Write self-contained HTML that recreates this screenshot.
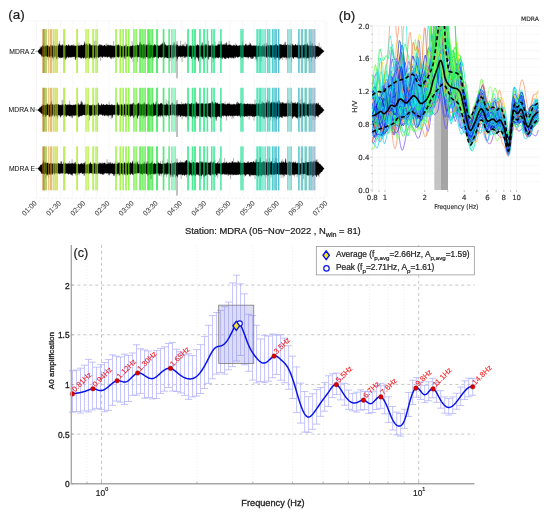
<!DOCTYPE html>
<html><head><meta charset="utf-8"><title>HVSR figure</title>
<style>html,body{margin:0;padding:0;background:#fff;width:550px;height:512px;overflow:hidden}svg{display:block}</style>
</head><body>
<svg width="550" height="512" viewBox="0 0 550 512">
<rect width="550" height="512" fill="#fff"/>
<text x="8.2" y="18.9" font-family="'Liberation Sans', Arial, sans-serif" font-size="13.5" fill="#222" stroke="#222" stroke-width="0.22">(a)</text>
<g stroke="#f2f2f2" stroke-width="0.6" fill="none">
<path d="M25,21.1 H324.7 V198"/>
<path d="M36.5,21 V197"/>
<path d="M48.6,21 V197"/>
<path d="M60.7,21 V197"/>
<path d="M72.8,21 V197"/>
<path d="M84.9,21 V197"/>
<path d="M97,21 V197"/>
<path d="M109.1,21 V197"/>
<path d="M121.2,21 V197"/>
<path d="M133.3,21 V197"/>
<path d="M145.4,21 V197"/>
<path d="M157.5,21 V197"/>
<path d="M169.6,21 V197"/>
<path d="M181.7,21 V197"/>
<path d="M193.8,21 V197"/>
<path d="M205.9,21 V197"/>
<path d="M218,21 V197"/>
<path d="M230.1,21 V197"/>
<path d="M242.2,21 V197"/>
<path d="M254.3,21 V197"/>
<path d="M266.4,21 V197"/>
<path d="M278.5,21 V197"/>
<path d="M290.6,21 V197"/>
<path d="M302.7,21 V197"/>
<path d="M314.8,21 V197"/>
<path d="M326.9,21 V197"/>
</g>
<path d="M35.7,198 H325.5" stroke="#c8c8c8" stroke-width="0.8" stroke-dasharray="0.8,3.2" fill="none"/>
<path d="M37.6,51.3 38.1,50.78 38.6,50.28 39.1,49.62 39.6,49.22 40.1,48.5 40.6,48.44 41.1,47.25 41.6,47.27 42.1,46.71 42.6,45.29 43.1,46.3 43.6,46.54 44.1,45.9 44.6,46.66 45.1,46.15 45.6,45.65 46.1,46.39 46.6,45.25 47.1,45.75 47.6,45.31 48.1,46.6 48.6,45.77 49.1,46.56 49.6,46.64 50.1,46.6 50.6,44.71 51.1,46.28 51.6,44.86 52.1,46.57 52.6,45.38 53.1,46.21 53.6,45.76 54.1,45.86 54.6,45.61 55.1,45.79 55.6,46.41 56.1,45.64 56.6,45.87 57.1,46.25 57.6,46.22 58.1,46.23 58.6,45.17 59.1,43.4 59.6,45 60.1,44.81 60.6,45.41 61.1,46.07 61.6,45.59 62.1,44.35 62.6,45.47 63.1,45.07 63.6,46.09 64.1,45.64 64.6,46 65.1,45.56 65.6,46.13 66.1,45.6 66.6,44.93 67.1,45.62 67.6,46.06 68.1,45.84 68.6,44.41 69.1,45.23 69.6,45.78 70.1,46.13 70.6,45.52 71.1,45.31 71.6,45.15 72.1,45.62 72.6,45.74 73.1,44.55 73.6,45.89 74.1,46.2 74.6,45.16 75.1,45.64 75.6,45.94 76.1,45.88 76.6,45.96 77.1,44.77 77.6,45.73 78.1,45.81 78.6,45.73 79.1,45.9 79.6,45.79 80.1,44.89 80.6,45.89 81.1,45.44 81.6,44.7 82.1,45.16 82.6,45.73 83.1,45.07 83.6,45.36 84.1,44.62 84.6,42.45 85.1,45.04 85.6,44.31 86.1,45.24 86.6,43.88 87.1,43.52 87.6,45.26 88.1,44.67 88.6,45.41 89.1,43.34 89.6,44.77 90.1,43.85 90.6,45.44 91.1,45.18 91.6,45.53 92.1,45.53 92.6,45.08 93.1,45.3 93.6,44.85 94.1,45.8 94.6,45.89 95.1,44.97 95.6,45.76 96.1,45.25 96.6,45.19 97.1,45.94 97.6,46.08 98.1,45.66 98.6,46.12 99.1,44.49 99.6,45.29 100.1,45.99 100.6,44.47 101.1,45.61 101.6,44.85 102.1,45.72 102.6,45.66 103.1,45.72 103.6,46.28 104.1,45.07 104.6,45.31 105.1,45.14 105.6,46.32 106.1,46.13 106.6,46.22 107.1,45.49 107.6,45.37 108.1,45.84 108.6,44.76 109.1,45.59 109.6,45.72 110.1,45.12 110.6,45.13 111.1,46.1 111.6,45.36 112.1,46.2 112.6,45.59 113.1,45.92 113.6,45.71 114.1,46.2 114.6,45.88 115.1,45.96 115.6,45.01 116.1,45.54 116.6,44.81 117.1,45.7 117.6,45.39 118.1,44.37 118.6,45.14 119.1,45.13 119.6,46.23 120.1,45.9 120.6,44.98 121.1,45.88 121.6,46.51 122.1,46.5 122.6,45.96 123.1,46.24 123.6,46.19 124.1,46.54 124.6,45.78 125.1,45.71 125.6,45.63 126.1,44.2 126.6,46.48 127.1,46.69 127.6,46.36 128.1,46.3 128.6,46.19 129.1,46.44 129.6,46.54 130.1,46.63 130.6,45.65 131.1,46.03 131.6,46.24 132.1,46.05 132.6,45.32 133.1,45.63 133.6,45.57 134.1,46.23 134.6,45.84 135.1,45.58 135.6,45.48 136.1,45.35 136.6,45.72 137.1,44.7 137.6,44.9 138.1,45.2 138.6,45.5 139.1,45.11 139.6,44.12 140.1,41.72 140.6,44.75 141.1,44.2 141.6,45.01 142.1,44.8 142.6,45.76 143.1,44.95 143.6,44.16 144.1,43.71 144.6,45.51 145.1,45.72 145.6,45.54 146.1,45.75 146.6,44.97 147.1,44.36 147.6,45.67 148.1,44.92 148.6,44.31 149.1,45.41 149.6,45.85 150.1,45.55 150.6,45.02 151.1,45.36 151.6,45.06 152.1,45.18 152.6,45.84 153.1,45.31 153.6,45.71 154.1,45.74 154.6,44.19 155.1,44.78 155.6,45.24 156.1,45.97 156.6,46.03 157.1,44.7 157.6,45.6 158.1,45.33 158.6,45.92 159.1,45.91 159.6,45.69 160.1,44.86 160.6,45.9 161.1,43.82 161.6,45.22 162.1,43.99 162.6,42.73 163.1,45.31 163.6,44.52 164.1,45.74 164.6,42.12 165.1,44.85 165.6,44.65 166.1,45.59 166.6,45.69 167.1,45.69 167.6,45.71 168.1,44.97 168.6,45.23 169.1,45.57 169.6,44.79 170.1,45.33 170.6,45.19 171.1,44.84 171.6,44.71 172.1,45.81 172.6,45.97 173.1,44.8 173.6,44.49 174.1,42.02 174.6,45.73 175.1,45.51 175.6,45.91 176.1,44 176.6,46.11 177.1,44.99 177.6,44.82 178.1,45.55 178.6,46.27 179.1,46.38 179.6,45.58 180.1,46.32 180.6,45.46 181.1,45.4 181.6,46.21 182.1,46.36 182.6,45.22 183.1,44.18 183.6,45.92 184.1,45.96 184.6,46.15 185.1,46.59 185.6,46.49 186.1,46.45 186.6,43.77 187.1,46.57 187.6,44.16 188.1,46.1 188.6,46.49 189.1,46.02 189.6,45.94 190.1,45.09 190.6,45.99 191.1,46.33 191.6,46.06 192.1,45.37 192.6,46.25 193.1,45.52 193.6,45.92 194.1,46.05 194.6,46.03 195.1,46.12 195.6,44.79 196.1,45.99 196.6,45.43 197.1,45.4 197.6,44.37 198.1,45.67 198.6,44.83 199.1,45.92 199.6,45.68 200.1,46.05 200.6,46.23 201.1,45.37 201.6,45.86 202.1,42.17 202.6,46.07 203.1,46.13 203.6,45.41 204.1,46.06 204.6,45.27 205.1,45.4 205.6,45.26 206.1,44.1 206.6,45.44 207.1,45.06 207.6,46.15 208.1,45.89 208.6,44.67 209.1,46.17 209.6,45.81 210.1,45.13 210.6,46.25 211.1,44.96 211.6,45.38 212.1,44.3 212.6,45.4 213.1,45.67 213.6,45.82 214.1,45.86 214.6,45.81 215.1,45.69 215.6,45.64 216.1,45.84 216.6,45.64 217.1,45.72 217.6,45.27 218.1,43.91 218.6,45.11 219.1,45.6 219.6,43.96 220.1,45.21 220.6,43.63 221.1,41.26 221.6,44.68 222.1,44.82 222.6,45.37 223.1,43.8 223.6,45.15 224.1,44.84 224.6,44.9 225.1,43.29 225.6,45.35 226.1,44.81 226.6,42.17 227.1,45.58 227.6,45.49 228.1,44.57 228.6,45.62 229.1,44.66 229.6,44.74 230.1,44.83 230.6,44.86 231.1,45.47 231.6,45.47 232.1,45.87 232.6,45.67 233.1,45.75 233.6,44.91 234.1,44.81 234.6,45.43 235.1,46 235.6,46 236.1,45.32 236.6,44.69 237.1,45.54 237.6,46.09 238.1,45.9 238.6,45.92 239.1,45.34 239.6,46.06 240.1,45.17 240.6,45.41 241.1,45.51 241.6,45.8 242.1,44.51 242.6,44.99 243.1,45.64 243.6,44.96 244.1,45.8 244.6,45.86 245.1,45.1 245.6,43.82 246.1,45.94 246.6,44.65 247.1,45.5 247.6,45.94 248.1,44.57 248.6,45.74 249.1,45.2 249.6,44.97 250.1,45.15 250.6,43.16 251.1,45.21 251.6,45.72 252.1,45.78 252.6,46.17 253.1,45.77 253.6,45.55 254.1,46.04 254.6,45.45 255.1,45.26 255.6,46.36 256.1,45.69 256.6,45.19 257.1,46.5 257.6,46 258.1,45.76 258.6,45.9 259.1,46.2 259.6,45.44 260.1,46.04 260.6,46.38 261.1,46.52 261.6,46.11 262.1,46.25 262.6,45.03 263.1,46.24 263.6,46.68 264.1,43.85 264.6,46.61 265.1,46.63 265.6,45.87 266.1,45.89 266.6,46.56 267.1,45.15 267.6,45.99 268.1,45.59 268.6,44.93 269.1,46.36 269.6,45.42 270.1,45 270.6,45.33 271.1,45.58 271.6,45.19 272.1,45.81 272.6,45.38 273.1,45.41 273.6,45.49 274.1,45.29 274.6,45.55 275.1,45.02 275.6,44.76 276.1,44.15 276.6,44.09 277.1,45.53 277.6,45.59 278.1,45.78 278.6,45.65 279.1,45.76 279.6,43.98 280.1,44.81 280.6,44.33 281.1,44.86 281.6,44.56 282.1,45.14 282.6,45.08 283.1,44.97 283.6,44.58 284.1,45.57 284.6,44.63 285.1,41.72 285.6,45.47 286.1,44.98 286.6,45.03 287.1,45.01 287.6,44.19 288.1,44.64 288.6,45.13 289.1,44.76 289.6,45.28 290.1,45.66 290.6,45.23 291.1,44.28 291.6,45.64 292.1,45.96 292.6,43.77 293.1,45.87 293.6,44.9 294.1,45.86 294.6,45.86 295.1,44.66 295.6,44.08 296.1,45.69 296.6,45.06 297.1,45.71 297.6,45.16 298.1,45 298.6,45.64 299.1,44.66 299.6,45.06 300.1,45.54 300.6,45.38 301.1,45.44 301.6,44.89 302.1,44.67 302.6,45.37 303.1,45.07 303.6,45.39 304.1,45.63 304.6,44.32 305.1,45.6 305.6,44.39 306.1,45.13 306.6,45.47 307.1,43.8 307.6,45.74 308.1,45.72 308.6,45.76 309.1,45.55 309.6,45.65 310.1,45.15 310.6,45.84 311.1,45.64 311.6,46.1 312.1,43.04 312.6,46.06 313.1,46.19 313.6,46.23 314.1,46.02 314.6,45.96 315.1,45.06 315.6,46.1 316.1,46.31 316.6,46.3 317.1,46.24 317.6,46.03 318.1,46.44 318.6,46.57 319.1,47.13 319.6,47.68 320.1,47.36 320.6,48.3 321.1,48.45 321.6,48.96 322.1,49.62 322.6,49.73 323.1,50.31 323.6,50.82 324.1,51.19 L324.1,51.38 323.6,51.85 323.1,52.31 322.6,52.6 322.1,52.94 321.6,53.47 321.1,54.16 320.6,54.35 320.1,55.48 319.6,55.68 319.1,55.81 318.6,56.74 318.1,56.74 317.6,56.21 317.1,56.13 316.6,56.7 316.1,56.4 315.6,59.19 315.1,57.03 314.6,57.49 314.1,56.85 313.6,56.8 313.1,56.35 312.6,57.57 312.1,57.66 311.6,57.23 311.1,57.42 310.6,56.9 310.1,57.22 309.6,56.91 309.1,58.6 308.6,57.82 308.1,57.5 307.6,57.77 307.1,57.97 306.6,58.66 306.1,57.57 305.6,57.59 305.1,57.02 304.6,57.11 304.1,58.84 303.6,57.11 303.1,57.78 302.6,57.95 302.1,57.57 301.6,57.79 301.1,57.1 300.6,58.36 300.1,57.95 299.6,57.9 299.1,59.14 298.6,58.34 298.1,58.85 297.6,57.52 297.1,57.23 296.6,56.95 296.1,57.61 295.6,56.9 295.1,57.27 294.6,57.02 294.1,57.04 293.6,58.43 293.1,58.43 292.6,57.26 292.1,56.82 291.6,56.85 291.1,57.6 290.6,56.81 290.1,57.44 289.6,57.48 289.1,58.92 288.6,57.01 288.1,57.87 287.6,57.86 287.1,57.64 286.6,57.56 286.1,57.44 285.6,57.39 285.1,56.98 284.6,57.32 284.1,58.01 283.6,56.8 283.1,57.31 282.6,56.8 282.1,57.48 281.6,57.46 281.1,58.38 280.6,58.14 280.1,58.34 279.6,57.1 279.1,60.37 278.6,58.57 278.1,56.94 277.6,57.63 277.1,57.02 276.6,58.08 276.1,56.89 275.6,56.71 275.1,59.77 274.6,57.69 274.1,57.34 273.6,57.22 273.1,56.76 272.6,56.74 272.1,57.74 271.6,57.72 271.1,56.8 270.6,56.92 270.1,56.61 269.6,57.84 269.1,57.02 268.6,56.39 268.1,56.33 267.6,57.14 267.1,57.6 266.6,57.47 266.1,56.43 265.6,56.64 265.1,56.32 264.6,57.13 264.1,56.27 263.6,56.33 263.1,56.37 262.6,56.25 262.1,56.91 261.6,56.8 261.1,55.94 260.6,56.28 260.1,56.5 259.6,56.71 259.1,56.56 258.6,56.95 258.1,56.26 257.6,56.83 257.1,57.4 256.6,56.96 256.1,59.64 255.6,56.75 255.1,56.53 254.6,56.48 254.1,56.36 253.6,56.78 253.1,58.55 252.6,57.33 252.1,59.02 251.6,56.47 251.1,58.98 250.6,57.09 250.1,57.54 249.6,56.87 249.1,56.65 248.6,57.21 248.1,57.94 247.6,56.73 247.1,57.02 246.6,57.41 246.1,56.76 245.6,57.16 245.1,56.91 244.6,56.67 244.1,57.14 243.6,56.53 243.1,57.28 242.6,57.46 242.1,57.63 241.6,57.46 241.1,57.19 240.6,56.39 240.1,56.43 239.6,56.62 239.1,56.81 238.6,57.27 238.1,56.41 237.6,57.76 237.1,56.89 236.6,56.39 236.1,56.69 235.6,58.12 235.1,56.56 234.6,56.57 234.1,58.47 233.6,57.17 233.1,58.46 232.6,57.72 232.1,57.11 231.6,57.18 231.1,58.56 230.6,57.04 230.1,57.76 229.6,57.08 229.1,57.73 228.6,58.54 228.1,57.92 227.6,58.07 227.1,57.32 226.6,57.59 226.1,58.56 225.6,58.38 225.1,58.93 224.6,58.46 224.1,58.09 223.6,57.74 223.1,57.1 222.6,57.19 222.1,58.81 221.6,57.12 221.1,58.23 220.6,57.76 220.1,57.36 219.6,56.98 219.1,57.6 218.6,58.33 218.1,57.38 217.6,57.17 217.1,58.12 216.6,57 216.1,57.62 215.6,58.42 215.1,56.65 214.6,57.94 214.1,57 213.6,59.03 213.1,57.2 212.6,57.21 212.1,57.89 211.6,56.77 211.1,56.83 210.6,56.66 210.1,56.96 209.6,57.18 209.1,56.35 208.6,59.7 208.1,56.36 207.6,58.05 207.1,56.64 206.6,56.36 206.1,56.93 205.6,58.28 205.1,56.81 204.6,56.56 204.1,57.44 203.6,59.64 203.1,57.45 202.6,57.13 202.1,59.46 201.6,56.71 201.1,56.35 200.6,56.53 200.1,56.92 199.6,57.5 199.1,56.66 198.6,60.84 198.1,57.28 197.6,57.35 197.1,57.98 196.6,56.62 196.1,57.39 195.6,57.56 195.1,59.99 194.6,56.58 194.1,56.69 193.6,56.97 193.1,56.38 192.6,57.7 192.1,56.83 191.6,59.19 191.1,57.39 190.6,56.61 190.1,56.61 189.6,56.78 189.1,56.84 188.6,56.2 188.1,56.32 187.6,56.31 187.1,56.7 186.6,56.99 186.1,56.04 185.6,56.48 185.1,57.61 184.6,55.99 184.1,58.08 183.6,56.03 183.1,56.11 182.6,56.95 182.1,56 181.6,56.38 181.1,57.07 180.6,57.47 180.1,56.4 179.6,56.62 179.1,56.07 178.6,57.03 178.1,56.69 177.6,57.67 177.1,59.33 176.6,56.31 176.1,56.61 175.6,57.08 175.1,56.96 174.6,56.51 174.1,57.11 173.6,57.38 173.1,57.7 172.6,57.81 172.1,56.69 171.6,58.19 171.1,57.2 170.6,57.36 170.1,57.91 169.6,57.51 169.1,58.19 168.6,58.33 168.1,57.61 167.6,57.92 167.1,58.04 166.6,57.82 166.1,57.01 165.6,57.13 165.1,57.42 164.6,58.33 164.1,57.05 163.6,57.15 163.1,56.94 162.6,56.86 162.1,57.4 161.6,57.71 161.1,56.84 160.6,57.57 160.1,57.12 159.6,57.03 159.1,56.73 158.6,58.39 158.1,57.99 157.6,57.06 157.1,57.25 156.6,56.91 156.1,57.18 155.6,56.86 155.1,56.64 154.6,56.67 154.1,57.83 153.6,56.88 153.1,57.59 152.6,57.74 152.1,57.45 151.6,56.67 151.1,56.94 150.6,58.35 150.1,57.61 149.6,58.61 149.1,57.55 148.6,58.73 148.1,56.77 147.6,58.12 147.1,57.08 146.6,57.09 146.1,56.9 145.6,57.14 145.1,58.96 144.6,56.89 144.1,57.28 143.6,58.13 143.1,58.78 142.6,57.42 142.1,56.93 141.6,57.35 141.1,58.01 140.6,57.24 140.1,57.58 139.6,57.03 139.1,56.93 138.6,56.78 138.1,56.71 137.6,57.58 137.1,56.51 136.6,56.55 136.1,56.48 135.6,56.59 135.1,57.05 134.6,56.74 134.1,57.47 133.6,57.07 133.1,56.38 132.6,57.37 132.1,57.2 131.6,59 131.1,56.46 130.6,56.47 130.1,57.85 129.6,56.15 129.1,55.93 128.6,56.72 128.1,56.13 127.6,56.37 127.1,56.44 126.6,57.33 126.1,56.43 125.6,56.18 125.1,59.36 124.6,56.68 124.1,56.11 123.6,57.73 123.1,56.25 122.6,56.61 122.1,57.1 121.6,56.33 121.1,57.81 120.6,56.34 120.1,56.23 119.6,57.03 119.1,56.31 118.6,57.75 118.1,56.71 117.6,57.16 117.1,56.51 116.6,56.54 116.1,56.7 115.6,56.81 115.1,57.01 114.6,57.14 114.1,57.46 113.6,56.4 113.1,58.47 112.6,56.67 112.1,57.29 111.6,57.34 111.1,59.16 110.6,57.74 110.1,57.26 109.6,57.27 109.1,56.37 108.6,57.15 108.1,56.6 107.6,57.3 107.1,57.45 106.6,56.81 106.1,56.39 105.6,56.73 105.1,57.27 104.6,56.47 104.1,56.44 103.6,56.55 103.1,56.58 102.6,57.98 102.1,56.71 101.6,57.08 101.1,56.26 100.6,56.42 100.1,56.84 99.6,56.82 99.1,57.41 98.6,57.38 98.1,57.47 97.6,57.11 97.1,57.22 96.6,56.85 96.1,58.63 95.6,56.7 95.1,56.94 94.6,58.47 94.1,57.07 93.6,57.49 93.1,57.88 92.6,57.56 92.1,57.86 91.6,57.35 91.1,58.33 90.6,57.15 90.1,57.22 89.6,57.86 89.1,58.86 88.6,58.57 88.1,57.1 87.6,57.71 87.1,58.1 86.6,58.21 86.1,57.77 85.6,59.3 85.1,57.35 84.6,57.32 84.1,58.08 83.6,58.21 83.1,58.25 82.6,57.14 82.1,57.51 81.6,57.76 81.1,58.8 80.6,57.71 80.1,57.54 79.6,57.51 79.1,57.1 78.6,57.5 78.1,56.93 77.6,57.3 77.1,56.82 76.6,57.83 76.1,57.03 75.6,60.1 75.1,56.44 74.6,56.59 74.1,56.98 73.6,56.64 73.1,57.26 72.6,56.41 72.1,57.18 71.6,56.96 71.1,56.72 70.6,57.5 70.1,56.63 69.6,57.38 69.1,56.75 68.6,57.93 68.1,57.05 67.6,56.93 67.1,56.44 66.6,58.43 66.1,57 65.6,59.65 65.1,57.7 64.6,57.68 64.1,56.59 63.6,57.23 63.1,57.49 62.6,57.19 62.1,57.44 61.6,57.49 61.1,57.98 60.6,57.05 60.1,57.95 59.6,57.45 59.1,57.27 58.6,56.58 58.1,56.94 57.6,57.02 57.1,58.22 56.6,59.21 56.1,56.99 55.6,56.85 55.1,56.33 54.6,56.68 54.1,57.61 53.6,58.79 53.1,56.54 52.6,56.52 52.1,57.88 51.6,55.98 51.1,56.5 50.6,56.39 50.1,55.93 49.6,57.6 49.1,56.05 48.6,56.1 48.1,57.37 47.6,56.86 47.1,56.44 46.6,56.06 46.1,56.59 45.6,55.94 45.1,56.02 44.6,57.08 44.1,56.02 43.6,57 43.1,57.03 42.6,55.97 42.1,56.21 41.6,55.24 41.1,55.17 40.6,54.3 40.1,54.01 39.6,53.39 39.1,53.67 38.6,52.63 38.1,51.83 37.6,51.3 Z" fill="#000" stroke="#000" stroke-width="0.25"/>
<path d="M38.6,51.6 L39.1,49.23 L39.6,53.53 L40.1,46.75 L40.6,48.52 L41.1,45.89 L41.6,57.35 L42.1,45.95 L42.6,51.83 L43.1,48.73 L43.6,42.66 L44.1,49.68 L44.6,54.48 L45.1,50.42 L45.6,55.82 L46.1,49.56 L46.6,51.33 L47.1,49.45 L47.6,52.95 L48.1,60.41 L48.6,53.04 L49.1,52.23 L49.6,48.33 L50.1,47.67 L50.6,58.33 L51.1,45.96 L51.6,46.92 L52.1,50.83 L52.6,49.25 L53.1,60.69 L53.6,40.8 L54.1,53.03 L54.6,54.72 L55.1,45.92 L55.6,48.21 L56.1,53.38 L56.6,59.12 L57.1,46.88 L57.6,43.72 L58.1,55.97 L58.6,58.61 L59.1,49.69 L59.6,40.8 L60.1,58.27 L60.6,50.35 L61.1,56.69 L61.6,51.09 L62.1,49.5 L62.6,49.13 L63.1,58.37 L63.6,58.19 L64.1,41.04 L64.6,46.81 L65.1,59.83 L65.6,49.54 L66.1,44.77 L66.6,51.32 L67.1,50.78 L67.6,50.83 L68.1,49 L68.6,49.81 L69.1,49.11 L69.6,52.9 L70.1,47.4 L70.6,49.91 L71.1,50.61 L71.6,57.57 L72.1,53.09 L72.6,50.77 L73.1,53.87 L73.6,53.25 L74.1,56.52 L74.6,53.73 L75.1,59.91 L75.6,57.75 L76.1,51.1 L76.6,49.31 L77.1,55.54 L77.6,53.78 L78.1,50.85 L78.6,44.21 L79.1,42.5 L79.6,52.97 L80.1,55 L80.6,55.16 L81.1,45.12 L81.6,56.28 L82.1,48.74 L82.6,53.16 L83.1,53.3 L83.6,47.45 L84.1,48.46 L84.6,41.35 L85.1,46.9 L85.6,42.65 L86.1,53.4 L86.6,51.59 L87.1,55.69 L87.6,53.01 L88.1,48.25 L88.6,52.96 L89.1,49.43 L89.6,54.22 L90.1,52.81 L90.6,46.55 L91.1,51.31 L91.6,51.57 L92.1,49.82 L92.6,55.6 L93.1,59.52 L93.6,49.53 L94.1,49.62 L94.6,40.8 L95.1,50.68 L95.6,49.21 L96.1,40.93 L96.6,52.68 L97.1,54.14 L97.6,47.78 L98.1,49.51 L98.6,46.66 L99.1,54.96 L99.6,44.02 L100.1,49.8 L100.6,60.67 L101.1,51.55 L101.6,53.55 L102.1,50.6 L102.6,45.66 L103.1,51.14 L103.6,53.25 L104.1,46.39 L104.6,52.94 L105.1,57.28 L105.6,56.43 L106.1,43.7 L106.6,46.62 L107.1,43.55 L107.6,56.44 L108.1,54.23 L108.6,54.68 L109.1,47.08 L109.6,45.7 L110.1,51.67 L110.6,51.78 L111.1,47.2 L111.6,51.98 L112.1,54.39 L112.6,52.39 L113.1,46.31 L113.6,41.16 L114.1,50.06 L114.6,52.09 L115.1,50.05 L115.6,49.24 L116.1,47.98 L116.6,54.74 L117.1,51.05 L117.6,51.89 L118.1,46.64 L118.6,48.32 L119.1,52.09 L119.6,46.47 L120.1,45.26 L120.6,49.72 L121.1,57.06 L121.6,52.22 L122.1,58.31 L122.6,50.67 L123.1,49.81 L123.6,44.62 L124.1,48.53 L124.6,58.19 L125.1,52.87 L125.6,54.82 L126.1,54.68 L126.6,51.25 L127.1,50.32 L127.6,51.87 L128.1,54.52 L128.6,53.5 L129.1,53.66 L129.6,52.04 L130.1,47.6 L130.6,50.04 L131.1,46.78 L131.6,56.12 L132.1,41.21 L132.6,50.25 L133.1,61.8 L133.6,49.66 L134.1,45.85 L134.6,51.21 L135.1,57.49 L135.6,50.53 L136.1,54.24 L136.6,51.78 L137.1,49.51 L137.6,61.8 L138.1,51.64 L138.6,48.72 L139.1,48.95 L139.6,53.13 L140.1,53.26 L140.6,55.01 L141.1,51.98 L141.6,44.43 L142.1,53.85 L142.6,49.82 L143.1,49.93 L143.6,44.18 L144.1,48.55 L144.6,47.81 L145.1,51.12 L145.6,44.32 L146.1,51.54 L146.6,51.9 L147.1,45.93 L147.6,48.3 L148.1,47.18 L148.6,55.66 L149.1,40.8 L149.6,49.65 L150.1,43.33 L150.6,49.23 L151.1,55.36 L151.6,48.27 L152.1,51.96 L152.6,47.25 L153.1,60.61 L153.6,55.68 L154.1,56.71 L154.6,44.92 L155.1,46.01 L155.6,56.48 L156.1,50.37 L156.6,50.06 L157.1,52.9 L157.6,45.28 L158.1,55.01 L158.6,51.39 L159.1,53.6 L159.6,48.08 L160.1,53.76 L160.6,47.92 L161.1,55.88 L161.6,56.72 L162.1,55.68 L162.6,53.78 L163.1,54.34 L163.6,40.8 L164.1,55.31 L164.6,49.98 L165.1,51.76 L165.6,49.94 L166.1,44.62 L166.6,48.71 L167.1,54.46 L167.6,58.1 L168.1,48.31 L168.6,46.96 L169.1,58.27 L169.6,47.06 L170.1,61.25 L170.6,51.54 L171.1,47.06 L171.6,56.02 L172.1,59.43 L172.6,44.41 L173.1,58.78 L173.6,49.95 L174.1,58.43 L174.6,49.47 L175.1,43.73 L175.6,53.71 L176.1,55.75 L176.6,61.36 L177.1,59.57 L177.6,54.64 L178.1,50.16 L178.6,48.8 L179.1,49.88 L179.6,47.31 L180.1,49.98 L180.6,40.8 L181.1,52.16 L181.6,51.16 L182.1,61.8 L182.6,54.94 L183.1,48.99 L183.6,54.01 L184.1,45.42 L184.6,48.41 L185.1,42.34 L185.6,58.19 L186.1,54.15 L186.6,45.66 L187.1,51.01 L187.6,55.86 L188.1,53.68 L188.6,53.13 L189.1,47.18 L189.6,48.24 L190.1,51.76 L190.6,55.72 L191.1,47.32 L191.6,45.92 L192.1,56.79 L192.6,46.83 L193.1,56.47 L193.6,52.47 L194.1,55.53 L194.6,59.67 L195.1,54.61 L195.6,55.02 L196.1,46.89 L196.6,47.96 L197.1,54.39 L197.6,58.66 L198.1,57.98 L198.6,61.8 L199.1,52.79 L199.6,52.27 L200.1,56.13 L200.6,51.39 L201.1,51 L201.6,46.27 L202.1,56.06 L202.6,46.15 L203.1,53.76 L203.6,44.49 L204.1,56.56 L204.6,46.36 L205.1,55.35 L205.6,43.67 L206.1,49.19 L206.6,56.96 L207.1,47.43 L207.6,51.62 L208.1,49 L208.6,40.8 L209.1,52.78 L209.6,53.37 L210.1,45.98 L210.6,54.05 L211.1,47.48 L211.6,46.48 L212.1,51.33 L212.6,48.03 L213.1,61.8 L213.6,43.84 L214.1,54.84 L214.6,56.05 L215.1,41.8 L215.6,42.98 L216.1,54 L216.6,48.99 L217.1,53.14 L217.6,56.77 L218.1,49.51 L218.6,46.19 L219.1,40.8 L219.6,52.28 L220.1,46.84 L220.6,52.8 L221.1,52.41 L221.6,44.65 L222.1,59.57 L222.6,56.5 L223.1,55.37 L223.6,45.61 L224.1,49.34 L224.6,48.67 L225.1,49.31 L225.6,45.9 L226.1,53.39 L226.6,52.4 L227.1,53.05 L227.6,48.87 L228.1,57.5 L228.6,52.2 L229.1,40.8 L229.6,48.23 L230.1,51.03 L230.6,55.93 L231.1,49.86 L231.6,50.1 L232.1,48.12 L232.6,54.49 L233.1,49.15 L233.6,48.4 L234.1,47.74 L234.6,53.97 L235.1,48.74 L235.6,43.26 L236.1,54.29 L236.6,47.93 L237.1,53.01 L237.6,53.09 L238.1,57.08 L238.6,56.31 L239.1,48.54 L239.6,50.5 L240.1,45.11 L240.6,59.35 L241.1,53.42 L241.6,57.99 L242.1,49.77 L242.6,41.46 L243.1,58.65 L243.6,51.75 L244.1,51.94 L244.6,51.57 L245.1,54.39 L245.6,53.86 L246.1,43.67 L246.6,56.52 L247.1,48.76 L247.6,49.06 L248.1,59.59 L248.6,55.72 L249.1,49.68 L249.6,42.39 L250.1,52.08 L250.6,53.89 L251.1,50.91 L251.6,45.32 L252.1,47.5 L252.6,45.27 L253.1,52.33 L253.6,55.23 L254.1,56.22 L254.6,47.79 L255.1,52.43 L255.6,53.96 L256.1,48.85 L256.6,50.59 L257.1,61.49 L257.6,52.28 L258.1,55.54 L258.6,49.21 L259.1,51.5 L259.6,43.07 L260.1,51.18 L260.6,57.02 L261.1,61.37 L261.6,57.04 L262.1,54.6 L262.6,51.55 L263.1,48.42 L263.6,50.53 L264.1,54.24 L264.6,47.53 L265.1,55.78 L265.6,46.58 L266.1,42.76 L266.6,46.44 L267.1,43.31 L267.6,44.71 L268.1,56.73 L268.6,50.34 L269.1,52.35 L269.6,56.86 L270.1,57.34 L270.6,48.88 L271.1,57.68 L271.6,53.15 L272.1,51.32 L272.6,53.42 L273.1,44.46 L273.6,47.53 L274.1,50.78 L274.6,54.23 L275.1,49.51 L275.6,50.69 L276.1,55.95 L276.6,58.08 L277.1,54.98 L277.6,57.39 L278.1,49.36 L278.6,49.83 L279.1,52.83 L279.6,49.85 L280.1,48.87 L280.6,59.23 L281.1,50.33 L281.6,46.66 L282.1,53.64 L282.6,60.11 L283.1,51.69 L283.6,57.21 L284.1,49.2 L284.6,48.94 L285.1,47.99 L285.6,50.61 L286.1,60.11 L286.6,45.75 L287.1,59.16 L287.6,46.46 L288.1,50.18 L288.6,55.31 L289.1,54.33 L289.6,52.65 L290.1,43.38 L290.6,53.04 L291.1,46.39 L291.6,61.8 L292.1,50.28 L292.6,52.21 L293.1,45.8 L293.6,49 L294.1,45.1 L294.6,56.01 L295.1,50.04 L295.6,54 L296.1,48.01 L296.6,48.89 L297.1,57.48 L297.6,46.64 L298.1,42.65 L298.6,53.25 L299.1,45.82 L299.6,49.19 L300.1,55.68 L300.6,47.37 L301.1,55.52 L301.6,48.03 L302.1,58.46 L302.6,57.66 L303.1,49.04 L303.6,50.28 L304.1,47.31 L304.6,52.26 L305.1,56.82 L305.6,44.36 L306.1,55.7 L306.6,44.95 L307.1,47.17 L307.6,42.72 L308.1,61.4 L308.6,51.58 L309.1,52.47 L309.6,48.05 L310.1,56.42 L310.6,41.2 L311.1,51.43 L311.6,61.8 L312.1,49.47 L312.6,51.38 L313.1,54.53 L313.6,47.41 L314.1,51.41 L314.6,55.91 L315.1,52.23 L315.6,53.08 L316.1,49.62 L316.6,52.81 L317.1,51.57 L317.6,58.28 L318.1,54.72 L318.6,50.24 L319.1,42.66 L319.6,53.85 L320.1,53.7 L320.6,48.74 L321.1,46.5 L321.6,49 L322.1,52.81 L322.6,49.98 L323.1,50.91" fill="none" stroke="#000" stroke-width="0.3" stroke-opacity="0.55"/>
<path d="M177,41.3 V78.3" stroke="#333" stroke-width="0.6"/>
<rect x="42.4" y="29.099999999999998" width="0.5" height="43.9" fill="#cd8521" fill-opacity="0.5"/>
<path d="M42.52,29.1V73M42.77,29.1V73" stroke="#cd8521" stroke-opacity="0.45" stroke-width="0.25"/>
<rect x="42.9" y="29.099999999999998" width="1.2" height="43.9" fill="#de3b00" fill-opacity="0.5"/>
<path d="M43.2,29.1V73M43.8,29.1V73" stroke="#de3b00" stroke-opacity="0.45" stroke-width="0.6"/>
<rect x="44.1" y="29.099999999999998" width="2.6" height="43.9" fill="#85a205" fill-opacity="0.5"/>
<path d="M44.5,29.1V73M46.3,29.1V73" stroke="#85a205" stroke-opacity="0.45" stroke-width="0.8"/>
<rect x="48.1" y="29.099999999999998" width="0.8" height="43.9" fill="#dba22f" fill-opacity="0.5"/>
<path d="M48.3,29.1V73M48.7,29.1V73" stroke="#dba22f" stroke-opacity="0.45" stroke-width="0.4"/>
<rect x="49.8" y="29.099999999999998" width="2.4" height="43.9" fill="#de9321" fill-opacity="0.5"/>
<path d="M50.2,29.1V73M51.8,29.1V73" stroke="#de9321" stroke-opacity="0.45" stroke-width="0.8"/>
<rect x="53" y="29.099999999999998" width="3" height="43.9" fill="#b0de2f" fill-opacity="0.5"/>
<path d="M53.4,29.1V73M55.6,29.1V73" stroke="#b0de2f" stroke-opacity="0.45" stroke-width="0.8"/>
<rect x="56.2" y="29.099999999999998" width="1.7" height="43.9" fill="#cad813" fill-opacity="0.5"/>
<path d="M56.6,29.1V73M57.5,29.1V73" stroke="#cad813" stroke-opacity="0.45" stroke-width="0.8"/>
<rect x="63.2" y="29.099999999999998" width="2.1" height="43.9" fill="#a2de05" fill-opacity="0.5"/>
<path d="M63.6,29.1V73M64.9,29.1V73" stroke="#a2de05" stroke-opacity="0.45" stroke-width="0.8"/>
<rect x="76.3" y="29.099999999999998" width="1.7" height="43.9" fill="#a2e305" fill-opacity="0.5"/>
<path d="M76.7,29.1V73M77.6,29.1V73" stroke="#a2e305" stroke-opacity="0.45" stroke-width="0.8"/>
<rect x="85.4" y="29.099999999999998" width="3.5" height="43.9" fill="#a9ec21" fill-opacity="0.5"/>
<path d="M85.8,29.1V73M88.5,29.1V73" stroke="#a9ec21" stroke-opacity="0.45" stroke-width="0.8"/>
<rect x="92.3" y="29.099999999999998" width="1.8" height="43.9" fill="#9bec1a" fill-opacity="0.5"/>
<path d="M92.7,29.1V73M93.7,29.1V73" stroke="#9bec1a" stroke-opacity="0.45" stroke-width="0.8"/>
<rect x="95.3" y="29.099999999999998" width="2.7" height="43.9" fill="#9bec1a" fill-opacity="0.5"/>
<path d="M95.7,29.1V73M97.6,29.1V73" stroke="#9bec1a" stroke-opacity="0.45" stroke-width="0.8"/>
<rect x="115.2" y="29.099999999999998" width="1.6" height="43.9" fill="#85f213" fill-opacity="0.5"/>
<path d="M115.6,29.1V73M116.4,29.1V73" stroke="#85f213" stroke-opacity="0.45" stroke-width="0.8"/>
<rect x="119.5" y="29.099999999999998" width="1.5" height="43.9" fill="#85f213" fill-opacity="0.5"/>
<path d="M119.88,29.1V73M120.62,29.1V73" stroke="#85f213" stroke-opacity="0.45" stroke-width="0.75"/>
<rect x="122.4" y="29.099999999999998" width="1.6" height="43.9" fill="#7ef213" fill-opacity="0.5"/>
<path d="M122.8,29.1V73M123.6,29.1V73" stroke="#7ef213" stroke-opacity="0.45" stroke-width="0.8"/>
<rect x="125.2" y="29.099999999999998" width="1.6" height="43.9" fill="#77f213" fill-opacity="0.5"/>
<path d="M125.6,29.1V73M126.4,29.1V73" stroke="#77f213" stroke-opacity="0.45" stroke-width="0.8"/>
<rect x="128" y="29.099999999999998" width="1.5" height="43.9" fill="#70f213" fill-opacity="0.5"/>
<path d="M128.38,29.1V73M129.12,29.1V73" stroke="#70f213" stroke-opacity="0.45" stroke-width="0.75"/>
<rect x="133.3" y="29.099999999999998" width="3.9" height="43.9" fill="#5aec21" fill-opacity="0.5"/>
<path d="M133.7,29.1V73M136.8,29.1V73" stroke="#5aec21" stroke-opacity="0.45" stroke-width="0.8"/>
<rect x="139.3" y="29.099999999999998" width="2.2" height="43.9" fill="#21e305" fill-opacity="0.5"/>
<path d="M139.7,29.1V73M141.1,29.1V73" stroke="#21e305" stroke-opacity="0.45" stroke-width="0.8"/>
<rect x="142.2" y="29.099999999999998" width="3.6" height="43.9" fill="#37e621" fill-opacity="0.5"/>
<path d="M142.6,29.1V73M145.4,29.1V73" stroke="#37e621" stroke-opacity="0.45" stroke-width="0.8"/>
<rect x="147.3" y="29.099999999999998" width="1.4" height="43.9" fill="#1ae305" fill-opacity="0.5"/>
<path d="M147.65,29.1V73M148.35,29.1V73" stroke="#1ae305" stroke-opacity="0.45" stroke-width="0.7"/>
<rect x="148.7" y="29.099999999999998" width="4.4" height="43.9" fill="#13e313" fill-opacity="0.5"/>
<path d="M149.1,29.1V73M152.7,29.1V73" stroke="#13e313" stroke-opacity="0.45" stroke-width="0.8"/>
<rect x="156" y="29.099999999999998" width="1.9" height="43.9" fill="#05e32f" fill-opacity="0.5"/>
<path d="M156.4,29.1V73M157.5,29.1V73" stroke="#05e32f" stroke-opacity="0.45" stroke-width="0.8"/>
<rect x="162.8" y="29.099999999999998" width="1.5" height="43.9" fill="#00e337" fill-opacity="0.5"/>
<path d="M163.18,29.1V73M163.93,29.1V73" stroke="#00e337" stroke-opacity="0.45" stroke-width="0.75"/>
<rect x="168.4" y="29.099999999999998" width="1.4" height="43.9" fill="#21e35a" fill-opacity="0.5"/>
<path d="M168.75,29.1V73M169.45,29.1V73" stroke="#21e35a" stroke-opacity="0.45" stroke-width="0.7"/>
<rect x="171.1" y="29.099999999999998" width="4.9" height="43.9" fill="#4cec93" fill-opacity="0.5"/>
<path d="M171.5,29.1V73M175.6,29.1V73" stroke="#4cec93" stroke-opacity="0.45" stroke-width="0.8"/>
<rect x="187.2" y="29.099999999999998" width="1.7" height="43.9" fill="#00e369" fill-opacity="0.5"/>
<path d="M187.6,29.1V73M188.5,29.1V73" stroke="#00e369" stroke-opacity="0.45" stroke-width="0.8"/>
<rect x="191.8" y="29.099999999999998" width="1.5" height="43.9" fill="#00e369" fill-opacity="0.5"/>
<path d="M192.18,29.1V73M192.93,29.1V73" stroke="#00e369" stroke-opacity="0.45" stroke-width="0.75"/>
<rect x="194" y="29.099999999999998" width="1.9" height="43.9" fill="#00e369" fill-opacity="0.5"/>
<path d="M194.4,29.1V73M195.5,29.1V73" stroke="#00e369" stroke-opacity="0.45" stroke-width="0.8"/>
<rect x="199.1" y="29.099999999999998" width="1.7" height="43.9" fill="#00e370" fill-opacity="0.5"/>
<path d="M199.5,29.1V73M200.4,29.1V73" stroke="#00e370" stroke-opacity="0.45" stroke-width="0.8"/>
<rect x="203.2" y="29.099999999999998" width="1.7" height="43.9" fill="#00e374" fill-opacity="0.5"/>
<path d="M203.6,29.1V73M204.5,29.1V73" stroke="#00e374" stroke-opacity="0.45" stroke-width="0.8"/>
<rect x="206.7" y="29.099999999999998" width="1.4" height="43.9" fill="#00e374" fill-opacity="0.5"/>
<path d="M207.05,29.1V73M207.75,29.1V73" stroke="#00e374" stroke-opacity="0.45" stroke-width="0.7"/>
<rect x="211" y="29.099999999999998" width="1.5" height="43.9" fill="#00e177" fill-opacity="0.5"/>
<path d="M211.38,29.1V73M212.12,29.1V73" stroke="#00e177" stroke-opacity="0.45" stroke-width="0.75"/>
<rect x="213.3" y="29.099999999999998" width="1.5" height="43.9" fill="#00e17a" fill-opacity="0.5"/>
<path d="M213.68,29.1V73M214.43,29.1V73" stroke="#00e17a" stroke-opacity="0.45" stroke-width="0.75"/>
<rect x="220.2" y="29.099999999999998" width="1.4" height="43.9" fill="#00de7e" fill-opacity="0.5"/>
<path d="M220.55,29.1V73M221.25,29.1V73" stroke="#00de7e" stroke-opacity="0.45" stroke-width="0.7"/>
<rect x="240.4" y="29.099999999999998" width="3.1" height="43.9" fill="#00db88" fill-opacity="0.5"/>
<path d="M240.8,29.1V73M243.1,29.1V73" stroke="#00db88" stroke-opacity="0.45" stroke-width="0.8"/>
<rect x="256.4" y="29.099999999999998" width="1.9" height="43.9" fill="#00d89b" fill-opacity="0.5"/>
<path d="M256.8,29.1V73M257.9,29.1V73" stroke="#00d89b" stroke-opacity="0.45" stroke-width="0.8"/>
<rect x="258.8" y="29.099999999999998" width="2.2" height="43.9" fill="#00d89f" fill-opacity="0.5"/>
<path d="M259.2,29.1V73M260.6,29.1V73" stroke="#00d89f" stroke-opacity="0.45" stroke-width="0.8"/>
<rect x="261.3" y="29.099999999999998" width="4.6" height="43.9" fill="#2fdbb0" fill-opacity="0.5"/>
<path d="M261.7,29.1V73M265.5,29.1V73" stroke="#2fdbb0" stroke-opacity="0.45" stroke-width="0.8"/>
<rect x="267" y="29.099999999999998" width="3.3" height="43.9" fill="#00c7b0" fill-opacity="0.5"/>
<path d="M267.4,29.1V73M269.9,29.1V73" stroke="#00c7b0" stroke-opacity="0.45" stroke-width="0.8"/>
<rect x="271.9" y="29.099999999999998" width="1.7" height="43.9" fill="#00b9b3" fill-opacity="0.5"/>
<path d="M272.3,29.1V73M273.2,29.1V73" stroke="#00b9b3" stroke-opacity="0.45" stroke-width="0.8"/>
<rect x="274.4" y="29.099999999999998" width="2.4" height="43.9" fill="#00a2c1" fill-opacity="0.5"/>
<path d="M274.8,29.1V73M276.4,29.1V73" stroke="#00a2c1" stroke-opacity="0.45" stroke-width="0.8"/>
<rect x="278" y="29.099999999999998" width="1.3" height="43.9" fill="#00aab9" fill-opacity="0.5"/>
<path d="M278.32,29.1V73M278.98,29.1V73" stroke="#00aab9" stroke-opacity="0.45" stroke-width="0.65"/>
<rect x="287.1" y="29.099999999999998" width="4.9" height="43.9" fill="#4cc7be" fill-opacity="0.5"/>
<path d="M287.5,29.1V73M291.6,29.1V73" stroke="#4cc7be" stroke-opacity="0.45" stroke-width="0.8"/>
<rect x="298.1" y="29.099999999999998" width="1.6" height="43.9" fill="#2fb6b6" fill-opacity="0.5"/>
<path d="M298.5,29.1V73M299.3,29.1V73" stroke="#2fb6b6" stroke-opacity="0.45" stroke-width="0.8"/>
<rect x="300.9" y="29.099999999999998" width="2.1" height="43.9" fill="#2fb0b9" fill-opacity="0.5"/>
<path d="M301.3,29.1V73M302.6,29.1V73" stroke="#2fb0b9" stroke-opacity="0.45" stroke-width="0.8"/>
<rect x="304.6" y="29.099999999999998" width="2.2" height="43.9" fill="#21b0a2" fill-opacity="0.5"/>
<path d="M305,29.1V73M306.4,29.1V73" stroke="#21b0a2" stroke-opacity="0.45" stroke-width="0.8"/>
<rect x="308.7" y="29.099999999999998" width="2" height="43.9" fill="#2fb0b0" fill-opacity="0.5"/>
<path d="M309.1,29.1V73M310.3,29.1V73" stroke="#2fb0b0" stroke-opacity="0.45" stroke-width="0.8"/>
<rect x="311.2" y="29.099999999999998" width="4.1" height="43.9" fill="#699bb9" fill-opacity="0.5"/>
<path d="M311.6,29.1V73M314.9,29.1V73" stroke="#699bb9" stroke-opacity="0.45" stroke-width="0.8"/>
<text x="35" y="53.699999999999996" font-family="'Liberation Sans', Arial, sans-serif" font-size="6.8" fill="#222" stroke="#222" stroke-width="0.08" text-anchor="end">MDRA Z</text>
<path d="M35.4,51.3 H37.6" stroke="#333" stroke-width="0.5"/>
<path d="M37.6,110 38.1,109.53 38.6,109.25 39.1,108.85 39.6,107.96 40.1,107.47 40.6,107.21 41.1,107.26 41.6,106.03 42.1,105.94 42.6,105.62 43.1,105.29 43.6,105.11 44.1,105.52 44.6,105.54 45.1,105.19 45.6,105.28 46.1,104.92 46.6,105.35 47.1,103.5 47.6,104.47 48.1,105.09 48.6,104.51 49.1,105.31 49.6,104.67 50.1,104.16 50.6,104.87 51.1,101.66 51.6,104 52.1,105.26 52.6,104.3 53.1,104.3 53.6,105.12 54.1,104.63 54.6,105.11 55.1,104.56 55.6,104.26 56.1,104.34 56.6,104.09 57.1,104.86 57.6,104.35 58.1,105.17 58.6,103.97 59.1,105.36 59.6,105.11 60.1,105.21 60.6,104.91 61.1,105.13 61.6,105.43 62.1,104.12 62.6,105.42 63.1,104.69 63.6,105.06 64.1,105.4 64.6,105.31 65.1,103.98 65.6,104.05 66.1,105.21 66.6,105.04 67.1,105.14 67.6,104.63 68.1,104.24 68.6,104.97 69.1,105.4 69.6,104.43 70.1,104.49 70.6,104.92 71.1,105.08 71.6,105.11 72.1,105.29 72.6,105.13 73.1,104.65 73.6,105.03 74.1,104.93 74.6,104.9 75.1,104.66 75.6,104.17 76.1,104.69 76.6,104.75 77.1,104.94 77.6,104.75 78.1,102.93 78.6,104.42 79.1,104.96 79.6,104.93 80.1,104.08 80.6,105.11 81.1,100.88 81.6,104.38 82.1,101.85 82.6,104.77 83.1,105.26 83.6,104.5 84.1,105.29 84.6,105.08 85.1,103.68 85.6,104.73 86.1,105.29 86.6,105.03 87.1,103.89 87.6,104.67 88.1,103.72 88.6,104.63 89.1,105.54 89.6,105.12 90.1,105.63 90.6,105.07 91.1,105.32 91.6,105.5 92.1,105.16 92.6,104.85 93.1,104.32 93.6,105.74 94.1,105.41 94.6,104.84 95.1,105.47 95.6,105.79 96.1,105.12 96.6,104.7 97.1,105.07 97.6,104.25 98.1,105.4 98.6,103.11 99.1,105.84 99.6,104.84 100.1,105.35 100.6,105.46 101.1,105.13 101.6,103.53 102.1,105.09 102.6,105.32 103.1,104.31 103.6,104.48 104.1,104.64 104.6,105.3 105.1,105.04 105.6,104.99 106.1,105.32 106.6,104.05 107.1,104.24 107.6,104.91 108.1,105.25 108.6,105.05 109.1,104.88 109.6,104.67 110.1,105.31 110.6,105.01 111.1,105.45 111.6,104.29 112.1,104.61 112.6,104.97 113.1,105.59 113.6,104.99 114.1,105.23 114.6,104.99 115.1,104.96 115.6,105.42 116.1,104.93 116.6,105.64 117.1,102.76 117.6,104.27 118.1,105.62 118.6,104.58 119.1,105.38 119.6,105.16 120.1,104.15 120.6,105.41 121.1,104.47 121.6,104.36 122.1,104.86 122.6,105.38 123.1,105.45 123.6,105.53 124.1,105.19 124.6,103.96 125.1,103.73 125.6,105.35 126.1,104.68 126.6,104.21 127.1,104.87 127.6,104.8 128.1,104.82 128.6,104.52 129.1,104.14 129.6,104.71 130.1,105.02 130.6,103.63 131.1,104.71 131.6,104.13 132.1,104.41 132.6,103.82 133.1,102.85 133.6,103.06 134.1,103.51 134.6,104.42 135.1,104.88 135.6,104.83 136.1,104.84 136.6,104.2 137.1,104.47 137.6,103.7 138.1,103.74 138.6,102.92 139.1,102.72 139.6,104.86 140.1,103.65 140.6,104.61 141.1,104.31 141.6,105.12 142.1,104.34 142.6,104.05 143.1,104.36 143.6,104.51 144.1,102.35 144.6,104.24 145.1,104 145.6,104.97 146.1,103.98 146.6,104.94 147.1,103.71 147.6,104.69 148.1,105.09 148.6,103.16 149.1,104.36 149.6,104.47 150.1,104.76 150.6,105.21 151.1,105.16 151.6,103.86 152.1,104.36 152.6,104.7 153.1,103.73 153.6,102.58 154.1,104.71 154.6,104.72 155.1,104.11 155.6,104.74 156.1,101.36 156.6,104.88 157.1,104.45 157.6,104.53 158.1,104.68 158.6,103.57 159.1,104.1 159.6,104.84 160.1,104.11 160.6,103.18 161.1,103.52 161.6,103.1 162.1,104.26 162.6,104.13 163.1,104.58 163.6,105.08 164.1,105.02 164.6,104.49 165.1,104.92 165.6,104.87 166.1,105.12 166.6,103.42 167.1,104.98 167.6,104.2 168.1,105.03 168.6,105.26 169.1,104.91 169.6,105.03 170.1,104.54 170.6,105.25 171.1,104.66 171.6,103 172.1,105.04 172.6,102.49 173.1,104.04 173.6,104.85 174.1,104.91 174.6,103.93 175.1,104.76 175.6,105.05 176.1,104.76 176.6,104.77 177.1,104 177.6,104.3 178.1,104.06 178.6,104.28 179.1,104.43 179.6,103.99 180.1,104.09 180.6,104.2 181.1,104.8 181.6,104.62 182.1,104.11 182.6,104.19 183.1,103.62 183.6,104.27 184.1,104.65 184.6,103.78 185.1,104.35 185.6,102.89 186.1,103.98 186.6,104.46 187.1,103.21 187.6,103.83 188.1,103.62 188.6,103.37 189.1,104.03 189.6,103.91 190.1,104.23 190.6,104.35 191.1,103.19 191.6,103.58 192.1,103.05 192.6,104.36 193.1,104.31 193.6,103.75 194.1,104.18 194.6,103.8 195.1,103.98 195.6,102.77 196.1,104.39 196.6,101.7 197.1,104.05 197.6,103.49 198.1,104.03 198.6,103.54 199.1,103.46 199.6,103.84 200.1,103.99 200.6,104.06 201.1,103.37 201.6,104.36 202.1,102.82 202.6,103.91 203.1,103.86 203.6,103.83 204.1,104.18 204.6,104.08 205.1,103.51 205.6,104.08 206.1,103.72 206.6,103.47 207.1,104.03 207.6,103.78 208.1,103.8 208.6,103.6 209.1,103.68 209.6,102.95 210.1,103.17 210.6,103.53 211.1,102.62 211.6,103.82 212.1,101.93 212.6,101.4 213.1,103.48 213.6,103.66 214.1,103.23 214.6,103.41 215.1,103.74 215.6,102.33 216.1,102.58 216.6,103.45 217.1,103.83 217.6,103.11 218.1,103.63 218.6,104.15 219.1,104.04 219.6,103.72 220.1,104.24 220.6,104.13 221.1,104.15 221.6,103.2 222.1,104.21 222.6,103.03 223.1,103.69 223.6,103.21 224.1,103.95 224.6,104.27 225.1,104.45 225.6,104.24 226.1,104.63 226.6,104.17 227.1,103.64 227.6,103.68 228.1,104.15 228.6,103.78 229.1,103.77 229.6,103.94 230.1,103.87 230.6,104.72 231.1,104.82 231.6,104.35 232.1,104.82 232.6,104.36 233.1,104.81 233.6,104.03 234.1,103.84 234.6,104.53 235.1,104.52 235.6,104.63 236.1,104.45 236.6,103.68 237.1,101.65 237.6,104.5 238.1,103.82 238.6,102.76 239.1,103.69 239.6,103.76 240.1,104.36 240.6,102.8 241.1,103.8 241.6,103.15 242.1,103.65 242.6,104.38 243.1,104.32 243.6,103.64 244.1,103.92 244.6,103.6 245.1,104.14 245.6,104.17 246.1,103.73 246.6,104.2 247.1,104.11 247.6,103.45 248.1,104.1 248.6,104.61 249.1,104.18 249.6,104.09 250.1,103.61 250.6,104.69 251.1,103.79 251.6,104.77 252.1,104.23 252.6,103.75 253.1,104.45 253.6,104.1 254.1,104.75 254.6,103.74 255.1,104.77 255.6,104.35 256.1,104.56 256.6,103.02 257.1,104.34 257.6,104.25 258.1,104.38 258.6,103.59 259.1,103.33 259.6,104.05 260.1,103.78 260.6,104.24 261.1,104 261.6,103.68 262.1,101.49 262.6,104.05 263.1,102.96 263.6,102.67 264.1,103.55 264.6,103.88 265.1,102.32 265.6,103.03 266.1,103.84 266.6,102.38 267.1,102.85 267.6,103.07 268.1,101.96 268.6,103.63 269.1,100.76 269.6,103.44 270.1,103.42 270.6,103.49 271.1,102.1 271.6,102.4 272.1,103.67 272.6,102.82 273.1,101.91 273.6,103.3 274.1,102.82 274.6,102.16 275.1,103.02 275.6,103.8 276.1,101.76 276.6,103.65 277.1,103.87 277.6,102.38 278.1,103.68 278.6,104.14 279.1,100.47 279.6,103.95 280.1,103.89 280.6,102.31 281.1,103.51 281.6,103.83 282.1,101.85 282.6,103.33 283.1,102.38 283.6,103.44 284.1,103.58 284.6,103.79 285.1,103.94 285.6,103.37 286.1,103.27 286.6,104.2 287.1,102.14 287.6,103.64 288.1,103.61 288.6,102.79 289.1,104.13 289.6,103.04 290.1,103.52 290.6,103.9 291.1,104.13 291.6,101.23 292.1,103.54 292.6,102.66 293.1,103.65 293.6,102.79 294.1,102.98 294.6,103.82 295.1,102.1 295.6,103.99 296.1,103.32 296.6,104.05 297.1,104.12 297.6,101.99 298.1,103.59 298.6,102.64 299.1,104.11 299.6,103.55 300.1,103.33 300.6,104.46 301.1,104.17 301.6,104.15 302.1,103.76 302.6,102.67 303.1,104.62 303.6,103.19 304.1,102.24 304.6,103.71 305.1,104.84 305.6,103.7 306.1,103.98 306.6,104.43 307.1,104.26 307.6,104.36 308.1,104.74 308.6,103.74 309.1,103.57 309.6,104.68 310.1,103.75 310.6,103.29 311.1,104.83 311.6,103.52 312.1,104.44 312.6,104.18 313.1,102.98 313.6,104.08 314.1,104.42 314.6,102.84 315.1,104.47 315.6,104.54 316.1,103.02 316.6,103.33 317.1,104.16 317.6,104.29 318.1,102.57 318.6,104.25 319.1,104.68 319.6,105.35 320.1,104.87 320.6,106.49 321.1,106.7 321.6,107.55 322.1,107.51 322.6,108.42 323.1,108.85 323.6,109.39 324.1,109.87 L324.1,110.12 323.6,110.71 323.1,111.15 322.6,111.71 322.1,112.66 321.6,113.05 321.1,112.92 320.6,113.6 320.1,114.42 319.6,114.71 319.1,114.77 318.6,115.74 318.1,117.33 317.6,116.37 317.1,115.69 316.6,115.49 316.1,115.76 315.6,115.86 315.1,117.32 314.6,116.14 314.1,115.79 313.6,115.63 313.1,115.47 312.6,115.14 312.1,115.94 311.6,115.42 311.1,115.18 310.6,115.77 310.1,115.14 309.6,115.36 309.1,115.21 308.6,116.46 308.1,116.6 307.6,115.71 307.1,115.29 306.6,115.15 306.1,115.15 305.6,115.34 305.1,115.37 304.6,116.68 304.1,115.85 303.6,115.58 303.1,115.68 302.6,116.62 302.1,116.38 301.6,115.79 301.1,115.71 300.6,116.51 300.1,118.19 299.6,116.61 299.1,116.42 298.6,117.1 298.1,115.7 297.6,118.3 297.1,116.96 296.6,117.22 296.1,118.32 295.6,115.95 295.1,117.11 294.6,115.86 294.1,116.46 293.6,116.48 293.1,116.91 292.6,118.69 292.1,116.32 291.6,116.34 291.1,116.53 290.6,115.84 290.1,115.99 289.6,115.88 289.1,116.04 288.6,116 288.1,116.7 287.6,116.51 287.1,117.19 286.6,115.9 286.1,115.94 285.6,116.72 285.1,115.72 284.6,116.8 284.1,115.78 283.6,116.59 283.1,115.84 282.6,116.45 282.1,118.15 281.6,116.65 281.1,116.93 280.6,116.97 280.1,115.9 279.6,117.07 279.1,117.44 278.6,116.77 278.1,116.29 277.6,116.33 277.1,116.27 276.6,119.56 276.1,116.28 275.6,116.69 275.1,117.65 274.6,116.51 274.1,116.9 273.6,116.94 273.1,116.48 272.6,117.99 272.1,116.56 271.6,116.39 271.1,116.44 270.6,117.25 270.1,116.29 269.6,116.42 269.1,117.06 268.6,117.25 268.1,117.3 267.6,116.21 267.1,118.16 266.6,116.45 266.1,116.54 265.6,116.86 265.1,116.89 264.6,116.74 264.1,118.97 263.6,116.21 263.1,117.68 262.6,116.33 262.1,116.46 261.6,116.4 261.1,115.92 260.6,117.22 260.1,116.22 259.6,116.61 259.1,115.71 258.6,115.71 258.1,115.57 257.6,116.04 257.1,115.4 256.6,115.59 256.1,116.15 255.6,116 255.1,116.36 254.6,116.71 254.1,116.23 253.6,116.27 253.1,116.27 252.6,117.15 252.1,115.49 251.6,115.89 251.1,116.02 250.6,115.31 250.1,116.52 249.6,115.61 249.1,116.09 248.6,115.62 248.1,115.89 247.6,115.48 247.1,116.91 246.6,116 246.1,115.99 245.6,116.35 245.1,115.64 244.6,117.01 244.1,115.75 243.6,116.26 243.1,115.82 242.6,116.35 242.1,116.52 241.6,115.8 241.1,115.54 240.6,117.57 240.1,116.87 239.6,115.6 239.1,115.58 238.6,115.68 238.1,115.6 237.6,116.12 237.1,116.25 236.6,115.45 236.1,115.33 235.6,116.03 235.1,115.56 234.6,115.89 234.1,115.71 233.6,115.46 233.1,115.49 232.6,116.52 232.1,115.44 231.6,116.04 231.1,115.24 230.6,116.21 230.1,115.81 229.6,115.35 229.1,115.84 228.6,115.68 228.1,116.43 227.6,115.22 227.1,115.5 226.6,116.29 226.1,116.2 225.6,116.17 225.1,115.29 224.6,115.54 224.1,115.5 223.6,115.8 223.1,115.55 222.6,115.75 222.1,115.69 221.6,116.92 221.1,118.38 220.6,116.37 220.1,116.9 219.6,117.06 219.1,116.28 218.6,116.31 218.1,116.11 217.6,116.43 217.1,117.18 216.6,116.59 216.1,120.8 215.6,116.44 215.1,117.08 214.6,116.12 214.1,117.2 213.6,116.51 213.1,117.35 212.6,116.34 212.1,116.81 211.6,117.3 211.1,117.67 210.6,116.97 210.1,116.68 209.6,117.09 209.1,116.23 208.6,116.27 208.1,115.98 207.6,115.97 207.1,116.46 206.6,117.2 206.1,117.75 205.6,115.94 205.1,116.81 204.6,115.84 204.1,116.85 203.6,115.84 203.1,116.45 202.6,116.5 202.1,117.27 201.6,116.53 201.1,116.78 200.6,116.5 200.1,115.61 199.6,116.08 199.1,116.78 198.6,115.9 198.1,116.06 197.6,116.18 197.1,115.81 196.6,115.75 196.1,116.07 195.6,118.29 195.1,116.94 194.6,117.03 194.1,115.84 193.6,115.84 193.1,116.49 192.6,118.65 192.1,116.33 191.6,116.53 191.1,116.58 190.6,116.27 190.1,116 189.6,116.13 189.1,115.76 188.6,115.96 188.1,116.04 187.6,115.76 187.1,116.12 186.6,115.86 186.1,117.48 185.6,116.86 185.1,115.84 184.6,116.28 184.1,115.85 183.6,116.59 183.1,115.47 182.6,116.15 182.1,115.33 181.6,115.5 181.1,115.91 180.6,116.22 180.1,116.9 179.6,114.91 179.1,114.89 178.6,115.83 178.1,114.78 177.6,115.07 177.1,116.18 176.6,114.77 176.1,114.89 175.6,115.78 175.1,114.78 174.6,115.23 174.1,115.36 173.6,114.62 173.1,114.64 172.6,114.69 172.1,115.4 171.6,115.23 171.1,114.59 170.6,115.47 170.1,114.6 169.6,115.29 169.1,115.61 168.6,115.69 168.1,116.04 167.6,115.1 167.1,114.71 166.6,114.92 166.1,116.77 165.6,115.06 165.1,115.23 164.6,115.53 164.1,114.97 163.6,115.08 163.1,115.02 162.6,115.43 162.1,116.27 161.6,115.39 161.1,115.06 160.6,115.42 160.1,116.47 159.6,115.31 159.1,115.03 158.6,116.78 158.1,115.87 157.6,115.93 157.1,116.67 156.6,115.16 156.1,114.98 155.6,115.05 155.1,115.76 154.6,115.34 154.1,116.1 153.6,116.13 153.1,114.87 152.6,115.84 152.1,117.09 151.6,115.69 151.1,115.44 150.6,115.85 150.1,115.71 149.6,115.24 149.1,116.28 148.6,115.21 148.1,115.26 147.6,116.2 147.1,114.76 146.6,116.51 146.1,115.7 145.6,115.05 145.1,117.53 144.6,115.8 144.1,115.24 143.6,116.1 143.1,114.98 142.6,115.03 142.1,115.14 141.6,114.95 141.1,116.49 140.6,115.71 140.1,115.5 139.6,115.11 139.1,115.6 138.6,115.58 138.1,116.2 137.6,118.76 137.1,117.22 136.6,115.18 136.1,115.18 135.6,115.12 135.1,115.38 134.6,116.01 134.1,116.91 133.6,118.3 133.1,116.72 132.6,115.53 132.1,115.23 131.6,115.83 131.1,115.75 130.6,116.88 130.1,115.19 129.6,115.28 129.1,114.96 128.6,116.81 128.1,115.95 127.6,115.06 127.1,114.94 126.6,115.01 126.1,115.15 125.6,115.74 125.1,116.89 124.6,115.07 124.1,114.57 123.6,116.37 123.1,114.7 122.6,114.65 122.1,115.92 121.6,115.86 121.1,115.22 120.6,114.78 120.1,114.64 119.6,114.48 119.1,115.1 118.6,115.04 118.1,115.7 117.6,114.31 117.1,115.24 116.6,114.58 116.1,114.57 115.6,114.35 115.1,115.3 114.6,114.54 114.1,114.38 113.6,114.58 113.1,114.92 112.6,116.05 112.1,118.21 111.6,114.67 111.1,114.76 110.6,115.56 110.1,114.7 109.6,115.4 109.1,114.71 108.6,115.86 108.1,114.66 107.6,116.3 107.1,114.43 106.6,115.57 106.1,114.47 105.6,114.84 105.1,116.01 104.6,115.31 104.1,116.19 103.6,114.61 103.1,114.96 102.6,115.52 102.1,115.32 101.6,114.61 101.1,114.44 100.6,114.34 100.1,114.75 99.6,114.19 99.1,114.6 98.6,116.05 98.1,115.16 97.6,115.16 97.1,114.43 96.6,114.48 96.1,114.63 95.6,114.54 95.1,115.95 94.6,114.79 94.1,115.52 93.6,115.34 93.1,114.4 92.6,115.24 92.1,114.44 91.6,115.57 91.1,115.35 90.6,115.72 90.1,115.99 89.6,115.51 89.1,114.28 88.6,114.73 88.1,114.89 87.6,114.59 87.1,114.43 86.6,115.57 86.1,114.88 85.6,115.56 85.1,114.74 84.6,114.99 84.1,114.99 83.6,114.73 83.1,114.94 82.6,115.33 82.1,115.06 81.6,116.01 81.1,115.86 80.6,115.77 80.1,115.96 79.6,116.66 79.1,115.82 78.6,117.47 78.1,115.44 77.6,115.22 77.1,115.27 76.6,115.55 76.1,115.55 75.6,115.3 75.1,115.49 74.6,115.34 74.1,116.1 73.6,114.91 73.1,115.14 72.6,115.04 72.1,118.22 71.6,115.52 71.1,115.47 70.6,116.38 70.1,115.36 69.6,116.23 69.1,116.2 68.6,114.84 68.1,116.03 67.6,115.26 67.1,114.87 66.6,116.01 66.1,116.96 65.6,115.37 65.1,115.1 64.6,115.91 64.1,114.63 63.6,115.12 63.1,114.57 62.6,114.88 62.1,115.43 61.6,115.27 61.1,115.51 60.6,117.46 60.1,115.51 59.6,115.59 59.1,114.86 58.6,115.26 58.1,114.81 57.6,118.61 57.1,115.04 56.6,115.29 56.1,116.32 55.6,115.54 55.1,114.87 54.6,116.79 54.1,115.49 53.6,114.82 53.1,114.78 52.6,114.85 52.1,116.46 51.6,116.81 51.1,115.13 50.6,115.61 50.1,116.68 49.6,117.12 49.1,116.11 48.6,115.6 48.1,114.49 47.6,114.89 47.1,115.01 46.6,115.69 46.1,114.92 45.6,117.13 45.1,114.6 44.6,114.61 44.1,114.5 43.6,114.15 43.1,116.85 42.6,114.06 42.1,113.51 41.6,113.73 41.1,113.21 40.6,112.34 40.1,112.21 39.6,111.75 39.1,111.46 38.6,110.9 38.1,110.4 37.6,110 Z" fill="#000" stroke="#000" stroke-width="0.25"/>
<path d="M38.6,110.01 L39.1,109.88 L39.6,110.09 L40.1,106.64 L40.6,112.44 L41.1,109.64 L41.6,109.55 L42.1,104.02 L42.6,111.47 L43.1,109.32 L43.6,115.13 L44.1,107.88 L44.6,104.52 L45.1,110.11 L45.6,105.84 L46.1,111.29 L46.6,105.15 L47.1,109.06 L47.6,108.66 L48.1,109.45 L48.6,107.48 L49.1,106.26 L49.6,109.34 L50.1,107.21 L50.6,110.21 L51.1,108.47 L51.6,100.38 L52.1,109.33 L52.6,115.28 L53.1,110.83 L53.6,112.04 L54.1,111.45 L54.6,107.66 L55.1,104.12 L55.6,112.9 L56.1,113.9 L56.6,111.91 L57.1,111.32 L57.6,111.2 L58.1,109.47 L58.6,110.71 L59.1,109.64 L59.6,110.92 L60.1,105.72 L60.6,107.01 L61.1,111.91 L61.6,108.2 L62.1,99.71 L62.6,110.1 L63.1,100.25 L63.6,117.4 L64.1,112.53 L64.6,112.34 L65.1,106.88 L65.6,104.99 L66.1,108.73 L66.6,109.68 L67.1,106.46 L67.6,110.24 L68.1,112.4 L68.6,112.05 L69.1,105.37 L69.6,100.79 L70.1,109.62 L70.6,106.92 L71.1,111.43 L71.6,116.29 L72.1,116.29 L72.6,110.78 L73.1,114.13 L73.6,116.31 L74.1,109.81 L74.6,110.73 L75.1,113.09 L75.6,109.48 L76.1,107.6 L76.6,106.58 L77.1,109.66 L77.6,107.11 L78.1,112.88 L78.6,108.28 L79.1,115.59 L79.6,114.56 L80.1,104.61 L80.6,114.04 L81.1,108.01 L81.6,115.22 L82.1,111.74 L82.6,109.47 L83.1,112.39 L83.6,107.4 L84.1,111 L84.6,111.23 L85.1,109.08 L85.6,111.25 L86.1,105.62 L86.6,111.94 L87.1,104.77 L87.6,112.21 L88.1,111.6 L88.6,112.57 L89.1,107.43 L89.6,120.5 L90.1,108.79 L90.6,110.32 L91.1,106.65 L91.6,115.52 L92.1,107.81 L92.6,113.75 L93.1,105.9 L93.6,110.99 L94.1,108.23 L94.6,113.51 L95.1,108.56 L95.6,106.25 L96.1,111.58 L96.6,104.92 L97.1,105.88 L97.6,112.87 L98.1,102.18 L98.6,112.84 L99.1,108.15 L99.6,106.07 L100.1,110.76 L100.6,112.34 L101.1,107.42 L101.6,109.07 L102.1,113.03 L102.6,112.84 L103.1,109.59 L103.6,106.68 L104.1,105.98 L104.6,107.4 L105.1,112.56 L105.6,112.15 L106.1,111.05 L106.6,115.45 L107.1,108.61 L107.6,108.29 L108.1,108.27 L108.6,117.56 L109.1,101.52 L109.6,111.02 L110.1,111.65 L110.6,110.1 L111.1,119.29 L111.6,114.59 L112.1,112.98 L112.6,106.23 L113.1,111.88 L113.6,108.37 L114.1,110.05 L114.6,110.69 L115.1,107.93 L115.6,112.44 L116.1,116.48 L116.6,114.08 L117.1,110.77 L117.6,102.09 L118.1,114.29 L118.6,114.26 L119.1,109.13 L119.6,107.98 L120.1,112.58 L120.6,106.65 L121.1,113.14 L121.6,105.56 L122.1,106.21 L122.6,110 L123.1,104.05 L123.6,109.94 L124.1,112.09 L124.6,104.63 L125.1,113.68 L125.6,107.68 L126.1,112.16 L126.6,110.81 L127.1,108.11 L127.6,107.84 L128.1,103.06 L128.6,107.14 L129.1,106.84 L129.6,116.59 L130.1,114.07 L130.6,104.42 L131.1,113.21 L131.6,110.86 L132.1,108.42 L132.6,111.84 L133.1,113.18 L133.6,107.65 L134.1,108.85 L134.6,110.65 L135.1,105.95 L135.6,110.73 L136.1,109.64 L136.6,107.19 L137.1,106.53 L137.6,111.23 L138.1,113.57 L138.6,111.34 L139.1,106.46 L139.6,113.07 L140.1,110.68 L140.6,112.43 L141.1,114.79 L141.6,106.25 L142.1,109.41 L142.6,107.51 L143.1,106.36 L143.6,118.31 L144.1,113.89 L144.6,102.64 L145.1,111.76 L145.6,107.67 L146.1,114.78 L146.6,110.34 L147.1,109.26 L147.6,110.59 L148.1,111.6 L148.6,110.12 L149.1,109.07 L149.6,109.41 L150.1,112.14 L150.6,105.24 L151.1,109.99 L151.6,109.49 L152.1,107.94 L152.6,113.11 L153.1,104.53 L153.6,108.45 L154.1,106.38 L154.6,112.31 L155.1,108.01 L155.6,110.2 L156.1,111.64 L156.6,103.18 L157.1,111.93 L157.6,106.8 L158.1,108.91 L158.6,109.51 L159.1,113.46 L159.6,113.17 L160.1,117.59 L160.6,110.76 L161.1,107.95 L161.6,107.83 L162.1,112.82 L162.6,116.92 L163.1,111.47 L163.6,107.5 L164.1,111.19 L164.6,111.11 L165.1,110.14 L165.6,106.77 L166.1,99.5 L166.6,107.66 L167.1,114.59 L167.6,110.93 L168.1,100.35 L168.6,110.02 L169.1,101.91 L169.6,118.73 L170.1,110.84 L170.6,104.71 L171.1,113.51 L171.6,106.55 L172.1,112.48 L172.6,110.1 L173.1,104.79 L173.6,112.94 L174.1,104.07 L174.6,115.94 L175.1,110.27 L175.6,105.43 L176.1,101.94 L176.6,117.19 L177.1,116.47 L177.6,104.39 L178.1,117.35 L178.6,110.75 L179.1,109.01 L179.6,109.61 L180.1,108.8 L180.6,116.42 L181.1,110.67 L181.6,101.71 L182.1,119.42 L182.6,113.97 L183.1,105.09 L183.6,108.39 L184.1,105.91 L184.6,110.21 L185.1,111.79 L185.6,111.08 L186.1,107.28 L186.6,106.36 L187.1,113.85 L187.6,109.54 L188.1,120.26 L188.6,106.32 L189.1,113.6 L189.6,110.22 L190.1,106.52 L190.6,116.24 L191.1,110.57 L191.6,105.9 L192.1,108.53 L192.6,114.68 L193.1,104.36 L193.6,116.36 L194.1,113.16 L194.6,108.71 L195.1,116.28 L195.6,118.1 L196.1,112.78 L196.6,110.79 L197.1,118.58 L197.6,116.96 L198.1,105.68 L198.6,109.04 L199.1,109 L199.6,108.08 L200.1,102.99 L200.6,114.22 L201.1,110.39 L201.6,110.46 L202.1,116.6 L202.6,107.35 L203.1,109.73 L203.6,111.28 L204.1,107.97 L204.6,109.48 L205.1,113.6 L205.6,109.96 L206.1,116.25 L206.6,106.47 L207.1,110.95 L207.6,103.29 L208.1,109.44 L208.6,106.69 L209.1,116.41 L209.6,113.51 L210.1,112.4 L210.6,118.7 L211.1,116.81 L211.6,113.39 L212.1,106.74 L212.6,103.18 L213.1,109.86 L213.6,108.32 L214.1,106.94 L214.6,108.63 L215.1,102.18 L215.6,117.05 L216.1,104.6 L216.6,106.82 L217.1,112.7 L217.6,102.29 L218.1,114.36 L218.6,114.45 L219.1,108.52 L219.6,104.89 L220.1,107.75 L220.6,101.22 L221.1,116.59 L221.6,110.26 L222.1,106.5 L222.6,105.69 L223.1,112.73 L223.6,117.15 L224.1,103.94 L224.6,107.26 L225.1,101.63 L225.6,113.22 L226.1,110.75 L226.6,120.5 L227.1,109.42 L227.6,107.92 L228.1,106.62 L228.6,114.07 L229.1,102.23 L229.6,113.58 L230.1,111.18 L230.6,107.58 L231.1,105.69 L231.6,115.04 L232.1,118.9 L232.6,107.87 L233.1,112.53 L233.6,118.34 L234.1,107.03 L234.6,108.79 L235.1,104.15 L235.6,109.29 L236.1,109.61 L236.6,107.99 L237.1,106.45 L237.6,102.4 L238.1,103.54 L238.6,105.31 L239.1,113.08 L239.6,107.55 L240.1,105.9 L240.6,113.16 L241.1,112.71 L241.6,106.37 L242.1,106.98 L242.6,113.18 L243.1,111.76 L243.6,105.97 L244.1,111.16 L244.6,109.86 L245.1,115.38 L245.6,105.81 L246.1,114.26 L246.6,112.09 L247.1,105.13 L247.6,115.1 L248.1,114.4 L248.6,103.62 L249.1,119.59 L249.6,104.45 L250.1,105.55 L250.6,108.44 L251.1,113.73 L251.6,112.83 L252.1,109.54 L252.6,116.63 L253.1,111.97 L253.6,116.78 L254.1,120.5 L254.6,110.94 L255.1,99.5 L255.6,107.8 L256.1,104.76 L256.6,110.45 L257.1,110.48 L257.6,104.01 L258.1,104.37 L258.6,108.71 L259.1,109.04 L259.6,99.5 L260.1,114.77 L260.6,110.15 L261.1,109.95 L261.6,111.46 L262.1,104.97 L262.6,109.75 L263.1,115.1 L263.6,115.3 L264.1,112.27 L264.6,108.62 L265.1,105.95 L265.6,116.51 L266.1,112.59 L266.6,107.91 L267.1,99.5 L267.6,105.69 L268.1,100.44 L268.6,116.18 L269.1,110.93 L269.6,106.3 L270.1,108.62 L270.6,120.5 L271.1,116.05 L271.6,103.31 L272.1,109.35 L272.6,103.86 L273.1,101.39 L273.6,110.87 L274.1,120.5 L274.6,117.81 L275.1,110.22 L275.6,108.12 L276.1,111.01 L276.6,115.19 L277.1,102.67 L277.6,100.61 L278.1,119.45 L278.6,111.41 L279.1,118.08 L279.6,111.2 L280.1,117.44 L280.6,106.92 L281.1,112.51 L281.6,117.83 L282.1,115.16 L282.6,107.67 L283.1,114.52 L283.6,106.64 L284.1,102.78 L284.6,112.65 L285.1,117.09 L285.6,114.31 L286.1,103.62 L286.6,114.41 L287.1,113.45 L287.6,107.66 L288.1,99.5 L288.6,115.17 L289.1,114.51 L289.6,112.53 L290.1,101.18 L290.6,102.41 L291.1,115.16 L291.6,114.1 L292.1,112.52 L292.6,108.74 L293.1,112.01 L293.6,107.23 L294.1,108.4 L294.6,105.56 L295.1,111.32 L295.6,107.86 L296.1,114.88 L296.6,113.69 L297.1,105.84 L297.6,119.42 L298.1,104.24 L298.6,112.31 L299.1,115.56 L299.6,116.58 L300.1,99.5 L300.6,115.15 L301.1,116.27 L301.6,117.4 L302.1,99.5 L302.6,106.52 L303.1,109.49 L303.6,107.7 L304.1,116.91 L304.6,106.5 L305.1,116.34 L305.6,112.9 L306.1,102.49 L306.6,104.88 L307.1,107.58 L307.6,110.5 L308.1,115.13 L308.6,109.06 L309.1,114.7 L309.6,101.86 L310.1,99.5 L310.6,108.26 L311.1,112.37 L311.6,108.13 L312.1,104.77 L312.6,112.19 L313.1,120.02 L313.6,109.46 L314.1,106.24 L314.6,105.62 L315.1,120.2 L315.6,109.79 L316.1,113.18 L316.6,116.33 L317.1,115.59 L317.6,105.22 L318.1,114.88 L318.6,113.96 L319.1,112.09 L319.6,113.89 L320.1,108.07 L320.6,109.78 L321.1,108.64 L321.6,111.65 L322.1,108.85 L322.6,110.53 L323.1,108.99" fill="none" stroke="#000" stroke-width="0.3" stroke-opacity="0.55"/>
<path d="M177,100.0 V137.0" stroke="#333" stroke-width="0.6"/>
<rect x="42.4" y="87.8" width="0.5" height="43.9" fill="#cd8521" fill-opacity="0.5"/>
<path d="M42.52,87.8V131.7M42.77,87.8V131.7" stroke="#cd8521" stroke-opacity="0.45" stroke-width="0.25"/>
<rect x="42.9" y="87.8" width="1.2" height="43.9" fill="#de3b00" fill-opacity="0.5"/>
<path d="M43.2,87.8V131.7M43.8,87.8V131.7" stroke="#de3b00" stroke-opacity="0.45" stroke-width="0.6"/>
<rect x="44.1" y="87.8" width="2.6" height="43.9" fill="#85a205" fill-opacity="0.5"/>
<path d="M44.5,87.8V131.7M46.3,87.8V131.7" stroke="#85a205" stroke-opacity="0.45" stroke-width="0.8"/>
<rect x="48.1" y="87.8" width="0.8" height="43.9" fill="#dba22f" fill-opacity="0.5"/>
<path d="M48.3,87.8V131.7M48.7,87.8V131.7" stroke="#dba22f" stroke-opacity="0.45" stroke-width="0.4"/>
<rect x="49.8" y="87.8" width="2.4" height="43.9" fill="#de9321" fill-opacity="0.5"/>
<path d="M50.2,87.8V131.7M51.8,87.8V131.7" stroke="#de9321" stroke-opacity="0.45" stroke-width="0.8"/>
<rect x="53" y="87.8" width="3" height="43.9" fill="#b0de2f" fill-opacity="0.5"/>
<path d="M53.4,87.8V131.7M55.6,87.8V131.7" stroke="#b0de2f" stroke-opacity="0.45" stroke-width="0.8"/>
<rect x="56.2" y="87.8" width="1.7" height="43.9" fill="#cad813" fill-opacity="0.5"/>
<path d="M56.6,87.8V131.7M57.5,87.8V131.7" stroke="#cad813" stroke-opacity="0.45" stroke-width="0.8"/>
<rect x="63.2" y="87.8" width="2.1" height="43.9" fill="#a2de05" fill-opacity="0.5"/>
<path d="M63.6,87.8V131.7M64.9,87.8V131.7" stroke="#a2de05" stroke-opacity="0.45" stroke-width="0.8"/>
<rect x="76.3" y="87.8" width="1.7" height="43.9" fill="#a2e305" fill-opacity="0.5"/>
<path d="M76.7,87.8V131.7M77.6,87.8V131.7" stroke="#a2e305" stroke-opacity="0.45" stroke-width="0.8"/>
<rect x="85.4" y="87.8" width="3.5" height="43.9" fill="#a9ec21" fill-opacity="0.5"/>
<path d="M85.8,87.8V131.7M88.5,87.8V131.7" stroke="#a9ec21" stroke-opacity="0.45" stroke-width="0.8"/>
<rect x="92.3" y="87.8" width="1.8" height="43.9" fill="#9bec1a" fill-opacity="0.5"/>
<path d="M92.7,87.8V131.7M93.7,87.8V131.7" stroke="#9bec1a" stroke-opacity="0.45" stroke-width="0.8"/>
<rect x="95.3" y="87.8" width="2.7" height="43.9" fill="#9bec1a" fill-opacity="0.5"/>
<path d="M95.7,87.8V131.7M97.6,87.8V131.7" stroke="#9bec1a" stroke-opacity="0.45" stroke-width="0.8"/>
<rect x="115.2" y="87.8" width="1.6" height="43.9" fill="#85f213" fill-opacity="0.5"/>
<path d="M115.6,87.8V131.7M116.4,87.8V131.7" stroke="#85f213" stroke-opacity="0.45" stroke-width="0.8"/>
<rect x="119.5" y="87.8" width="1.5" height="43.9" fill="#85f213" fill-opacity="0.5"/>
<path d="M119.88,87.8V131.7M120.62,87.8V131.7" stroke="#85f213" stroke-opacity="0.45" stroke-width="0.75"/>
<rect x="122.4" y="87.8" width="1.6" height="43.9" fill="#7ef213" fill-opacity="0.5"/>
<path d="M122.8,87.8V131.7M123.6,87.8V131.7" stroke="#7ef213" stroke-opacity="0.45" stroke-width="0.8"/>
<rect x="125.2" y="87.8" width="1.6" height="43.9" fill="#77f213" fill-opacity="0.5"/>
<path d="M125.6,87.8V131.7M126.4,87.8V131.7" stroke="#77f213" stroke-opacity="0.45" stroke-width="0.8"/>
<rect x="128" y="87.8" width="1.5" height="43.9" fill="#70f213" fill-opacity="0.5"/>
<path d="M128.38,87.8V131.7M129.12,87.8V131.7" stroke="#70f213" stroke-opacity="0.45" stroke-width="0.75"/>
<rect x="133.3" y="87.8" width="3.9" height="43.9" fill="#5aec21" fill-opacity="0.5"/>
<path d="M133.7,87.8V131.7M136.8,87.8V131.7" stroke="#5aec21" stroke-opacity="0.45" stroke-width="0.8"/>
<rect x="139.3" y="87.8" width="2.2" height="43.9" fill="#21e305" fill-opacity="0.5"/>
<path d="M139.7,87.8V131.7M141.1,87.8V131.7" stroke="#21e305" stroke-opacity="0.45" stroke-width="0.8"/>
<rect x="142.2" y="87.8" width="3.6" height="43.9" fill="#37e621" fill-opacity="0.5"/>
<path d="M142.6,87.8V131.7M145.4,87.8V131.7" stroke="#37e621" stroke-opacity="0.45" stroke-width="0.8"/>
<rect x="147.3" y="87.8" width="1.4" height="43.9" fill="#1ae305" fill-opacity="0.5"/>
<path d="M147.65,87.8V131.7M148.35,87.8V131.7" stroke="#1ae305" stroke-opacity="0.45" stroke-width="0.7"/>
<rect x="148.7" y="87.8" width="4.4" height="43.9" fill="#13e313" fill-opacity="0.5"/>
<path d="M149.1,87.8V131.7M152.7,87.8V131.7" stroke="#13e313" stroke-opacity="0.45" stroke-width="0.8"/>
<rect x="156" y="87.8" width="1.9" height="43.9" fill="#05e32f" fill-opacity="0.5"/>
<path d="M156.4,87.8V131.7M157.5,87.8V131.7" stroke="#05e32f" stroke-opacity="0.45" stroke-width="0.8"/>
<rect x="162.8" y="87.8" width="1.5" height="43.9" fill="#00e337" fill-opacity="0.5"/>
<path d="M163.18,87.8V131.7M163.93,87.8V131.7" stroke="#00e337" stroke-opacity="0.45" stroke-width="0.75"/>
<rect x="168.4" y="87.8" width="1.4" height="43.9" fill="#21e35a" fill-opacity="0.5"/>
<path d="M168.75,87.8V131.7M169.45,87.8V131.7" stroke="#21e35a" stroke-opacity="0.45" stroke-width="0.7"/>
<rect x="171.1" y="87.8" width="4.9" height="43.9" fill="#4cec93" fill-opacity="0.5"/>
<path d="M171.5,87.8V131.7M175.6,87.8V131.7" stroke="#4cec93" stroke-opacity="0.45" stroke-width="0.8"/>
<rect x="187.2" y="87.8" width="1.7" height="43.9" fill="#00e369" fill-opacity="0.5"/>
<path d="M187.6,87.8V131.7M188.5,87.8V131.7" stroke="#00e369" stroke-opacity="0.45" stroke-width="0.8"/>
<rect x="191.8" y="87.8" width="1.5" height="43.9" fill="#00e369" fill-opacity="0.5"/>
<path d="M192.18,87.8V131.7M192.93,87.8V131.7" stroke="#00e369" stroke-opacity="0.45" stroke-width="0.75"/>
<rect x="194" y="87.8" width="1.9" height="43.9" fill="#00e369" fill-opacity="0.5"/>
<path d="M194.4,87.8V131.7M195.5,87.8V131.7" stroke="#00e369" stroke-opacity="0.45" stroke-width="0.8"/>
<rect x="199.1" y="87.8" width="1.7" height="43.9" fill="#00e370" fill-opacity="0.5"/>
<path d="M199.5,87.8V131.7M200.4,87.8V131.7" stroke="#00e370" stroke-opacity="0.45" stroke-width="0.8"/>
<rect x="203.2" y="87.8" width="1.7" height="43.9" fill="#00e374" fill-opacity="0.5"/>
<path d="M203.6,87.8V131.7M204.5,87.8V131.7" stroke="#00e374" stroke-opacity="0.45" stroke-width="0.8"/>
<rect x="206.7" y="87.8" width="1.4" height="43.9" fill="#00e374" fill-opacity="0.5"/>
<path d="M207.05,87.8V131.7M207.75,87.8V131.7" stroke="#00e374" stroke-opacity="0.45" stroke-width="0.7"/>
<rect x="211" y="87.8" width="1.5" height="43.9" fill="#00e177" fill-opacity="0.5"/>
<path d="M211.38,87.8V131.7M212.12,87.8V131.7" stroke="#00e177" stroke-opacity="0.45" stroke-width="0.75"/>
<rect x="213.3" y="87.8" width="1.5" height="43.9" fill="#00e17a" fill-opacity="0.5"/>
<path d="M213.68,87.8V131.7M214.43,87.8V131.7" stroke="#00e17a" stroke-opacity="0.45" stroke-width="0.75"/>
<rect x="220.2" y="87.8" width="1.4" height="43.9" fill="#00de7e" fill-opacity="0.5"/>
<path d="M220.55,87.8V131.7M221.25,87.8V131.7" stroke="#00de7e" stroke-opacity="0.45" stroke-width="0.7"/>
<rect x="240.4" y="87.8" width="3.1" height="43.9" fill="#00db88" fill-opacity="0.5"/>
<path d="M240.8,87.8V131.7M243.1,87.8V131.7" stroke="#00db88" stroke-opacity="0.45" stroke-width="0.8"/>
<rect x="256.4" y="87.8" width="1.9" height="43.9" fill="#00d89b" fill-opacity="0.5"/>
<path d="M256.8,87.8V131.7M257.9,87.8V131.7" stroke="#00d89b" stroke-opacity="0.45" stroke-width="0.8"/>
<rect x="258.8" y="87.8" width="2.2" height="43.9" fill="#00d89f" fill-opacity="0.5"/>
<path d="M259.2,87.8V131.7M260.6,87.8V131.7" stroke="#00d89f" stroke-opacity="0.45" stroke-width="0.8"/>
<rect x="261.3" y="87.8" width="4.6" height="43.9" fill="#2fdbb0" fill-opacity="0.5"/>
<path d="M261.7,87.8V131.7M265.5,87.8V131.7" stroke="#2fdbb0" stroke-opacity="0.45" stroke-width="0.8"/>
<rect x="267" y="87.8" width="3.3" height="43.9" fill="#00c7b0" fill-opacity="0.5"/>
<path d="M267.4,87.8V131.7M269.9,87.8V131.7" stroke="#00c7b0" stroke-opacity="0.45" stroke-width="0.8"/>
<rect x="271.9" y="87.8" width="1.7" height="43.9" fill="#00b9b3" fill-opacity="0.5"/>
<path d="M272.3,87.8V131.7M273.2,87.8V131.7" stroke="#00b9b3" stroke-opacity="0.45" stroke-width="0.8"/>
<rect x="274.4" y="87.8" width="2.4" height="43.9" fill="#00a2c1" fill-opacity="0.5"/>
<path d="M274.8,87.8V131.7M276.4,87.8V131.7" stroke="#00a2c1" stroke-opacity="0.45" stroke-width="0.8"/>
<rect x="278" y="87.8" width="1.3" height="43.9" fill="#00aab9" fill-opacity="0.5"/>
<path d="M278.32,87.8V131.7M278.98,87.8V131.7" stroke="#00aab9" stroke-opacity="0.45" stroke-width="0.65"/>
<rect x="287.1" y="87.8" width="4.9" height="43.9" fill="#4cc7be" fill-opacity="0.5"/>
<path d="M287.5,87.8V131.7M291.6,87.8V131.7" stroke="#4cc7be" stroke-opacity="0.45" stroke-width="0.8"/>
<rect x="298.1" y="87.8" width="1.6" height="43.9" fill="#2fb6b6" fill-opacity="0.5"/>
<path d="M298.5,87.8V131.7M299.3,87.8V131.7" stroke="#2fb6b6" stroke-opacity="0.45" stroke-width="0.8"/>
<rect x="300.9" y="87.8" width="2.1" height="43.9" fill="#2fb0b9" fill-opacity="0.5"/>
<path d="M301.3,87.8V131.7M302.6,87.8V131.7" stroke="#2fb0b9" stroke-opacity="0.45" stroke-width="0.8"/>
<rect x="304.6" y="87.8" width="2.2" height="43.9" fill="#21b0a2" fill-opacity="0.5"/>
<path d="M305,87.8V131.7M306.4,87.8V131.7" stroke="#21b0a2" stroke-opacity="0.45" stroke-width="0.8"/>
<rect x="308.7" y="87.8" width="2" height="43.9" fill="#2fb0b0" fill-opacity="0.5"/>
<path d="M309.1,87.8V131.7M310.3,87.8V131.7" stroke="#2fb0b0" stroke-opacity="0.45" stroke-width="0.8"/>
<rect x="311.2" y="87.8" width="4.1" height="43.9" fill="#699bb9" fill-opacity="0.5"/>
<path d="M311.6,87.8V131.7M314.9,87.8V131.7" stroke="#699bb9" stroke-opacity="0.45" stroke-width="0.8"/>
<text x="35" y="112.4" font-family="'Liberation Sans', Arial, sans-serif" font-size="6.8" fill="#222" stroke="#222" stroke-width="0.08" text-anchor="end">MDRA N</text>
<path d="M35.4,110.0 H37.6" stroke="#333" stroke-width="0.5"/>
<path d="M37.6,168.6 38.1,168.15 38.6,167.74 39.1,167.3 39.6,166.83 40.1,165.78 40.6,164.85 41.1,164.84 41.6,164.65 42.1,164.46 42.6,163.43 43.1,163.04 43.6,160.44 44.1,163.52 44.6,162.84 45.1,162.37 45.6,162.83 46.1,163.41 46.6,162.85 47.1,162.77 47.6,162.89 48.1,163.26 48.6,163.32 49.1,164.05 49.6,163.65 50.1,163.13 50.6,162.97 51.1,163.24 51.6,163.38 52.1,164.03 52.6,163.46 53.1,164.06 53.6,163.31 54.1,163.41 54.6,163.56 55.1,163.15 55.6,163.66 56.1,164.37 56.6,163.44 57.1,163.8 57.6,163.24 58.1,163.65 58.6,162.93 59.1,164.03 59.6,163.62 60.1,164.04 60.6,163.85 61.1,160.96 61.6,163.87 62.1,164.28 62.6,163.72 63.1,164.37 63.6,161.75 64.1,164.1 64.6,163.72 65.1,163.08 65.6,164.15 66.1,163.4 66.6,164.09 67.1,163.81 67.6,163.85 68.1,163.57 68.6,163.16 69.1,164.26 69.6,163.56 70.1,163.9 70.6,163.35 71.1,164 71.6,163.14 72.1,163.97 72.6,162.83 73.1,164.21 73.6,163.9 74.1,162.77 74.6,164.49 75.1,162.05 75.6,164.04 76.1,164.34 76.6,164.17 77.1,163.92 77.6,164.65 78.1,164.07 78.6,163.63 79.1,163.84 79.6,164.76 80.1,164.29 80.6,163.76 81.1,163.51 81.6,163.24 82.1,163.71 82.6,163.82 83.1,164.8 83.6,163.11 84.1,163.28 84.6,163.86 85.1,161.61 85.6,164.72 86.1,164.47 86.6,164.85 87.1,164.1 87.6,164.69 88.1,163.56 88.6,164.48 89.1,164.59 89.6,163.69 90.1,163 90.6,162.27 91.1,164.32 91.6,164.12 92.1,164.02 92.6,164.19 93.1,163.95 93.6,162.96 94.1,162.69 94.6,163.76 95.1,164.2 95.6,163.2 96.1,163.85 96.6,164.16 97.1,163.63 97.6,163.54 98.1,164.16 98.6,164.21 99.1,162.47 99.6,163.94 100.1,163.79 100.6,162.75 101.1,163.78 101.6,164.01 102.1,162.45 102.6,163.95 103.1,163.47 103.6,163.37 104.1,162.74 104.6,163.12 105.1,162.84 105.6,164.24 106.1,164.24 106.6,164.06 107.1,164 107.6,164.05 108.1,162.29 108.6,163.85 109.1,164.24 109.6,162.47 110.1,164.3 110.6,162.26 111.1,163.95 111.6,163.99 112.1,162.74 112.6,163.6 113.1,164.15 113.6,163.78 114.1,164.04 114.6,163.5 115.1,163.61 115.6,163.51 116.1,164.04 116.6,163.98 117.1,163.72 117.6,164.04 118.1,163.37 118.6,163.33 119.1,162.13 119.6,162.99 120.1,163.49 120.6,163.75 121.1,163.03 121.6,163.31 122.1,163.43 122.6,163.73 123.1,163.7 123.6,163.67 124.1,163.03 124.6,162.43 125.1,162.95 125.6,163.73 126.1,162.93 126.6,163.56 127.1,163.7 127.6,163.83 128.1,161.43 128.6,163.04 129.1,163.03 129.6,163.73 130.1,163.52 130.6,162.05 131.1,163.74 131.6,163.2 132.1,163.08 132.6,160.65 133.1,162.88 133.6,164.09 134.1,163.89 134.6,163.86 135.1,162.14 135.6,164.14 136.1,164.32 136.6,163.28 137.1,161.38 137.6,163.16 138.1,163.88 138.6,164.46 139.1,164.21 139.6,164.04 140.1,164.42 140.6,164.03 141.1,164.27 141.6,164.4 142.1,164.07 142.6,163.66 143.1,163.85 143.6,164.26 144.1,161.64 144.6,163.91 145.1,163.31 145.6,164.14 146.1,164.23 146.6,163.8 147.1,161.23 147.6,163.66 148.1,162.45 148.6,163.98 149.1,164.02 149.6,163.31 150.1,163.76 150.6,163.2 151.1,163.1 151.6,163.21 152.1,161.25 152.6,164.09 153.1,163.89 153.6,163.95 154.1,163.25 154.6,163.14 155.1,163.87 155.6,164.14 156.1,163.57 156.6,164 157.1,163.77 157.6,163.51 158.1,162.24 158.6,163.4 159.1,163.07 159.6,163.94 160.1,162.9 160.6,163.95 161.1,163.76 161.6,164.13 162.1,163.7 162.6,164.24 163.1,163.89 163.6,163.18 164.1,164.07 164.6,163.2 165.1,163.99 165.6,163.75 166.1,163.31 166.6,163.5 167.1,163.48 167.6,162.33 168.1,163.55 168.6,163.44 169.1,162.6 169.6,163.6 170.1,163.77 170.6,163.46 171.1,163.76 171.6,163.68 172.1,163.17 172.6,163.26 173.1,163.29 173.6,163.01 174.1,162.88 174.6,162.51 175.1,162.28 175.6,161.72 176.1,162.86 176.6,163.16 177.1,162.68 177.6,162.22 178.1,162.47 178.6,163.11 179.1,163.03 179.6,161.93 180.1,162.84 180.6,162.87 181.1,162.25 181.6,162.67 182.1,161.78 182.6,162.78 183.1,162.43 183.6,162.69 184.1,162.34 184.6,163.19 185.1,160.8 185.6,162.85 186.1,160.06 186.6,160.61 187.1,160.02 187.6,162.32 188.1,163.33 188.6,162.47 189.1,161.41 189.6,162.73 190.1,162.56 190.6,162.96 191.1,163.18 191.6,163.17 192.1,163.35 192.6,162.46 193.1,162.05 193.6,162 194.1,162.82 194.6,162.69 195.1,163.32 195.6,162.79 196.1,162.95 196.6,162.56 197.1,162.01 197.6,162.83 198.1,162.66 198.6,163 199.1,162.7 199.6,161.92 200.1,161.29 200.6,162.82 201.1,161.54 201.6,162.48 202.1,162.72 202.6,162.66 203.1,162.31 203.6,162.76 204.1,162.58 204.6,162.8 205.1,162.04 205.6,163.08 206.1,163.13 206.6,162.14 207.1,162.17 207.6,162.83 208.1,162.65 208.6,162.94 209.1,162.62 209.6,163.19 210.1,162.31 210.6,162.76 211.1,161.11 211.6,162.28 212.1,162.87 212.6,163.21 213.1,162.43 213.6,161.84 214.1,162.64 214.6,162.68 215.1,163.43 215.6,163.61 216.1,163.13 216.6,163.59 217.1,163.34 217.6,162.23 218.1,163.95 218.6,163.85 219.1,163.47 219.6,163.24 220.1,163.81 220.6,163.8 221.1,163.47 221.6,162.7 222.1,163.6 222.6,163.11 223.1,163.35 223.6,162.23 224.1,163.71 224.6,162.39 225.1,163.07 225.6,162.86 226.1,162.75 226.6,162.34 227.1,163.45 227.6,162.95 228.1,162.61 228.6,163.21 229.1,162.81 229.6,162.43 230.1,162.28 230.6,163.21 231.1,163.02 231.6,162.74 232.1,161.04 232.6,161.73 233.1,162.44 233.6,163.13 234.1,162.25 234.6,162.88 235.1,161.92 235.6,163.12 236.1,163.08 236.6,162.41 237.1,162.3 237.6,162.7 238.1,163.07 238.6,161.44 239.1,162.02 239.6,163.03 240.1,162.76 240.6,163.04 241.1,162.76 241.6,163.21 242.1,163.11 242.6,163.11 243.1,162.87 243.6,163.19 244.1,161.97 244.6,163.07 245.1,162.71 245.6,163.14 246.1,162.7 246.6,162.98 247.1,162.89 247.6,162.32 248.1,161.2 248.6,162.84 249.1,163.18 249.6,163.09 250.1,161.98 250.6,162.6 251.1,162.02 251.6,162.09 252.1,162.91 252.6,162.36 253.1,162.05 253.6,161.18 254.1,161.69 254.6,162.66 255.1,162.67 255.6,162.58 256.1,159.25 256.6,162.22 257.1,161.93 257.6,162 258.1,161.88 258.6,162.29 259.1,162.08 259.6,162.4 260.1,157.31 260.6,161.88 261.1,162.66 261.6,162.56 262.1,162.25 262.6,162.52 263.1,162.1 263.6,160.91 264.1,162.4 264.6,161.96 265.1,161.22 265.6,162.38 266.1,162.89 266.6,162.29 267.1,162.13 267.6,162.82 268.1,162.2 268.6,162.05 269.1,162.45 269.6,162.52 270.1,162.31 270.6,163.18 271.1,161.11 271.6,161.98 272.1,162.98 272.6,163.24 273.1,162.76 273.6,163.38 274.1,163.46 274.6,162.91 275.1,163.44 275.6,162.32 276.1,162.85 276.6,162.36 277.1,162.56 277.6,163.36 278.1,163.37 278.6,163.32 279.1,163.43 279.6,162.05 280.1,162.67 280.6,162.85 281.1,163.25 281.6,161.25 282.1,163.14 282.6,162.2 283.1,161.43 283.6,162.01 284.1,162.88 284.6,162.66 285.1,161.93 285.6,159.36 286.1,163.05 286.6,162.77 287.1,163.05 287.6,162.61 288.1,162.56 288.6,162.51 289.1,161.15 289.6,161.95 290.1,162.6 290.6,162.19 291.1,162.34 291.6,162.01 292.1,162.54 292.6,162.96 293.1,163.34 293.6,161.79 294.1,162.11 294.6,163.11 295.1,163.08 295.6,162.21 296.1,162.97 296.6,163.42 297.1,163.55 297.6,162.63 298.1,162.98 298.6,163.05 299.1,162.88 299.6,163.37 300.1,163.43 300.6,163.46 301.1,163.42 301.6,163.08 302.1,163.39 302.6,162.2 303.1,163 303.6,162.72 304.1,163.16 304.6,163.02 305.1,163.07 305.6,161.62 306.1,163.1 306.6,162.1 307.1,162.27 307.6,162.51 308.1,162.14 308.6,162.35 309.1,162.23 309.6,162.76 310.1,161.55 310.6,162.2 311.1,161.16 311.6,162.42 312.1,161.48 312.6,162.63 313.1,162.53 313.6,160.85 314.1,161.97 314.6,161.93 315.1,161.33 315.6,162.5 316.1,160.04 316.6,162.36 317.1,161.84 317.6,162.48 318.1,161.78 318.6,163.1 319.1,163.62 319.6,163.89 320.1,164.25 320.6,164.13 321.1,165.49 321.6,165.87 322.1,166.53 322.6,166.65 323.1,167.55 323.6,168.03 324.1,168.51 L324.1,168.7 323.6,169.26 323.1,169.63 322.6,170.38 322.1,171.74 321.6,171.9 321.1,172.04 320.6,172.44 320.1,173.1 319.6,173.88 319.1,173.86 318.6,175.27 318.1,175.62 317.6,174.7 317.1,174.57 316.6,176.99 316.1,175 315.6,175.12 315.1,175.45 314.6,174.84 314.1,175.13 313.6,175.78 313.1,175.88 312.6,177.03 312.1,174.87 311.6,174.48 311.1,175.5 310.6,174.79 310.1,175.1 309.6,175.11 309.1,175.67 308.6,175.46 308.1,174.56 307.6,175.53 307.1,175 306.6,175 306.1,173.96 305.6,174.35 305.1,174.1 304.6,173.84 304.1,174 303.6,174.2 303.1,173.67 302.6,174.2 302.1,173.61 301.6,174.11 301.1,173.91 300.6,173.68 300.1,174.84 299.6,174.63 299.1,174.84 298.6,174.69 298.1,174.13 297.6,174.53 297.1,174.03 296.6,174.14 296.1,174 295.6,174.61 295.1,173.98 294.6,174.17 294.1,175.17 293.6,175.01 293.1,173.81 292.6,174.81 292.1,174.32 291.6,175.42 291.1,173.97 290.6,175.64 290.1,174.38 289.6,176.11 289.1,174.24 288.6,174.5 288.1,174.91 287.6,174.27 287.1,174.04 286.6,174.58 286.1,175.1 285.6,174.3 285.1,174.14 284.6,174.25 284.1,176.4 283.6,174.23 283.1,174.79 282.6,174.17 282.1,175.05 281.6,174.02 281.1,174.39 280.6,174.3 280.1,174.87 279.6,174.23 279.1,174.23 278.6,175.25 278.1,174.16 277.6,173.78 277.1,174.25 276.6,174.19 276.1,174.22 275.6,173.81 275.1,174.6 274.6,173.89 274.1,175.09 273.6,174.87 273.1,174.34 272.6,174.5 272.1,173.97 271.6,174.84 271.1,174.2 270.6,173.9 270.1,175.05 269.6,174.49 269.1,174.12 268.6,174.9 268.1,175.74 267.6,174.66 267.1,175.37 266.6,174.45 266.1,174.92 265.6,174.8 265.1,174.62 264.6,175.37 264.1,175.05 263.6,174.65 263.1,174.84 262.6,174.75 262.1,175.32 261.6,175.38 261.1,176.51 260.6,175.31 260.1,174.8 259.6,175.05 259.1,175.66 258.6,175.51 258.1,176.67 257.6,175.07 257.1,174.96 256.6,175.58 256.1,175.61 255.6,174.49 255.1,175.21 254.6,174.9 254.1,174.49 253.6,174.92 253.1,175.47 252.6,175.03 252.1,174.77 251.6,175.36 251.1,174.49 250.6,174.31 250.1,176.13 249.6,175.98 249.1,174.56 248.6,174.52 248.1,174.1 247.6,173.98 247.1,174.36 246.6,174.64 246.1,174.05 245.6,176.02 245.1,174.84 244.6,173.96 244.1,174.75 243.6,174.09 243.1,174.08 242.6,174.96 242.1,174.19 241.6,174.46 241.1,174.03 240.6,175.49 240.1,174.29 239.6,174.37 239.1,174.05 238.6,174.63 238.1,174.76 237.6,174.46 237.1,174.69 236.6,174.43 236.1,175.15 235.6,174.4 235.1,174.51 234.6,174.79 234.1,174.55 233.6,174.95 233.1,174.81 232.6,173.98 232.1,175.28 231.6,174.28 231.1,174.33 230.6,174.47 230.1,174.66 229.6,174.65 229.1,173.97 228.6,174.54 228.1,175.63 227.6,174.27 227.1,173.61 226.6,174.19 226.1,175.03 225.6,174.53 225.1,173.64 224.6,173.91 224.1,174.78 223.6,173.76 223.1,173.53 222.6,174.41 222.1,174.07 221.6,174.31 221.1,174.79 220.6,174.45 220.1,174.02 219.6,173.39 219.1,173.45 218.6,173.32 218.1,173.4 217.6,173.26 217.1,175.17 216.6,175.2 216.1,174.9 215.6,173.38 215.1,173.82 214.6,173.92 214.1,175.42 213.6,174.19 213.1,174.22 212.6,174.13 212.1,174.14 211.6,175.04 211.1,175.08 210.6,175.65 210.1,174.56 209.6,174.78 209.1,174.49 208.6,174.14 208.1,173.93 207.6,174.89 207.1,174.86 206.6,174.29 206.1,175.29 205.6,175.41 205.1,175 204.6,176.42 204.1,177.26 203.6,175.81 203.1,174.22 202.6,174.55 202.1,174.26 201.6,175.74 201.1,176.11 200.6,174.44 200.1,175.48 199.6,174.89 199.1,176.16 198.6,174.5 198.1,174.55 197.6,174.86 197.1,174.16 196.6,174.33 196.1,174.53 195.6,175.96 195.1,175.98 194.6,173.97 194.1,175.32 193.6,174.41 193.1,174.4 192.6,176.32 192.1,174.01 191.6,175.53 191.1,174.73 190.6,174.29 190.1,173.85 189.6,174.89 189.1,175.69 188.6,173.88 188.1,174.07 187.6,174.31 187.1,174.07 186.6,175.05 186.1,174.11 185.6,174.95 185.1,174.34 184.6,175.52 184.1,175.45 183.6,174.21 183.1,174.83 182.6,175.3 182.1,175.03 181.6,174.17 181.1,174.17 180.6,174.5 180.1,174.09 179.6,174.16 179.1,174.63 178.6,174.41 178.1,174.43 177.6,177.42 177.1,175.16 176.6,175.99 176.1,174.87 175.6,177.39 175.1,174 174.6,174.24 174.1,174.74 173.6,173.67 173.1,176.99 172.6,174.41 172.1,177.03 171.6,174.27 171.1,175.17 170.6,173.49 170.1,175.63 169.6,173.53 169.1,173.38 168.6,173.8 168.1,173.84 167.6,174.47 167.1,173.2 166.6,173.49 166.1,174.64 165.6,173.7 165.1,173.26 164.6,175.09 164.1,173.21 163.6,174.2 163.1,173.11 162.6,173.15 162.1,173.14 161.6,173.66 161.1,174.36 160.6,173.63 160.1,173.2 159.6,174 159.1,175.89 158.6,173.56 158.1,173.03 157.6,173.3 157.1,173.65 156.6,173.26 156.1,173.51 155.6,173.56 155.1,174.29 154.6,174.28 154.1,173.19 153.6,173.68 153.1,174.51 152.6,173.61 152.1,173.71 151.6,173.4 151.1,174.16 150.6,174.08 150.1,175.1 149.6,173.78 149.1,173.25 148.6,174.7 148.1,174.61 147.6,175.55 147.1,173.75 146.6,173.93 146.1,173.46 145.6,173.45 145.1,173.25 144.6,173.19 144.1,173.89 143.6,172.91 143.1,173.56 142.6,174.76 142.1,174.62 141.6,173.65 141.1,173.2 140.6,173.95 140.1,173.48 139.6,172.95 139.1,173.11 138.6,173.16 138.1,173.04 137.6,173.35 137.1,172.85 136.6,173.71 136.1,173.61 135.6,173.79 135.1,172.95 134.6,173.68 134.1,173.66 133.6,174.59 133.1,175.02 132.6,174.25 132.1,174.13 131.6,173.42 131.1,173.32 130.6,175.08 130.1,173.41 129.6,173.79 129.1,174.16 128.6,174.05 128.1,174.1 127.6,174.59 127.1,175.37 126.6,173.46 126.1,173.43 125.6,174.52 125.1,175.16 124.6,174.03 124.1,173.57 123.6,173.76 123.1,175.01 122.6,174.78 122.1,173.36 121.6,173.47 121.1,173.72 120.6,174.59 120.1,174.2 119.6,174.88 119.1,175.6 118.6,173.28 118.1,173.61 117.6,173.8 117.1,174.26 116.6,174.03 116.1,174.16 115.6,173.93 115.1,173.76 114.6,173.94 114.1,175.91 113.6,174.24 113.1,174.15 112.6,173.55 112.1,174.13 111.6,173.03 111.1,173.15 110.6,173.61 110.1,173.56 109.6,173.24 109.1,175.44 108.6,173.04 108.1,173.42 107.6,173.17 107.1,173.23 106.6,173.43 106.1,173.04 105.6,173.2 105.1,172.95 104.6,173.05 104.1,174.21 103.6,173.61 103.1,175.01 102.6,173.88 102.1,174.17 101.6,173.81 101.1,173.29 100.6,174.09 100.1,174.05 99.6,173.13 99.1,173.32 98.6,173.25 98.1,173.1 97.6,173.99 97.1,173.76 96.6,173.42 96.1,173.13 95.6,174 95.1,173.35 94.6,173.87 94.1,173.3 93.6,173.02 93.1,174.29 92.6,174.07 92.1,172.87 91.6,173.05 91.1,173.32 90.6,172.65 90.1,172.89 89.6,172.52 89.1,173.81 88.6,173.07 88.1,173.44 87.6,172.82 87.1,173.57 86.6,173.86 86.1,173.12 85.6,173.33 85.1,172.91 84.6,172.68 84.1,175.76 83.6,172.77 83.1,173.56 82.6,173.5 82.1,174.09 81.6,172.44 81.1,172.85 80.6,173.18 80.1,172.63 79.6,173.06 79.1,173.86 78.6,172.83 78.1,172.63 77.6,174.91 77.1,172.81 76.6,172.91 76.1,173.61 75.6,173.26 75.1,174.21 74.6,173.3 74.1,173.27 73.6,173.13 73.1,173.14 72.6,174.01 72.1,175.8 71.6,173.94 71.1,174.82 70.6,174.29 70.1,173.46 69.6,173.9 69.1,173.09 68.6,174.57 68.1,173.73 67.6,173.16 67.1,173.84 66.6,172.95 66.1,173.32 65.6,173.31 65.1,174.2 64.6,173.72 64.1,173.32 63.6,172.85 63.1,173.57 62.6,172.93 62.1,173.51 61.6,173.37 61.1,172.84 60.6,173.47 60.1,173.4 59.6,173.95 59.1,173.62 58.6,173.51 58.1,172.92 57.6,173.48 57.1,173.53 56.6,173.27 56.1,173.07 55.6,173.3 55.1,172.9 54.6,174.59 54.1,173.11 53.6,173.14 53.1,172.94 52.6,173.93 52.1,174.78 51.6,173.29 51.1,173.74 50.6,174.12 50.1,174.87 49.6,173.29 49.1,174.86 48.6,173.64 48.1,174.09 47.6,174.28 47.1,175.1 46.6,174.26 46.1,173.87 45.6,173.26 45.1,173.35 44.6,174.34 44.1,174.37 43.6,173.41 43.1,173.92 42.6,174 42.1,172.93 41.6,173.74 41.1,172.44 40.6,171.84 40.1,171.3 39.6,170.34 39.1,170.82 38.6,169.51 38.1,169.11 37.6,168.6 Z" fill="#000" stroke="#000" stroke-width="0.25"/>
<path d="M38.6,167.71 L39.1,168.63 L39.6,168.64 L40.1,170.77 L40.6,166.89 L41.1,167.59 L41.6,168.45 L42.1,167.65 L42.6,166.21 L43.1,161.74 L43.6,162.04 L44.1,165.9 L44.6,167.71 L45.1,172.62 L45.6,177.87 L46.1,175.49 L46.6,170.2 L47.1,176.15 L47.6,168.15 L48.1,166.5 L48.6,177.9 L49.1,164.33 L49.6,166.95 L50.1,167.56 L50.6,174.47 L51.1,166.23 L51.6,171.75 L52.1,166.98 L52.6,163.7 L53.1,169.56 L53.6,169.29 L54.1,163.97 L54.6,165.14 L55.1,165.43 L55.6,172.49 L56.1,170.47 L56.6,169.58 L57.1,170.59 L57.6,166.7 L58.1,170.54 L58.6,166.19 L59.1,163.26 L59.6,165.79 L60.1,169.47 L60.6,168.98 L61.1,172.88 L61.6,161.83 L62.1,167.74 L62.6,170.21 L63.1,164.75 L63.6,169.63 L64.1,166.98 L64.6,164.07 L65.1,173.14 L65.6,163.03 L66.1,172.66 L66.6,166.96 L67.1,164.84 L67.6,165.06 L68.1,165.65 L68.6,165.21 L69.1,169.71 L69.6,161.09 L70.1,173.63 L70.6,172 L71.1,174.23 L71.6,164.66 L72.1,159.27 L72.6,166.11 L73.1,167.95 L73.6,169.86 L74.1,166.54 L74.6,168.29 L75.1,169.24 L75.6,162.38 L76.1,175.93 L76.6,164.1 L77.1,169.7 L77.6,173 L78.1,165.47 L78.6,168.65 L79.1,175.24 L79.6,167.5 L80.1,172.87 L80.6,169.82 L81.1,169.57 L81.6,171.55 L82.1,167.71 L82.6,167.8 L83.1,172.54 L83.6,169.71 L84.1,170.66 L84.6,163.81 L85.1,168.72 L85.6,173.56 L86.1,172.3 L86.6,170.05 L87.1,166.56 L87.6,166.17 L88.1,170.43 L88.6,174.41 L89.1,168.83 L89.6,173.95 L90.1,167.45 L90.6,173.53 L91.1,164.61 L91.6,169.42 L92.1,164.33 L92.6,171.34 L93.1,170.99 L93.6,164.81 L94.1,165.64 L94.6,166.87 L95.1,162.62 L95.6,164.9 L96.1,165.15 L96.6,171.84 L97.1,174.28 L97.6,166.86 L98.1,167.49 L98.6,169.53 L99.1,166.54 L99.6,167.53 L100.1,172.06 L100.6,169.6 L101.1,168.32 L101.6,166.33 L102.1,174.64 L102.6,166.17 L103.1,169.15 L103.6,164.46 L104.1,166.24 L104.6,169.05 L105.1,167.06 L105.6,170.83 L106.1,168.94 L106.6,163.03 L107.1,159.27 L107.6,172.71 L108.1,166.28 L108.6,174.69 L109.1,168.72 L109.6,165.55 L110.1,170.93 L110.6,167.55 L111.1,168.71 L111.6,164.87 L112.1,171.26 L112.6,173.12 L113.1,166.52 L113.6,175.93 L114.1,166.34 L114.6,169.67 L115.1,161.99 L115.6,160.81 L116.1,177.23 L116.6,174.47 L117.1,173.34 L117.6,161.73 L118.1,169.58 L118.6,170.37 L119.1,168.98 L119.6,169.87 L120.1,164.9 L120.6,168 L121.1,164 L121.6,167.23 L122.1,170.17 L122.6,165.46 L123.1,167.52 L123.6,166.89 L124.1,168.71 L124.6,172.41 L125.1,169.62 L125.6,170.26 L126.1,162.76 L126.6,167.16 L127.1,171.99 L127.6,165.12 L128.1,166.87 L128.6,164.68 L129.1,174.11 L129.6,166.79 L130.1,165.66 L130.6,171.18 L131.1,173.16 L131.6,170.67 L132.1,172.68 L132.6,169.51 L133.1,168.11 L133.6,166.82 L134.1,166.54 L134.6,166.17 L135.1,170.16 L135.6,168.17 L136.1,169 L136.6,171.16 L137.1,168.41 L137.6,162.92 L138.1,165.33 L138.6,163.96 L139.1,160.65 L139.6,169.07 L140.1,163.6 L140.6,163.24 L141.1,164.1 L141.6,172.31 L142.1,167.32 L142.6,172.85 L143.1,168.25 L143.6,166.78 L144.1,171.02 L144.6,171.16 L145.1,169.12 L145.6,164.22 L146.1,166.68 L146.6,163.59 L147.1,167.52 L147.6,169.02 L148.1,174.96 L148.6,174.67 L149.1,171.52 L149.6,172.72 L150.1,169.61 L150.6,179.1 L151.1,175.2 L151.6,179.1 L152.1,170.26 L152.6,170.4 L153.1,173.17 L153.6,169.43 L154.1,169.96 L154.6,164.33 L155.1,172.7 L155.6,169.2 L156.1,172.14 L156.6,167.65 L157.1,160.85 L157.6,170.8 L158.1,173.71 L158.6,163 L159.1,164.35 L159.6,167.28 L160.1,167.52 L160.6,161.12 L161.1,176.35 L161.6,173.07 L162.1,165.88 L162.6,160.59 L163.1,170.21 L163.6,177.4 L164.1,172.28 L164.6,173.73 L165.1,164.41 L165.6,169.64 L166.1,161.91 L166.6,177.44 L167.1,171.15 L167.6,159.18 L168.1,160.32 L168.6,170.75 L169.1,169.22 L169.6,167.2 L170.1,171.37 L170.6,177.64 L171.1,170.25 L171.6,160.45 L172.1,167.88 L172.6,162.66 L173.1,164.95 L173.6,170.07 L174.1,167.82 L174.6,163.75 L175.1,168.46 L175.6,164.86 L176.1,170.99 L176.6,167.47 L177.1,170.36 L177.6,167.35 L178.1,172 L178.6,167.94 L179.1,168.51 L179.6,165.97 L180.1,169.22 L180.6,160.39 L181.1,179.1 L181.6,165.42 L182.1,169.01 L182.6,166.36 L183.1,166.29 L183.6,170.42 L184.1,166.18 L184.6,166.56 L185.1,162.14 L185.6,164.25 L186.1,163.1 L186.6,176.95 L187.1,162.31 L187.6,163.52 L188.1,169.44 L188.6,175.23 L189.1,160.59 L189.6,161.26 L190.1,169.12 L190.6,170.12 L191.1,161.86 L191.6,160.04 L192.1,163.99 L192.6,172.06 L193.1,168.32 L193.6,172.05 L194.1,168.01 L194.6,168.36 L195.1,171.43 L195.6,167.95 L196.1,169.64 L196.6,164.17 L197.1,165.65 L197.6,170.75 L198.1,167.36 L198.6,164.93 L199.1,171.66 L199.6,171.13 L200.1,168.47 L200.6,164.86 L201.1,172.81 L201.6,179.1 L202.1,164.55 L202.6,161.1 L203.1,164.75 L203.6,164.01 L204.1,162.42 L204.6,162.81 L205.1,172.57 L205.6,172.63 L206.1,175.61 L206.6,172.08 L207.1,166.19 L207.6,173.71 L208.1,165.55 L208.6,166.82 L209.1,162.84 L209.6,174.39 L210.1,173.35 L210.6,166.25 L211.1,166.98 L211.6,168.65 L212.1,169.45 L212.6,172.55 L213.1,168.8 L213.6,170.41 L214.1,161.24 L214.6,167.02 L215.1,159.82 L215.6,177.07 L216.1,175.2 L216.6,171.92 L217.1,173.83 L217.6,178.14 L218.1,173 L218.6,160.77 L219.1,167.46 L219.6,158.1 L220.1,164.52 L220.6,162.45 L221.1,168.41 L221.6,170.34 L222.1,163.97 L222.6,167.08 L223.1,169.8 L223.6,167.69 L224.1,167.58 L224.6,158.1 L225.1,166.31 L225.6,172.27 L226.1,169.69 L226.6,161.26 L227.1,167.11 L227.6,169.72 L228.1,163.71 L228.6,171.7 L229.1,164.55 L229.6,166.82 L230.1,167.9 L230.6,179.1 L231.1,166.87 L231.6,165.66 L232.1,171.9 L232.6,166.14 L233.1,169.36 L233.6,158.1 L234.1,169.87 L234.6,168.33 L235.1,162.16 L235.6,175.01 L236.1,167.26 L236.6,167.47 L237.1,162.04 L237.6,160.52 L238.1,165.66 L238.6,161.02 L239.1,170.8 L239.6,172.64 L240.1,165.33 L240.6,160.59 L241.1,166.5 L241.6,163.25 L242.1,169.23 L242.6,169.29 L243.1,166.34 L243.6,168.77 L244.1,173.48 L244.6,176.71 L245.1,165.87 L245.6,171.93 L246.1,167.25 L246.6,163.25 L247.1,174.65 L247.6,170.32 L248.1,169.09 L248.6,170.13 L249.1,167.61 L249.6,163.26 L250.1,177.07 L250.6,172.79 L251.1,169.69 L251.6,173.11 L252.1,174.68 L252.6,167.42 L253.1,171.27 L253.6,166.81 L254.1,171.55 L254.6,167.16 L255.1,179.1 L255.6,166.65 L256.1,170.92 L256.6,170.66 L257.1,166.76 L257.6,172.98 L258.1,167.99 L258.6,166.38 L259.1,168.4 L259.6,164.72 L260.1,174.26 L260.6,171.46 L261.1,173.21 L261.6,161.78 L262.1,169.72 L262.6,164.63 L263.1,168.82 L263.6,174.64 L264.1,169.66 L264.6,167.53 L265.1,173.89 L265.6,173.35 L266.1,177.46 L266.6,159.27 L267.1,170 L267.6,166.35 L268.1,164.1 L268.6,168.96 L269.1,162.69 L269.6,158.1 L270.1,163.96 L270.6,167.11 L271.1,177.57 L271.6,164.85 L272.1,162.65 L272.6,158.67 L273.1,166.67 L273.6,167.22 L274.1,169.13 L274.6,161.28 L275.1,164.65 L275.6,158.1 L276.1,169.22 L276.6,160.67 L277.1,158.1 L277.6,174.11 L278.1,170.89 L278.6,170.13 L279.1,170.12 L279.6,163.29 L280.1,173.69 L280.6,163.23 L281.1,177.82 L281.6,169.51 L282.1,159.3 L282.6,172.68 L283.1,178.13 L283.6,167.14 L284.1,173.66 L284.6,167.35 L285.1,165.3 L285.6,158.1 L286.1,174.51 L286.6,166.2 L287.1,170.28 L287.6,162.8 L288.1,163.91 L288.6,173.93 L289.1,166.49 L289.6,166.42 L290.1,162.17 L290.6,169.44 L291.1,172.26 L291.6,166.13 L292.1,167.48 L292.6,162.36 L293.1,175.36 L293.6,165.35 L294.1,167.64 L294.6,176.76 L295.1,167.29 L295.6,160.72 L296.1,163.82 L296.6,166.64 L297.1,177.27 L297.6,169.53 L298.1,167.31 L298.6,172.55 L299.1,174.91 L299.6,164.66 L300.1,175.57 L300.6,172.71 L301.1,170.67 L301.6,158.1 L302.1,169.42 L302.6,175.39 L303.1,167.08 L303.6,179.1 L304.1,168.81 L304.6,163.37 L305.1,171.41 L305.6,169.92 L306.1,172.62 L306.6,167.34 L307.1,174.97 L307.6,165.68 L308.1,169.12 L308.6,162.22 L309.1,164.46 L309.6,169.48 L310.1,165.18 L310.6,166.21 L311.1,167.43 L311.6,169.74 L312.1,172.32 L312.6,172.33 L313.1,173.62 L313.6,169.51 L314.1,165.74 L314.6,160.5 L315.1,166.73 L315.6,164.47 L316.1,159.34 L316.6,176.78 L317.1,159.22 L317.6,170.28 L318.1,171.24 L318.6,167.43 L319.1,177.24 L319.6,168.59 L320.1,165.97 L320.6,173.7 L321.1,166.52 L321.6,165.51 L322.1,166.84 L322.6,167.73 L323.1,168.62" fill="none" stroke="#000" stroke-width="0.3" stroke-opacity="0.55"/>
<path d="M177,158.6 V195.6" stroke="#333" stroke-width="0.6"/>
<rect x="42.4" y="146.4" width="0.5" height="43.9" fill="#cd8521" fill-opacity="0.5"/>
<path d="M42.52,146.4V190.3M42.77,146.4V190.3" stroke="#cd8521" stroke-opacity="0.45" stroke-width="0.25"/>
<rect x="42.9" y="146.4" width="1.2" height="43.9" fill="#de3b00" fill-opacity="0.5"/>
<path d="M43.2,146.4V190.3M43.8,146.4V190.3" stroke="#de3b00" stroke-opacity="0.45" stroke-width="0.6"/>
<rect x="44.1" y="146.4" width="2.6" height="43.9" fill="#85a205" fill-opacity="0.5"/>
<path d="M44.5,146.4V190.3M46.3,146.4V190.3" stroke="#85a205" stroke-opacity="0.45" stroke-width="0.8"/>
<rect x="48.1" y="146.4" width="0.8" height="43.9" fill="#dba22f" fill-opacity="0.5"/>
<path d="M48.3,146.4V190.3M48.7,146.4V190.3" stroke="#dba22f" stroke-opacity="0.45" stroke-width="0.4"/>
<rect x="49.8" y="146.4" width="2.4" height="43.9" fill="#de9321" fill-opacity="0.5"/>
<path d="M50.2,146.4V190.3M51.8,146.4V190.3" stroke="#de9321" stroke-opacity="0.45" stroke-width="0.8"/>
<rect x="53" y="146.4" width="3" height="43.9" fill="#b0de2f" fill-opacity="0.5"/>
<path d="M53.4,146.4V190.3M55.6,146.4V190.3" stroke="#b0de2f" stroke-opacity="0.45" stroke-width="0.8"/>
<rect x="56.2" y="146.4" width="1.7" height="43.9" fill="#cad813" fill-opacity="0.5"/>
<path d="M56.6,146.4V190.3M57.5,146.4V190.3" stroke="#cad813" stroke-opacity="0.45" stroke-width="0.8"/>
<rect x="63.2" y="146.4" width="2.1" height="43.9" fill="#a2de05" fill-opacity="0.5"/>
<path d="M63.6,146.4V190.3M64.9,146.4V190.3" stroke="#a2de05" stroke-opacity="0.45" stroke-width="0.8"/>
<rect x="76.3" y="146.4" width="1.7" height="43.9" fill="#a2e305" fill-opacity="0.5"/>
<path d="M76.7,146.4V190.3M77.6,146.4V190.3" stroke="#a2e305" stroke-opacity="0.45" stroke-width="0.8"/>
<rect x="85.4" y="146.4" width="3.5" height="43.9" fill="#a9ec21" fill-opacity="0.5"/>
<path d="M85.8,146.4V190.3M88.5,146.4V190.3" stroke="#a9ec21" stroke-opacity="0.45" stroke-width="0.8"/>
<rect x="92.3" y="146.4" width="1.8" height="43.9" fill="#9bec1a" fill-opacity="0.5"/>
<path d="M92.7,146.4V190.3M93.7,146.4V190.3" stroke="#9bec1a" stroke-opacity="0.45" stroke-width="0.8"/>
<rect x="95.3" y="146.4" width="2.7" height="43.9" fill="#9bec1a" fill-opacity="0.5"/>
<path d="M95.7,146.4V190.3M97.6,146.4V190.3" stroke="#9bec1a" stroke-opacity="0.45" stroke-width="0.8"/>
<rect x="115.2" y="146.4" width="1.6" height="43.9" fill="#85f213" fill-opacity="0.5"/>
<path d="M115.6,146.4V190.3M116.4,146.4V190.3" stroke="#85f213" stroke-opacity="0.45" stroke-width="0.8"/>
<rect x="119.5" y="146.4" width="1.5" height="43.9" fill="#85f213" fill-opacity="0.5"/>
<path d="M119.88,146.4V190.3M120.62,146.4V190.3" stroke="#85f213" stroke-opacity="0.45" stroke-width="0.75"/>
<rect x="122.4" y="146.4" width="1.6" height="43.9" fill="#7ef213" fill-opacity="0.5"/>
<path d="M122.8,146.4V190.3M123.6,146.4V190.3" stroke="#7ef213" stroke-opacity="0.45" stroke-width="0.8"/>
<rect x="125.2" y="146.4" width="1.6" height="43.9" fill="#77f213" fill-opacity="0.5"/>
<path d="M125.6,146.4V190.3M126.4,146.4V190.3" stroke="#77f213" stroke-opacity="0.45" stroke-width="0.8"/>
<rect x="128" y="146.4" width="1.5" height="43.9" fill="#70f213" fill-opacity="0.5"/>
<path d="M128.38,146.4V190.3M129.12,146.4V190.3" stroke="#70f213" stroke-opacity="0.45" stroke-width="0.75"/>
<rect x="133.3" y="146.4" width="3.9" height="43.9" fill="#5aec21" fill-opacity="0.5"/>
<path d="M133.7,146.4V190.3M136.8,146.4V190.3" stroke="#5aec21" stroke-opacity="0.45" stroke-width="0.8"/>
<rect x="139.3" y="146.4" width="2.2" height="43.9" fill="#21e305" fill-opacity="0.5"/>
<path d="M139.7,146.4V190.3M141.1,146.4V190.3" stroke="#21e305" stroke-opacity="0.45" stroke-width="0.8"/>
<rect x="142.2" y="146.4" width="3.6" height="43.9" fill="#37e621" fill-opacity="0.5"/>
<path d="M142.6,146.4V190.3M145.4,146.4V190.3" stroke="#37e621" stroke-opacity="0.45" stroke-width="0.8"/>
<rect x="147.3" y="146.4" width="1.4" height="43.9" fill="#1ae305" fill-opacity="0.5"/>
<path d="M147.65,146.4V190.3M148.35,146.4V190.3" stroke="#1ae305" stroke-opacity="0.45" stroke-width="0.7"/>
<rect x="148.7" y="146.4" width="4.4" height="43.9" fill="#13e313" fill-opacity="0.5"/>
<path d="M149.1,146.4V190.3M152.7,146.4V190.3" stroke="#13e313" stroke-opacity="0.45" stroke-width="0.8"/>
<rect x="156" y="146.4" width="1.9" height="43.9" fill="#05e32f" fill-opacity="0.5"/>
<path d="M156.4,146.4V190.3M157.5,146.4V190.3" stroke="#05e32f" stroke-opacity="0.45" stroke-width="0.8"/>
<rect x="162.8" y="146.4" width="1.5" height="43.9" fill="#00e337" fill-opacity="0.5"/>
<path d="M163.18,146.4V190.3M163.93,146.4V190.3" stroke="#00e337" stroke-opacity="0.45" stroke-width="0.75"/>
<rect x="168.4" y="146.4" width="1.4" height="43.9" fill="#21e35a" fill-opacity="0.5"/>
<path d="M168.75,146.4V190.3M169.45,146.4V190.3" stroke="#21e35a" stroke-opacity="0.45" stroke-width="0.7"/>
<rect x="171.1" y="146.4" width="4.9" height="43.9" fill="#4cec93" fill-opacity="0.5"/>
<path d="M171.5,146.4V190.3M175.6,146.4V190.3" stroke="#4cec93" stroke-opacity="0.45" stroke-width="0.8"/>
<rect x="187.2" y="146.4" width="1.7" height="43.9" fill="#00e369" fill-opacity="0.5"/>
<path d="M187.6,146.4V190.3M188.5,146.4V190.3" stroke="#00e369" stroke-opacity="0.45" stroke-width="0.8"/>
<rect x="191.8" y="146.4" width="1.5" height="43.9" fill="#00e369" fill-opacity="0.5"/>
<path d="M192.18,146.4V190.3M192.93,146.4V190.3" stroke="#00e369" stroke-opacity="0.45" stroke-width="0.75"/>
<rect x="194" y="146.4" width="1.9" height="43.9" fill="#00e369" fill-opacity="0.5"/>
<path d="M194.4,146.4V190.3M195.5,146.4V190.3" stroke="#00e369" stroke-opacity="0.45" stroke-width="0.8"/>
<rect x="199.1" y="146.4" width="1.7" height="43.9" fill="#00e370" fill-opacity="0.5"/>
<path d="M199.5,146.4V190.3M200.4,146.4V190.3" stroke="#00e370" stroke-opacity="0.45" stroke-width="0.8"/>
<rect x="203.2" y="146.4" width="1.7" height="43.9" fill="#00e374" fill-opacity="0.5"/>
<path d="M203.6,146.4V190.3M204.5,146.4V190.3" stroke="#00e374" stroke-opacity="0.45" stroke-width="0.8"/>
<rect x="206.7" y="146.4" width="1.4" height="43.9" fill="#00e374" fill-opacity="0.5"/>
<path d="M207.05,146.4V190.3M207.75,146.4V190.3" stroke="#00e374" stroke-opacity="0.45" stroke-width="0.7"/>
<rect x="211" y="146.4" width="1.5" height="43.9" fill="#00e177" fill-opacity="0.5"/>
<path d="M211.38,146.4V190.3M212.12,146.4V190.3" stroke="#00e177" stroke-opacity="0.45" stroke-width="0.75"/>
<rect x="213.3" y="146.4" width="1.5" height="43.9" fill="#00e17a" fill-opacity="0.5"/>
<path d="M213.68,146.4V190.3M214.43,146.4V190.3" stroke="#00e17a" stroke-opacity="0.45" stroke-width="0.75"/>
<rect x="220.2" y="146.4" width="1.4" height="43.9" fill="#00de7e" fill-opacity="0.5"/>
<path d="M220.55,146.4V190.3M221.25,146.4V190.3" stroke="#00de7e" stroke-opacity="0.45" stroke-width="0.7"/>
<rect x="240.4" y="146.4" width="3.1" height="43.9" fill="#00db88" fill-opacity="0.5"/>
<path d="M240.8,146.4V190.3M243.1,146.4V190.3" stroke="#00db88" stroke-opacity="0.45" stroke-width="0.8"/>
<rect x="256.4" y="146.4" width="1.9" height="43.9" fill="#00d89b" fill-opacity="0.5"/>
<path d="M256.8,146.4V190.3M257.9,146.4V190.3" stroke="#00d89b" stroke-opacity="0.45" stroke-width="0.8"/>
<rect x="258.8" y="146.4" width="2.2" height="43.9" fill="#00d89f" fill-opacity="0.5"/>
<path d="M259.2,146.4V190.3M260.6,146.4V190.3" stroke="#00d89f" stroke-opacity="0.45" stroke-width="0.8"/>
<rect x="261.3" y="146.4" width="4.6" height="43.9" fill="#2fdbb0" fill-opacity="0.5"/>
<path d="M261.7,146.4V190.3M265.5,146.4V190.3" stroke="#2fdbb0" stroke-opacity="0.45" stroke-width="0.8"/>
<rect x="267" y="146.4" width="3.3" height="43.9" fill="#00c7b0" fill-opacity="0.5"/>
<path d="M267.4,146.4V190.3M269.9,146.4V190.3" stroke="#00c7b0" stroke-opacity="0.45" stroke-width="0.8"/>
<rect x="271.9" y="146.4" width="1.7" height="43.9" fill="#00b9b3" fill-opacity="0.5"/>
<path d="M272.3,146.4V190.3M273.2,146.4V190.3" stroke="#00b9b3" stroke-opacity="0.45" stroke-width="0.8"/>
<rect x="274.4" y="146.4" width="2.4" height="43.9" fill="#00a2c1" fill-opacity="0.5"/>
<path d="M274.8,146.4V190.3M276.4,146.4V190.3" stroke="#00a2c1" stroke-opacity="0.45" stroke-width="0.8"/>
<rect x="278" y="146.4" width="1.3" height="43.9" fill="#00aab9" fill-opacity="0.5"/>
<path d="M278.32,146.4V190.3M278.98,146.4V190.3" stroke="#00aab9" stroke-opacity="0.45" stroke-width="0.65"/>
<rect x="287.1" y="146.4" width="4.9" height="43.9" fill="#4cc7be" fill-opacity="0.5"/>
<path d="M287.5,146.4V190.3M291.6,146.4V190.3" stroke="#4cc7be" stroke-opacity="0.45" stroke-width="0.8"/>
<rect x="298.1" y="146.4" width="1.6" height="43.9" fill="#2fb6b6" fill-opacity="0.5"/>
<path d="M298.5,146.4V190.3M299.3,146.4V190.3" stroke="#2fb6b6" stroke-opacity="0.45" stroke-width="0.8"/>
<rect x="300.9" y="146.4" width="2.1" height="43.9" fill="#2fb0b9" fill-opacity="0.5"/>
<path d="M301.3,146.4V190.3M302.6,146.4V190.3" stroke="#2fb0b9" stroke-opacity="0.45" stroke-width="0.8"/>
<rect x="304.6" y="146.4" width="2.2" height="43.9" fill="#21b0a2" fill-opacity="0.5"/>
<path d="M305,146.4V190.3M306.4,146.4V190.3" stroke="#21b0a2" stroke-opacity="0.45" stroke-width="0.8"/>
<rect x="308.7" y="146.4" width="2" height="43.9" fill="#2fb0b0" fill-opacity="0.5"/>
<path d="M309.1,146.4V190.3M310.3,146.4V190.3" stroke="#2fb0b0" stroke-opacity="0.45" stroke-width="0.8"/>
<rect x="311.2" y="146.4" width="4.1" height="43.9" fill="#699bb9" fill-opacity="0.5"/>
<path d="M311.6,146.4V190.3M314.9,146.4V190.3" stroke="#699bb9" stroke-opacity="0.45" stroke-width="0.8"/>
<text x="35" y="171.0" font-family="'Liberation Sans', Arial, sans-serif" font-size="6.8" fill="#222" stroke="#222" stroke-width="0.08" text-anchor="end">MDRA E</text>
<path d="M35.4,168.6 H37.6" stroke="#333" stroke-width="0.5"/>
<text transform="translate(35.6,201.9) rotate(-45)" font-family="'Liberation Sans', Arial, sans-serif" font-size="7.1" fill="#4a4a4a" stroke="#4a4a4a" stroke-width="0.06" text-anchor="end" dy="2.4">01:00</text>
<text transform="translate(59.82,201.9) rotate(-45)" font-family="'Liberation Sans', Arial, sans-serif" font-size="7.1" fill="#4a4a4a" stroke="#4a4a4a" stroke-width="0.06" text-anchor="end" dy="2.4">01:30</text>
<text transform="translate(84.04,201.9) rotate(-45)" font-family="'Liberation Sans', Arial, sans-serif" font-size="7.1" fill="#4a4a4a" stroke="#4a4a4a" stroke-width="0.06" text-anchor="end" dy="2.4">02:00</text>
<text transform="translate(108.26,201.9) rotate(-45)" font-family="'Liberation Sans', Arial, sans-serif" font-size="7.1" fill="#4a4a4a" stroke="#4a4a4a" stroke-width="0.06" text-anchor="end" dy="2.4">02:30</text>
<text transform="translate(132.48,201.9) rotate(-45)" font-family="'Liberation Sans', Arial, sans-serif" font-size="7.1" fill="#4a4a4a" stroke="#4a4a4a" stroke-width="0.06" text-anchor="end" dy="2.4">03:00</text>
<text transform="translate(156.7,201.9) rotate(-45)" font-family="'Liberation Sans', Arial, sans-serif" font-size="7.1" fill="#4a4a4a" stroke="#4a4a4a" stroke-width="0.06" text-anchor="end" dy="2.4">03:30</text>
<text transform="translate(180.92,201.9) rotate(-45)" font-family="'Liberation Sans', Arial, sans-serif" font-size="7.1" fill="#4a4a4a" stroke="#4a4a4a" stroke-width="0.06" text-anchor="end" dy="2.4">04:00</text>
<text transform="translate(205.14,201.9) rotate(-45)" font-family="'Liberation Sans', Arial, sans-serif" font-size="7.1" fill="#4a4a4a" stroke="#4a4a4a" stroke-width="0.06" text-anchor="end" dy="2.4">04:30</text>
<text transform="translate(229.36,201.9) rotate(-45)" font-family="'Liberation Sans', Arial, sans-serif" font-size="7.1" fill="#4a4a4a" stroke="#4a4a4a" stroke-width="0.06" text-anchor="end" dy="2.4">05:00</text>
<text transform="translate(253.58,201.9) rotate(-45)" font-family="'Liberation Sans', Arial, sans-serif" font-size="7.1" fill="#4a4a4a" stroke="#4a4a4a" stroke-width="0.06" text-anchor="end" dy="2.4">05:30</text>
<text transform="translate(277.8,201.9) rotate(-45)" font-family="'Liberation Sans', Arial, sans-serif" font-size="7.1" fill="#4a4a4a" stroke="#4a4a4a" stroke-width="0.06" text-anchor="end" dy="2.4">06:00</text>
<text transform="translate(302.02,201.9) rotate(-45)" font-family="'Liberation Sans', Arial, sans-serif" font-size="7.1" fill="#4a4a4a" stroke="#4a4a4a" stroke-width="0.06" text-anchor="end" dy="2.4">06:30</text>
<text transform="translate(326.24,201.9) rotate(-45)" font-family="'Liberation Sans', Arial, sans-serif" font-size="7.1" fill="#4a4a4a" stroke="#4a4a4a" stroke-width="0.06" text-anchor="end" dy="2.4">07:00</text>
<g fill="none" stroke-width="0.5">
<path d="M372.3,181.8 H540" stroke="#f3f3f3"/>
<path d="M372.3,173.6 H540" stroke="#f3f3f3"/>
<path d="M372.3,165.4 H540" stroke="#f3f3f3"/>
<path d="M372.3,157.2 H540" stroke="#e8e8e8"/>
<path d="M372.3,149 H540" stroke="#f3f3f3"/>
<path d="M372.3,140.8 H540" stroke="#f3f3f3"/>
<path d="M372.3,132.6 H540" stroke="#f3f3f3"/>
<path d="M372.3,124.4 H540" stroke="#e8e8e8"/>
<path d="M372.3,116.2 H540" stroke="#f3f3f3"/>
<path d="M372.3,108 H540" stroke="#f3f3f3"/>
<path d="M372.3,99.8 H540" stroke="#f3f3f3"/>
<path d="M372.3,91.6 H540" stroke="#e8e8e8"/>
<path d="M372.3,83.4 H540" stroke="#f3f3f3"/>
<path d="M372.3,75.2 H540" stroke="#f3f3f3"/>
<path d="M372.3,67 H540" stroke="#f3f3f3"/>
<path d="M372.3,58.8 H540" stroke="#e8e8e8"/>
<path d="M372.3,50.6 H540" stroke="#f3f3f3"/>
<path d="M372.3,42.4 H540" stroke="#f3f3f3"/>
<path d="M372.3,34.2 H540" stroke="#f3f3f3"/>
<path d="M372.3,26 H540" stroke="#e8e8e8"/>
<path d="M378.98,26 V190" stroke="#f0f0f0"/>
<path d="M385,26 V190" stroke="#e8e8e8"/>
<path d="M424.62,26 V190" stroke="#f0f0f0"/>
<path d="M447.79,26 V190" stroke="#f0f0f0"/>
<path d="M464.23,26 V190" stroke="#f0f0f0"/>
<path d="M476.98,26 V190" stroke="#f0f0f0"/>
<path d="M487.4,26 V190" stroke="#f0f0f0"/>
<path d="M496.21,26 V190" stroke="#f0f0f0"/>
<path d="M503.85,26 V190" stroke="#f0f0f0"/>
<path d="M510.58,26 V190" stroke="#f0f0f0"/>
<path d="M516.6,26 V190" stroke="#e8e8e8"/>
</g>
<path d="M372.3,26 V190" stroke="#d8d8d8" stroke-width="0.6" fill="none"/>
<rect x="434.3" y="26" width="6.3" height="164" fill="#c4c4c4"/>
<rect x="440.6" y="26" width="7.4" height="164" fill="#a4a4a4"/>
<defs><clipPath id="cb"><rect x="372" y="26" width="170" height="164"/></clipPath></defs>
<g clip-path="url(#cb)" fill="none" stroke-width="0.7" stroke-linejoin="round">
<path d="M372.3,115.2l1 3.7 1 1.6 1-1.3 1-3.7 1-5.5 1-6.5 1-6.2 1-4 1-.7 1 2.1 1 2.7 1 .9 1-2.7 1-5.9 1-6.1 1-.6 1 7.6 1 13.6 1 14.1 1 10.4 1 5.4 1 1.1 1-2.2 1-4.2 1-3.6 1-1 1 1.5 1 1.3 1-.9 1-2.7 1-2 1-.1 1 .7 1-.5 1-2.2 1-2.8 1-1.9 1-.2 1 1.5 1 2 1 .8 1-1.4 1-4 1-5.9 1-5.4 1-3.1 1 0 1 2.4 1 3.6 1 3.7 1 2.9 1 1.2 1-1 1-2.1 1-1.3 1 .3 1 .5 1-1.7 1-5 1-5.1 1-1.6 1 2.2 1 3 1 1.4 1-.8 1-3.1 1-5.8 1-11 1-16.4 1-15.9 1-5.9 1 10.4 1 16.5 1 15.6 1 12.1 1 8.1 1 5.5 1 4.1 1 2.5 1 0 1-2.7 1-4.3 1-3.6 1-.8 1 2.5 1 4.2 1 2.8 1 0 1-1.5 1-.8 1 1 1 3.3 1 4.2 1 4.6 1 3.4 1 1.6 1-.1 1-1.6 1-1.8 1 .1 1 2 1 2.5 1 1.7 1 .2 1-.8 1-1.8 1-3.2 1-4 1-2.3 1 1.2 1 4.1 1 4.6 1 4 1 2.9 1 2.2 1 1.2 1 .6 1-.3 1-1.6 1-2.9 1-3.6 1-2.9 1-1.2 1 .5 1 1.6 1 1.7 1 1.3 1 .7 1 .1 1-.2 1 .1 1 .8 1 2.4 1 2.5 1 1 1-1.2 1-4.6 1-7.6 1-7.5 1-5 1-1.3 1 2.2 1 1.3 1-.9 1-2.8 1-4.1 1-4.6 1-3.7 1-1.5 1 2.5 1 6.5 1 8.3 1 6.8 1 3.5 1 .5 1-1.2 1-1.4 1-1.5 1-2.3 1-3.6 1-4 1-3.5 1-2.2 1-.6 1 .2 1 .5" stroke="#a040e0"/>
<path d="M372.3,141.8l1-4.4 1-6 1-4.7 1-1.4 1 1 1 .9 1-.8 1-1.5 1 1.2 1 4.5 1 4.1 1 .8 1-1.8 1-2.4 1-2.3 1-2.3 1-1.4 1 1.2 1 2.9 1 1.4 1-3 1-8 1-9.3 1-2.4 1 7.7 1 12 1 9.9 1 6.8 1 4.3 1 1.5 1-1.5 1-3.9 1-5.2 1-5.1 1-3.9 1-3 1-2.2 1-1.1 1 .4 1 1.5 1 1.7 1 2.2 1 2.7 1 2.8 1 2.2 1 .6 1-1.3 1-3 1-3.9 1-3.4 1-2.6 1-1.4 1 .8 1 3.5 1 3.6 1 .7 1-3.7 1-6.8 1-8.6 1-9.6 1-9.8 1-9.2 1-6.4 1-2.1 1 2.2 1 5.1 1 7.2 1 7.8 1 6.9 1 5.6 1 5.3 1 6.8 1 5.3 1 1.4 1-3.4 1-7.5 1-8.3 1-5.2 1-.4 1 3.6 1 6 1 5.6 1 2.2 1-2.5 1-6.4 1-8.1 1-7.5 1-5.9 1-2.4 1 1.7 1 5.2 1 7.2 1 6.7 1 6.9 1 7.3 1 7.6 1 6.6 1 4.2 1 1.7 1-.6 1-2 1-2.4 1-2 1-2.7 1-4 1-3.9 1-2.4 1-1 1-.9 1-.6 1 1.5 1 4.6 1 6.2 1 5.2 1 2.1 1-1.7 1-4.4 1-5 1-2.8 1 .4 1 1.7 1 1.2 1-.5 1-2 1-2.9 1-2 1 .1 1 1.7 1 2.3 1 2.9 1 3.9 1 4.2 1 4.3 1 3.6 1 2.2 1 0 1-4.1 1-8.2 1-8.9 1-5.9 1-1.1 1 3 1 2.9 1 2.1 1 1.8 1 1.2 1 .3 1-.6 1-1.4 1-.8 1 .6 1 2 1 2.4 1 1.8 1 .6 1-.7 1-1.2 1-.5 1 .1 1 .4 1 .6 1 .9 1 .5 1-.5 1-2.1 1-3.4" stroke="#7050ff"/>
<path d="M372.3,139l1-.5 1-7 1-13.2 1-16.9 1-15.4 1-8.1 1-.7 1 2.9 1 5.2 1 9.2 1 11 1 7.8 1 2.9 1 0 1-.7 1-1.4 1-4.3 1-6.5 1-5.2 1-2.2 1-.6 1-.2 1-.8 1-1.7 1-1.5 1 .6 1 2.3 1 1.1 1-3.3 1-7.6 1-7.1 1-1.7 1 4.5 1 7.2 1 6.8 1 5.2 1 4.4 1 5.5 1 7.5 1 6.6 1 2.5 1-2.9 1-7.5 1-10.1 1-11 1-12.1 1-12.1 1-7.4 1 .8 1 7.1 1 7.9 1 4.8 1 1.2 1-1.4 1-2.7 1-2.9 1-4.7 1-9.6 1-15.4 1-12 1 1.8 1 11.7 1 8.9 1-1.6 1-13.5 1-22.1 1-19.9 1-4.1 1 16.2 1 25.9 1 21 1 12.5 1 2.8 1-.9 1 1.7 1 5.2 1 6.2 1 4.9 1 3.3 1 2.6 1 1.7 1 .7 1 .3 1 1 1 1.4 1 .2 1-2.2 1-3 1 .2 1 4.3 1 6.1 1 5.5 1 4.6 1 5.1 1 4.7 1 2.5 1-.2 1-2 1-1.5 1 .9 1 1.9 1 1.1 1-.6 1-2.5 1-4.4 1-5.5 1-5.5 1-3.2 1 .3 1 3.2 1 3.8 1 3.4 1 3.1 1 3.1 1 2.9 1 2.1 1 1 1-.8 1-2.5 1-2.9 1-1.5 1 1.4 1 3.2 1 2.6 1 .2 1-1.6 1-1.4 1 .5 1 1.9 1 2.3 1 2.3 1 2 1 2.9 1 2.9 1 1.9 1 .5 1-2.9 1-6.7 1-8.7 1-8.3 1-4.2 1 1.9 1 3.1 1 1.3 1-1.8 1-5 1-5.4 1-2.3 1 2.5 1 5.2 1 5 1 4.6 1 4.8 1 4.9 1 3 1-.4 1-3.6 1-4.5 1-3.6 1-2.1 1-1.1 1-.9 1-.7 1-.6 1-.9 1-1.3" stroke="#ffa020"/>
<path d="M372.3,108.7l1-8 1-9.7 1-5.2 1 3.1 1 6.8 1 4.6 1 2.5 1 3.7 1 5.9 1 5.6 1 3.1 1 1.1 1 .3 1-.6 1-3 1-5.7 1-7.1 1-4.8 1-.8 1 .4 1-3.6 1-11.3 1-19 1-20 1-8.5 1 7.9 1 17.2 1 17.1 1 11.3 1 3.4 1-2.3 1-2 1 4.6 1 10.1 1 8.6 1 1.7 1-5.8 1-10.5 1-9.7 1-5.1 1-.1 1 2.7 1 2.1 1 .6 1 .6 1 1 1 1.3 1 2.3 1 4 1 4.3 1 2.4 1 .2 1 0 1 1 1 0 1-2.9 1-5.1 1-4.7 1-2.4 1 .4 1 .7 1-3.7 1-11.3 1-17.8 1-18.1 1-12.3 1-5.5 1-2.3 1-1.4 1 0 1 3.8 1 14.3 1 20.4 1 21.7 1 17.5 1 9.9 1 3.4 1 .1 1-.1 1 .7 1 .2 1-1.7 1-4.3 1-6.3 1-5.6 1-.8 1 4.5 1 6.4 1 5.6 1 4.2 1 3.5 1 3.6 1 3.5 1 4 1 3.9 1 3.1 1 2 1 .7 1-.2 1 .2 1 .9 1 1.3 1 .9 1-.5 1-2.5 1-4.4 1-6 1-6.5 1-4.8 1-1.7 1 .8 1 2.3 1 3 1 3 1 1.7 1-.3 1-1.3 1-2.3 1-3.5 1-4.6 1-4.3 1-1.6 1 1.4 1 2.2 1 1 1-.2 1-.3 1 .8 1 2.1 1 2.6 1 2.1 1 1.7 1 4.1 1 6.1 1 6.3 1 4.1 1-1.4 1-7.6 1-11.8 1-12.9 1-9.5 1-1.8 1 2.7 1 4.4 1 3.7 1 1.2 1-1 1-1.5 1-.1 1 1.6 1 2 1 1.2 1 .4 1 0 1 .1 1 0 1-.4 1-.6 1-.4 1 .6 1 2.4 1 3 1 2.4 1 .9 1-.8 1-2" stroke="#ffa020"/>
<path d="M372.3,147.2l1 1.9 1-1.3 1-3.9 1-5.8 1-7.5 1-8 1-6.5 1-3 1 1.3 1 3.8 1 3.4 1 1.7 1 1 1 2.2 1 3.5 1 2.8 1-.6 1-4.9 1-7.1 1-5.8 1-2.3 1 .4 1 0 1-3.3 1-7.9 1-11.1 1-10.1 1-4.5 1 .5 1 2.3 1 2.3 1 1.9 1 1.1 1 .3 1-.2 1-.7 1-2 1-2.6 1-1.6 1 .1 1 2.2 1 3.3 1 2 1 .8 1 2.1 1 3.9 1 4.2 1 3.2 1 2.5 1 2.5 1 2.8 1 1.7 1-.6 1-2.2 1-1.5 1 1.2 1 2.3 1-.4 1-6.3 1-11.9 1-13.4 1-10.6 1-6.3 1-3.8 1-3.2 1-4.6 1-6.3 1-6.9 1-5.9 1-3.5 1-.1 1 8.6 1 12.7 1 13.3 1 11.1 1 7.5 1 4.6 1 3.4 1 3.5 1 3.6 1 3.3 1 2.2 1 1.3 1 .2 1-1 1-2.1 1-1.6 1 1 1 4.7 1 6.3 1 5.6 1 4.2 1 2.9 1 3.5 1 4.7 1 5.3 1 4.8 1 3.3 1 1.5 1 .2 1-1 1-2.1 1-3.5 1-4.9 1-4.7 1-2.5 1-.8 1-.7 1-1.1 1-.4 1 1.2 1 2.6 1 3.2 1 2.3 1 .7 1-1.1 1-1.4 1-.5 1 .3 1 1 1 1.3 1 1.7 1 1.2 1-.5 1-2.8 1-4.1 1-3.2 1-.5 1 2.6 1 4.6 1 5.1 1 4.6 1 5 1 4.5 1 2.9 1 0 1-4.4 1-8.8 1-10.8 1-9.4 1-4.7 1 1.4 1 2.4 1 1.3 1-.1 1-1.8 1-3.4 1-3.7 1-1.8 1 2 1 4.9 1 6.1 1 5.5 1 3.6 1 .3 1-3.8 1-6.6 1-6.4 1-3.1 1 1.1 1 4.2 1 4.5 1 3 1 .5 1-1.9 1-3.5" stroke="#80ff60"/>
<path d="M372.3,108.6l1-1.8 1-.1 1 1.2 1 2 1 2.8 1 4 1 3.3 1-.2 1-5.6 1-9.3 1-8.2 1-2.4 1 3.4 1 5.7 1 4.5 1 2.5 1-.7 1-3.6 1-4.6 1-1.9 1 2.4 1 5.1 1 4.8 1 3.5 1 2.6 1 1.8 1 .7 1 .4 1 1.4 1 2.2 1 1.3 1-1.7 1-4.8 1-5.6 1-3.1 1 1.1 1 2.8 1 1.7 1-.1 1-1.6 1-1.9 1-1.5 1-1.1 1-.6 1 .7 1 1.7 1 .9 1-2.1 1-6.8 1-11.6 1-13.2 1-8.5 1 .6 1 7.5 1 8.5 1 6.5 1 4.4 1 2 1-2.5 1-7.5 1-10.8 1-11.1 1-7.3 1-2.4 1-.5 1-2.7 1-5.2 1-5.2 1-1.9 1 3.9 1 7.7 1 10.5 1 6.6 1 2.5 1-.7 1-3.7 1-5.2 1-2.5 1 3 1 6.8 1 6.9 1 5 1 2.5 1 0 1-1.4 1-.6 1 1.1 1 1.4 1 1.7 1 2.7 1 4.1 1 5 1 5.1 1 6.4 1 6.8 1 4.8 1 1.3 1-1.6 1-2.7 1-1.7 1-1.5 1-2.1 1-2.8 1-3.7 1-3.9 1-2.8 1-.4 1 2.1 1 3.3 1 2.6 1 .7 1-.3 1 .6 1 2.8 1 3.9 1 3.2 1 2 1 1.1 1 .7 1 .7 1 .3 1 .4 1 .3 1 .1 1-.8 1-1.3 1-1.1 1-.4 1-.1 1 .4 1 1.8 1 4 1 6.5 1 6.6 1 4.6 1 1.4 1-3.7 1-8.8 1-10.7 1-8 1-2.6 1 1.9 1 .8 1-1 1-.8 1 .1 1 1.2 1 2 1 2.6 1 3.2 1 3 1 2.3 1 1.5 1 .8 1 .2 1-1.1 1-1.9 1-1.7 1-1.4 1-1.6 1-1.9 1-1.8 1-.9 1 .3 1 .7 1 .4" stroke="#0020ff"/>
<path d="M372.3,118.8l1 5.4 1 4.8 1 1.6 1-1.2 1-1.5 1 .8 1 2.3 1 2.2 1 1.3 1 .6 1-1.1 1-3.5 1-5.3 1-5 1-3.5 1-3 1-4.1 1-3.1 1 .2 1 2.2 1 .5 1-1.6 1-2 1-.8 1-.1 1-.5 1-.9 1-.4 1 1 1 2.4 1 3.2 1 3.4 1 3.3 1 2.4 1-.6 1-6 1-11.2 1-12.1 1-7.7 1-2.8 1-.6 1-.2 1-.3 1 .4 1 1.6 1 1.4 1 .9 1 .7 1 .3 1-.4 1 .2 1 2.7 1 4.6 1 3.4 1-.6 1-3.5 1-3.3 1-2 1-3 1-5.1 1-6.8 1-8.8 1-10.4 1-9.3 1-4.4 1 .7 1 4.9 1 8.7 1 12.8 1 14.3 1 11.2 1 7.7 1 1.7 1-1.7 1-1.5 1 1 1 3.1 1 2.5 1-1 1-5.3 1-7.5 1-5.5 1-.9 1 3.4 1 5.2 1 5 1 4.8 1 5.8 1 8.1 1 8.6 1 6.6 1 3.8 1 1.4 1 1 1 1.2 1 .8 1-.2 1-1.8 1-3 1-3.4 1-3.1 1-2.7 1-2.1 1-1.5 1-.4 1-.8 1-3.6 1-7.3 1-9.3 1-7 1-2.1 1 2.4 1 5.1 1 5.9 1 4.7 1 1.9 1-.9 1-3 1-4.1 1-3.8 1-2.5 1-.3 1 2.2 1 3.7 1 3.3 1 1.9 1 .5 1 .2 1 1 1 2.4 1 4.1 1 5.1 1 7.6 1 8.1 1 6.3 1 2.3 1-3.9 1-9.8 1-11.8 1-9.2 1-3 1 3.5 1 3.3 1 .5 1-2.5 1-4.9 1-5.1 1-2.5 1 1.8 1 5.4 1 6.9 1 6.5 1 5.3 1 2.9 1 .1 1-2.6 1-3.7 1-2.6 1-.4 1 1.9 1 3 1 2.3 1 .9 1-.4 1-1.4 1-2.4" stroke="#40e8e0"/>
<path d="M372.3,116.5l1 1 1 1.1 1 1.9 1 2.5 1 1.6 1-.3 1-2.6 1-3.6 1-2.9 1-1 1 .1 1-1.5 1-4.4 1-6.5 1-6.2 1-5.1 1-6.8 1-9.7 1-10.2 1-4.9 1 3.1 1 9 1 9.5 1 6.9 1 3.7 1 1.7 1 1.1 1 .6 1-.6 1-2.1 1-2.1 1-1.2 1 0 1 .8 1 2.3 1 4.3 1 5 1 3.1 1-.6 1-4.9 1-7.1 1-6.5 1-4 1-.4 1 4.2 1 8 1 8.9 1 7 1 3.9 1 1.8 1 1.2 1 .5 1-.7 1-1.5 1-1.5 1-.5 1 .1 1-.7 1-4 1-7.4 1-8.9 1-7.8 1-4.3 1-.7 1 1.2 1 1.2 1 1.3 1 3.3 1 7.1 1 9.5 1 8.1 1 5.9 1 1.3 1-2.8 1-5.4 1-6.1 1-4.6 1-1.3 1 1.3 1 2.1 1 1.9 1 1.3 1 .6 1-.7 1-.9 1 .3 1 1.5 1 1.6 1 1.6 1 1.9 1 2 1 1.4 1-.1 1 .1 1 2 1 3.8 1 4.1 1 2.5 1 .5 1-.4 1-.5 1-.6 1-1 1-2.4 1-3.3 1-3.8 1-3.9 1-3 1-1.3 1 1 1 2.5 1 3.2 1 3.6 1 3.3 1 1.6 1-.7 1-1.5 1-.4 1 1.6 1 2.3 1 1 1-.6 1-1.7 1-1.7 1-1 1 .3 1 1.4 1 2 1 2.1 1 1.8 1 1.6 1 1.5 1 3.6 1 5.3 1 5.1 1 2.6 1-2.5 1-7.4 1-9.3 1-8.3 1-5.2 1-1.1 1-.4 1-.7 1-1.1 1-1.8 1-1.7 1-.6 1 1.4 1 2.8 1 3 1 2.7 1 2.2 1 1.6 1 .7 1-1 1-2.9 1-4.2 1-4.1 1-2.4 1-.5 1-.1 1-.5 1-.7 1-.5 1 .2" stroke="#2a50e8"/>
<path d="M372.3,94.9l1-2.7 1 3.5 1 5.6 1 2.3 1-2 1-2.7 1-.2 1 1.1 1-.7 1-3.6 1-6.6 1-8.2 1-7.1 1-3 1 1.7 1 4.1 1 2.3 1-1.4 1-3.7 1-2.9 1-.3 1 1.6 1 .5 1-2.5 1-5 1-5.2 1-1.9 1 3.5 1 6.4 1 4.4 1 2.1 1 3.9 1 8.8 1 10.8 1 6.7 1-2.4 1-12 1-16.3 1-10.1 1 .2 1 5.8 1 7.3 1 8.4 1 10.5 1 11.4 1 9.4 1 6.1 1 3 1 1.1 1-.4 1-2.6 1-6 1-9.3 1-10.2 1-7.8 1-3.8 1-1.3 1-.8 1-1.9 1-2.3 1-2.6 1-4.4 1-7.3 1-8.6 1-7.7 1-5.9 1-5.1 1-5.8 1-6 1-3.3 1 2.1 1 11 1 12.6 1 10.6 1 8.5 1 6.3 1 4.4 1 1.4 1-2.5 1-4.4 1-2.2 1 2.6 1 5.5 1 4.3 1 .5 1-2.6 1-3.2 1-1.7 1 .7 1 2 1 2.9 1 3.4 1 3.1 1 4.8 1 7.4 1 8.6 1 8 1 5.8 1 4 1 2.9 1 1.5 1 .1 1-1.3 1-3.4 1-5.5 1-6.5 1-4.5 1 .4 1 5 1 6.5 1 5.6 1 3.8 1 2.1 1 .2 1-2.1 1-4.3 1-4.9 1-4 1-2.6 1-.7 1 1.7 1 4.3 1 5.1 1 3.8 1 1.1 1-1.1 1-2.4 1-2.5 1-1.1 1 1.8 1 4.6 1 5.5 1 5.6 1 4.3 1 2.6 1 .4 1-3.6 1-7.7 1-8.9 1-8.4 1-6.9 1-4 1-3.2 1-2.1 1-.5 1 .1 1 .3 1 1.2 1 3.1 1 5 1 5.6 1 4.9 1 3.1 1 .9 1-1.7 1-4.6 1-6.7 1-6.3 1-3.6 1-.2 1 2.6 1 3.1 1 1.9 1-.8 1-3.5 1-4.3" stroke="#f8c830"/>
<path d="M372.3,107.6l1-4 1 .3 1 3.6 1 3.6 1 1.8 1 1.5 1 2.6 1 2.8 1 1.2 1 .1 1 0 1-.5 1-2.9 1-6.3 1-9.8 1-11.7 1-11.4 1-7.4 1-.2 1 6.1 1 7.7 1 6.4 1 5.9 1 7.3 1 6.9 1 2.2 1-5.6 1-11.7 1-10.5 1-1.4 1 6.4 1 5 1-3 1-11 1-12.9 1-7.1 1 .6 1 3.9 1 4.4 1 5.9 1 7.8 1 5.3 1-3 1-13.6 1-19.3 1-13.8 1 1.5 1 14.2 1 17.6 1 15.5 1 12.2 1 8.9 1 5.5 1 1.7 1-3.1 1-8.9 1-15 1-20.9 1-27.2 1-30.5 1-24.2 1-7.9 1 9.8 1 16.7 1 9.2 1-5.1 1-11.7 1-2 1 16.8 1 25.2 1 19.3 1 11.2 1 .5 1-7.1 1-9.1 1-5.2 1 .5 1 3.5 1 3.5 1 4.6 1 7.8 1 11 1 11.5 1 8.6 1 4.2 1 .6 1 0 1 1.8 1 3.5 1 2.9 1 1.2 1 .8 1 2.2 1 5.2 1 6.7 1 5.5 1 2.8 1-.3 1-2.9 1-4.6 1-5.3 1-4.9 1-3.4 1-3.3 1-4 1-4.1 1-3 1-1.9 1-1.1 1 .3 1 1.8 1 2.9 1 2.8 1 2.3 1 1.3 1-.4 1-1.8 1-2 1-1.2 1 .4 1 1.1 1 .9 1-.2 1-1.5 1-2.3 1-.6 1 2.7 1 5.4 1 5.7 1 3.7 1 1.3 1 .1 1 2.9 1 6 1 6.7 1 4.1 1-2.2 1-8.8 1-12.6 1-11.7 1-5.7 1 1.7 1 3.2 1 2.1 1 .7 1-.4 1-.8 1-.2 1 .8 1 1.8 1 2.5 1 3.4 1 4.6 1 4.9 1 3.5 1 .4 1-3.3 1-5.8 1-6.3 1-3.8 1 .9 1 4.2 1 4 1 1.3 1-1.9 1-3.5" stroke="#7050ff"/>
<path d="M372.3,93.9l1-.9 1-.6 1-.5 1 .5 1 1.9 1 3.4 1 4.9 1 5.3 1 3.3 1-1.5 1-9.4 1-16.5 1-15.6 1-4.1 1 7 1 8 1 2.3 1-2.5 1-3.6 1-1.5 1 3 1 8.3 1 9.8 1 5.9 1-.4 1-5.6 1-7.3 1-5 1-.4 1 3.8 1 6.4 1 6.7 1 6 1 4.4 1 1.6 1-1.9 1-4.1 1-4 1-2.8 1-2.8 1-3.6 1-4.8 1-6.2 1-5.7 1-2 1 1.4 1 1.8 1 .2 1 .2 1 2.3 1 4.6 1 4.9 1 2.2 1-2.4 1-5.6 1-2.7 1 5.3 1 10.3 1 7 1-.3 1-6.9 1-10.1 1-7.5 1 .2 1 6.4 1 4.6 1-3.9 1-14.3 1-20 1-16.1 1-5.7 1 7.9 1 14.8 1 18.6 1 17.9 1 12 1 4.8 1-1.2 1-4.6 1-4.7 1-.8 1 3.7 1 5.3 1 3.1 1-.6 1-3.8 1-5.8 1-5.6 1-3.3 1-.2 1 3.3 1 7.4 1 10.2 1 11.6 1 10.4 1 7.6 1 4.5 1 1.3 1-2 1-4.6 1-5.8 1-4.4 1-1.4 1 .3 1 0 1-1.7 1-3.2 1-3.2 1-1.5 1 .6 1 1.5 1 1 1-.1 1-.7 1-1 1-.8 1 .6 1 1.9 1 2.2 1 1.6 1 1.2 1 1.1 1 .3 1-1.4 1-2.8 1-2.7 1-.5 1 2 1 2.7 1 2.1 1 1.4 1 1.6 1 4.9 1 7.4 1 6.7 1 3.3 1-2.5 1-7.8 1-10.2 1-8.9 1-4.5 1 .7 1 1.6 1 1.2 1 .5 1-1 1-2.4 1-2.4 1-.9 1 2.1 1 4.5 1 5 1 3.5 1 1.4 1-.6 1-2.1 1-3.3 1-4 1-3.7 1-2.8 1-1.9 1-2.1 1-2.2 1-1.5 1 .3 1 2" stroke="#80ff60"/>
<path d="M372.3,112.4l1 3.7 1 2.9 1 .2 1-1.7 1-1.6 1-1.1 1-1.8 1-3 1-1.7 1 1.5 1 2.9 1 2.1 1 .9 1 .6 1-.3 1-2.4 1-4.3 1-3.1 1-.1 1 1.1 1 .2 1-.4 1 .6 1 2.6 1 3.3 1 .7 1-3.8 1-6.9 1-6.6 1-4.8 1-3 1-1.1 1 .9 1 1.6 1 .2 1-.4 1 1.2 1 3.8 1 3.4 1 .4 1-1.2 1 .3 1 1.9 1 1.3 1-.7 1-2.4 1-1.7 1 1.7 1 5.5 1 7.2 1 5.4 1 0 1-6.9 1-11.8 1-11 1-4.9 1 2.1 1 6.8 1 8 1 5.7 1 1.1 1-3.7 1-7 1-9.9 1-14.9 1-19.5 1-15.5 1-2.4 1 8.4 1 9.3 1 4.5 1 4.4 1 5.7 1 9 1 10.8 1 9 1 4.7 1-.6 1-4.6 1-4.8 1-1.7 1-.9 1-4.1 1-7.3 1-5.3 1 1.8 1 8.4 1 10.8 1 10 1 6.8 1 3.1 1 .6 1-.4 1 1.6 1 4 1 5.6 1 5.6 1 3.9 1 1.5 1-.6 1-2.1 1-2.5 1-1.6 1-1.2 1-2.1 1-4.1 1-6 1-5.7 1-3.3 1-.9 1 .3 1 1.7 1 3.9 1 5.1 1 4 1 .5 1-2.5 1-4 1-3.3 1-1.9 1-.7 1 .4 1 1.8 1 2.9 1 2.3 1 .3 1-1.1 1-.4 1 1.8 1 3.2 1 2.4 1 1.2 1 3.1 1 5.4 1 5.4 1 2.9 1-2.6 1-7.6 1-8.9 1-7.2 1-3.3 1 1 1 1.2 1 .5 1 0 1-1.5 1-4 1-5.2 1-3.4 1 1.2 1 5.3 1 6.8 1 5.5 1 2.9 1 .2 1-2.3 1-3.4 1-2.4 1 .1 1 2.3 1 3.6 1 3.3 1 2.5 1 1.5 1-.2 1-2.2" stroke="#8060f0"/>
<path d="M372.3,89.4l1-3.2 1 1.4 1 5.1 1 5.8 1 4.8 1 4.2 1 3.4 1 .6 1-3.3 1-5.3 1-4.4 1-1 1 2 1 2 1-1.6 1-6.9 1-12.7 1-16.1 1-14.3 1-5.6 1 4.7 1 11.3 1 12.1 1 10.4 1 8.5 1 5.4 1 1 1-2.4 1-2.3 1 1.3 1 4.9 1 4.6 1 1.3 1-2.6 1-4 1-1.6 1 2.6 1 3.9 1 1.4 1-1.8 1-1.7 1 .8 1 1.9 1 1.5 1 1.1 1 .3 1-1.1 1-2.4 1-2.2 1 .6 1 3.2 1 2.6 1-1.3 1-6.9 1-11.8 1-13.3 1-10.4 1-5.6 1-2.5 1-.2 1 1.6 1 2.4 1 3.5 1 5.8 1 7.9 1 6.7 1 2.7 1-1.6 1-1.7 1 1.5 1 3.1 1 3.3 1-.5 1-2.6 1-1.8 1-.5 1-.8 1-2.6 1-3.5 1-1.5 1 2.9 1 6.1 1 6.4 1 5 1 2.7 1 .6 1-1.2 1-1.9 1-.2 1 3.1 1 6 1 6.9 1 5.6 1 4.2 1 2.9 1 2.1 1 1.2 1-.3 1-2 1-2.8 1-2 1 0 1 1.8 1 1.9 1 .7 1-1.1 1-2.6 1-3.6 1-3.4 1-2 1 0 1 1.8 1 2.3 1 1.4 1-.5 1-2.4 1-2.2 1-.5 1 1.1 1 2.2 1 2.8 1 3.8 1 4.1 1 2.9 1 .5 1-1.9 1-3.5 1-3.3 1-2.1 1-.5 1 .6 1 1.4 1 4.5 1 6.7 1 6.7 1 4.3 1-.9 1-6.6 1-10.1 1-10.3 1-6 1 .7 1 2.6 1 1.5 1-1.1 1-4.4 1-6.9 1-6.7 1-3.4 1 1.3 1 4.4 1 5.3 1 4.9 1 4.1 1 3 1 1.4 1-.6 1-2.3 1-3.4 1-3.9 1-3.2 1-2.2 1-.2 1 1.4 1 1.3 1 .3" stroke="#40e8e0"/>
<path d="M372.3,113.3l1-2 1-3.1 1-.7 1 4.3 1 6.6 1 4.2 1-1.1 1-5.9 1-7.5 1-3.8 1 2.3 1 5.7 1 4.4 1-.4 1-5.7 1-9.7 1-11.7 1-10.2 1-3.2 1 7.7 1 13.7 1 12.1 1 7.5 1 4 1 1.9 1-.8 1-3.2 1-2.6 1 .8 1 2.6 1 0 1-5.9 1-11.7 1-12.2 1-4.8 1 4.4 1 8 1 6.1 1 2.2 1-2.1 1-4.4 1-3.6 1-.8 1 1.6 1 3.1 1 3.2 1 2.9 1 2.4 1 1.6 1 .7 1-.1 1-2.1 1-5 1-6.6 1-4.3 1 .7 1 4.4 1 4.4 1 2.4 1 1.5 1 1 1-.9 1-3.2 1-3.9 1-3.1 1-2.9 1-5.3 1-9.8 1-12.3 1-9.1 1-2 1 7.4 1 10.8 1 12.3 1 12.8 1 11.2 1 8.1 1 4 1-.4 1-3.8 1-4.5 1-2.9 1-.2 1 1.7 1 1.6 1-.2 1-2.8 1-3.3 1-.1 1 3.9 1 5.2 1 4.2 1 2.8 1 3.7 1 5.3 1 6.5 1 6.2 1 4.5 1 2.5 1 .5 1-1.3 1-3.2 1-5.1 1-6.7 1-6.7 1-5 1-2.8 1-1.3 1-.8 1-.6 1-.5 1 .1 1 1.5 1 2.8 1 2.9 1 1.1 1-1.2 1-3.6 1-4.7 1-3.1 1 .7 1 4.2 1 5.1 1 3.5 1 .9 1-1.4 1-2.3 1-1.7 1 .1 1 2.2 1 3.4 1 3.7 1 5 1 5.4 1 4.5 1 2.1 1-2.5 1-7.2 1-9.7 1-9.7 1-6.4 1 .1 1 2.9 1 3 1 .9 1-2.5 1-5 1-5.2 1-2.4 1 1.7 1 4.6 1 5.6 1 5.2 1 4.3 1 3.3 1 2 1 0 1-2.3 1-4.6 1-5.6 1-4.3 1-2.3 1-.7 1 .1 1 .4 1 .6" stroke="#00f0a0"/>
<path d="M372.3,137.8l1 .2 1-1.5 1-1.4 1 .6 1 2.2 1 2.3 1 1.2 1-.8 1-2.9 1-4 1-4.1 1-5.4 1-8.4 1-10.4 1-6.3 1 2.6 1 8.4 1 9.1 1 8.6 1 8.2 1 7.2 1 4.7 1 .9 1-3.7 1-7.9 1-10.1 1-8.2 1-3.4 1 .9 1 2.6 1 2.4 1 1.6 1 1.3 1 .1 1-2.7 1-5.3 1-5.1 1-2 1 1.2 1 1.6 1-.1 1-2.3 1-3.2 1-1.2 1 2.4 1 4.2 1 4.3 1 3.7 1 3.5 1 4 1 4.4 1 3.8 1 1.6 1-1.5 1-4.6 1-6.6 1-6.7 1-5.1 1-3.9 1-3.1 1-3.5 1-5.8 1-9.4 1-12 1-11.4 1-7.8 1-3.1 1 1.5 1 6.5 1 9.7 1 8.3 1 6.2 1 1.2 1-2.2 1-3.7 1-4.6 1-4.5 1-2.6 1-.7 1 .2 1 1.9 1 6.1 1 9.1 1 6.7 1 1.6 1-1.5 1-.5 1 2 1 3.5 1 2.9 1 1.5 1 .2 1-.1 1 2.3 1 4.2 1 3.9 1 2.6 1 2.2 1 3 1 3.9 1 2.7 1-.4 1-3.3 1-4.7 1-3 1-.1 1 .8 1-.5 1-2.2 1-2.1 1 .7 1 4.5 1 6.2 1 4.6 1 .8 1-2.7 1-3.8 1-2.5 1 .2 1 2.6 1 3.4 1 3.1 1 1.8 1 0 1-1.4 1-.3 1 2.5 1 4.8 1 4.7 1 3.1 1 1.8 1 1.5 1 2.8 1 3.6 1 2.8 1 .9 1-3 1-6.9 1-8.1 1-6.8 1-3.5 1 .5 1 1 1 .2 1-1.1 1-2.7 1-3.8 1-3.2 1-1.2 1 1.1 1 2.7 1 3.7 1 3.9 1 3 1 1.2 1-.9 1-2.7 1-3.3 1-2.9 1-1.9 1-.7 1-1.2 1-2.2 1-2.7 1-2.3 1-1" stroke="#ff9060"/>
<path d="M372.3,113.6l1-4.1 1-.8 1 3.5 1 4.5 1 1.9 1-.8 1-1.8 1-1.7 1-1.9 1-1.4 1-.1 1 1.1 1 .6 1-.9 1-1.4 1 .4 1 2.1 1 2 1 .6 1-1.5 1-3.8 1-4 1-.4 1 5.1 1 7.5 1 4.2 1-2.1 1-8.1 1-10.1 1-5.7 1 3.4 1 10 1 9.7 1 5.1 1 .2 1-2.9 1-3.6 1-3.2 1-2.5 1-2.1 1-.7 1 1.7 1 3.2 1 2.6 1 .4 1-1.9 1-2.1 1 0 1 1.5 1 .4 1-1.6 1-2.7 1-1.9 1-1.1 1-2.3 1-4.4 1-5.9 1-5.9 1-5.3 1-3.1 1 0 1 .4 1-3.5 1-9.2 1-12.2 1-9.9 1-4.7 1-1.9 1-1.2 1-.4 1 1 1 5.3 1 5.4 1 6.7 1 9.7 1 9.5 1 4.6 1-2.2 1-7.9 1-9.8 1-8.4 1-4.9 1-.9 1 2.4 1 3.4 1 2 1 .1 1 1.1 1 7.5 1 13.4 1 14.1 1 10.3 1 5.6 1 4.5 1 5.3 1 5.5 1 3.8 1 .6 1-2.5 1-3.8 1-3 1-.9 1 1.2 1 1.2 1 .4 1-.5 1-1.7 1-3 1-4.5 1-4.6 1-3 1 .1 1 2.3 1 2.7 1 2.3 1 1.9 1 2.5 1 3 1 3.4 1 4.1 1 3.8 1 2.6 1 .3 1-1.9 1-3 1-2.9 1-1.9 1-.9 1-.8 1-.3 1 .6 1 1.7 1 4.2 1 4.9 1 3.6 1 .9 1-4.4 1-9.3 1-9.9 1-7.4 1-3.4 1 .9 1 1.1 1 .4 1 .3 1-.4 1-1 1-.8 1-.2 1 1 1 1.9 1 2.9 1 4.4 1 5.7 1 5.8 1 3.6 1-.1 1-3.4 1-4.4 1-2.3 1 1.5 1 3 1 2.1 1 .3 1-1.1 1-2" stroke="#40ff40"/>
<path d="M372.3,75.4l1 6.3 1 4 1-.2 1-1.8 1 .8 1 4.2 1 4.7 1 2.4 1-.3 1-3 1-6.3 1-8.6 1-6 1 .3 1 4.1 1 2.4 1-2.2 1-2.4 1 5 1 13.5 1 14.8 1 10.5 1 3.9 1-2.5 1-7.5 1-8.1 1-3.6 1 1.9 1 3.6 1 .6 1-4.3 1-8.4 1-8.2 1-2.2 1 6.3 1 11.1 1 9.7 1 4.6 1-1.8 1-8.1 1-11 1-9.4 1-6.6 1-7.4 1-10.7 1-9.8 1 1.1 1 14.6 1 17 1 9.3 1-.5 1-6.6 1-7.4 1-5.2 1-5.1 1-8.3 1-12.2 1-14.3 1-14.3 1-11.3 1-5.4 1 3.3 1 12.7 1 16.2 1 10.7 1 .6 1-5.9 1-6.1 1-1.1 1 3.9 1 5.1 1 8.3 1 9.2 1 10.7 1 10.4 1 6.7 1 2.1 1-2.3 1-6.3 1-9.7 1-10.3 1-6.2 1-.4 1 3.2 1 4.1 1 4.4 1 4.3 1 3.9 1 4.3 1 4.5 1 3.9 1 2.5 1 1.3 1 3 1 6.6 1 9.6 1 9.5 1 6 1 .7 1-4.2 1-7.3 1-6.9 1-4 1-2.3 1-2.3 1-3.3 1-5 1-5.9 1-4.3 1 .7 1 6.6 1 10.2 1 9.9 1 5.8 1 .6 1-3.3 1-3.4 1-1.8 1-1.8 1-3.7 1-5.6 1-4.4 1-.8 1 2.3 1 3.7 1 4.7 1 5.8 1 6.1 1 4.7 1 2.3 1-.3 1-1.3 1 1.7 1 5.1 1 6.1 1 4 1-1.5 1-6.7 1-8.8 1-8.1 1-4.4 1 1.1 1 3 1 3.4 1 2.6 1 .3 1-1.6 1-2.1 1-.9 1 1 1 2.6 1 3.1 1 2.6 1 2.1 1 2.1 1 2 1 .3 1-2.4 1-5.3 1-6.5 1-4.7 1-1 1 3.1 1 5.4 1 4.7 1 1.9" stroke="#60ff30"/>
<path d="M372.3,142.7l1 .2 1-1 1-2.6 1-4 1-4.4 1-3 1-.6 1 .8 1 .6 1 .6 1 1.2 1 1.4 1-.2 1-3.8 1-8.7 1-13.2 1-15.1 1-11.4 1-3.4 1 4.1 1 8 1 9.8 1 10 1 8.7 1 5.7 1 1.3 1-3.2 1-5.8 1-5.5 1-2.5 1 1.2 1 3.1 1 2.4 1-.1 1-3.2 1-6.1 1-8.4 1-9 1-7.5 1-5 1-2.3 1 .9 1 4.8 1 7.6 1 7.4 1 4.2 1 .7 1-1.5 1-3.6 1-5.6 1-5.8 1-3 1 .6 1 2.3 1 1.4 1-1.6 1-5.9 1-9.9 1-11.6 1-9.6 1-5.9 1-3.5 1-1.1 1 3.7 1 9.3 1 12 1 11.4 1 8.9 1 6.1 1 3.7 1 1.4 1 1.7 1 .4 1 .2 1 1.6 1 2.1 1 2.1 1 2.3 1 2 1 .6 1-1.6 1-3.2 1-2.8 1-1.1 1 .9 1 2.8 1 4.8 1 6.1 1 6.7 1 5.5 1 3.1 1 1.2 1 .8 1 2.3 1 3.6 1 3.9 1 3.5 1 2.4 1 .9 1-1.1 1-3.3 1-4.9 1-5.5 1-5.8 1-5.7 1-5 1-3.4 1-1 1 1.5 1 3.8 1 5 1 4.6 1 3.4 1 1.7 1 .8 1 .3 1 .3 1-.3 1-1 1-1.4 1-1.8 1-1.9 1-1.8 1-.8 1 .9 1 2.4 1 2.9 1 2.6 1 1.5 1 1 1 1.6 1 2.5 1 4.3 1 4.9 1 4 1 1.9 1-2.4 1-6.8 1-9.8 1-10.7 1-8.2 1-1.8 1 1.4 1 1.9 1 0 1-3.5 1-6.6 1-6.6 1-2.5 1 3.6 1 7.4 1 7.3 1 4.8 1 2.1 1 .1 1-.9 1-1.3 1-1.7 1-2.3 1-3 1-2.8 1-1.9 1 0 1 1.5 1 1.8 1 .9" stroke="#6040ff"/>
<path d="M372.3,126.7l1 1.3 1-1.1 1-3.2 1-3.3 1-2.2 1-2.5 1-4.8 1-7.4 1-6 1-.3 1 3.4 1 .8 1-5 1-7.6 1-2.7 1 7.6 1 13.4 1 11.3 1 4.7 1-3 1-10 1-13.3 1-8.9 1 1.5 1 11.1 1 14 1 10.8 1 4.3 1-2.8 1-7.8 1-9.1 1-7.5 1-4.8 1-.4 1 5 1 7.8 1 6 1 1.3 1-3.1 1-6.4 1-7.6 1-8 1-8.7 1-8.3 1-4.7 1 .3 1 3.5 1 3.1 1 .3 1-1.8 1-.6 1 4.3 1 10.2 1 12.2 1 8.3 1 1.7 1-3.5 1-4.6 1-2.4 1-.2 1-1.8 1-7.5 1-11.3 1-6.6 1 4.1 1 8.4 1 3.9 1-4.2 1-11.2 1-13.4 1-8.1 1 6.8 1 14.4 1 12 1 4 1-3 1-3.9 1 1.7 1 7.1 1 6.3 1 1.1 1-3.6 1-4.3 1-3.2 1-3.2 1-2.8 1 2.3 1 9.7 1 12.9 1 9 1 2.5 1-2.4 1-3.5 1 .7 1 5.6 1 7.4 1 5.6 1 1.4 1-3.4 1-6.5 1-5.9 1-1.7 1 2.1 1 2.1 1-.3 1-2.7 1-3.8 1-2.9 1-1.1 1-.4 1-1.3 1-1.5 1 .6 1 4 1 6.1 1 5.8 1 4.4 1 2.4 1 .1 1-1.3 1-1.1 1-.2 1-.3 1-2 1-3.9 1-3.9 1-1.1 1 3.2 1 5.6 1 5.3 1 3.7 1 1.7 1 1.8 1 2.6 1 2.6 1 .6 1-4.4 1-9.9 1-12.2 1-10.6 1-5.8 1-.4 1 .9 1 2.1 1 4 1 4.1 1 2 1-1.3 1-4.1 1-5.2 1-3.6 1 1 1 6.3 1 8.9 1 7.7 1 3.4 1-1.9 1-7.1 1-10.1 1-8.8 1-3.8 1-.5 1-.2 1-.7 1-.6 1 .3" stroke="#ff7040"/>
<path d="M372.3,109.4l1-2.3 1-1 1-.6 1-1.3 1-.8 1 2.8 1 5.9 1 5 1 .2 1-4.4 1-6.6 1-4.7 1 .6 1 5 1 5.5 1 2.7 1-1.6 1-5.3 1-6.7 1-5 1-2.2 1 .2 1-.4 1-3.2 1-5 1-3.3 1 .5 1 3.5 1 3.9 1 3.2 1 2.9 1 2.6 1 1.4 1-.3 1-2.3 1-4.4 1-6.9 1-8 1-6 1-2.4 1 .2 1 .8 1 .9 1 3.2 1 6.3 1 6.6 1 4.2 1 1.8 1 .5 1 .4 1 .6 1 .7 1 .5 1 0 1 .1 1 1.3 1 2.9 1 3.3 1 2 1 1 1 .5 1-1 1-4.2 1-8.1 1-10.5 1-9.8 1-6.6 1-2.4 1 3.1 1 8.8 1 10.9 1 10.6 1 6.1 1 2.8 1 1.5 1 .2 1-1.5 1-3 1-4.3 1-4.9 1-4.8 1-3.7 1-1.9 1-.1 1 2.2 1 4.7 1 5.4 1 3.5 1 .9 1-.5 1 .1 1 2.2 1 4.5 1 6.9 1 7.8 1 7.2 1 5.5 1 3 1 0 1-2.5 1-4.1 1-4.1 1-3.3 1-3.7 1-4.9 1-5.9 1-5.8 1-4.5 1-2.3 1 .5 1 3.1 1 4.6 1 4.8 1 4 1 2.2 1-.4 1-2.2 1-3.5 1-4 1-4.1 1-3.5 1-1.3 1 1.7 1 3.9 1 4.2 1 3.1 1 1.9 1 1.4 1 1.7 1 2.6 1 3.2 1 3.7 1 6.1 1 7.5 1 6.9 1 4.5 1-.2 1-4.7 1-7.8 1-9.5 1-8.9 1-5.3 1-3.3 1-1.4 1 .1 1 .3 1-.6 1-1.5 1-1.5 1 .2 1 2.3 1 3.6 1 3.7 1 2.8 1 1.1 1-1 1-3 1-3.2 1-2.5 1-1.6 1-1.2 1-1.9 1-2.3 1-2 1-1.1 1 .1" stroke="#3050ff"/>
<path d="M372.3,119.5l1 2.8 1 1.5 1 .4 1 1.4 1 4 1 5.8 1 5 1 1.7 1-2.2 1-4.9 1-5.5 1-5 1-4.7 1-4.8 1-3 1 1.8 1 5.2 1 5.6 1 4 1 2.6 1 1.5 1-.2 1-2.8 1-5.3 1-6.1 1-4.6 1-1.1 1 3.7 1 6.9 1 6.3 1 3 1-.1 1-2.2 1-4.2 1-7 1-9.1 1-8.6 1-5.4 1-1.1 1 2.1 1 3.5 1 2.2 1-1 1-3 1-.1 1 5.9 1 9.4 1 6.8 1 .4 1-5.8 1-8.7 1-7.2 1-3.9 1-3.1 1-5.1 1-6.6 1-4.4 1-.2 1 1.8 1 2.2 1 3 1 3.1 1 .4 1-5.7 1-12.2 1-13.8 1-8.4 1 .2 1 7.1 1 10.2 1 9.5 1 8.7 1 4 1-.4 1-2.9 1-3.2 1-2.1 1-1.8 1-2.7 1-3 1-1.1 1 .9 1 0 1-2.7 1-4.6 1-3.5 1-.1 1 3.8 1 7.3 1 8.3 1 7 1 5.4 1 4.4 1 4.9 1 5.4 1 4.8 1 3.9 1 2.7 1 1.9 1 .9 1-1.8 1-5.1 1-6.6 1-5.2 1-2.3 1-.2 1-.5 1-1.2 1-.5 1 1.4 1 2.5 1 2.5 1 2.8 1 2.8 1 2 1-.4 1-1.9 1-2.2 1-1.5 1-.3 1 .8 1 2.2 1 3.3 1 3.5 1 2.5 1 1.1 1 .3 1 0 1 0 1-.2 1-.1 1 .7 1 4.4 1 7.5 1 7.8 1 5.3 1-.1 1-5.2 1-7.6 1-7.6 1-5.1 1-.9 1 .6 1 .8 1 0 1-2.3 1-4.2 1-4.5 1-2.7 1 .5 1 2.6 1 4.2 1 5.1 1 5.5 1 5 1 3.2 1 .7 1-1.6 1-3.1 1-3.2 1-2.1 1-1.1 1-.5 1 0 1 0 1-.3" stroke="#10d8f0"/>
<path d="M372.3,111.9l1 1.6 1-.3 1-2.4 1-3 1-1.7 1 1.1 1 3.3 1 4 1 3.6 1 3.1 1 2.9 1 3.3 1 3.2 1 1.6 1-1.9 1-6.3 1-9.3 1-8.5 1-4.4 1-.2 1 1.9 1 3.8 1 4.6 1 3.5 1 1.4 1-.1 1-.9 1-2.1 1-3.4 1-2.9 1 1 1 5.4 1 5.5 1 1.4 1-4.4 1-8.4 1-7.5 1-2.1 1 3.1 1 4.5 1 3.6 1 3 1 3.2 1 3.9 1 4.4 1 3.4 1 1.4 1-.1 1-.8 1-1.6 1-3 1-4.7 1-5 1-4.5 1-5.3 1-8.2 1-10.8 1-10.7 1-7.8 1-2.2 1 2.8 1 3.7 1 1.4 1-2 1-4.7 1-6 1-5.1 1-3.4 1-2.8 1-2.4 1-.8 1 5.3 1 6.2 1 4.8 1 3.8 1 4.6 1 5.8 1 5.8 1 4.3 1 .9 1-3.2 1-5.4 1-2 1 5.2 1 10.3 1 10.3 1 5.9 1 .4 1-2.7 1-1.7 1 1.4 1 3.6 1 3.8 1 4.9 1 6.7 1 7.1 1 5.6 1 2.5 1-.9 1-3.8 1-6.2 1-6.6 1-4.7 1-2.5 1-.9 1-.1 1-.4 1-1.1 1-1.4 1 0 1 2.3 1 3.9 1 3.4 1 .9 1-1.9 1-3.5 1-2.4 1 .2 1 3 1 4.9 1 4.9 1 3.5 1 1 1-2 1-4 1-4 1-2.2 1 0 1 1.2 1 2.1 1 3 1 3.4 1 5.1 1 5.4 1 3.7 1 .2 1-5.5 1-11.1 1-12.9 1-10.4 1-4.3 1 3.2 1 4.8 1 2.7 1-.8 1-4.3 1-5.8 1-4 1-.2 1 3.6 1 5.9 1 6.7 1 6.4 1 5.8 1 4 1 1.1 1-1.9 1-3.4 1-3.1 1-2.5 1-2.7 1-4.4 1-5.7 1-6 1-5 1-2.4" stroke="#f8c830"/>
<path d="M372.3,124.4l1-.8 1-.2 1-.5 1-1.9 1-2.7 1-1.5 1 .4 1 1 1 1.7 1 3.9 1 5.4 1 4.1 1 1.1 1-.5 1-.1 1 .3 1-2.3 1-6.9 1-9.8 1-7.1 1 .4 1 8.1 1 10.8 1 8.1 1 3.6 1-.4 1-3.5 1-6 1-8.3 1-8.5 1-4.8 1 1.3 1 4.9 1 3.5 1-1.3 1-6.4 1-8.7 1-6.5 1-2 1 .4 1 1.1 1 1.5 1 2.1 1 3.1 1 4.4 1 4.2 1 2 1-.3 1-1 1 1.2 1 4.6 1 5.6 1 3.2 1-1.5 1-6.1 1-8.6 1-7.7 1-4.4 1-1.8 1 0 1-.5 1-3.2 1-6 1-7.7 1-9.7 1-11.6 1-8.3 1 .5 1 8.5 1 10.2 1 7.7 1 7.6 1 5.6 1 3.6 1 1.9 1-1.2 1-4.2 1-5.1 1-2.1 1 2.5 1 3.9 1 1.5 1-1.1 1-.5 1 2.5 1 4.3 1 4.7 1 4.2 1 4.4 1 4.7 1 5.6 1 6.7 1 6.4 1 5.6 1 4.1 1 2.3 1 .6 1-1.4 1-3.5 1-4.9 1-5.5 1-5.3 1-4 1-2.5 1-.7 1 .3 1 .4 1-.2 1-.7 1-.6 1-.5 1-.7 1-2 1-4.1 1-6.3 1-7.3 1-5.1 1-1.6 1 1.8 1 4.3 1 6.3 1 7.8 1 7.3 1 4.7 1 1.9 1 .7 1 1.5 1 2.5 1 1.8 1 .3 1 .2 1 1.8 1 5.8 1 7.8 1 7.2 1 4.4 1-.5 1-5.4 1-9 1-10.2 1-8 1-2.8 1-.6 1-.4 1-.9 1-2 1-3 1-3.5 1-2.7 1-.2 1 2.8 1 4.7 1 5.2 1 5 1 3.5 1 .6 1-2.6 1-3.9 1-2.8 1-1.1 1-.8 1-2.2 1-3.5 1-2.8 1-.5 1 .9" stroke="#80ff60"/>
<path d="M372.3,117.7l1-.3 1 2.6 1 5.4 1 6.1 1 4.4 1 1.4 1-1.2 1-3.2 1-4.1 1-4 1-3.7 1-4.3 1-5.1 1-3.8 1 0 1 4 1 4.1 1 1.2 1-2.4 1-4.4 1-3.6 1-.5 1 1.3 1-1 1-5.2 1-8.1 1-7.9 1-4.9 1-2.4 1-1.7 1-.5 1 3.1 1 7.2 1 7.8 1 4.7 1 1.1 1 .4 1 2.3 1 4.1 1 4.1 1 3.2 1 1.8 1-1.1 1-5.2 1-8.4 1-9.3 1-8.8 1-7.9 1-6.9 1-3.5 1 2.1 1 6.4 1 7.7 1 6.3 1 2.9 1-2.3 1-7.3 1-7.7 1-2.4 1 4.6 1 5.6 1 1.1 1-3.6 1-3.2 1 1.6 1 5.8 1 5.8 1 2.3 1-1.7 1-4.6 1-6.4 1-4.1 1-2.5 1 .7 1 5 1 7.2 1 6.5 1 3.2 1-.9 1-3.5 1-3.3 1-.4 1 3.3 1 5.1 1 3.5 1-.7 1-4.6 1-5.4 1-1 1 4.1 1 6 1 4.3 1 1.1 1 .7 1 2.7 1 5.4 1 6.5 1 5.3 1 3 1 1 1-.5 1-1.5 1-2.3 1-4.6 1-7.5 1-9 1-7.5 1-3.1 1 .2 1 .9 1 .3 1 1.5 1 4.8 1 7.3 1 6.9 1 4.6 1 2.7 1 .8 1-1.3 1-2.5 1-2 1 .5 1 2.9 1 3.5 1 2.8 1 1.8 1 1 1 .4 1 0 1 .7 1 2.5 1 4.3 1 6.4 1 6.8 1 5.5 1 2.9 1-1.2 1-5.2 1-7.3 1-7.8 1-6.5 1-3.9 1-2.9 1-1.1 1 1.2 1 1.6 1 .3 1-1 1-.7 1 1.5 1 3.5 1 3.8 1 2.6 1 1 1-.3 1-1.2 1-1.8 1-1.5 1-.9 1-.3 1-.8 1-2.4 1-4.4 1-4.8 1-3.5 1-1.2" stroke="#00b8ff"/>
<path d="M372.3,134.7l1 2.3 1-.2 1-2.7 1-5.5 1-8.1 1-8.6 1-4.9 1 1.3 1 5.1 1 4.9 1 1.6 1-1.8 1-3.4 1-3.4 1-2.4 1 0 1 3.1 1 5.6 1 5.4 1 2.8 1-1 1-3.2 1-3.3 1-1.3 1 .6 1 .6 1-1.1 1-3.4 1-6.1 1-8.6 1-9 1-6.7 1-2.8 1-.1 1 1.3 1 2.6 1 4.2 1 3.5 1-.1 1-5.6 1-8.2 1-5.6 1-.1 1 4 1 5.5 1 5.2 1 4.9 1 5.1 1 5 1 3.6 1 .1 1-4.2 1-7 1-6.4 1-3.6 1-.2 1 2.9 1 4.2 1 1.6 1-3.6 1-9 1-12.4 1-11.8 1-7.5 1-3.4 1-2.3 1-2.9 1-4.4 1-4.5 1-2.4 1 .7 1 4.7 1 1.5 1-1.1 1 1.8 1 5.7 1 6.7 1 6.1 1 7.2 1 9 1 8.4 1 4.9 1 1 1-1 1-.7 1 1.3 1 3.7 1 4.9 1 5.2 1 4.5 1 4 1 3.8 1 3.5 1 4.1 1 5 1 5.4 1 4.7 1 3.2 1 1 1-.9 1-2.3 1-2.4 1-1.2 1-.6 1-.6 1-.7 1-.8 1-.9 1-.8 1 0 1 1 1 1.5 1 1.5 1 .9 1-.7 1-2.7 1-3.3 1-1.6 1 .4 1 1 1 .4 1 .2 1 .7 1 1.4 1 1.5 1 1.3 1 .8 1 .6 1 1 1 1.7 1 2.1 1 1.9 1 3 1 3.4 1 2.3 1-.6 1-5.6 1-9.8 1-9.7 1-6 1-1.6 1 2 1 1.2 1-.3 1-1.2 1-1.8 1-1.5 1-.9 1-.7 1-.5 1 .5 1 2.7 1 5.2 1 6.4 1 5.5 1 3.3 1 1.2 1-.4 1-1.9 1-3.1 1-3.6 1-3.7 1-3.1 1-2.3 1-1.3 1-.4" stroke="#40e8e0"/>
<path d="M372.3,100.4l1-1.7 1-2.2 1 .4 1 5.3 1 7.3 1 5.4 1 1.6 1-2.3 1-6 1-8.9 1-10.8 1-10.8 1-8.2 1-4.8 1-4.8 1-9.8 1-17.3 1-19.9 1-13.9 1-3.9 1 3.8 1 9.6 1 13.2 1 11.8 1 4.7 1-6 1-13.1 1-7.7 1 8.3 1 18.7 1 16.6 1 8.7 1 1.5 1-3.5 1-7.7 1-10.6 1-9.2 1-1.9 1 7.5 1 10.8 1 9.6 1 8 1 7.6 1 7.6 1 7.3 1 4.4 1-1.8 1-8.6 1-11.1 1-4.7 1 5.1 1 8.8 1 5.3 1-.9 1-6.2 1-9.2 1-8.5 1-5.3 1-4.5 1-6.6 1-10.3 1-13.9 1-13.2 1-7.8 1-1.8 1 2.2 1 6.3 1 10.4 1 12 1 9.5 1 4.9 1 4.7 1 3.6 1 4.2 1 5.9 1 6.8 1 5.9 1 3.5 1-.3 1-3.2 1-3.4 1-1.1 1 .9 1 1.7 1 1.4 1 1.3 1 2.3 1 5 1 8.3 1 7.8 1 4.1 1 .9 1 1.2 1 6 1 9.3 1 8.2 1 4.3 1 .8 1-1.4 1-2 1-2.1 1-2.5 1-3.1 1-4.4 1-4.5 1-2.6 1 .4 1 2.2 1 1.6 1-.6 1-2.8 1-3.1 1-1 1 1.9 1 3.2 1 2.6 1 .9 1-.8 1-1.9 1-1.7 1-.9 1-.2 1-1.4 1-4.2 1-6.9 1-6.8 1-3.2 1 1.4 1 5 1 6.4 1 5.8 1 4.3 1 6 1 8.1 1 8.3 1 5.1 1-1.6 1-8.5 1-12.5 1-12.7 1-8.4 1-.7 1 2 1 2 1 .2 1-3.1 1-5.9 1-6.4 1-4.3 1-.7 1 2.3 1 4.4 1 6.2 1 7 1 6.2 1 3.2 1-.4 1-2.7 1-3.1 1-2.4 1-1.3 1-.8 1 1.2 1 4 1 5.5 1 3.9" stroke="#ff9060"/>
<path d="M372.3,123.5l1-.2 1-1.6 1-3.3 1-4.5 1-3.2 1 .3 1 2.3 1 1.9 1 2 1 3.9 1 5.6 1 4.4 1 1.2 1-3.1 1-6.8 1-8.9 1-9 1-7 1-2.2 1 3.6 1 6.7 1 5.4 1 1.1 1-3.5 1-5.5 1-5.2 1-3.8 1-2 1 .3 1 1.5 1-.1 1-4.3 1-8 1-8.3 1-4.4 1-.4 1 .2 1-.6 1 1.5 1 6.8 1 10.9 1 9 1 2.1 1-4.3 1-4.6 1 1 1 7.3 1 9.4 1 7.6 1 4.6 1 .6 1-3.9 1-8 1-9.2 1-6.6 1-1.7 1 1.7 1 1.8 1-1.8 1-5.9 1-8.7 1-8.8 1-5.3 1 .2 1 4.3 1 5.5 1 5.6 1 4.1 1 0 1-5.1 1-7.3 1 .1 1 7.6 1 10.7 1 8.6 1 2.8 1-2.8 1-6.8 1-7.9 1-5.8 1-2 1 2.1 1 4.7 1 5.7 1 5.6 1 5.8 1 5.5 1 4 1 3.1 1 3.4 1 5 1 5.8 1 4.6 1 3.3 1 2.5 1 2.5 1 2.4 1 1.8 1 .5 1-.9 1-2.2 1-3.1 1-3.5 1-3.9 1-3.7 1-3 1-2.1 1-1.3 1-.2 1 .7 1 .6 1 .3 1 .6 1 1.9 1 3.1 1 3.2 1 2.7 1 1.8 1 .5 1-1.1 1-2.5 1-2.6 1-1.9 1-1.4 1-1.4 1-1.2 1-.3 1 1.1 1 2 1 2.1 1 1.5 1 .4 1 1.5 1 3.1 1 4.2 1 3.2 1-1.6 1-7.9 1-12.6 1-14.9 1-12.1 1-4.7 1-.5 1 2.5 1 4.6 1 4.7 1 3.3 1 2.2 1 2.8 1 4.7 1 5.8 1 5.7 1 4.2 1 2.5 1 .8 1-.5 1-1.2 1-1.2 1-.6 1-.3 1-.6 1-1.6 1-2.6 1-2.9 1-2.3 1-1.1" stroke="#00e0e0"/>
<path d="M372.3,124.3l1-1.1 1-2 1-3 1-2.9 1-1.2 1 1.6 1 2.8 1 1.5 1-.3 1 .4 1 3 1 4.2 1 2.7 1-.5 1-3.2 1-3.9 1-2.8 1-1 1 .1 1-.3 1-2.1 1-3.9 1-4.5 1-3.3 1-1.4 1-.6 1-.8 1-1.4 1-1.8 1-3 1-5.3 1-7.8 1-7.8 1-4.5 1-.8 1 .2 1-1.5 1-1.1 1 4.5 1 11.8 1 13.5 1 8.4 1 .9 1-3.2 1-.6 1 5.1 1 7.8 1 5.9 1 1.6 1-2.9 1-7 1-9.2 1-8.5 1-5.7 1-3.5 1-1.5 1 0 1-.3 1-3.2 1-4.5 1-1.9 1 1.8 1 2.3 1-1.5 1-7.2 1-11 1-7.9 1 1.7 1 9.8 1 9.4 1 3.1 1-.3 1-1.5 1 1.4 1 5 1 5.3 1 4.2 1 3.2 1 2.3 1 .9 1-.3 1 .2 1 2 1 3.9 1 4.4 1 3.9 1 2.1 1-.7 1-2.7 1-3.2 1-2 1-.3 1 1.3 1 3.6 1 5.3 1 5 1 3.7 1 1.9 1 .6 1 .2 1-1 1-3.2 1-5.6 1-6.8 1-4.6 1-.5 1 1.6 1 .9 1-.4 1-.4 1 .7 1 1.5 1 1.4 1 1.8 1 2.6 1 2.7 1 2.4 1 1.6 1 .6 1 .2 1 .6 1 1.9 1 2.9 1 2.2 1 .5 1-.7 1-.2 1 1.3 1 2.6 1 2.7 1 2.3 1 1.9 1 3.3 1 4.2 1 3.8 1 1.7 1-2.5 1-7.1 1-9.7 1-10.2 1-7.6 1-2 1 1.6 1 3.6 1 3.5 1 1.3 1-1.3 1-2.6 1-2.5 1-1.3 1 0 1 .7 1 1.2 1 1.7 1 2.6 1 3.2 1 2.2 1-.5 1-3.4 1-5.3 1-4.9 1-4.2 1-3.6 1-2.8 1-1 1 1.2" stroke="#20c8ff"/>
<path d="M372.3,131l1 5 1 1.6 1-3.1 1-6.2 1-5.7 1-1.7 1 3 1 5.5 1 4.9 1 1.9 1-2.6 1-6.2 1-6.8 1-4 1-1.1 1-.2 1-1.2 1-1.4 1 .4 1 2.6 1 3.6 1 2.7 1 .4 1-2.5 1-4.4 1-4.5 1-2.9 1-.7 1 1.3 1 3.1 1 4.5 1 4.2 1 1.6 1-2 1-4.9 1-5.6 1-3.7 1-.8 1 .9 1-.2 1-1.9 1-2.2 1-1.8 1-1.4 1-.9 1-.4 1 .2 1 .7 1 .9 1 1.1 1 1.1 1 .9 1 1 1 1.8 1 1.7 1 .1 1-1.9 1-2.9 1-1.6 1 1.2 1 2.2 1-.8 1-5.1 1-7.4 1-7.9 1-8.7 1-9 1-6.9 1-1.8 1 4.1 1 8.3 1 12.1 1 8.8 1 2.8 1-2.4 1-5.5 1-6 1-5.4 1-4.4 1-2.1 1 1.5 1 3.7 1 2.9 1 0 1-2 1-1.4 1 .9 1 3.9 1 7.4 1 9.7 1 9.6 1 7.6 1 5.1 1 4.4 1 4.9 1 4.9 1 3.8 1 1.1 1-1.6 1-3.2 1-3.9 1-4.2 1-4.4 1-4.8 1-4.4 1-2.8 1-.7 1 1.5 1 3.2 1 4.6 1 5.3 1 5.3 1 4.4 1 2.3 1-.5 1-2.6 1-2.3 1-.1 1 1.8 1 1.9 1 .9 1 .4 1 .2 1-.3 1-1.8 1-3 1-2.9 1-1.2 1 .3 1 1.3 1 1.9 1 3 1 6 1 7.1 1 5.7 1 2.3 1-3.1 1-8.6 1-11.3 1-11.5 1-9.4 1-4.5 1-1.4 1 1.6 1 2.9 1 1.4 1-1.1 1-2 1-.1 1 2.9 1 4.3 1 3.7 1 2.8 1 2 1 1.7 1 1 1 .1 1-.1 1-.4 1-1.2 1-2.1 1-3.4 1-3.7 1-2.9 1-1.4 1 0" stroke="#0020ff"/>
<path d="M372.3,111.3l1-3.4 1-3.9 1-1.9 1 1.7 1 2.2 1-2.6 1-10.3 1-15.3 1-12.7 1-3.1 1 6.8 1 13.6 1 15.2 1 11.5 1 5.4 1 1.5 1 .9 1 3.4 1 5.2 1 4 1 .2 1-3.6 1-6.5 1-8.3 1-9.3 1-8.5 1-4.7 1 .8 1 4 1 3.5 1 2 1 1.6 1 1.9 1 3.2 1 5.5 1 5.8 1 1.4 1-6.1 1-11.6 1-10.5 1-3.6 1-.2 1-5.2 1-13.8 1-17.4 1-12.2 1-3.6 1 1.7 1 4.9 1 9 1 10.7 1 7.5 1 1.4 1-3.9 1-6.5 1-5.7 1-2.3 1 1.3 1 2.3 1 1.6 1 1.3 1 2.1 1 4.1 1 5 1 2 1-3.6 1-7.6 1-5.7 1 2.2 1 10.1 1 11.7 1 10.3 1 4.5 1 0 1-1.4 1-.9 1 1.3 1 3.1 1 2.8 1-.9 1-7 1-14.2 1-18.5 1-14.5 1 .4 1 17.2 1 23.6 1 19.3 1 12.2 1 5.9 1 1.5 1-.5 1-.9 1 .6 1 2.3 1 3.7 1 4 1 2 1-1.6 1-5.2 1-7.5 1-6.1 1-2 1 1.3 1 1.9 1 .3 1-2.7 1-5.7 1-6.7 1-4.8 1-1.4 1 1.7 1 3.7 1 4.4 1 3.5 1 .5 1-2 1-2.6 1-1.6 1 .1 1 1.2 1 2.6 1 3.5 1 2.6 1-.5 1-4.1 1-5.5 1-3.6 1-.5 1 1.2 1 2 1 4.3 1 9.7 1 11.7 1 8.8 1 3.6 1-2.9 1-8.4 1-10.6 1-10.6 1-7.5 1-1.2 1 1.6 1 1.9 1-.1 1-2.4 1-3.5 1-1.9 1 .7 1 3.3 1 4.2 1 4 1 3.6 1 3.1 1 2.2 1 .4 1-.8 1-.6 1 .3 1 .5 1 .3 1-1.2 1-2.7 1-3.4 1-2.8 1-1.2" stroke="#f0e020"/>
<path d="M372.3,113.7l1-7.8 1-13.6 1-13.8 1-6.3 1 1.8 1 3.7 1-.2 1-4 1-1.9 1 6.4 1 11.3 1 8.4 1 2.4 1-1.8 1-2.2 1-.2 1 1.2 1 1.6 1 1.2 1 .1 1-1.7 1-1.9 1 .8 1 4.4 1 4.2 1-1 1-8 1-13.7 1-15.2 1-10 1 2.5 1 14.4 1 16.8 1 10.4 1 1.5 1-4.3 1-4.4 1 .9 1 5.5 1 5.2 1 1 1-4.5 1-9.5 1-10.3 1-5 1 .7 1 1.4 1-1.9 1-6.1 1-7.4 1-3.5 1 5.4 1 12.8 1 12 1 4.6 1-3.6 1-6.7 1-3.5 1 1.1 1 3.8 1 3.6 1 1.2 1-2.3 1-5.9 1-8.2 1-8.6 1-6.6 1-2.8 1 3.5 1 9.4 1 10.4 1 9.6 1 6.3 1 4.7 1 3.1 1-.2 1-3 1-2.2 1 1.8 1 4.4 1 3.2 1 .9 1 .4 1 2.1 1 3.1 1 2.2 1-.3 1-2.4 1-1.3 1 1.4 1 2.6 1 1.8 1 1 1 2.2 1 3.6 1 3.9 1 3.2 1 2.5 1 1.3 1-.5 1-3.6 1-7.7 1-10.5 1-10.8 1-6.7 1-.1 1 4.4 1 5.2 1 3.4 1 .7 1-1.6 1-2 1-.4 1 2.3 1 3.3 1 2.1 1 .6 1-.4 1-1 1-1.2 1-.1 1 3.1 1 5.9 1 5.5 1 2.4 1-1.1 1-3.5 1-4.4 1-4.3 1-3.2 1-.6 1 2.5 1 7.2 1 9.1 1 7.7 1 4.2 1-1.4 1-6.7 1-9.8 1-10.3 1-6.9 1-1 1 .5 1-.1 1-1.6 1-3.5 1-5.1 1-4.8 1-2.4 1 1.6 1 5.8 1 8.9 1 10.1 1 9 1 6 1 2.3 1-.7 1-3.1 1-5.1 1-6.1 1-5 1-2.7 1-.4 1 1.6 1 2 1 1.2" stroke="#40e8e0"/>
<path d="M372.3,123.8l1-3.5 1-5.3 1-4.5 1-1.4 1 1.4 1 1.9 1 .3 1-2.1 1-3 1-1.5 1 1.2 1 3.9 1 5.3 1 4.8 1 2.7 1 1.8 1 2.1 1 3 1 2 1-.8 1-2.7 1-.5 1 3.5 1 2.9 1-2.5 1-9.6 1-12.9 1-9 1-1.4 1 4.4 1 6.9 1 7.3 1 6 1 3.9 1 2 1-.1 1-3.3 1-7.7 1-10.8 1-10.5 1-4.8 1 1.9 1 4 1 .6 1-3.4 1-4.5 1-2.5 1-.5 1-.2 1 .2 1 1 1-.1 1-3.9 1-7.9 1-9.9 1-10.5 1-10.3 1-6.4 1 1.3 1 9.6 1 12.4 1 8.3 1 1.1 1-5.9 1-10.9 1-12.7 1-8.5 1 .1 1 6.6 1 6 1 .3 1-2.6 1-5.8 1-5.9 1-3.3 1-.2 1 4.1 1 9.1 1 11.5 1 9.4 1 5.6 1 4.1 1 5.7 1 7.3 1 5.5 1 1.5 1-2.2 1-2.4 1 1.9 1 6.7 1 9 1 8.5 1 6.1 1 4 1 2.5 1 1.5 1 1.2 1 .6 1-.9 1-2.8 1-4.7 1-5 1-3.1 1-1 1 .1 1 .2 1-.4 1-.3 1 .8 1 2.5 1 2.8 1 2.6 1 2.6 1 3.1 1 3 1 1.6 1 .2 1-1.2 1-1.5 1-.7 1 .8 1 2.7 1 3.8 1 3 1 1 1-1.4 1-2.6 1-2.3 1-1 1 .1 1 .7 1 1.2 1 3.5 1 4.8 1 4.3 1 2.4 1-1.1 1-4.4 1-5.9 1-6.6 1-6.4 1-4.1 1-3.3 1-2.8 1-2.7 1-3.7 1-4.7 1-3.5 1 0 1 4.1 1 5.7 1 5 1 3.7 1 2.2 1 .3 1-2 1-3.6 1-3.7 1-3.1 1-2.4 1-1.1 1-.4 1-.9 1-1.8 1-2.1 1-.9" stroke="#80ff60"/>
<path d="M372.3,106.5l1-1.5 1 .5 1 1.1 1-.4 1-2.3 1-1.7 1 1.5 1 4.8 1 6.5 1 6.3 1 3.8 1-.5 1-4 1-4.9 1-2.6 1 0 1-.8 1-4.5 1-7.9 1-8.5 1-8.2 1-8.8 1-9.1 1-4 1 6.9 1 13.6 1 10.6 1 2.9 1-3.7 1-7.3 1-9.1 1-8.9 1-3.9 1 5.5 1 11.4 1 8.9 1 2.3 1-1.3 1 1.9 1 7.3 1 9.1 1 5.5 1-.8 1-5.8 1-5.3 1 .8 1 6.8 1 7.7 1 4.1 1-.4 1-3.1 1-3.4 1-1.9 1-.7 1-1.2 1-2.2 1-2.1 1-.1 1 2.2 1 3.4 1 2.7 1 .7 1-.5 1-.7 1-1 1-3.5 1-7 1-10.6 1-10.4 1-5.2 1 2.3 1 10.6 1 12.1 1 10.1 1 6.1 1 .5 1-5 1-8.1 1-6.1 1-1.2 1 1.4 1 .2 1-2.7 1-3.2 1 1.5 1 8.5 1 11.6 1 9.3 1 4.8 1 .2 1-2.7 1-3.2 1-2 1 1 1 4 1 5.6 1 5.2 1 3.2 1 1.5 1 .7 1-.1 1-1.2 1-2.3 1-3.5 1-4.2 1-4.6 1-4.6 1-4.2 1-3.9 1-4 1-4.2 1-2.9 1 .5 1 4.2 1 6 1 5 1 2.8 1-.2 1-3 1-4.4 1-3.8 1-.9 1 2 1 3.3 1 2.1 1 .1 1-1.3 1-.8 1 .6 1 2.4 1 3.6 1 4.5 1 6.9 1 7.9 1 6.2 1 2.5 1-3.4 1-9.6 1-13.2 1-13.5 1-8.6 1 0 1 5 1 6.6 1 5.7 1 2.8 1 .2 1-1 1-.7 1 .1 1 1 1 1.9 1 2.7 1 2.6 1 1.9 1 .5 1-1.1 1-2 1-2.5 1-3 1-2.4 1-1.6 1-.4 1 .7 1 1 1 .4" stroke="#6040ff"/>
<path d="M372.3,123.6l1 2.3 1-2 1-6.4 1-8 1-5.2 1-.4 1 1.9 1 .4 1-2.5 1-4.5 1-5.9 1-6.1 1-5 1-2.6 1 .3 1 3.8 1 6.3 1 6.8 1 4 1-1 1-5.9 1-8.6 1-8.9 1-8.7 1-9.4 1-10.2 1-7.6 1 1.5 1 12.5 1 16.9 1 14.5 1 9.2 1 3.6 1-.8 1-4.2 1-5.3 1-4 1-2 1-1.2 1-1.2 1 1 1 5.4 1 7.1 1 4.9 1 2 1 .6 1 .8 1 1.3 1 .5 1-1.3 1-2.8 1-3.2 1-2.9 1-2.1 1-1.3 1-.4 1-.5 1-2.3 1-6.2 1-8.8 1-8.6 1-6.7 1-3.9 1-1.8 1-1.3 1-3.1 1-4.2 1-1.5 1 5.2 1 11.7 1 12.6 1 10.3 1 2.5 1-3.9 1-5 1-2.3 1 .9 1 1.4 1 .3 1 .9 1 3.5 1 5.2 1 3.9 1-.4 1-5.1 1-8.3 1-8.1 1-3.6 1 4.5 1 10.8 1 12.6 1 11.6 1 9.4 1 7.7 1 5.8 1 3.8 1 2.4 1 1.1 1-.5 1-1.9 1-3.1 1-3.5 1-3 1-2.7 1-2 1-1.1 1-.5 1-.2 1 0 1 1.1 1 2.7 1 4.1 1 4 1 2.9 1 .9 1-1.1 1-2 1-2 1-1.6 1-1.2 1-.7 1 .5 1 1.8 1 2.2 1 1.3 1-.1 1-.8 1-.3 1 1.3 1 3.4 1 4.3 1 3.9 1 4.6 1 4.7 1 3.5 1 .9 1-3.8 1-8.8 1-10.9 1-10 1-6.2 1-.9 1 .6 1 .8 1 .8 1 .1 1-.4 1 .5 1 2.8 1 4.5 1 4.1 1 2.4 1 1 1 .4 1 .2 1-.2 1-.7 1-.8 1-.4 1-.5 1-.6 1-1.2 1-1.5 1-1.6 1-1.9 1-2.2" stroke="#0050ff"/>
<path d="M372.3,111.4l1 1.5 1 5.8 1 7 1 4.5 1 1.3 1-.2 1 1.1 1 2.8 1 2.9 1 1 1-2 1-4.5 1-5.4 1-4.9 1-4 1-2.4 1-.3 1 2.2 1 3.4 1 3 1 .9 1-.7 1-1.4 1-.4 1 .5 1-.6 1-3.9 1-7 1-7.1 1-3.3 1 2.9 1 8.4 1 10.2 1 8.3 1 4.6 1 .4 1-3.6 1-7.2 1-9.5 1-10 1-7.6 1-2.9 1 1.3 1 3.9 1 4.4 1 3 1 .8 1-.4 1-.2 1 1.4 1 2.5 1 1.6 1-.6 1-2.6 1-3.5 1-3.4 1-2.6 1-1.9 1-2.2 1-2.6 1-4 1-7.3 1-10.3 1-8.8 1-1.2 1 6 1 6.4 1 .7 1-5.9 1-9.4 1-9.1 1-3.8 1-3.3 1-4 1-1.3 1 4 1 7.8 1 7 1 4.3 1 3.2 1 4.8 1 5.6 1 3.1 1-1.8 1-6.1 1-6.6 1-4.3 1-1.2 1 1.7 1 3.1 1 4 1 6.3 1 9.3 1 12.3 1 12.7 1 10.3 1 6.9 1 3.2 1 .2 1-.8 1-.9 1-1.2 1-2.7 1-5.3 1-6.7 1-5.3 1-2.5 1-.5 1-.6 1-1.5 1-2.2 1-1.4 1 1.8 1 5.6 1 7.5 1 5.9 1 3.3 1 .9 1-.8 1-1.2 1-1 1 .2 1 1 1 .7 1-.9 1-2.3 1-3 1-1.9 1 .5 1 3.2 1 4.8 1 5.5 1 6.6 1 6 1 4 1 .9 1-3.5 1-7.2 1-7.3 1-5.7 1-3.7 1-1.3 1-2.1 1-3.5 1-4.5 1-4.9 1-4 1-1.8 1 1.5 1 5.3 1 7.4 1 7.4 1 6.1 1 4.8 1 3.9 1 3 1 1.8 1-.1 1-2.4 1-4.2 1-4.6 1-4.3 1-2.8 1-.5 1 .7 1 .2" stroke="#00f0a0"/>
<path d="M372.3,122.1l1-2.7 1-3 1 0 1 3.1 1 4 1 3.4 1 1.5 1-3.1 1-10.5 1-16.9 1-16.7 1-6.7 1 6.3 1 13.4 1 12.7 1 7.8 1 1.9 1-1.6 1-2.1 1-.8 1 0 1 0 1-1.4 1-4.2 1-7.8 1-11.2 1-13.1 1-13.1 1-10.5 1-4.9 1 3.2 1 10.2 1 11.6 1 7.7 1 2.1 1-1.2 1-.8 1 2.6 1 5.6 1 5.1 1 3.1 1 1.5 1-.1 1-.2 1 1.6 1 2.6 1 .6 1-3.2 1-4.2 1 .3 1 5.5 1 5.9 1 2.5 1-.9 1-3.2 1-4.2 1-4.2 1-3.3 1-3.3 1-3.6 1-4.2 1-5 1-5.3 1-5.7 1-7 1-9.9 1-13.5 1-14 1-7.3 1 3.5 1 9.3 1 11.8 1 7.8 1 3.8 1 0 1-3.7 1-2.9 1 4.2 1 12.8 1 15.9 1 12.4 1 5.4 1-1.2 1-3.8 1-1.5 1 3.2 1 6 1 5.1 1 3.8 1 2.8 1 2.7 1 2.1 1 .5 1 1.4 1 4.4 1 7.2 1 7 1 4.2 1 1 1-.5 1-.5 1-.7 1-2.3 1-5 1-6.2 1-4.5 1-1.8 1 0 1 .4 1 .1 1-.1 1 .2 1 1.1 1 2.2 1 2 1 .5 1-.7 1-2 1-3.2 1-3.9 1-3.5 1-1.1 1 1.5 1 2.8 1 2.3 1 .2 1-2 1-3.2 1-2.8 1-1 1 1.4 1 4.2 1 8.5 1 10.1 1 8.3 1 3.8 1-3.1 1-9.9 1-13.4 1-13.3 1-9.8 1-3.1 1 1.6 1 5.8 1 7.6 1 6.1 1 3.4 1 1.1 1-.7 1-1.8 1-1.3 1 1.3 1 4.7 1 5.7 1 3.2 1-1.3 1-5.4 1-6.4 1-4 1-.6 1 1.6 1 .9 1-.7 1-2.1 1-2.3 1-1.2" stroke="#20f060"/>
<path d="M372.3,119.3l1 .3 1-1.4 1-1.6 1 0 1 1.3 1 .9 1-1 1-3.1 1-4.3 1-3.8 1-2.3 1-.5 1 1.2 1 1.5 1 0 1-1.8 1-3.9 1-4.9 1-5.2 1-5 1-4.4 1-.8 1 6.7 1 12.9 1 12.8 1 8.1 1 4.2 1 3.1 1 3.8 1 3.2 1 1.1 1-1.3 1-3.5 1-5.3 1-5.6 1-3.5 1 0 1 2.9 1 4.4 1 4.1 1 2.7 1 .2 1-2.9 1-5.3 1-5.8 1-3.8 1-1.8 1-1.4 1-3 1-4.8 1-5.4 1-5 1-4 1-2.8 1-1.3 1-.1 1-1.3 1-5.4 1-11.8 1-16.4 1-17.9 1-15.9 1-11 1-5.5 1-4 1-7.2 1-9.5 1-7.1 1-.9 1 3.2 1 2.1 1 2.3 1-4.2 1-10.3 1-11 1-5.5 1 4.4 1 11.4 1 11.5 1 9.3 1 10.3 1 14.9 1 19.7 1 20.4 1 16 1 8.6 1 1.9 1-1.3 1 .2 1 3.4 1 5.9 1 7.1 1 7.2 1 7.8 1 7.6 1 6.6 1 5 1 2.4 1-1.2 1-4.3 1-6.2 1-5.8 1-4.1 1-3.7 1-4 1-4.4 1-3.5 1-.8 1 3.4 1 7.3 1 9 1 7.5 1 3.4 1-2 1-6.2 1-7.5 1-3.4 1 4.1 1 9.7 1 9.8 1 5.7 1 .9 1-2.5 1-3.5 1-3.2 1-2.7 1-2.9 1-2.4 1-1.2 1 1.1 1 3.1 1 4.2 1 6.4 1 6.8 1 5.2 1 2.1 1-2.9 1-7.7 1-9.7 1-9.5 1-6.4 1-1 1 .9 1 1.3 1 1.2 1 .3 1-.9 1-1.3 1-.6 1 1 1 2.5 1 3.8 1 4.2 1 3.5 1 1.7 1-.5 1-2 1-1.5 1-.5 1 .7 1 1.8 1 1.8 1 1.4 1 .4 1-.6 1-1.5" stroke="#30e830"/>
<path d="M372.3,127.8l1 3.2 1 2 1 .8 1-.6 1-2.3 1-3.2 1-3 1-3.5 1-5.4 1-7.5 1-7.6 1-6.1 1-4.2 1-3.9 1-4.8 1-4 1-1.4 1 1 1 1.9 1 2.3 1 3.7 1 6.1 1 6.8 1 4.5 1-.4 1-4.7 1-4.5 1 1 1 6 1 5.4 1 .7 1-5.1 1-8.8 1-7.6 1-.5 1 8.6 1 13.1 1 11.6 1 6.9 1 1.3 1-2.8 1-5.4 1-7.1 1-7.5 1-5.1 1-.7 1 2.1 1 1.7 1-.6 1-2.3 1-2.5 1 .3 1 5.3 1 8.4 1 6.3 1 1 1-3.9 1-6.7 1-9.2 1-11.9 1-13.7 1-15 1-16 1-14.3 1-5.8 1 4.8 1 11.2 1 11.3 1 9 1 6 1 .6 1-4.4 1-10.3 1-8.5 1 1.4 1 7.8 1 5.6 1 .3 1-.7 1 3 1 6.2 1 6.2 1 4.3 1 2.5 1 .7 1-.5 1 0 1 2.5 1 5.9 1 7.5 1 7 1 5.6 1 4.4 1 5.5 1 7.2 1 7.6 1 5.9 1 2.6 1-.8 1-3 1-3.3 1-2.6 1-2.3 1-3.9 1-5.5 1-5.2 1-2.8 1-.1 1 .8 1-.1 1-1.4 1-1.9 1-1.5 1-1.4 1-.9 1 .7 1 3.9 1 4.9 1 2.4 1-1.5 1-4.4 1-4.3 1-2.5 1-1.2 1-1.1 1-1 1 .1 1 2 1 3.4 1 3 1 1.1 1-.4 1 2.3 1 6.6 1 8.5 1 5.9 1-1.5 1-8.7 1-11.3 1-8.6 1-2.3 1 4.7 1 5.4 1 3.8 1 1.6 1-1.1 1-3.4 1-4.6 1-3.9 1-1.2 1 2.3 1 5.2 1 6.8 1 6.5 1 4.7 1 1.9 1-.9 1-2.8 1-3.6 1-3.4 1-1.9 1-.6 1 .1 1 .2 1-.3 1-.7" stroke="#20c8ff"/>
<path d="M372.3,125l1-3.2 1-5.3 1-5.2 1-2.1 1 2.3 1 5.1 1 4.2 1 1 1-1.6 1-1.3 1 .4 1 .5 1-1.6 1-4.1 1-4.2 1-.9 1 2.4 1 4.7 1 5.4 1 4.8 1 2.4 1-1.7 1-7.1 1-11.9 1-11.3 1-3.4 1 5 1 7 1 3.3 1 0 1 1.5 1 6.4 1 8.8 1 6.7 1 2.8 1-.2 1-2.4 1-4 1-5.2 1-6.1 1-4.6 1-.8 1 2.6 1 4.3 1 5.3 1 4.7 1 2.3 1-1.2 1-3.9 1-4.6 1-3 1-.8 1-.6 1-3.2 1-7 1-9.2 1-8.7 1-6.6 1-5.8 1-6.5 1-9.7 1-15.5 1-21 1-22.6 1-21.2 1-19.4 1-11.9 1 4.3 1 19.8 1 24.5 1 19.8 1 16.7 1 9.7 1 3.8 1-.2 1-2.2 1-.5 1 3.5 1 5.4 1 3 1 1.9 1 7.3 1 14.9 1 15.5 1 9.1 1 2.2 1-1.4 1-.8 1 1.8 1 3 1 2.6 1 2.7 1 3.4 1 4.8 1 5 1 4.4 1 3.4 1 1.7 1-.4 1-1.7 1-2 1-1.7 1-1.9 1-3.7 1-5.4 1-5.1 1-2.9 1-1 1-1 1-1.7 1-.8 1 1.7 1 4.3 1 4.6 1 2.4 1-1.1 1-2.9 1-2.4 1 0 1 1.7 1 1.5 1 .6 1-.2 1-.6 1-.8 1 .1 1 1.5 1 2.2 1 1.4 1 .6 1 .9 1 2 1 4.8 1 6.2 1 5.5 1 2.8 1-2.6 1-7.7 1-10.6 1-10.6 1-7.9 1-2.6 1-.8 1-.4 1-.8 1-2.1 1-2.7 1-.7 1 2.9 1 5.8 1 5.4 1 3.5 1 1.7 1 .9 1 0 1-1.7 1-3.2 1-3.3 1-1.9 1-.1 1 .8 1 .4 1 .3 1 .9 1 .7 1-.5" stroke="#80ff60"/>
<path d="M372.3,86.6l1-6.6 1-3.1 1-1.6 1-1.8 1-1 1 2.7 1 7.4 1 9.1 1 6.4 1 1.2 1-4 1-6.3 1-4.8 1-1.4 1-.2 1-2 1-7 1-10.8 1-10.2 1-3.2 1 4.2 1 5.7 1 1 1-2 1 2.9 1 10.3 1 10.4 1 3.8 1-2.3 1-3.6 1-.6 1 2.8 1 5.3 1 7.6 1 9.1 1 8.5 1 6 1 2.6 1-1 1-5.2 1-8.9 1-10 1-7.8 1-2.9 1 1.6 1 2.6 1 .8 1-1.3 1-2 1-1.9 1-.1 1 2.7 1 5 1 3.5 1-2 1-8.9 1-13.9 1-14.3 1-9.8 1-.3 1 8.4 1 9.9 1 5.1 1-1.5 1-8.4 1-15 1-16.5 1-8.4 1 5.3 1 12 1 9.2 1 7.3 1 4.5 1 2.6 1-.1 1-3 1-1.6 1 3.8 1 8.9 1 10.7 1 9.9 1 7.9 1 5.8 1 3.4 1-.1 1-4.8 1-8.4 1-6.5 1 1.7 1 9 1 10.2 1 7.3 1 3.6 1 1.7 1 1.2 1 1.2 1 .9 1-1.1 1-4.1 1-5.7 1-5 1-2.3 1 .9 1 1.3 1-.5 1-2.4 1-2.3 1 0 1 2.8 1 4.9 1 5.1 1 3.8 1 1.8 1 .4 1 .1 1 .4 1 1.7 1 2.8 1 3 1 2.2 1 .9 1 .2 1 0 1 .2 1-.5 1-1.7 1-3 1-3.8 1-3.3 1-1.3 1 1.2 1 2.9 1 5.6 1 6.7 1 5.6 1 2.3 1-3.5 1-8.7 1-9.7 1-7.2 1-3.2 1 1 1 1.2 1 .8 1-.1 1-1.8 1-3.2 1-2.6 1-.1 1 3.4 1 6.4 1 7.9 1 7 1 4.3 1 1.2 1-1.7 1-3.4 1-4.6 1-5.8 1-5.8 1-3.9 1-2.1 1-1.7 1-2.4 1-2.3 1-.6" stroke="#a040e0"/>
<path d="M372.3,91.5l1-12.7 1-10.6 1-3.7 1 3.6 1 6.4 1 5.9 1 5 1 4.9 1 5.3 1 5.3 1 4.6 1 2.5 1 .2 1-1.2 1-.9 1 .2 1-.4 1-2.3 1-4 1-3.6 1-1.5 1-.4 1-3.3 1-7.3 1-7.6 1-2.6 1 3.5 1 6.3 1 5.9 1 4.6 1 3.6 1 2.8 1 2.1 1 1.7 1 2 1 3.3 1 4.7 1 5.1 1 4.5 1 3.1 1 1.9 1 1.5 1 1.1 1 .3 1-1.4 1-2.8 1-2.5 1-.8 1-.8 1-2.9 1-5.8 1-7.7 1-7.8 1-5.4 1-.6 1 4.4 1 6.1 1 3.3 1-3 1-9 1-12.7 1-13.6 1-11.8 1-9.1 1-8.3 1-10.5 1-12.1 1-9.1 1-.7 1 6.9 1 8.1 1 8.5 1 5.5 1 5.8 1 8.2 1 7.1 1 3.3 1 .7 1 2.8 1 7.4 1 10 1 8.8 1 4.6 1 .7 1-.9 1-.2 1 .2 1-.5 1 .3 1 2.8 1 5.7 1 7 1 6.5 1 6.5 1 5.9 1 4.1 1 2.4 1 1.4 1 1.5 1 1.1 1-1 1-4 1-6.2 1-6.8 1-5.6 1-4.1 1-3.2 1-2.8 1-2.5 1-1.8 1-1.4 1-.7 1 .5 1 2.6 1 4.5 1 5.1 1 4.6 1 3.3 1 2.1 1 1.5 1 1.1 1 1 1 1.1 1 1.7 1 1.7 1 .3 1-2.3 1-4.1 1-3.8 1-.7 1 3 1 5.1 1 7 1 6.9 1 5.1 1 2 1-3.2 1-7.6 1-8.9 1-7.5 1-3.9 1 1.1 1 2.1 1 .9 1-1.2 1-3.1 1-4 1-3.3 1-1.3 1 1.4 1 3.8 1 4.8 1 4.8 1 4 1 2.9 1 1 1-.5 1-1 1-.8 1-1 1-1.6 1-2.3 1-2.2 1-1.9 1-1.7 1-1.5" stroke="#60ff30"/>
<path d="M372.3,112.6l1 3 1 3.1 1 1.6 1-.2 1-.7 1-.1 1 .2 1-.7 1-.9 1 .4 1 1.5 1 1.1 1-.2 1-1.9 1-4.6 1-8.2 1-13 1-15.3 1-10.6 1-.1 1 7.7 1 8.9 1 6.3 1 3.8 1 2.5 1 1.5 1-.1 1-2 1-2.4 1-.2 1 2.4 1 1.7 1-2 1-4.4 1-2.3 1 4.1 1 8.8 1 8.1 1 3.2 1-2.5 1-4.9 1-3.2 1-.4 1 1.3 1 1.9 1 1.5 1 .4 1 .3 1 1.3 1 3 1 4 1 3.6 1 2.1 1-.9 1-4.7 1-8.7 1-11.4 1-11.9 1-10.3 1-6.2 1-1.6 1-.1 1-1.4 1-2.5 1-2.5 1-2.6 1-1.7 1 .4 1 3.5 1 6.3 1 6.5 1 5.2 1-1.3 1-5.5 1-2.9 1 3.7 1 8.3 1 8 1 4 1-1.1 1-5 1-6.3 1-4.8 1-2.4 1-.9 1 .1 1 2.1 1 5.7 1 9.7 1 10.4 1 8.4 1 6.6 1 5.4 1 5.2 1 4.7 1 3.4 1 1.7 1 0 1-1.2 1-1.4 1-1.6 1-1.6 1-.8 1 .3 1 1.5 1 1.7 1 .7 1-.7 1-.8 1 .5 1 2.4 1 3.3 1 3.2 1 2.1 1 .4 1-1.9 1-3.7 1-4 1-2.7 1-.2 1 1.9 1 2.7 1 1.4 1-1 1-3.1 1-3.5 1-2 1 .1 1 .8 1 .7 1 1.4 1 3 1 6.2 1 7.3 1 5.6 1 2.2 1-3.2 1-8.8 1-11.3 1-9.5 1-4.3 1 1.8 1 2.7 1 1.3 1-1.1 1-4.6 1-7.7 1-7.6 1-3.5 1 2.5 1 6 1 6.2 1 5.2 1 4 1 2.9 1 1.1 1-.9 1-1.8 1-1.7 1-1.3 1-1.5 1-2.7 1-3.2 1-1.9 1 .1 1 1.3" stroke="#40e8e0"/>
<path d="M372.3,109.1l1-1.8 1-.5 1 1.4 1 2.1 1 2.1 1 1.9 1 1.1 1-1.4 1-4.4 1-4.9 1-2.5 1-.6 1-2.3 1-5.8 1-8 1-6.8 1-4.2 1-.5 1 4.5 1 8.6 1 8.7 1 6.1 1 2.9 1 .7 1-1.3 1-4.5 1-9 1-13 1-13.8 1-8.2 1 2.3 1 11.7 1 14.4 1 11.5 1 6.3 1 2.4 1 .6 1-.8 1-3.4 1-6.5 1-6 1-.5 1 6.1 1 10.1 1 10.9 1 7.8 1 1.7 1-5.2 1-10.8 1-11.7 1-7.3 1-.8 1 3.2 1 4.7 1 5.2 1 4.6 1 1.9 1-2.2 1-4.8 1-2.8 1 .9 1 1.3 1-1 1-2.7 1-2.8 1-3.2 1-4.5 1-5.3 1-3.8 1-1.6 1-1 1 1.1 1 1.4 1 2.8 1 3.6 1 2.2 1 .5 1-.5 1-.9 1-.9 1-.1 1 2 1 4.8 1 6.9 1 6.3 1 2.7 1-1.3 1-3 1-1 1 1.3 1 2.1 1 2.8 1 4.3 1 6.7 1 7.5 1 6.2 1 4.3 1 2.7 1 1.2 1-.1 1-1.5 1-2.7 1-2.8 1-2.2 1-1 1 .5 1 1.7 1 1.2 1-1.4 1-5.5 1-8.6 1-7.3 1-.8 1 5.9 1 6.8 1 3 1-1.6 1-4.7 1-4.8 1-2.2 1 1.1 1 3 1 1.7 1-1.5 1-3.9 1-3.3 1-.5 1 1.9 1 2 1 1 1 1 1 2.4 1 6.7 1 9 1 7.5 1 3.4 1-3 1-9.7 1-14.1 1-15.6 1-11.8 1-2.5 1 3.6 1 6.4 1 6.3 1 4.1 1 1.6 1-.1 1-1.2 1-1.3 1-.1 1 2.4 1 4 1 3.2 1 1 1-1.1 1-1.6 1-1.2 1-.9 1-.4 1 1.2 1 2.5 1 2.9 1 2 1-.2 1-2.1" stroke="#00b8ff"/>
<path d="M372.3,122l1-.5 1-1.1 1-.6 1-.1 1-.5 1-1.4 1-2.5 1-3 1-1.6 1 1.9 1 4.4 1 4.1 1 1.4 1-2.1 1-4.8 1-5.2 1-3.6 1-.2 1 4.1 1 6.7 1 5.7 1 2.6 1-.2 1-.7 1 .4 1 1.1 1-.1 1-2.4 1-4.3 1-5.4 1-5.7 1-6.2 1-5.9 1-3.9 1-.4 1 3.4 1 5.5 1 4.4 1 1.2 1-2.7 1-4.5 1-3.3 1-1.1 1 .2 1-.1 1-1.1 1-.8 1 .8 1 2.1 1 2.4 1 1.6 1 1 1 1.6 1 3 1 3.2 1 1.1 1-2.4 1-6.3 1-8.7 1-7.7 1-4.7 1-1.8 1 2.1 1 6.7 1 7.9 1 3.3 1-3.1 1-6.5 1-4.3 1 .4 1 3.3 1 5.3 1 2.6 1-.8 1-3 1-3.8 1-4.2 1-5.1 1-5.8 1-5.1 1-2.8 1 .2 1 2.9 1 4.9 1 5.4 1 5.6 1 4.8 1 2.9 1 1.3 1 .7 1 1.9 1 4 1 5.4 1 6.4 1 6.3 1 4.8 1 3.3 1 1.7 1 .7 1 .1 1-.6 1-1.5 1-2.4 1-3.5 1-3.8 1-3.5 1-3.4 1-3.5 1-3.1 1-1.7 1 .4 1 2 1 3 1 3.5 1 3.4 1 3.2 1 3.2 1 3 1 2.2 1 1.2 1 .3 1 .3 1 .2 1 .2 1 .1 1 .3 1 .7 1 .9 1 .5 1-.1 1-.5 1-.1 1 2.8 1 5.1 1 5.6 1 3.7 1-.5 1-4.9 1-7.6 1-8.5 1-6.8 1-1.9 1 .8 1 1.8 1 1.1 1-.5 1-1.6 1-1.4 1-.5 1 1 1 2.4 1 3.6 1 3.9 1 3.2 1 1.5 1-.3 1-2.1 1-3.4 1-4.5 1-4.4 1-2.9 1-1.9 1-1.4 1-1 1-.1 1 .6" stroke="#2060f0"/>
<path d="M372.3,114.9l1-1.4 1 .7 1 3.1 1 2.6 1-.3 1-3.5 1-4.7 1-4.6 1-3.7 1-1.8 1 .8 1 1.4 1-1.5 1-6 1-6.1 1 0 1 5.3 1 4.1 1-1.5 1-5.2 1-2.8 1 3 1 5.3 1 1.9 1-3.7 1-7.5 1-6.4 1-1.9 1-.2 1-2.7 1-4.8 1-2.7 1 3.1 1 9 1 11.1 1 9.7 1 6.6 1 3.2 1-.9 1-6 1-9.6 1-10.2 1-10.4 1-10.9 1-8 1 1.1 1 11.2 1 14.5 1 11.1 1 5.8 1 .8 1-3.6 1-5.4 1-1.9 1 4 1 7.1 1 6.4 1 4.8 1 2.5 1-1 1-5.8 1-9.8 1-10.5 1-9.4 1-9.5 1-11 1-11.2 1-10.3 1-8.5 1-5.3 1-1.4 1 5.9 1 7.9 1 10.1 1 13.4 1 14.7 1 13.5 1 10.1 1 4.3 1-3.3 1-10.5 1-13 1-6.6 1 5.8 1 14.3 1 14.3 1 9.1 1 3.4 1 .2 1-1.3 1-1.4 1-.4 1 1.5 1 5.1 1 8.2 1 8.9 1 6.9 1 3.5 1-.2 1-3.3 1-5 1-5.2 1-4.6 1-4.6 1-4.8 1-4.8 1-4.5 1-3.2 1-.7 1 1.9 1 2.9 1 3 1 3.2 1 2.6 1 .5 1-2.1 1-2.6 1-.9 1 1 1 1.4 1 0 1-1.1 1-1.4 1 .1 1 1.6 1 2 1 1.8 1 2.4 1 3.6 1 4.8 1 4.7 1 3.4 1 3.5 1 3.9 1 3.6 1 1.7 1-2.7 1-7.3 1-8.8 1-7 1-2.9 1 1.7 1 2.1 1 1.2 1-.4 1-2.7 1-4.3 1-3.8 1-1.6 1 .6 1 1.5 1 1.7 1 2.3 1 3.2 1 3.7 1 2.6 1 .6 1-1.8 1-3.7 1-3.9 1-2.1 1-.5 1 .3 1 .6 1 1.1 1 .6" stroke="#00f0a0"/>
<path d="M372.3,112.2l1-2.3 1 1.9 1 6.4 1 7.7 1 4.7 1-.1 1-4.6 1-6.5 1-4.9 1-1.6 1 .5 1 2.2 1 3.3 1 2.5 1-1.2 1-4.8 1-6.5 1-4.6 1-.8 1 2.5 1 3.6 1 3.8 1 3.6 1 3.2 1 2.5 1 .6 1-1.5 1-2.1 1-1.1 1 .1 1 .5 1 .2 1-.6 1-2.8 1-6.1 1-8.1 1-6.6 1-2.5 1 .2 1-1.4 1-4.5 1-6.4 1-6.6 1-5 1-1.5 1 2 1 3 1 1.3 1-1.6 1-3.1 1-2.1 1 .9 1 3.1 1 2.2 1-.8 1-1.5 1 1.7 1 4.7 1 2.9 1-.9 1-4.5 1-8 1-10.6 1-8.8 1-1.1 1 5.1 1 5.6 1 3.8 1 5.2 1 8.8 1 9.5 1 8.4 1 4.4 1 1.5 1-.7 1-4.1 1-7.4 1-8.7 1-6.8 1-3.8 1-1.9 1-.4 1 2.5 1 6.1 1 8.7 1 8.9 1 7.6 1 5.6 1 4.3 1 3.3 1 2.9 1 3.1 1 2.4 1 1.5 1 .2 1 0 1 1.2 1 2.3 1 2 1 1.3 1 .6 1-.1 1-.6 1-2.5 1-5.3 1-7.6 1-7.9 1-5.7 1-2.3 1 .7 1 3.4 1 5.7 1 6.9 1 6.2 1 3.8 1 1 1-.7 1-1.4 1-.8 1 .8 1 1.6 1 1.5 1 .8 1-.2 1-1.2 1-2.2 1-3 1-3 1-1.8 1 .7 1 3 1 4.2 1 6.3 1 6.6 1 5 1 1.5 1-4.6 1-11.3 1-14.6 1-13.3 1-7.4 1 .1 1 2.8 1 3.7 1 3.5 1 1.5 1-.9 1-1.5 1 .3 1 3.1 1 4.4 1 4.4 1 3.6 1 2.5 1 1 1-1.5 1-4.1 1-5.3 1-3.7 1 .5 1 4.6 1 5.8 1 4.2 1 1.7 1-1 1-2.7" stroke="#80ff60"/>
<path d="M372.3,103.8l1-.1 1 0 1 .2 1 1.3 1 2.6 1 3.4 1 3.7 1 2.9 1 .5 1-2.9 1-5.6 1-6.1 1-3.9 1-.8 1-.2 1-2.2 1-5.1 1-3.6 1 2.8 1 9.8 1 11.4 1 8 1 1.8 1-3.8 1-6.6 1-6.3 1-4.5 1-2.5 1 .4 1 3 1 3.6 1 1.7 1-1.2 1-2.9 1-2.1 1 .1 1 .7 1-2.1 1-5.6 1-5.8 1 1.6 1 11.2 1 13.5 1 9.4 1 3.9 1-.8 1-4.2 1-5.8 1-5.6 1-3.2 1 .1 1 2.2 1 2.4 1 1 1-1.2 1-3.5 1-4.8 1-6 1-8 1-9.3 1-8.5 1-6.2 1-3.8 1-2.6 1-1.6 1 .4 1 2.7 1 2.3 1-.2 1-2 1-2.1 1 1.7 1 2.9 1 5.3 1 8.7 1 9.4 1 7.1 1 2.5 1-1.1 1-1.5 1 .3 1 2.6 1 4.1 1 4.5 1 3.1 1 .3 1-2.4 1-3 1-.5 1 3.2 1 5.8 1 6.1 1 4.5 1 2.8 1 1.6 1 .9 1 .8 1 .7 1 .6 1 .5 1-.6 1-2.3 1-3.2 1-3.6 1-3.3 1-2.1 1-.7 1 0 1 .1 1 .7 1 1.7 1 2.5 1 2.4 1 1.2 1-.4 1-2.4 1-2.6 1-1.2 1 .5 1 1 1-.2 1-1.6 1-2.4 1-2.1 1-1.3 1 .1 1 1.2 1 2 1 2.1 1 1.9 1 1.4 1 1.4 1 4.4 1 7 1 6.5 1 3.2 1-3 1-8.5 1-9.7 1-7.1 1-2.3 1 2.1 1 2.2 1 1.7 1 1.4 1 .3 1-1.6 1-2.2 1-.9 1 1.5 1 2.4 1 2.4 1 2.1 1 2.1 1 2.2 1 1.8 1 1.1 1 .2 1-1.4 1-2.5 1-2.1 1-1 1-.3 1-.9 1-1.9 1-2.2" stroke="#2060f0"/>
<path d="M372.3,107.4l1-1.9 1 2 1 4.6 1 4 1 1.3 1-.7 1-.9 1-.4 1-.5 1-.5 1 .1 1 .5 1 .5 1-.5 1-1.3 1-.7 1 .3 1 2 1 3.7 1 4.5 1 4 1 2.9 1 1.9 1 .6 1-.8 1-2.3 1-3.8 1-5.2 1-5.9 1-5 1-3 1-1.8 1-2.4 1-3.1 1-3.1 1-1.9 1-.1 1 1.2 1 .6 1-.7 1 .5 1 4.5 1 7.1 1 6.4 1 3.5 1-.3 1-3.5 1-5.6 1-6.4 1-5.5 1-2.9 1 .6 1 3.4 1 4.4 1 3.6 1 2.5 1 1.1 1-.7 1-3.5 1-5.2 1-4.4 1-2.9 1-1.9 1-2.2 1-3.3 1-5.1 1-6 1-5.7 1-4.1 1-2 1-1.1 1 1.1 1-.4 1-.1 1 2.7 1 4.1 1 3.6 1 2.4 1 1.3 1 0 1-1.4 1-1.8 1-.5 1 1.9 1 3.2 1 1.2 1-2.7 1-4.9 1-1.1 1 5.6 1 8.8 1 7.1 1 4.4 1 5.3 1 7.4 1 7.8 1 6 1 3.1 1 .3 1-1.5 1-2.2 1-1.8 1-.7 1-.7 1-1.9 1-3.2 1-3.5 1-3.2 1-2.9 1-2.1 1 0 1 3.4 1 5.6 1 4.7 1 1.8 1-.7 1-.5 1 1.2 1 2.2 1 1.8 1 .9 1 .4 1-.2 1-1 1-1.5 1-1 1 1 1 3.2 1 4.3 1 3.4 1 1.7 1 .2 1 1.4 1 2.8 1 3 1 1.4 1-2.7 1-6.5 1-7.3 1-6 1-3.3 1 .2 1 .4 1-.1 1-.5 1-1.1 1-1.9 1-2.5 1-2.8 1-1.7 1 .7 1 2.9 1 3.2 1 1.5 1-.6 1-2.3 1-2.5 1-1.4 1-.6 1-.6 1-.6 1-.5 1 .1 1 1.2 1 1.5 1 1.1" stroke="#1a3cf0"/>
<path d="M372.3,121.4l1 .5 1-2 1-4.7 1-6.7 1-7 1-4.3 1 .1 1 3.9 1 6 1 7.1 1 5.8 1 2.2 1-2.4 1-6 1-6.7 1-4.6 1-2.7 1-2.4 1-2.5 1-1.5 1-.9 1-3 1-7 1-8.6 1-6.1 1-3.5 1-4.6 1-7.2 1-6.6 1-1.1 1 6.6 1 11.4 1 12.1 1 9.8 1 5.8 1 1.4 1-2 1-3.8 1-3.3 1-2.5 1-2 1-2.6 1-5.7 1-8.3 1-5.6 1 3.2 1 11.4 1 12.8 1 9 1 4.4 1 .9 1-.9 1-1 1-.4 1-.2 1-1.3 1-2.9 1-4 1-5.5 1-4.9 1-2.2 1 .5 1 2.3 1 2.9 1 2.3 1 .3 1-1.3 1-1 1 1.1 1 2.8 1 1.8 1 2.3 1 1.8 1 2.6 1 3.5 1 2.7 1 1.4 1 1.6 1 2.8 1 3.1 1 .4 1-3.4 1-5.8 1-4.9 1-1.8 1 1 1 1.4 1-.6 1-2.3 1-2.3 1 .2 1 2.8 1 3.9 1 5.7 1 7.5 1 7.3 1 5 1 1.4 1-1.9 1-3.9 1-4.7 1-4 1-2.8 1-2.8 1-3.2 1-3.2 1-2.7 1-2.8 1-3.5 1-2.6 1 .5 1 3.9 1 5.3 1 4.2 1 3 1 2.1 1 2.3 1 1.9 1 .9 1 0 1-.2 1 1.2 1 3.1 1 3.7 1 1.9 1-.7 1-2.3 1-1.4 1 1.2 1 4.3 1 6.7 1 7 1 6.9 1 5.1 1 2.6 1-.7 1-5.4 1-9.9 1-11.5 1-10.5 1-6.1 1 .7 1 3.5 1 3 1 .2 1-3.6 1-6 1-5.4 1-1.8 1 3.3 1 6.9 1 8.1 1 7.4 1 5.5 1 2.9 1 .2 1-1.7 1-2.2 1-2 1-1.7 1-1 1-.5 1 0 1 0 1-.6 1-1.3" stroke="#0020ff"/>
<path d="M372.3,113.2l1-5.9 1-9.4 1-9.2 1-5.4 1-2.9 1-4.9 1-8.9 1-8.3 1 2.1 1 15.8 1 20.2 1 14.7 1 6.5 1-.4 1-5.3 1-8.3 1-9.6 1-7.6 1-2.3 1 3.4 1 6.3 1 7.1 1 5.8 1 2.6 1-1.6 1-4.1 1-2.8 1 1.5 1 4.2 1 2.4 1-2.1 1-6.7 1-9.5 1-9.4 1-6.1 1-1.3 1 2.5 1 4.1 1 4.5 1 4.7 1 5.8 1 6.3 1 5.4 1 3.2 1 0 1-4 1-7.1 1-5.4 1 .5 1 5.9 1 7 1 4 1-.7 1-4.5 1-5.7 1-2.9 1 1.4 1 2.2 1-2.8 1-10.1 1-14.6 1-13.1 1-6.3 1 1.8 1 5.7 1 3.4 1-.4 1-1.4 1 1.8 1 5.5 1 5.9 1 6.2 1 3.3 1 2.6 1 5.3 1 9.2 1 10.9 1 7.9 1 2.3 1-3 1-5.3 1-3.5 1 .4 1 3.2 1 4.1 1 4.5 1 4.4 1 3.5 1 1.8 1-.4 1-1.9 1-1.7 1-.9 1 .3 1 .5 1-.1 1-.2 1 0 1 .5 1 .5 1-1.2 1-3.8 1-6.1 1-6.4 1-4 1-.3 1 1.5 1 .3 1-1.8 1-2.7 1-1.5 1 .7 1 3 1 4.3 1 4.2 1 2.2 1-.4 1-2.1 1-1.8 1 .8 1 2.5 1 2.7 1 1.5 1 .7 1 0 1-.4 1 .1 1 1.9 1 3.9 1 4.5 1 3.1 1 1.1 1 1.6 1 2.8 1 3.4 1 2.1 1-1.7 1-5.5 1-7 1-7.1 1-6.1 1-3.7 1-2.8 1-.9 1 1 1 .8 1-1.1 1-2.9 1-3.4 1-2.1 1 .6 1 3.6 1 5.1 1 4.5 1 2.6 1 .5 1-.8 1-1.2 1-1.2 1-.8 1 0 1-.2 1-1.4 1-2.6 1-3.4 1-2.5" stroke="#00e0e0"/>
<path d="M372.3,128.8l1 4.2 1 2.9 1 .7 1-1.4 1-2.6 1-3.5 1-4.7 1-6.6 1-7.4 1-5.4 1-1.4 1 2.1 1 3.2 1 2.7 1 1.8 1 1 1-.9 1-3.1 1-2.8 1 .1 1 1.7 1-.8 1-6.8 1-12.1 1-11.4 1-4 1 5.4 1 10.8 1 11 1 8.6 1 5.7 1 3.1 1 .4 1-2.8 1-6.6 1-10 1-11.5 1-10 1-5.6 1-.7 1 3.7 1 5.7 1 4.2 1 .7 1-1.3 1-1.9 1-1.6 1-1.4 1-1.4 1-1 1-.8 1-2.1 1-4.7 1-7.8 1-8.9 1-5.6 1 .4 1 4.5 1 3.6 1 .4 1-3 1-6.8 1-9.7 1-10.5 1-10 1-11.7 1-12.7 1-7.3 1 6.5 1 18.6 1 20.2 1 18.5 1 12.3 1 8.1 1 5.5 1 2 1-1.4 1-4 1-5.4 1-5.1 1-3.8 1-1.2 1 3.5 1 8.9 1 11.1 1 8.6 1 3.8 1 .7 1 .9 1 2 1 2.8 1 3.8 1 4.9 1 5.7 1 4.5 1 2.2 1 1.1 1 .5 1 .4 1 .5 1 .5 1-.2 1-2.1 1-5.4 1-7.4 1-5.8 1-1.5 1 1.7 1 2.5 1 1.9 1 1.3 1 .9 1 1 1 1.2 1 1.2 1 .6 1 .3 1-.2 1-.6 1-.3 1 .7 1 2 1 2 1 .6 1-1.1 1-1.4 1 .1 1 2.1 1 2.4 1 1.5 1 1.1 1 1.6 1 4.5 1 5.8 1 5 1 2.2 1-3.1 1-8.6 1-11.3 1-10.4 1-5.6 1 .9 1 2.7 1 2.8 1 2.7 1 1.7 1 .2 1-.7 1-.5 1 .8 1 1.9 1 2.4 1 2.6 1 3 1 3 1 1.7 1-.5 1-2.2 1-3.4 1-3.6 1-2.9 1-2.8 1-2.9 1-2.7 1-1.6 1 .4" stroke="#1a3cf0"/>
<path d="M372.3,117.3l1 .8 1-.1 1-1.8 1-2.3 1 .4 1 4.2 1 4.7 1 1.6 1-2.2 1-3.6 1-2.8 1-1.5 1-.6 1 0 1-.1 1 .4 1 1.4 1 2.1 1 1.6 1-.1 1-1.4 1-.7 1 .5 1 .2 1-2.3 1-5 1-5.2 1-2.5 1 .7 1 2.4 1 2.7 1 2.2 1 .8 1-1.9 1-4.5 1-5.2 1-3.1 1-.5 1 .7 1 1.4 1 3.5 1 5.3 1 4.7 1 2.3 1-.5 1-2.3 1-1.7 1 .3 1 .8 1-.8 1-2.3 1-1.4 1 .9 1 1.4 1-.7 1-3.4 1-5.1 1-4.7 1-3.1 1-2.3 1-4 1-7 1-7.7 1-5.2 1-2.4 1-1.8 1-.7 1 1.7 1 4.1 1 5 1 4.7 1 7.1 1 6.1 1 3.1 1-.8 1-3.4 1-2.4 1 .6 1 2.3 1 1.7 1-.5 1-3.5 1-5.6 1-5.2 1-2.6 1-.8 1-.8 1-.2 1 4.4 1 9.7 1 12.3 1 11.1 1 7.3 1 3.5 1 .2 1-1 1 .1 1 1.3 1 1.8 1 2 1 1.9 1 1.6 1 1 1-.4 1-2 1-3 1-3.4 1-2.9 1-1.6 1-.1 1 .7 1 .5 1 .4 1 .5 1 .7 1 .5 1 .8 1 1.3 1 1.6 1 1.5 1 .8 1 .7 1 .6 1 .2 1-.8 1-1.6 1-1 1 1.1 1 3.3 1 4.5 1 4.4 1 3.8 1 4.6 1 4.9 1 3.8 1 1.4 1-2.9 1-7 1-8.7 1-7.6 1-4.7 1-1 1 .2 1 .8 1 1.3 1 .3 1-1.3 1-2.3 1-2 1-.4 1 1.3 1 2.8 1 3.6 1 4 1 3.4 1 1.7 1-.8 1-3 1-4.1 1-3.4 1-1.6 1-.6 1-.3 1 0 1 0 1-.2" stroke="#3050ff"/>
<path d="M372.3,126.8l1 .1 1 .1 1 .6 1 .3 1-.9 1-2.2 1-3.3 1-4.4 1-4.3 1-1.8 1 1.1 1 1.5 1-1.1 1-5.1 1-7.8 1-7.1 1-4.3 1-1.3 1 .8 1 3 1 5.4 1 6.9 1 5.6 1 2 1-2.2 1-5.2 1-5.8 1-4.9 1-3.5 1-2.1 1-.2 1 1.8 1 3.1 1 3.7 1 3.7 1 2.8 1 1.4 1 .1 1-.3 1-1.6 1-3.3 1-4 1-2 1 2.4 1 6.5 1 7.2 1 4.9 1 1.3 1-2.6 1-5.3 1-5.7 1-4.2 1-3.1 1-3.6 1-4.5 1-2.5 1 2.1 1 5.4 1 4.3 1 1.3 1-1.4 1-3.6 1-5.1 1-6.3 1-7.1 1-6.3 1-2.9 1 .8 1 3.9 1 6.3 1 7.8 1 10.2 1 7.6 1 4.2 1 1.7 1-.3 1-1 1-.6 1 .5 1 1.1 1 .8 1 .1 1 .2 1 1.5 1 3.9 1 5.9 1 6 1 3.7 1 .9 1-.7 1-.4 1 1 1 2 1 2.7 1 2.7 1 1.9 1 .6 1-1.4 1-3.5 1-4.9 1-5.7 1-5.5 1-3.3 1-.4 1 2 1 2.9 1 1.9 1 .2 1-1 1-1 1-.5 1-.5 1-.5 1 .9 1 2.6 1 2.7 1 1.7 1 .1 1-1.2 1-1.1 1 .4 1 2.6 1 3.3 1 2.2 1 0 1-1.8 1-2.5 1-1.8 1-.7 1 .4 1 1.5 1 2.5 1 5.4 1 6.3 1 4.4 1 .7 1-5.3 1-10.8 1-12.5 1-10.1 1-4.6 1 1.8 1 3.3 1 2.5 1 .6 1-1.9 1-3.8 1-3.5 1-1.5 1 1.6 1 3.7 1 4.6 1 4.8 1 4.8 1 4.4 1 2.5 1-.4 1-3.3 1-5.3 1-5.2 1-3.4 1-1.5 1 .3 1 1.7 1 1.9 1 1.1" stroke="#2060f0"/>
<path d="M372.3,143.1l1 .9 1-.3 1-.9 1-2 1-3.7 1-5.5 1-5.4 1-2.3 1 2.5 1 5.4 1 3.7 1-.8 1-5.2 1-7.2 1-5.7 1-1.2 1 3.3 1 5.8 1 5.2 1 1.7 1-3.5 1-7.3 1-8.6 1-7.6 1-6.4 1-5.8 1-5.1 1-5.3 1-9.4 1-17.6 1-24.7 1-21.9 1-4.7 1 17.7 1 29.4 1 25.6 1 14.6 1 4.6 1-.4 1-.7 1 1.9 1 3.6 1 2.9 1 1.1 1-1 1-3.5 1-5.5 1-5.1 1-1.5 1 3.7 1 6.5 1 4.5 1-.1 1-4.1 1-5.7 1-5.4 1-4.3 1-2.7 1-1.1 1 .8 1 2.3 1 2.7 1 1.8 1 .1 1-1.6 1-1.9 1-.4 1 .5 1 .2 1-1.3 1-3.2 1-1.4 1-.1 1 2.2 1 3.6 1 2.5 1-.2 1-2.5 1-3.2 1-2.1 1 .6 1 3.3 1 4.5 1 3.4 1 1.1 1 .1 1 1.3 1 3.7 1 6.6 1 7.8 1 6.8 1 4.3 1 1.8 1 1.8 1 4 1 5.5 1 4.7 1 1.4 1-2.6 1-5.3 1-5.4 1-2.5 1 1.1 1 1.5 1-.9 1-3.2 1-3.7 1-1.8 1 .9 1 3.4 1 4.6 1 3.8 1 1.8 1-.3 1-1.9 1-2.4 1-1.8 1-1.1 1-.9 1-.9 1-.6 1-.2 1-.6 1-2.2 1-3.7 1-3.2 1-.5 1 3 1 4.8 1 4.7 1 3.8 1 3.6 1 5.6 1 6.5 1 4.8 1 1.2 1-4 1-8.1 1-8 1-6 1-4.1 1-2.7 1-4.1 1-4.2 1-1.7 1 .7 1 .7 1-.6 1-.8 1 1.2 1 3.8 1 5.1 1 4.6 1 3.7 1 2.3 1 .4 1-2 1-3.9 1-5.5 1-6.4 1-5.7 1-4 1-1.4 1 1 1 2.1 1 1.6" stroke="#40e8e0"/>
<path d="M372.3,93.9l1-3.8 1 .1 1 2.9 1 4.2 1 3.9 1 2.8 1 2.1 1 2.8 1 3.9 1 4 1 1.9 1-.7 1-2 1-1.5 1-.6 1 0 1-.6 1-1.1 1-.4 1 1.4 1 2.3 1 1.2 1-2.7 1-7.3 1-9 1-4.7 1 2.3 1 5.6 1 3.1 1-2.2 1-6.3 1-7.9 1-7.1 1-5.5 1-3 1 1 1 4.8 1 6.1 1 3.2 1-4.3 1-13.8 1-18.8 1-10.8 1 6.3 1 15.3 1 11.5 1 4.5 1 1.5 1 2.6 1 3.8 1 2.3 1-.7 1-2.9 1-3.3 1-2 1 .6 1 3.2 1 4.9 1 4 1 .9 1-4.3 1-9.5 1-11.2 1-7.6 1-3 1-1.5 1-3 1-6.3 1-8.8 1-8 1-2.2 1 10.1 1 15.1 1 13.3 1 7.8 1 1.6 1-2.8 1-5 1-5.1 1-3.1 1 .4 1 4.5 1 6.8 1 6.2 1 2.9 1-.8 1-2.6 1-1.8 1 2.4 1 6.7 1 9.4 1 9.7 1 7.7 1 5.5 1 3.1 1 1.4 1 .7 1-.5 1-3.2 1-5 1-4.5 1-1.4 1 1.9 1 2.8 1 1.7 1-.2 1-1.9 1-2 1-.1 1 2 1 2.3 1 1.1 1 .7 1 1.5 1 2.2 1 1.4 1 .6 1 .5 1 .6 1 .6 1 1.1 1 2.4 1 3 1 2 1-.1 1-1.6 1-2.3 1-2 1-.9 1 .6 1 2.4 1 3.8 1 6.2 1 6.7 1 4.7 1 1.2 1-4.1 1-8.4 1-8.5 1-5.1 1-.7 1 2.9 1 2.7 1 1.3 1-.7 1-2.8 1-4.1 1-4.3 1-3.5 1-1.8 1 .6 1 3.1 1 4.7 1 4.8 1 3.5 1 1.2 1-1.2 1-3.1 1-3.8 1-3 1-1.6 1-1.5 1-2.2 1-2.5 1-1.7 1-.3" stroke="#80ff60"/>
<path d="M372.3,97l1-4.1 1-1.2 1 1.6 1 4.2 1 6.5 1 8 1 7.8 1 5.6 1 1.9 1-2.6 1-6.9 1-8.9 1-6.9 1-1.2 1 4.2 1 5.7 1 .6 1-7.6 1-14.2 1-11.9 1 .7 1 13 1 14 1 6.4 1-1.9 1-6.2 1-4.4 1 .9 1 4.2 1 3.1 1 .1 1-2.4 1-3.4 1-3 1-2.6 1-2.6 1-2.5 1-1.3 1-.3 1-1.3 1-3.5 1-3.6 1-.7 1 4.1 1 7.9 1 7.9 1 4.9 1 2 1 1.1 1 1.9 1 2 1 .6 1-.3 1 .2 1 .4 1-.7 1-3.1 1-5.5 1-8.3 1-9.1 1-6.4 1-1.3 1 3.1 1 4.9 1 4.2 1 2.2 1 .8 1-.5 1-1.1 1-1.3 1-1.4 1-.4 1-3 1-4.9 1-2.8 1 2 1 6.2 1 6.8 1 4.4 1 1.8 1 1.6 1 2.8 1 3.4 1 2.6 1 1.1 1 .2 1-.6 1-1.5 1-1.5 1-1.5 1-1.7 1-1.5 1 0 1 3.8 1 6.7 1 6.9 1 4.9 1 1.3 1-2.1 1-3.5 1-2.7 1-1 1-.1 1-1.5 1-3 1-3.7 1-4.2 1-4.9 1-4.9 1-2.1 1 2.7 1 6.2 1 6.3 1 4 1 .9 1-1.9 1-2.6 1-.6 1 2.3 1 4.3 1 4.3 1 2.9 1 .4 1-2.1 1-2.8 1-.7 1 2.2 1 3.5 1 2.1 1 .6 1 .3 1 1.6 1 4.8 1 6.1 1 4.8 1 1.7 1-3.2 1-7.3 1-8.2 1-6.8 1-4.1 1-.1 1 1.2 1 2.2 1 2.8 1 2 1 .5 1-1 1-1.2 1-.3 1 1 1 2.3 1 2.9 1 2.8 1 1.4 1-.3 1-1.6 1-2 1-2.2 1-2.5 1-2.2 1-1.3 1 .1 1 1 1 .9 1-.3" stroke="#1040ff"/>
<path d="M372.3,123.4l1 2.3 1-2.7 1-5.7 1-3.2 1 2.2 1 4.5 1 3.4 1 .8 1-1.4 1-3.4 1-5 1-5.3 1-3.4 1-.2 1 3.3 1 4.2 1 1.4 1-2.1 1-2.9 1 .1 1 2.6 1 1.8 1-1.9 1-4.9 1-3 1 3.1 1 7.6 1 6.9 1 3 1-.4 1-1.4 1-.4 1 .3 1-.5 1-1.8 1-2.5 1-2.8 1-2.6 1-1.9 1-1.1 1 .6 1 2.2 1 3 1 2.1 1 .4 1-1.9 1-3.2 1-2.7 1-1.3 1 .1 1 1 1 1.1 1 .5 1-1.1 1-3 1-4.8 1-6.9 1-9.5 1-12.3 1-13.4 1-12.1 1-9.4 1-4.5 1 2.3 1 7.1 1 5.9 1 1.4 1-2.4 1-2.3 1 1.1 1 3 1 3.1 1-2.4 1-5.2 1-1.6 1 5.1 1 9.8 1 10.4 1 8.4 1 5.6 1 2.6 1-.1 1-2.5 1-4.1 1-4.7 1-2.5 1 2.3 1 7.1 1 9.7 1 8.7 1 6.2 1 4.1 1 2.8 1 3.7 1 5.1 1 5.7 1 4.8 1 2.6 1 .1 1-1.5 1-2.6 1-3 1-2.4 1-1.9 1-2.2 1-3 1-3.7 1-3 1-1.2 1 .7 1 1.6 1 1.9 1 2.5 1 3.2 1 2.9 1 1.3 1 0 1-.4 1 .6 1 1.3 1 .5 1-1.4 1-3.5 1-4.8 1-5.1 1-3.6 1-.3 1 3.3 1 5.4 1 5.1 1 3.9 1 3.2 1 4.7 1 5.8 1 5.2 1 2.8 1-2 1-6.7 1-8.4 1-7.2 1-3.3 1 1.3 1 1.8 1 .5 1-1.1 1-2.8 1-3.5 1-2.9 1-.8 1 2 1 4.2 1 5.2 1 4.7 1 3.3 1 1.5 1-.2 1-1.6 1-1.9 1-1.5 1-.9 1-.4 1-1.1 1-2.1 1-2.7 1-2.4 1-1.6" stroke="#1040ff"/>
<path d="M372.3,76.8l1-2.1 1 6.2 1 10.6 1 9.2 1 5.7 1 3.8 1 3.2 1 1 1-3.1 1-6.1 1-5.8 1-.7 1 7.2 1 12.6 1 10.7 1 4.3 1-2.6 1-6.8 1-7.1 1-5.6 1-3.4 1-.3 1 2.8 1 3.1 1 1 1-1.8 1-3.8 1-3.5 1-1.6 1 .9 1 3.6 1 6.4 1 6.9 1 3.8 1-1.5 1-5.6 1-5.9 1-2.9 1-.4 1-.5 1-1.4 1-2.2 1-3.2 1-4.3 1-3.8 1-1.4 1 1.7 1 2 1-1.3 1-4.5 1-2.2 1 5.4 1 10.5 1 9.1 1 3.1 1-4.3 1-12.2 1-18.4 1-18.6 1-8.6 1 4.2 1 8.4 1 4.1 1-2.6 1-8 1-12.7 1-16.9 1-18.4 1-11.1 1 4.4 1 17.9 1 23.3 1 14.8 1 6.4 1 5.3 1 8.2 1 8.5 1 4 1-.7 1-2.1 1-.3 1 .7 1 .1 1 .4 1 3.4 1 6.8 1 6.6 1 3.8 1 2.5 1 3.4 1 4.4 1 3.8 1 2.5 1 2.7 1 4.1 1 5.1 1 5 1 3.4 1 .8 1-2 1-4.5 1-5.7 1-5.3 1-4.3 1-3.7 1-4.2 1-5.5 1-5.3 1-2.6 1 1.9 1 5.1 1 5.9 1 5.1 1 4.2 1 3.4 1 2.1 1 .7 1-1.2 1-3 1-3.7 1-2.9 1-.9 1 .2 1-.4 1-1.9 1-2.1 1-.6 1 2 1 4.1 1 4.5 1 3.5 1 1.7 1 2 1 3.5 1 4.7 1 3.5 1-1.3 1-6.7 1-9.8 1-9.1 1-4.7 1 .4 1 .3 1-1 1-1.2 1-.6 1-.4 1-.2 1 .7 1 2.4 1 3.3 1 2.9 1 2.3 1 2 1 2.1 1 1.5 1 .2 1-1.3 1-3 1-4.7 1-5.5 1-5.8 1-4.7 1-1.6 1 1.5 1 2.9" stroke="#40e8e0"/>
<path d="M372.3,98.3l1-3.4 1-1.5 1 1.2 1 3 1 2.5 1 1.3 1 .4 1 1.1 1 2.6 1 3.9 1 2.4 1-.6 1-2.2 1 0 1 4.5 1 6.7 1 4.1 1-.4 1-3.5 1-3.1 1-.1 1 2.1 1 1.2 1-1.1 1-2.4 1-2 1-1.7 1-2.5 1-3.8 1-3.4 1 .2 1 5.1 1 7.4 1 5.9 1 2.4 1-.2 1-1.2 1-1.2 1-1.6 1-2.9 1-3.5 1-1.8 1 1.7 1 4.9 1 5.2 1 2.2 1-1.8 1-4.4 1-5.2 1-4.8 1-2.6 1 .2 1 1.5 1 0 1-1.9 1-1.3 1 1.5 1 3.5 1 1 1-4 1-8.6 1-11.4 1-12.3 1-12.4 1-11.6 1-8.3 1-.6 1 6.8 1 9.6 1 7.1 1 3.6 1 5.7 1 8 1 9.8 1 9 1 5.3 1 1.5 1-1.4 1-2.5 1-2.5 1-1.7 1-1 1-.6 1-.8 1-1.1 1 .3 1 4 1 8.5 1 10.2 1 8 1 3.6 1 .2 1-1.1 1 .3 1 1.9 1 1.8 1-.2 1-2.8 1-4.2 1-3.2 1-.7 1 1.6 1 2.2 1 .3 1-2.4 1-4.4 1-5 1-4.2 1-1.9 1 1.9 1 5.3 1 5.8 1 4.1 1 1.9 1 .1 1-1 1-1.7 1-3.3 1-5.8 1-7.2 1-6.7 1-3.4 1 .8 1 4.4 1 6.7 1 7.3 1 5.6 1 2.5 1-.7 1-2.5 1-1.4 1 1.9 1 6.5 1 7.8 1 5.6 1 1.9 1-3.2 1-7.3 1-8.8 1-8.5 1-6.2 1-1.6 1 .2 1 1.2 1 1.8 1 1.2 1-.1 1-.7 1-.1 1 1.5 1 2.3 1 2.4 1 2.3 1 2.5 1 2.6 1 1.5 1-.3 1-1.8 1-3.5 1-5.5 1-6.8 1-6.8 1-4.5 1-.7 1 2.1 1 2.7" stroke="#00b8ff"/>
<path d="M372.3,117.3l1 2 1 1.8 1 1.5 1 .3 1-2 1-4.2 1-6.1 1-8 1-9.1 1-7 1-.8 1 6 1 8.4 1 5.1 1-.1 1-3.5 1-4.4 1-3.9 1-3.9 1-5.2 1-6.3 1-4.9 1-2 1-.8 1-1.3 1-1.5 1-.7 1 1.1 1 2.4 1 3.5 1 4.7 1 5.9 1 7 1 7.3 1 5.9 1 2.2 1-2.6 1-6.2 1-5.7 1-2.6 1-.1 1 .2 1-1.1 1-.6 1 1.9 1 3.3 1 1.5 1-1.2 1-1.6 1 1.1 1 3.8 1 4.3 1 3.4 1 1.8 1-.8 1-3.4 1-5 1-3.9 1-1.7 1 .4 1-.3 1-3.9 1-7.2 1-7.1 1-4 1-.8 1 1.8 1 3.3 1 3.6 1 3.1 1 2 1 3.5 1 3.2 1 3.3 1 2.2 1-1.3 1-5 1-5 1-2 1-.4 1-1.9 1-3.3 1-.6 1 5.6 1 10.3 1 10.4 1 7.8 1 5.3 1 4.2 1 2.3 1-.3 1-2.8 1-3.4 1-.4 1 3.8 1 5.6 1 4.6 1 1.7 1-.8 1-1.6 1-1.6 1-1.3 1-.7 1-.7 1-.7 1-1.2 1-1.9 1-2.9 1-3.2 1-2.6 1-.8 1 1.4 1 3 1 3.5 1 3.1 1 1.6 1 .2 1-1.8 1-3.2 1-3.3 1-1.2 1 1.9 1 3.1 1 1 1-2.3 1-3.8 1-2.3 1 .7 1 2 1 2.4 1 2.9 1 3.8 1 6.4 1 7 1 5.5 1 2.5 1-3.4 1-9.5 1-13.1 1-11.8 1-4.5 1 5.2 1 7.8 1 5.9 1 2.4 1-1.5 1-3.7 1-3.4 1-1.7 1 .1 1 1.8 1 3.4 1 4.5 1 4.5 1 2.8 1 .3 1-2.1 1-2.9 1-2.4 1-1.7 1-1.4 1-1.8 1-1.5 1-.5 1 .2 1-.1" stroke="#3050ff"/>
<path d="M372.3,114.3l1 3.1 1 3 1 1.9 1-.1 1-2.7 1-4.6 1-5.1 1-4 1-2.3 1-.9 1-1.4 1-1.8 1 .4 1 3.6 1 4.1 1 1.3 1-3.4 1-6.8 1-6.5 1-2.7 1 .2 1 .7 1-1.1 1-3 1-4.1 1-5.1 1-6 1-4.3 1-.2 1 4.2 1 7.4 1 8.8 1 7.8 1 5 1 1.8 1-.3 1-.9 1-.5 1-.6 1-2.2 1-3.6 1-3.6 1-3.7 1-4.5 1-4.5 1-2.3 1 1.5 1 5.4 1 5.8 1 2.5 1-2.6 1-6.1 1-6.6 1-4.9 1-2.3 1 0 1 1.4 1 1.2 1-1.2 1-3.5 1-4.2 1-2 1 2.5 1 5.3 1 4.5 1 2 1 1.1 1 1.5 1 2.7 1 3.9 1 4.4 1 5.7 1 2.9 1 .6 1 .6 1 1.9 1 2.6 1 1.2 1-1.1 1-2.1 1-1 1 1 1 2.1 1 1.9 1 1 1-.2 1-.9 1-1.2 1 .2 1 2.4 1 4.8 1 5.9 1 4.8 1 3.3 1 2.2 1 1.8 1 1.7 1 1.1 1-.6 1-2.2 1-3.2 1-2.9 1-.9 1 .4 1 .6 1-.3 1-1.8 1-3 1-3.1 1-2.2 1-.9 1 .1 1 1 1 1.3 1 1.2 1 .7 1 1.3 1 2.1 1 1.3 1-.2 1-.9 1 .2 1 1.1 1 1.4 1 .7 1-.2 1-1.4 1-2.3 1-1.8 1 .8 1 4.4 1 6.7 1 8.5 1 8.3 1 6.1 1 2.8 1-2.2 1-7.3 1-10.3 1-10.1 1-6.4 1-.6 1 1.5 1 1.8 1 1.8 1 1.3 1 .4 1-1.4 1-2.6 1-2.1 1 0 1 2.4 1 3.6 1 3.7 1 2.8 1 1.4 1-.4 1-1.6 1-2.5 1-3.3 1-3.9 1-4.1 1-3.9 1-3.2 1-2.1 1-.3" stroke="#2060f0"/>
<path d="M372.3,93l1-2.5 1 2.6 1 6.1 1 6.3 1 4.5 1 2.7 1 .8 1-1.4 1-3.6 1-5 1-4.5 1-1.1 1 3.8 1 6.7 1 4.8 1 .8 1-2.8 1-3.1 1-.2 1 2.6 1 2.8 1 1.3 1-.7 1-2.4 1-4 1-4.9 1-4.6 1-3.1 1-1.4 1 .2 1 2.7 1 5.5 1 5.9 1 3.6 1 0 1-3.9 1-7.4 1-10 1-9.8 1-6.8 1-1.6 1 2.8 1 3.4 1 1 1-1.2 1-1.9 1-.9 1 1.8 1 4.6 1 6.7 1 6.6 1 4.8 1 2.5 1 .2 1-.7 1-.1 1 .5 1-1.3 1-6.2 1-10.8 1-11.4 1-8.1 1-3.2 1-.2 1-1.4 1-6.5 1-11.1 1-10.5 1-2.2 1 8 1 11.8 1 11.6 1 4.9 1-.5 1-2.6 1-2.2 1-.5 1 .8 1 1.1 1 0 1-.9 1-.2 1 1.6 1 3.8 1 5.5 1 6.8 1 7.5 1 7.4 1 7.7 1 7.7 1 7.3 1 6 1 4.2 1 3.7 1 3.7 1 3.5 1 2.5 1 .8 1-1.3 1-2.7 1-3.3 1-3.2 1-2.6 1-2.5 1-2.9 1-3 1-2.5 1-2 1-1.5 1 0 1 2 1 4.1 1 5.4 1 5.1 1 3.3 1 .7 1-1.4 1-2.6 1-2.5 1-1.2 1 .4 1 1.4 1 1 1-.7 1-2.9 1-3.8 1-3 1-1.1 1 .9 1 2.6 1 3.9 1 3.9 1 4.5 1 4.1 1 3.1 1 1.4 1-2.8 1-7.8 1-11 1-11 1-7 1 .1 1 2.6 1 2.8 1 2 1 .5 1-.7 1-.4 1 1.5 1 3.8 1 4.9 1 4.9 1 4.1 1 2.6 1 .8 1-1.3 1-3 1-3.8 1-3.2 1-1.8 1-.1 1-.2 1-1.1 1-1.8 1-1.9 1-1.3" stroke="#0000d0"/>
<path d="M372.3,106.4l1-4 1-1.4 1 2.2 1 4.1 1 2.5 1-.7 1-3.4 1-4.2 1-2.8 1 .7 1 4.3 1 5.2 1 3.2 1 .6 1-.7 1-1 1-2.1 1-3.8 1-4.4 1-2.9 1-1 1 .1 1-.6 1-2.5 1-5.1 1-7.7 1-8.3 1-3.7 1 4.1 1 8.4 1 7 1 3.1 1-.1 1-1.4 1-1.7 1-1.6 1-1.4 1-.7 1-.4 1-1.8 1-3 1-2.8 1-1.6 1 .1 1 1.8 1 2.4 1 1.3 1-.5 1-1.6 1-.8 1 .3 1 .1 1-1.2 1-2.3 1-2.7 1-2.5 1-2.6 1-3.8 1-6 1-5.9 1-4 1-3.2 1-3.4 1-2.4 1 .3 1 .9 1-1.1 1-3.5 1-2.5 1 2.4 1 7.8 1 13.5 1 12.5 1 9.3 1 5.6 1 1.5 1-1.3 1-2.2 1-1.8 1-.8 1-.3 1-.4 1-.7 1-.1 1 1.1 1 2.2 1 3.3 1 4.8 1 7.2 1 8.5 1 7.9 1 5.9 1 3.2 1 2 1 2.2 1 3 1 3.1 1 1.7 1-.2 1-1.7 1-2.7 1-3.6 1-4 1-4.3 1-3 1-.6 1 1.1 1 1.5 1 1.1 1 1.2 1 2.4 1 3.5 1 3.6 1 2.3 1 0 1-1.8 1-1.7 1-.7 1 .3 1 .3 1-.1 1 .1 1 .1 1 0 1-.8 1-1.6 1-1.4 1-.1 1 2 1 3.2 1 3.2 1 2.3 1 3 1 3.8 1 3.6 1 1.5 1-3.3 1-8.5 1-11.1 1-11 1-7.7 1-1.9 1 .4 1 1.2 1 .6 1-1.6 1-3.7 1-4.1 1-2.5 1 .6 1 3.5 1 5.7 1 6.3 1 5.1 1 2.1 1-1.1 1-2.9 1-2.9 1-2.2 1-1 1 .3 1 .4 1 .1 1 .2 1 .6 1 .6" stroke="#0000d0"/>
<path d="M372.3,120.7l1 3.1 1 4 1 3.8 1 2.4 1 .7 1-.4 1-.1 1 .7 1 .3 1-1.2 1-3 1-3.8 1-3.8 1-4 1-4.4 1-4.4 1-4.7 1-4.7 1-3 1 .6 1 3.3 1 3.6 1 1.4 1-.9 1-1.7 1-1.9 1-2.2 1-1.7 1 .3 1 1.5 1 .8 1-1.3 1-3 1-3.3 1-2.2 1-2.2 1-5.5 1-10.1 1-10.9 1-6.4 1 .2 1 3 1 2 1 1.1 1 3.1 1 4.4 1 3.3 1 1.2 1 1.1 1 3.1 1 4 1 2 1-1.7 1-4.8 1-5.8 1-4.5 1-1.9 1-.7 1-2 1-3.4 1-2.4 1-.4 1 .9 1 .6 1 .4 1 1.1 1 3.5 1 5.6 1 6 1 4.3 1 1.5 1 2.4 1 2.3 1 2.4 1 2.8 1 2 1 0 1-2.1 1-2.5 1-1 1 1.2 1 2.3 1 2.4 1 1.7 1-.3 1-3.1 1-5.5 1-5.1 1 .2 1 6.2 1 8.7 1 7.2 1 4.6 1 4 1 4.2 1 3.7 1 2.4 1 .6 1-.8 1-1.4 1-2.4 1-3.6 1-3.7 1-3 1-2 1-1.5 1-2.1 1-2.8 1-1.9 1 1.4 1 5.4 1 7.4 1 7.1 1 5 1 2.7 1 .4 1-.1 1 .3 1 .6 1 .2 1-.3 1-.4 1-.4 1-.7 1-.8 1-.5 1 .3 1 .9 1 .7 1 .6 1 1.4 1 2.9 1 5.7 1 6.8 1 5.4 1 2.2 1-2.7 1-7.2 1-8.8 1-7.7 1-4.5 1 .1 1 1.2 1 .6 1-1.4 1-4.4 1-6.3 1-5.2 1-1.3 1 3.3 1 5.6 1 5.3 1 3.7 1 1.9 1 .6 1-.4 1-1.5 1-2.1 1-2.1 1-1.6 1-.3 1 0 1-.9 1-1.9 1-2 1-1.1" stroke="#0000d0"/>
<path d="M372.3,95.7l1-2.6 1-.7 1-1 1-3.6 1-6.1 1-4.3 1 1.8 1 6.6 1 6.2 1 3.1 1 .7 1 1.3 1 3.7 1 5.3 1 4.4 1 2 1-1.9 1-5.7 1-7.6 1-6.5 1-3.5 1-.4 1 1.6 1 1.5 1-.7 1-4 1-5 1-.3 1 7 1 8.9 1 4.5 1-1.3 1-3.7 1-.7 1 4.7 1 8.6 1 8.6 1 5.4 1 .6 1-4.5 1-7.3 1-7.1 1-5.2 1-2.6 1 .4 1 2.8 1 4.3 1 4.7 1 3 1-.4 1-3.4 1-4.9 1-4.6 1-2.7 1 1.4 1 6.1 1 7 1 3.2 1-3.5 1-8.6 1-9.1 1-4.4 1 .7 1 1.4 1-1.6 1-4.1 1-3.6 1-2.2 1-1.8 1-3 1-4.6 1-3 1-2.9 1 .4 1 7.8 1 13.2 1 11.5 1 4.8 1-2.3 1-5.7 1-3.9 1 .4 1 3.5 1 3.5 1 1.4 1-1.2 1-3.1 1-3.3 1-.8 1 3.1 1 7.5 1 10.3 1 9.2 1 6.5 1 4.2 1 3.4 1 3.6 1 2.4 1-.3 1-3.4 1-6 1-6.8 1-5.9 1-5.4 1-5.7 1-5.6 1-3.9 1-.9 1 1.6 1 3 1 3.9 1 5 1 5.3 1 4.3 1 1.7 1-1.7 1-3.9 1-3.8 1-.6 1 3.8 1 5.8 1 4.9 1 3 1 1.1 1-.3 1-1.4 1-1.9 1-1.6 1-.9 1 0 1 1.4 1 2.8 1 5.5 1 6.3 1 5.3 1 2.8 1-2 1-6.8 1-8.6 1-7 1-3 1 1.2 1 .8 1-1.4 1-4 1-6.9 1-8 1-6.1 1-1.6 1 2.4 1 4.3 1 4.7 1 4.2 1 2.9 1 1.2 1-.2 1-.2 1 1.2 1 1.7 1 .5 1-1.8 1-4.3 1-4.9 1-3.7 1-2 1-.9" stroke="#00e0e0"/>
<path d="M372.3,107.6l1-3.4 1-6.4 1-10.2 1-11.6 1-6.8 1 3.3 1 11.6 1 12.8 1 9.7 1 7.1 1 5.4 1 3.2 1 .3 1-3.3 1-6.8 1-9 1-9.3 1-5.3 1 1.8 1 6.6 1 6 1 2.7 1-1 1-4.2 1-6.2 1-5.3 1-.9 1 4.1 1 5.4 1 2.4 1-1.5 1-2.4 1 .7 1 4.7 1 5.9 1 4.9 1 3.7 1 2.4 1 .4 1-3.2 1-6.6 1-8.3 1-7.5 1-3.1 1 3.9 1 9.5 1 11 1 9 1 4.8 1 .1 1-3.4 1-3.7 1-1.5 1 .9 1 1.1 1-.4 1-2.3 1-4 1-5.2 1-4.8 1-3.5 1-2.9 1-3.5 1-3.9 1-3.1 1-2.2 1-1.5 1 .6 1 4.1 1 5.1 1 1.6 1-1 1-2.6 1 .5 1 5.5 1 7.7 1 7.2 1 4.9 1 1.1 1-3.4 1-5.8 1-3.3 1 2.3 1 5.2 1 3.6 1 .7 1-.6 1-.2 1 1.5 1 1.6 1 .1 1-1.4 1-1.8 1 .3 1 3.1 1 4.4 1 4.2 1 2.8 1 .9 1-.4 1-2.1 1-3.7 1-4.4 1-4.1 1-2.9 1-1.7 1-2 1-3.1 1-3.4 1-1.6 1 .9 1 2.2 1 2.2 1 1.8 1 1.5 1 .7 1 .2 1-.1 1 .2 1 1.1 1 2.1 1 2.8 1 2.2 1 0 1-2.9 1-4.5 1-3.7 1-.9 1 1.6 1 3.1 1 3.9 1 4.8 1 7.4 1 8.2 1 6.1 1 2.1 1-3.2 1-7.4 1-8.4 1-7.8 1-5.8 1-2.2 1-.6 1 .3 1 1.3 1 1.2 1 .6 1 .3 1 .5 1 1.2 1 1.3 1 1.1 1 1.8 1 3.5 1 4.7 1 4 1 1.9 1-.3 1-2.1 1-3.3 1-3.5 1-3.9 1-4.3 1-3.7 1-2.1 1-.3" stroke="#40e8e0"/>
<path d="M372.3,122.3l1-1.7 1-3.3 1-3.7 1-1.9 1 1.2 1 3.5 1 4.5 1 4.8 1 4.4 1 3 1 1.1 1-.5 1-.9 1-1.2 1-1.4 1-1.7 1-2.1 1-2.5 1-2.5 1-1.3 1-.4 1-.2 1-1.6 1-2.7 1-2.8 1-2.5 1-2.2 1-1.4 1 .3 1 2.1 1 2.9 1 2.2 1 1.3 1 1.2 1 1.1 1-.3 1-2.6 1-4 1-2.6 1-.1 1 1.9 1 2.9 1 2.4 1 1.1 1 .3 1 .3 1 1.2 1 1.8 1 .6 1-2.1 1-5.6 1-7.5 1-6.5 1-2.5 1 1.8 1 4 1 3.3 1 .2 1-4 1-6.3 1-5.7 1-3.7 1-2.2 1-2.6 1-4.8 1-7.5 1-8.3 1-7 1-4.6 1-1.8 1 1.7 1 8.5 1 9.2 1 5.5 1 0 1-4.5 1-4.7 1-.1 1 5.2 1 7.3 1 6.3 1 3.9 1 1.3 1-.8 1-1.9 1-.8 1 2 1 4.8 1 7.5 1 8.5 1 7.5 1 5.5 1 4 1 4.4 1 4.7 1 3.2 1 .9 1-1.7 1-3.6 1-4 1-3.5 1-3.2 1-3.6 1-5.2 1-6.2 1-5.2 1-2.3 1 1.6 1 4.4 1 5 1 3.7 1 1.9 1 1 1 .3 1-.5 1-1.8 1-1.6 1-.5 1 .7 1 1.5 1 2.1 1 3.1 1 3.3 1 2.5 1 .9 1-.5 1-1.2 1-.7 1 .3 1 1.1 1 1.7 1 2.1 1 4 1 5.3 1 5 1 2.9 1-2 1-7.3 1-10.7 1-11.2 1-7.7 1-1 1 2.2 1 3 1 2.5 1 .6 1-1.2 1-1.8 1-.8 1 .7 1 1.8 1 2.7 1 3.3 1 3.2 1 2.1 1 0 1-1.8 1-2.9 1-3.1 1-2.8 1-1.7 1-1.1 1-1.1 1-1 1-.8 1-.5" stroke="#0020ff"/>
<path d="M372.3,115.5l1-3.7 1-4.1 1-1.7 1 2.5 1 5.5 1 5.6 1 4.2 1 2.8 1 1.7 1 1.5 1 .8 1-.8 1-3.1 1-4.9 1-5.3 1-4.3 1-3.5 1-3 1-3.3 1-4.1 1-4.7 1-2.6 1 1.4 1 4.7 1 5.4 1 3.7 1 .9 1-1.4 1-2.1 1-1.1 1 1 1 1.3 1-.4 1-3.1 1-5.6 1-7.2 1-8.1 1-7.7 1-5.2 1-1.6 1 2.8 1 6.1 1 6.9 1 6.5 1 6.6 1 5.8 1 3 1-1.2 1-4.6 1-4.1 1-.5 1 3.1 1 4.3 1 3 1-.1 1-3.3 1-4.9 1-4.3 1-3.1 1-1.8 1-1.7 1-3.4 1-5.1 1-5.3 1-5.4 1-6.2 1-6 1-3.2 1 1.1 1 4.2 1 4.1 1 6.1 1 5.1 1 4.4 1 3.9 1 3.2 1 4 1 5.3 1 4.3 1 .8 1-3.2 1-5.6 1-5.4 1-3.3 1-.5 1 1.8 1 2.5 1 2.7 1 3.4 1 3.3 1 2.7 1 3.6 1 5.3 1 7.4 1 6.8 1 4.2 1 1.3 1-1.1 1-2.6 1-3 1-2.8 1-1.7 1 0 1 .3 1-.8 1-2.7 1-4.9 1-6 1-5.1 1-2.3 1 1.2 1 3.8 1 4.9 1 4.6 1 3.4 1 2.1 1 1.7 1 .8 1-1.1 1-3.5 1-4.6 1-2.8 1 .9 1 4 1 4.7 1 3.5 1 2.1 1 1.3 1 1 1 .9 1 1 1 1.4 1 3.5 1 4.9 1 4.8 1 2.9 1-2 1-7.7 1-11 1-11.8 1-8.7 1-2.6 1 .1 1 1.6 1 2.4 1 1.5 1-.6 1-2 1-1.7 1 .6 1 2.9 1 4.5 1 5.4 1 5.7 1 4.7 1 2.4 1 .4 1-.5 1-.7 1-.8 1-1.2 1-2.2 1-2.6 1-1.9 1-.6 1 .3" stroke="#3050ff"/>
<path d="M372.3,116.1l1-5.2 1-3.9 1-.3 1 2.3 1 1.6 1-.4 1-1.3 1 .3 1 4.2 1 7.8 1 7.8 1 4.4 1-.3 1-4.5 1-7.2 1-6.6 1-2.1 1 3.2 1 4.1 1-.3 1-5.7 1-7 1-3.8 1-.3 1-.2 1-2.7 1-6 1-8.2 1-7.8 1-4.3 1 1.3 1 4.4 1 2.7 1-1.7 1-4.6 1-2.4 1 2.8 1 6 1 5.5 1 2 1-1.8 1-4 1-3.8 1 .4 1 6.5 1 9.3 1 6.6 1 1.1 1-3 1-3.3 1-2.3 1-2.8 1-4.9 1-6.4 1-5.9 1-3.7 1-1.5 1-.8 1-2 1-3.6 1-3.6 1-.7 1 4.5 1 7.8 1 7.3 1 4.8 1 2.7 1-.1 1-3.3 1-4.4 1-2.3 1 5 1 8.4 1 8.1 1 4.6 1-.6 1-4.7 1-4.6 1-.7 1 3.7 1 5 1 3.4 1 1.2 1-.4 1-1.2 1-1.7 1-1.6 1-1.1 1 .1 1 .7 1 1.4 1 3.3 1 5.9 1 8.6 1 8.8 1 7.1 1 4.4 1 1.8 1-.2 1-1.2 1-1.4 1-1.6 1-2.2 1-3.8 1-5.2 1-5.3 1-3.7 1-1.4 1-.1 1 .1 1 .4 1 1.6 1 2.9 1 3.1 1 1.8 1-.4 1-1.1 1-1 1-.7 1-.3 1 .2 1 1.2 1 1.1 1-.2 1-2.3 1-4.1 1-4.5 1-3 1-.7 1 1.8 1 4.3 1 5.6 1 6.9 1 5.9 1 3.6 1 .7 1-4 1-9 1-11.3 1-10.9 1-6.3 1 1.6 1 4.7 1 4 1 1.2 1-2.1 1-4.4 1-3.7 1-.1 1 4.8 1 7.4 1 6.9 1 4.8 1 2.9 1 1.7 1 .3 1-1.3 1-3.2 1-4.5 1-3.7 1-.4 1 2.1 1 1.9 1 .1 1-1.5 1-2.1" stroke="#2a50e8"/>
<path d="M372.3,127.3l1 .2 1-1.8 1-2.6 1-.8 1 1.4 1 .9 1-1.9 1-4.4 1-5.1 1-3.2 1-.6 1 1.8 1 2 1-.3 1-4 1-6.5 1-6.2 1-2.6 1 2.4 1 5.4 1 4.1 1 .5 1-2.6 1-3.8 1-4.9 1-8.4 1-13.1 1-14 1-7.1 1 3.6 1 10.4 1 11.7 1 10.4 1 8.3 1 5.7 1 2.7 1-1 1-5.4 1-9.4 1-9.8 1-4 1 3.6 1 5.1 1 1.5 1-1 1-.7 1 .3 1-.8 1-3.3 1-4.4 1-1.9 1 3 1 7.6 1 9.3 1 7.8 1 3.4 1-1.8 1-5.4 1-7.6 1-8.1 1-8 1-8.8 1-8.9 1-7 1-3.7 1-2.2 1 .4 1 5.5 1 11.9 1 13.7 1 9.7 1 6.1 1 1.3 1-1 1-.4 1 .7 1 1.3 1 2.9 1 5.9 1 8.1 1 6.5 1 2.3 1-1.8 1-3.6 1-2.7 1 .1 1 2.1 1 1.7 1 .3 1-.3 1 1.2 1 4 1 4.6 1 4.3 1 3.8 1 3.5 1 2.9 1 1.1 1-1.1 1-3.3 1-5.3 1-7.1 1-7.4 1-6.6 1-4 1-1.5 1 .3 1 2 1 4 1 5.1 1 5 1 4.4 1 3.7 1 2.6 1 .6 1-1.9 1-3.7 1-4.7 1-4.1 1-2 1 .5 1 3.4 1 4.8 1 4.4 1 2.2 1-.2 1-1.4 1-1.1 1-.1 1 .3 1 0 1-.3 1 2.8 1 6.4 1 7.2 1 4.5 1-1.2 1-6.7 1-9.5 1-8.9 1-4.9 1 .8 1 2.1 1 1.6 1 .7 1 0 1-.7 1-1.5 1-2.1 1-1.7 1 0 1 2.6 1 4.7 1 5.4 1 4.6 1 2.9 1 1 1-.8 1-2.7 1-4.3 1-4.3 1-3.4 1-2.1 1-1.2 1-1.1 1-1.2" stroke="#6040ff"/>
<path d="M372.3,92.8l1-4.2 1-1.9 1 .6 1 2.8 1 4.3 1 5.2 1 5 1 3.9 1 2.9 1 2.8 1 2.6 1 1.5 1-.6 1-3 1-4.8 1-4.3 1-1.3 1 4.6 1 9.8 1 10.3 1 5.6 1-1.1 1-7.2 1-10.6 1-9.6 1-6.2 1-3 1 .5 1 4.3 1 6.1 1 5.2 1 2.7 1 .5 1-1.1 1-1.9 1-1.8 1-.7 1 .6 1 .9 1-.7 1-2.2 1-1.7 1 .4 1 2.5 1 3.8 1 3.4 1 1.3 1-1.3 1-4.3 1-6.8 1-7.7 1-5.3 1-.4 1 2.8 1 1.7 1-1.1 1-2 1-1.4 1-1.9 1-3.4 1-4.3 1-4.4 1-3.8 1-3.3 1-3.2 1-3.7 1-2.1 1 1.3 1 4.6 1 4.6 1 .4 1-2.7 1-6 1-3.8 1 2.6 1 6.6 1 6.3 1 3.9 1 1.3 1-.4 1-1.5 1-3 1-5 1-5.5 1-2.9 1 1.3 1 3.1 1 2.4 1 3.2 1 5.5 1 7.6 1 8.3 1 7.5 1 7.5 1 7.3 1 5.9 1 3.8 1 .9 1-1.7 1-2.8 1-3.3 1-3.8 1-4.6 1-5.7 1-6.1 1-4.7 1-2.2 1 .9 1 3.4 1 4.2 1 3.2 1 1.2 1 .4 1 1.1 1 2.6 1 3.1 1 3 1 2 1 .7 1-.2 1-.1 1 1.2 1 2.2 1 2.3 1 1.5 1 .4 1-.5 1-.9 1-.5 1 .5 1 1.1 1 1.6 1 4.1 1 6.2 1 6 1 3 1-2.6 1-8.2 1-10.8 1-10.1 1-6.2 1-.5 1 .6 1 0 1-1 1-2 1-1.9 1-.2 1 2.2 1 3.8 1 4.3 1 4.5 1 4.1 1 3.2 1 1.3 1-.9 1-2.8 1-3.4 1-2.9 1-1.5 1 0 1 .5 1 .5 1 .4 1 0 1-.4" stroke="#3050ff"/>
<path d="M372.3,141.8l1 1.5 1 1 1 1.5 1 1.8 1 .3 1-2.6 1-6 1-6.7 1-2.4 1 4 1 6.2 1 3.4 1-1.3 1-4.6 1-4.7 1-2.9 1-2.7 1-4.6 1-5.2 1-2.7 1 1.3 1 2.9 1 1.3 1-1.9 1-4.6 1-5.7 1-6.1 1-6.3 1-4 1 1.7 1 6.5 1 5.9 1 2.1 1-1.9 1-4.6 1-5.1 1-1.3 1 5.1 1 8.2 1 5.8 1 1.3 1-2.1 1-4.8 1-7.5 1-9.8 1-7.9 1 .1 1 7.6 1 8 1 4 1-.2 1-2.1 1-2 1-1.3 1-1.7 1-4.1 1-8.2 1-12.3 1-15.7 1-14.7 1-7.6 1 2.4 1 8.4 1 7 1 .2 1-8.1 1-13.3 1-13.9 1-9.2 1 1 1 12.9 1 22.7 1 19 1 10.5 1 3.6 1 .8 1 1.3 1 2 1 1.4 1 .4 1 .1 1 .4 1 1.7 1 3.8 1 5.9 1 6.6 1 5.4 1 3.3 1 2.5 1 2.6 1 2.9 1 3.1 1 3.1 1 2.8 1 1.8 1 .4 1-.5 1-1.1 1-1.5 1-1.7 1-2.5 1-3.5 1-4.2 1-5.2 1-5.1 1-3.3 1-.7 1 1.2 1 2.1 1 3.2 1 4.3 1 3.5 1 .7 1-1.6 1-2.4 1-1.9 1 0 1 1.4 1 2 1 1.3 1-.2 1-.7 1-.6 1-.1 1-.5 1-.3 1 1.3 1 3.6 1 4.7 1 4.6 1 3.7 1 2.9 1 4 1 4.1 1 2.3 1-1.4 1-7.3 1-12.3 1-12 1-7.2 1-.7 1 4.7 1 4.2 1 2.2 1 .5 1-1.1 1-2.1 1-1.8 1-.5 1 1.1 1 2.2 1 3.1 1 3.5 1 2.9 1 1.4 1-.2 1-1 1-1.1 1-1.8 1-3 1-4 1-3.7 1-1.7 1 1.1 1 2.7 1 2.6" stroke="#20c8ff"/>
<path d="M372.3,94.7l1 2.8 1 1.2 1-2.1 1-7 1-12.6 1-15.4 1-10.9 1-1.7 1 4.5 1 5.2 1 2.3 1-1.6 1-3 1-.9 1 2 1 1 1-4.2 1-6.2 1-1.4 1 4.2 1 4.7 1 2.8 1 1.7 1 2.3 1 3.2 1 3 1 1.3 1-1 1-3.4 1-6 1-7.6 1-6.4 1-1.7 1 3.5 1 5.1 1 3.9 1 3.9 1 6.2 1 7.6 1 4.4 1 0 1-.7 1 3.3 1 8.7 1 10.7 1 8 1 2.8 1-2.6 1-6.5 1-6.4 1-2.7 1 .9 1 1 1-1.3 1-3.3 1-3.3 1-2.8 1-2.6 1-4.3 1-6.9 1-9.8 1-13.4 1-15.9 1-14.4 1-5.9 1 4.5 1 7.7 1-.2 1-12.4 1-19.5 1-13.8 1 5.5 1 16.2 1 17.9 1 14.5 1 9.5 1 7.1 1 8.9 1 11.2 1 9.5 1 3.3 1-3.9 1-7.5 1-4.5 1 2.5 1 7.9 1 8.1 1 4.3 1 .6 1-.9 1 .5 1 2.3 1 1.8 1 2.3 1 5 1 8.4 1 9.2 1 6 1 1.6 1-.9 1-1.4 1-1.4 1-2.4 1-4.1 1-4 1-1.2 1 1.3 1 1.5 1 .5 1 .9 1 2.7 1 4 1 3.8 1 1.9 1-.5 1-2.5 1-3 1-2.8 1-2.3 1-1.6 1-1.3 1-.6 1-.6 1-1.1 1-1.9 1-1.5 1 .2 1 2.6 1 4.9 1 6.1 1 5.4 1 3.1 1 2.3 1 1.8 1 1.6 1 1.2 1-1.3 1-4.6 1-6.8 1-8.6 1-7.9 1-2.9 1 .1 1 1.1 1 .7 1-.5 1-.7 1 .9 1 3.5 1 5.8 1 5.5 1 3.7 1 1.5 1 .6 1 .3 1-.6 1-2.4 1-3.7 1-3.6 1-1.9 1 1 1 2.5 1 2.3 1 1 1-.7 1-1.8" stroke="#20f060"/>
<path d="M372.3,115.1l1-1.3 1-2.3 1-4.3 1-5.5 1-3.4 1 2.6 1 6.9 1 5.9 1 1.7 1-1.4 1-1.5 1 .6 1 3 1 4.2 1 3.4 1 .3 1-4.8 1-9.6 1-11.6 1-10.2 1-7.4 1-2.9 1 2.9 1 6.5 1 4.7 1-1.5 1-7.8 1-10.3 1-7.2 1-.9 1 5.4 1 9.1 1 9.7 1 6.8 1 .3 1-7.1 1-10.4 1-6.2 1 1.3 1 5.6 1 6.9 1 5.5 1 .1 1-6.9 1-9.8 1-6.2 1-.5 1 1.9 1 2.3 1 3.4 1 4 1 .7 1-7 1-16 1-20.4 1-12.6 1 5.9 1 21.4 1 23.2 1 14.9 1 4.1 1-4.4 1-7.9 1-8 1-8.5 1-11.1 1-11.4 1-6.2 1 3.6 1 11 1 11.4 1 9.9 1 3.8 1-.1 1 1.1 1 5.1 1 7.5 1 5.9 1 3.1 1 2.4 1 4.1 1 5.7 1 4.4 1 1.2 1-1.2 1-1.7 1-1 1-1.1 1-.7 1-.2 1 .3 1 .4 1-.3 1 .8 1 2.5 1 3.1 1 2.1 1-.4 1-2.1 1-1.6 1 0 1 1.5 1 2 1-.1 1-3.8 1-7.7 1-8.2 1-3.2 1 3.7 1 6.8 1 5.3 1 2.6 1 1.3 1 1.5 1 2.1 1 1.5 1 .9 1 .4 1-.3 1-1.5 1-2.9 1-2.4 1-.2 1 2.3 1 2.7 1 1.7 1 .6 1 1 1 2.8 1 4.8 1 4.8 1 2.8 1 1.7 1 1.4 1 2 1 1.6 1-1.7 1-6.5 1-10 1-11.8 1-9 1-2 1 1.4 1 1.3 1-.3 1-2 1-.9 1 1.9 1 4.1 1 4.5 1 3.9 1 3 1 1.8 1 0 1-2 1-2.6 1-1.2 1 1.1 1 1.9 1 .9 1-.9 1-3.6 1-5.2 1-4.1 1-1.3 1 .8" stroke="#10d8f0"/>
<path d="M372.3,121l1-.9 1-3.4 1-7.2 1-11.5 1-13.6 1-9.5 1-.3 1 6.7 1 8 1 5.8 1 2.2 1-2 1-6.7 1-11.6 1-14.8 1-14 1-9.7 1-2.7 1 4.9 1 10.4 1 10.9 1 7.7 1 4.9 1 5.1 1 7.1 1 7.4 1 4.7 1 .4 1-3.8 1-6.7 1-6.9 1-4.9 1-1.5 1 2.2 1 4.7 1 4.8 1 2.6 1-1 1-3.8 1-4.6 1-3.8 1-4.1 1-5.8 1-6 1-2.6 1 1.7 1 5 1 6.6 1 6.6 1 6.3 1 6 1 5.6 1 4.7 1 2.5 1-.6 1-3.1 1-3.6 1-2.3 1-2.4 1-4 1-5.4 1-6.1 1-5.2 1-4.3 1-5.4 1-10.3 1-16.8 1-19.5 1-10.9 1 6.4 1 19.5 1 24.8 1 19.3 1 12.4 1 6.7 1 2.8 1 2.6 1 4.5 1 4.5 1 .5 1-5.7 1-9.2 1-6.4 1 1.5 1 7.8 1 8.5 1 5.5 1 1.5 1-1.2 1-2.9 1-2.5 1 .1 1 3.1 1 6.2 1 7.2 1 6.3 1 3.7 1 .5 1-2.1 1-3.2 1-3 1-2 1-.8 1-.7 1-1.1 1-1.4 1-1.4 1-1 1-.7 1-.6 1-.4 1-.6 1-.8 1-1.5 1-1.5 1-.1 1 2.7 1 3.9 1 2.4 1 .5 1 0 1 2 1 3.7 1 2.9 1-.4 1-4.3 1-6.6 1-5.6 1-2.4 1 .8 1 2.9 1 4.2 1 7.2 1 8.8 1 7.5 1 3.9 1-2.1 1-7.6 1-9.9 1-9.8 1-6.9 1-1.4 1 .9 1 1.4 1 .9 1-.4 1-1.4 1-1.1 1 .5 1 2.6 1 4.4 1 5.7 1 5.5 1 4.3 1 2.8 1 .7 1-1.9 1-4.1 1-4.9 1-3.3 1 0 1 1.8 1 1.4 1-.4 1-1.9 1-1.9" stroke="#40e8e0"/>
<path d="M372.3,142.5l1-5.2 1-9.9 1-9.4 1-3 1 3.4 1 5.5 1 4.5 1 2.8 1 1.1 1-1.9 1-5.6 1-7.3 1-3.9 1 .9 1 .9 1-2.9 1-4.6 1 1.2 1 9.4 1 10.8 1 5.1 1-2.9 1-11.4 1-18.3 1-19.7 1-12.5 1-1 1 6.7 1 8.2 1 6.4 1 4.3 1 2.5 1 .9 1 .1 1-1 1-4.2 1-8.6 1-12.2 1-13.4 1-11.6 1-4.5 1 4 1 4.4 1-1.4 1-3.2 1 2.9 1 9.5 1 8.9 1 1.1 1-9.3 1-16.9 1-14.3 1 .7 1 16.6 1 20.3 1 13.6 1 4.8 1-.9 1-2.5 1-.9 1 .4 1-1.2 1-5.1 1-9.1 1-11.5 1-11 1-7.4 1-1.5 1 7.1 1 15.6 1 18 1 15.5 1 5.5 1-3.7 1-6.4 1-1.2 1 5.3 1 6.1 1 3.4 1 2.6 1 4.3 1 4.7 1 1.8 1-2.6 1-5.8 1-6.1 1-3.1 1 1.4 1 6 1 7.6 1 5.8 1 2.3 1 .1 1 1.4 1 3.1 1 3 1 1.3 1-.7 1-2.2 1-3.5 1-5.2 1-5.6 1-3.4 1-.3 1 1.9 1 1.4 1-2.2 1-6.5 1-8.9 1-6.4 1-.6 1 4.1 1 5.9 1 5.2 1 4.1 1 3.2 1 3.3 1 2 1-.3 1-2.2 1-2.3 1 0 1 1.8 1 1.5 1-1.2 1-4 1-4.2 1-1 1 3.9 1 7.7 1 8.8 1 7.3 1 6.6 1 5.7 1 4.9 1 3.3 1-.3 1-4.7 1-8 1-10.3 1-9 1-2.7 1 1.5 1 2.5 1 .9 1-1.3 1-2.2 1-1.2 1 .5 1 1.8 1 1.8 1 1.6 1 1.5 1 2.5 1 4.4 1 4.7 1 2.2 1-1.6 1-4.8 1-6.5 1-6.1 1-4.4 1-1.5 1 1 1 1.5 1 .5" stroke="#ff7040"/>
<path d="M372.3,126.1l1 2.5 1 .7 1-.6 1-1 1-1.3 1-2.7 1-4.8 1-5.6 1-4.1 1-1.4 1-.3 1-.6 1 .1 1 2.1 1 4 1 4.3 1 2.5 1 1 1 1.6 1 2.5 1 .5 1-3.3 1-5.9 1-5.2 1-3 1-2 1-1.6 1-.3 1 .7 1 1.2 1 3.1 1 4.8 1 4.5 1 2.6 1 1.6 1 2.1 1 1.4 1-1.9 1-6.9 1-12.5 1-16.5 1-17.4 1-13.4 1-4.6 1 5.7 1 12.4 1 14.9 1 13.9 1 10 1 5.1 1 .1 1-3.6 1-5.2 1-5.6 1-5.9 1-4.8 1-1.3 1 2.2 1 2 1-.1 1-2.5 1-5 1-8.3 1-11 1-9.6 1-3.1 1 6 1 11.9 1 12.6 1 9.4 1 4.6 1 2.4 1-.3 1-1.2 1-.8 1-.9 1-1.7 1-1.4 1 1.9 1 6.6 1 8.4 1 4.4 1-3 1-9.2 1-9.6 1-4 1 2.5 1 4.6 1 3.8 1 2.6 1 3.3 1 5.2 1 6.2 1 6.2 1 4.9 1 3.3 1 2 1 .5 1-1 1-2.2 1-3.5 1-5 1-6.6 1-7.7 1-6 1-2.3 1 1.5 1 2.9 1 1.4 1-.9 1-2.2 1-1.4 1 1.3 1 3.4 1 3.5 1 1.3 1-.8 1-1.8 1-1.2 1-.1 1 .5 1 1.6 1 2.9 1 3.4 1 3.4 1 3.5 1 3.3 1 1.9 1-.9 1-3.9 1-5.5 1-3.7 1 3.6 1 9.7 1 10.1 1 5.7 1-1.6 1-8.1 1-10.9 1-9.9 1-5.7 1-.7 1-.3 1-1 1-.9 1-.5 1-.6 1-.8 1-.4 1 1.1 1 2.9 1 4.8 1 5.9 1 5.3 1 3.3 1 .3 1-2.5 1-3.8 1-3.1 1-1 1 1.3 1 1.5 1 .5 1-.9 1-1.9 1-2" stroke="#10d8f0"/>
<path d="M372.3,98.9l1-1.6 1 3.7 1 7.9 1 7 1 1.5 1-4.9 1-7.4 1-3.8 1 2.9 1 7 1 6.6 1 3 1-1.6 1-5.6 1-6.7 1-4.6 1-1.5 1 .6 1 .8 1 .3 1 .1 1 1 1 2.7 1 3.5 1 3.1 1 2.7 1 2.6 1 2.2 1 .2 1-2.7 1-5.3 1-6.6 1-7.1 1-6.1 1-2.6 1 2.1 1 5.2 1 5.3 1 4.4 1 4.2 1 5.4 1 5.7 1 3.7 1 1.2 1-.5 1-1.2 1-2 1-3.2 1-4.2 1-4.3 1-3.5 1-1.8 1 .2 1 1.2 1 .6 1-.4 1-.6 1 0 1-.7 1-2.5 1-4.8 1-6.6 1-6.1 1-3.3 1-.7 1-.4 1-.3 1 .5 1 1.8 1 3 1 4.1 1 7.7 1 7.4 1 4.3 1 .2 1-4.2 1-7.5 1-8.4 1-6.7 1-3.2 1 .6 1 3.5 1 3.1 1-.6 1-5.8 1-8.4 1-6.4 1-.4 1 7 1 10.7 1 10.1 1 7.2 1 4.9 1 5.4 1 6.5 1 5.5 1 2.9 1-.1 1-2.4 1-3.4 1-3.7 1-3.5 1-3.1 1-3.6 1-4.2 1-3.9 1-3.2 1-2.5 1-1.4 1 .9 1 3.9 1 6.3 1 6.9 1 5.2 1 2.2 1-1.1 1-2.2 1-1.4 1-.1 1 .3 1 0 1 .8 1 2.2 1 2.6 1 1.7 1 .7 1 .5 1 1.1 1 1.2 1 .7 1 .3 1 .9 1 4.6 1 7.6 1 7.1 1 3.6 1-2.4 1-8.2 1-11 1-10.6 1-7.4 1-1.8 1 1 1 3.1 1 4.4 1 4.1 1 2.3 1 .5 1-.6 1-.6 1 .4 1 2.2 1 3.6 1 3.6 1 2.3 1 .1 1-1.9 1-3.1 1-3.6 1-3.1 1-2.1 1-1.7 1-1.7 1-1.2 1-.4 1 .5" stroke="#1a3cf0"/>
<path d="M372.3,117.2l1 1.5 1 3.7 1 3 1-.8 1-6.2 1-9.6 1-7.7 1-.2 1 7 1 8.5 1 4.8 1-1.3 1-7 1-9.7 1-6.9 1 1.3 1 8.8 1 11.7 1 9.3 1 3.8 1-2.4 1-6.9 1-8 1-5.9 1-1.9 1 1.5 1 2.5 1 1.6 1-.2 1-2 1-2.3 1-.1 1 2.3 1 2.1 1-.6 1-1.9 1-.3 1 2 1 1.8 1-.1 1-.6 1 .2 1-.4 1-2.5 1-3.4 1-1.9 1 .6 1 .3 1-4.9 1-10.8 1-11 1-2.1 1 8.5 1 11.7 1 7.5 1 1.6 1-3.2 1-6.8 1-11.7 1-18.1 1-22.4 1-20.3 1-11.2 1 .1 1 6.7 1 6.9 1 5.5 1 4.1 1 2 1-2.6 1-8.4 1-9.7 1-11.6 1-6.5 1 7.2 1 18.3 1 19 1 11 1 1.4 1-3.8 1-.9 1 5.2 1 7.6 1 5.2 1 2.3 1 1.6 1 2.2 1 1.9 1 1.8 1 1.7 1 1.7 1 1.1 1-.1 1 2.1 1 6.5 1 9.9 1 9.8 1 5.5 1 .3 1-2.6 1-1.4 1 2.4 1 4.1 1 1.3 1-3.3 1-5.9 1-5.8 1-3.9 1-1.6 1 1.2 1 3 1 2.6 1 1.6 1 1 1 1 1 .5 1 .2 1 .3 1-.2 1-.5 1 .4 1 2.9 1 4.9 1 4.7 1 2.7 1 1 1 .6 1 .5 1-.3 1-1.2 1-.1 1 2.6 1 6 1 6.2 1 4.2 1 1.2 1-3.3 1-7.7 1-8.7 1-7.2 1-4.4 1-2 1-2.6 1-2.2 1-.3 1 1.5 1 2.5 1 3.4 1 4.4 1 5.3 1 4.9 1 3.1 1 .6 1-1.4 1-2.4 1-3.1 1-3 1-2.3 1-1 1 .8 1 2.1 1 1.8 1 0 1-1.8 1-2.6 1-2.3" stroke="#20f060"/>
<path d="M372.3,113.8l1-1.4 1-2.4 1-2.5 1-2.1 1-2.2 1-2.1 1-1.7 1-1.3 1-1.8 1-2.7 1-3.5 1-2.4 1 1.7 1 5.9 1 7.6 1 6.4 1 2.6 1-1 1-2.2 1-.4 1 2.3 1 3.3 1 1.1 1-3 1-7.9 1-11.6 1-12.9 1-9.8 1-3.2 1 3.8 1 8.9 1 10.3 1 8.5 1 4.8 1 .9 1-2 1-3.8 1-4.6 1-4.3 1-3.3 1-2.7 1-3 1-3.8 1-2.2 1 1.7 1 3.4 1 1.7 1-1.2 1-3.1 1-4.6 1-6.4 1-7.1 1-3.4 1 3.9 1 8.9 1 9.1 1 5.5 1 1 1-3.1 1-4 1-1.9 1 0 1-.2 1-1.6 1-3 1-4.7 1-5.8 1-6.5 1-5.8 1-4.1 1-3.3 1 1 1 3.2 1 7.2 1 11.3 1 11.8 1 8.9 1 3.9 1-.5 1-2.3 1-1.4 1 1.4 1 4.5 1 6.2 1 5.6 1 3.7 1 1.7 1 .7 1 1.4 1 2.4 1 2.9 1 2.7 1 2.1 1 3.2 1 4.8 1 5.2 1 4.4 1 2 1-.5 1-2.5 1-4 1-4.3 1-3.5 1-2.4 1-.8 1-.1 1-.7 1-2.3 1-3 1-2.2 1-.3 1 1.4 1 2.5 1 3.4 1 3.7 1 2.7 1 1.2 1-.5 1-1.5 1-.9 1 .2 1 1.3 1 1.2 1 .1 1-1.3 1-2 1-1.4 1-.2 1 .8 1 1.5 1 2.1 1 2.6 1 4.5 1 5.6 1 5.2 1 3.1 1-1.8 1-7.2 1-10.8 1-11.7 1-8.7 1-2.1 1 1.1 1 2.4 1 2.5 1 1.8 1 .9 1 .4 1 .6 1 1.6 1 2.8 1 4.1 1 4.4 1 3.6 1 1.5 1-1.4 1-3.7 1-4 1-2.4 1-.4 1 .2 1-1.3 1-3.3 1-3.9 1-2.8 1-.8" stroke="#0020ff"/>
<path d="M372.3,89.1l1-.7 1 .4 1 .2 1 .6 1 2.7 1 5.6 1 7 1 5 1 1 1-2.1 1-1.8 1 1.7 1 5.1 1 6.1 1 4.7 1 2.5 1-.7 1-4.3 1-6.1 1-4.5 1-1.2 1 .1 1-2.9 1-8.1 1-11.3 1-9 1 0 1 10.2 1 13.3 1 9.8 1 5.3 1 2.3 1-.3 1-3.3 1-5.6 1-5.8 1-5.4 1-6.3 1-8.4 1-9 1-5.8 1-.2 1 3.3 1 5.2 1 6.2 1 5.4 1 3.9 1 4 1 5 1 4.1 1 .1 1-5.4 1-9.5 1-10.5 1-10 1-11 1-12.5 1-10.4 1-4.3 1 2 1 4.8 1 4.2 1 3.8 1 3.6 1 .9 1-3.3 1-4.6 1-1.1 1 3.8 1 5.7 1 4.5 1 5.7 1 4.4 1 3.3 1 2.8 1 2.1 1 2.5 1 3.8 1 4.8 1 4.5 1 1.2 1-4.9 1-9.8 1-7 1 3 1 11.5 1 12 1 7.7 1 3.4 1 .5 1-.2 1 .9 1 2.7 1 5.2 1 6.2 1 5.3 1 3.2 1 .7 1-1.2 1-1.5 1-1.3 1-1.2 1-1.4 1-2.1 1-2.4 1-2.1 1-1.8 1-.8 1 .7 1 2 1 2.4 1 1.9 1 1.2 1 1.1 1 1.2 1 .3 1-.8 1-2 1-2.2 1-1.6 1-.3 1 1.4 1 2.6 1 2.9 1 2 1 .9 1 .2 1 .1 1 .6 1 .9 1 .7 1 .4 1 1.8 1 3.3 1 3.2 1 1.5 1-2.9 1-7.4 1-9.3 1-8.6 1-5 1 .8 1 3.5 1 5 1 4.7 1 2.3 1-.6 1-1.3 1 .7 1 3.7 1 4.7 1 3.4 1 1.3 1-.1 1-.8 1-1 1-1.1 1-1.4 1-2.6 1-4.2 1-4.8 1-4.4 1-2.6 1-.2 1 1.5 1 1.9" stroke="#10d8f0"/>
<path d="M426.3,107.4l1 0 1-2.9 1-5.1 1-4.7 1-2.4 1 .4 1 .7 1-3.7 1-11.3 1-17.8 1-18.1 1-12.3 1-5.5 1-2.3 1-1.4 1 0 1 3.8 1 14.3 1 20.4 1 21.7 1 17.5 1 9.9 1 3.4 1 .1 1-.1 1 .7 1 .2 1-1.7 1-4.3 1-6.3 1-5.6 1-.8 1 4.5 1 6.4 1 5.6 1 4.2 1 3.5" stroke="#ffa020"/>
<path d="M426.3,105.4l1-1.5 1 1.2 1 2.3 1-.4 1-6.3 1-11.9 1-13.4 1-10.6 1-6.3 1-3.8 1-3.2 1-4.6 1-6.3 1-6.9 1-5.9 1-3.5 1-.1 1 8.6 1 12.7 1 13.3 1 11.1 1 7.5 1 4.6 1 3.4 1 3.5 1 3.6 1 3.3 1 2.2 1 1.3 1 .2 1-1 1-2.1 1-1.6 1 1 1 4.7 1 6.3 1 5.6" stroke="#80ff60"/>
<path d="M426.3,88.3l1-5.6 1-2.7 1 5.3 1 10.3 1 7 1-.3 1-6.9 1-10.1 1-7.5 1 .2 1 6.4 1 4.6 1-3.9 1-14.3 1-20 1-16.1 1-5.7 1 7.9 1 14.8 1 18.6 1 17.9 1 12 1 4.8 1-1.2 1-4.6 1-4.7 1-.8 1 3.7 1 5.3 1 3.1 1-.6 1-3.8 1-5.8 1-5.6 1-3.3 1-.2 1 3.3" stroke="#80ff60"/>
<path d="M426.3,96.4l1-4.3 1 .7 1 4.4 1 4.4 1 2.4 1 1.5 1 1 1-.9 1-3.2 1-3.9 1-3.1 1-2.9 1-5.3 1-9.8 1-12.3 1-9.1 1-2 1 7.4 1 10.8 1 12.3 1 12.8 1 11.2 1 8.1 1 4 1-.4 1-3.8 1-4.5 1-2.9 1-.2 1 1.7 1 1.6 1-.2 1-2.8 1-3.3 1-.1 1 3.9 1 5.2" stroke="#00f0a0"/>
<path d="M426.3,135.7l1-4.6 1-6.6 1-6.7 1-5.1 1-3.9 1-3.1 1-3.5 1-5.8 1-9.4 1-12 1-11.4 1-7.8 1-3.1 1 1.5 1 6.5 1 9.7 1 8.3 1 6.2 1 1.2 1-2.2 1-3.7 1-4.6 1-4.5 1-2.6 1-.7 1 .2 1 1.9 1 6.1 1 9.1 1 6.7 1 1.6 1-1.5 1-.5 1 2 1 3.5 1 2.9 1 1.5" stroke="#ff9060"/>
<path d="M426.3,108.4l1-2.3 1-4.4 1-5.9 1-5.9 1-5.3 1-3.1 1 0 1 .4 1-3.5 1-9.2 1-12.2 1-9.9 1-4.7 1-1.9 1-1.2 1-.4 1 1 1 5.3 1 5.4 1 6.7 1 9.7 1 9.5 1 4.6 1-2.2 1-7.9 1-9.8 1-8.4 1-4.9 1-.9 1 2.4 1 3.4 1 2 1 .1 1 1.1 1 7.5 1 13.4 1 14.1" stroke="#40ff40"/>
<path d="M426.3,72l1-5.1 1-8.3 1-12.2 1-14.3 1-14.3 1-11.3 1-5.4 1 3.3 1 12.7 1 16.2 1 10.7 1 .6 1-5.9 1-6.1 1-1.1 1 3.9 1 5.1 1 8.3 1 9.2 1 10.7 1 10.4 1 6.7 1 2.1 1-2.3 1-6.3 1-9.7 1-10.3 1-6.2 1-.4 1 3.2 1 4.1 1 4.4 1 4.3 1 3.9 1 4.3 1 4.5 1 3.9" stroke="#60ff30"/>
<path d="M426.3,122.9l1-6.1 1-8.6 1-7.7 1-4.4 1-1.8 1 0 1-.5 1-3.2 1-6 1-7.7 1-9.7 1-11.6 1-8.3 1 .5 1 8.5 1 10.2 1 7.7 1 7.6 1 5.6 1 3.6 1 1.9 1-1.2 1-4.2 1-5.1 1-2.1 1 2.5 1 3.9 1 1.5 1-1.1 1-.5 1 2.5 1 4.3 1 4.7 1 4.2 1 4.4 1 4.7 1 5.6" stroke="#80ff60"/>
<path d="M426.3,87.2l1-6.2 1-9.2 1-8.5 1-5.3 1-4.5 1-6.6 1-10.3 1-13.9 1-13.2 1-7.8 1-1.8 1 2.2 1 6.3 1 10.4 1 12 1 9.5 1 4.9 1 4.7 1 3.6 1 4.2 1 5.9 1 6.8 1 5.9 1 3.5 1-.3 1-3.2 1-3.4 1-1.1 1 .9 1 1.7 1 1.4 1 1.3 1 2.3 1 5 1 8.3 1 7.8 1 4.1" stroke="#ff9060"/>
<path d="M426.3,65.6l1-6.5 1-5.7 1-2.3 1 1.3 1 2.3 1 1.6 1 1.3 1 2.1 1 4.1 1 5 1 2 1-3.6 1-7.6 1-5.7 1 2.2 1 10.1 1 11.7 1 10.3 1 4.5 1 0 1-1.4 1-.9 1 1.3 1 3.1 1 2.8 1-.9 1-7 1-14.2 1-18.5 1-14.5 1 .4 1 17.2 1 23.6 1 19.3 1 12.2 1 5.9 1 1.5" stroke="#f0e020"/>
<path d="M426.3,77.9l1-9.9 1-10.5 1-10.3 1-6.4 1 1.3 1 9.6 1 12.4 1 8.3 1 1.1 1-5.9 1-10.9 1-12.7 1-8.5 1 .1 1 6.6 1 6 1 .3 1-2.6 1-5.8 1-5.9 1-3.3 1-.2 1 4.1 1 9.1 1 11.5 1 9.4 1 5.6 1 4.1 1 5.7 1 7.3 1 5.5 1 1.5 1-2.2 1-2.4 1 1.9 1 6.7 1 9" stroke="#80ff60"/>
<path d="M426.3,110.3l1-3.5 1-3.4 1-2.6 1-1.9 1-2.2 1-2.6 1-4 1-7.3 1-10.3 1-8.8 1-1.2 1 6 1 6.4 1 .7 1-5.9 1-9.4 1-9.1 1-3.8 1-3.3 1-4 1-1.3 1 4 1 7.8 1 7 1 4.3 1 3.2 1 4.8 1 5.6 1 3.1 1-1.8 1-6.1 1-6.6 1-4.3 1-1.2 1 1.7 1 3.1 1 4" stroke="#00f0a0"/>
<path d="M426.3,107l1-3.2 1-4.2 1-4.2 1-3.3 1-3.3 1-3.6 1-4.2 1-5 1-5.3 1-5.7 1-7 1-9.9 1-13.5 1-14 1-7.3 1 3.5 1 9.3 1 11.8 1 7.8 1 3.8 1 0 1-3.7 1-2.9 1 4.2 1 12.8 1 15.9 1 12.4 1 5.4 1-1.2 1-3.8 1-1.5 1 3.2 1 6 1 5.1 1 3.8 1 2.8 1 2.7" stroke="#20f060"/>
<path d="M426.3,85.5l1-1.3 1-.1 1-1.3 1-5.4 1-11.8 1-16.4 1-17.9 1-15.9 1-11 1-5.5 1-4 1-7.2 1-9.5 1-7.1 1-.9 1 3.2 1 2.1 1 2.3 1-4.2 1-10.3 1-11 1-5.5 1 4.4 1 11.4 1 11.5 1 9.3 1 10.3 1 14.9 1 19.7 1 20.4 1 16 1 8.6 1 1.9 1-1.3 1 .2 1 3.4 1 5.9" stroke="#30e830"/>
<path d="M426.3,113.4l1-7 1-9.2 1-8.7 1-6.6 1-5.8 1-6.5 1-9.7 1-15.5 1-21 1-22.6 1-21.2 1-19.4 1-11.9 1 4.3 1 19.8 1 24.5 1 19.8 1 16.7 1 9.7 1 3.8 1-.2 1-2.2 1-.5 1 3.5 1 5.4 1 3 1 1.9 1 7.3 1 14.9 1 15.5 1 9.1 1 2.2 1-1.4 1-.8 1 1.8 1 3 1 2.6" stroke="#80ff60"/>
<path d="M426.3,93.4l1-.6 1 4.4 1 6.1 1 3.3 1-3 1-9 1-12.7 1-13.6 1-11.8 1-9.1 1-8.3 1-10.5 1-12.1 1-9.1 1-.7 1 6.9 1 8.1 1 8.5 1 5.5 1 5.8 1 8.2 1 7.1 1 3.3 1 .7 1 2.8 1 7.4 1 10 1 8.8 1 4.6 1 .7 1-.9 1-.2 1 .2 1-.5 1 .3 1 2.8 1 5.7" stroke="#60ff30"/>
<path d="M426.3,90.4l1 4 1 7.1 1 6.4 1 4.8 1 2.5 1-1 1-5.8 1-9.8 1-10.5 1-9.4 1-9.5 1-11 1-11.2 1-10.3 1-8.5 1-5.3 1-1.4 1 5.9 1 7.9 1 10.1 1 13.4 1 14.7 1 13.5 1 10.1 1 4.3 1-3.3 1-10.5 1-13 1-6.6 1 5.8 1 14.3 1 14.3 1 9.1 1 3.4 1 .2 1-1.3 1-1.4" stroke="#00f0a0"/>
<path d="M426.3,73.2l1-.8 1-1.5 1 1.7 1 4.7 1 2.9 1-.9 1-4.5 1-8 1-10.6 1-8.8 1-1.1 1 5.1 1 5.6 1 3.8 1 5.2 1 8.8 1 9.5 1 8.4 1 4.4 1 1.5 1-.7 1-4.1 1-7.4 1-8.7 1-6.8 1-3.8 1-1.9 1-.4 1 2.5 1 6.1 1 8.7 1 8.9 1 7.6 1 5.6 1 4.3 1 3.3 1 2.9" stroke="#80ff60"/>
<path d="M426.3,80.3l1-2 1 .6 1 3.2 1 4.9 1 4 1 .9 1-4.3 1-9.5 1-11.2 1-7.6 1-3 1-1.5 1-3 1-6.3 1-8.8 1-8 1-2.2 1 10.1 1 15.1 1 13.3 1 7.8 1 1.6 1-2.8 1-5 1-5.1 1-3.1 1 .4 1 4.5 1 6.8 1 6.2 1 2.9 1-.8 1-2.6 1-1.8 1 2.4 1 6.7 1 9.4" stroke="#80ff60"/>
<path d="M426.3,93.6l1-3.3 1-3.3 1-2.8 1-2.6 1-4.3 1-6.9 1-9.8 1-13.4 1-15.9 1-14.4 1-5.9 1 4.5 1 7.7 1-.2 1-12.4 1-19.5 1-13.8 1 5.5 1 16.2 1 17.9 1 14.5 1 9.5 1 7.1 1 8.9 1 11.2 1 9.5 1 3.3 1-3.9 1-7.5 1-4.5 1 2.5 1 7.9 1 8.1 1 4.3 1 .6 1-.9 1 .5" stroke="#20f060"/>
<path d="M426.3,96.1l1 7.5 1 1.6 1-3.2 1-6.8 1-11.7 1-18.1 1-22.4 1-20.3 1-11.2 1 .1 1 6.7 1 6.9 1 5.5 1 4.1 1 2 1-2.6 1-8.4 1-9.7 1-11.6 1-6.5 1 7.2 1 18.3 1 19 1 11 1 1.4 1-3.8 1-.9 1 5.2 1 7.6 1 5.2 1 2.3 1 1.6 1 2.2 1 1.9 1 1.8 1 1.7 1 1.7" stroke="#20f060"/>
</g>
<g clip-path="url(#cb)" fill="none" stroke="#000" stroke-width="1.6" stroke-linejoin="round">
<path d="M372.3,115.8l.5-.1 .5-.1 .5-.2 .5-.2 .5-.1 .5-.2 .5-.3 .5-.2 .5-.3 .5-.4 .5-.4 .5-.5 .5-.4 .5-.4 .5-.3 .5-.2 .5-.1 .5 .2 .5 .4 .5 .5 .5 .5 .5 .5 .5 .2 .5 0 .5-.2 .5-.4 .5-.4 .5-.6 .5-.6 .5-.6 .5-.6 .5-.6 .5-.8 .5-1 .5-.9 .5-.8 .5-.7 .5-.3 .5 0 .5 .1 .5 .3 .5 .3 .5 .3 .5 .1 .5 0 .5-.3 .5-.6 .5-.7 .5-.9 .5-.9 .5-1 .5-.9 .5-.8 .5-.6 .5-.5 .5-.1 .5 .1 .5 .2 .5 .4 .5 .4 .5 .5 .5 .5 .5 .5 .5 .5 .5 .4 .5 .3 .5 .1 .5 0 .5-.2 .5-.3 .5-.5 .5-.5 .5-.6 .5-.6 .5-.7 .5-.6 .5-.5 .5-.6 .5-.6 .5-.6 .5-.6 .5-.3 .5 0 .5 .3 .5 .3 .5 .4 .5 .5 .5 .4 .5 .6 .5 .7 .5 .8 .5 .8 .5 .8 .5 .8 .5 .6 .5 .5 .5 .2 .5 .1 .5-.1 .5-.2 .5-.3 .5-.3 .5-.4 .5-.4 .5-.5 .5-.4 .5-.5 .5-.6 .5-.7 .5-.8 .5-.9 .5-.9 .5-1 .5-1.2 .5-1.1 .5-1.5 .5-1.8 .5-2.1 .5-2.1 .5-2.1 .5-2 .5-1.6 .5-1.6 .5-1.5 .5-1.4 .5-1.4 .5-1.4 .5-1.4 .5-1.3 .5-1.4 .5-1.6 .5-1.6 .5-1.7 .5-1.4 .5-1.1 .5-.6 .5-.1 .5 .8 .5 1.3 .5 1.8 .5 1.9 .5 2 .5 2.9 .5 3.1 .5 2.6 .5 1.6 .5 1.4 .5 1.1 .5 1.1 .5 .8 .5 .8 .5 .6 .5 .6 .5 .6 .5 .5 .5 .4 .5 .4 .5 .3 .5 .3 .5 .2 .5 .2 .5 .1 .5 .1 .5 .1 .5 .1 .5 .1 .5 .1 .5 .1 .5 .2 .5 .3 .5 .4 .5 .4 .5 .6 .5 .6 .5 .7 .5 .9 .5 1.3 .5 1.7 .5 2 .5 2.2 .5 2.3 .5 2.4 .5 2.4 .5 2.3 .5 2.1 .5 2 .5 2.1 .5 2.2 .5 2.4 .5 2.3 .5 2.1 .5 2 .5 1.7 .5 1.3 .5 .8 .5 .4 .5-.2 .5-.5 .5-.8 .5-1 .5-1.1 .5-1.2 .5-1.2 .5-1.2 .5-1.1 .5-1 .5-1.1 .5-1.3 .5-1.3 .5-1.3 .5-1.4 .5-1.3 .5-1.3 .5-1.1 .5-.9 .5-.8 .5-.5 .5-.2 .5 .2 .5 .5 .5 .8 .5 1.1 .5 1.2 .5 1.4 .5 1.4 .5 1.4 .5 1.3 .5 1.2 .5 .9 .5 .6 .5 .3 .5 0 .5-.1 .5-.2 .5-.3 .5-.3 .5-.3 .5-.3 .5-.2 .5-.2 .5-.1 .5 0 .5 .3 .5 .5 .5 .5 .5 .6 .5 .6 .5 .3 .5 0 .5-.2 .5-.5 .5-.5 .5-.5 .5-.3 .5 0 .5 .3 .5 .5 .5 .8 .5 .9 .5 1.1 .5 1.2 .5 1.2 .5 1.3 .5 1.4 .5 2 .5 2.5 .5 2.8 .5 2.8 .5 2.7 .5 2.2 .5 1.6 .5 .7 .5-.5 .5-2.1 .5-3.3 .5-4.2 .5-4.7 .5-5 .5-4.8 .5-4.3 .5-3.6 .5-2.3 .5-.9 .5 .2 .5 .4 .5 .6 .5 .7 .5 .6 .5 .5 .5 .3 .5-.1 .5-.5 .5-.7 .5-.9 .5-.9 .5-.7 .5-.4 .5 0 .5 .6 .5 .9 .5 1.4 .5 1.5 .5 1.8 .5 1.9 .5 1.9 .5 1.8 .5 1.8 .5 1.5 .5 1.2 .5 .9 .5 .5 .5-.1 .5-.4 .5-.8 .5-1.1 .5-1.3 .5-1.3 .5-1.4 .5-1.3 .5-1.1 .5-.9 .5-.7 .5-.6 .5-.6 .5-.5 .5-.6 .5-.5 .5-.4 .5-.4 .5-.4 .5-.3 .5-.2"/>
<path d="M372.3,95.4l.5-.6 .5-.4 .5-.5 .5-.4 .5-.3 .5-.4 .5-.2 .5-.3 .5-.2 .5-.2 .5-.1 .5-.1 .5-.1 .5 0 .5 0 .5 .1 .5 .2 .5 .3 .5 .2 .5 .2 .5 .1 .5-.2 .5-.5 .5-.7 .5-.9 .5-.9 .5-.7 .5-.6 .5-.4 .5-.4 .5-.3 .5-.3 .5-.3 .5-.3 .5-.3 .5-.4 .5-.3 .5-.4 .5-.3 .5-.4 .5-.4 .5-.3 .5-.4 .5-.3 .5-.3 .5-.3 .5-.3 .5-.3 .5-.3 .5-.2 .5-.2 .5-.2 .5-.2 .5-.2 .5-.1 .5-.2 .5-.1 .5-.1 .5-.2 .5-.1 .5-.2 .5-.1 .5-.2 .5-.2 .5-.1 .5-.3 .5-.2 .5-.3 .5-.3 .5-.4 .5-.3 .5-.4 .5-.4 .5-.3 .5-.3 .5-.3 .5-.3 .5-.2 .5-.1 .5-.1 .5 0 .5 .2 .5 .5 .5 .7 .5 .9 .5 .9 .5 1.1 .5 1.1 .5 1.1 .5 1.1 .5 1 .5 .9 .5 .8 .5 .6 .5 .4 .5 .2 .5-.1 .5-.2 .5-.4 .5-.4 .5-.6 .5-.6 .5-.6 .5-.7 .5-.7 .5-.7 .5-.6 .5-.7 .5-.8 .5-.7 .5-.9 .5-.8 .5-1 .5-1 .5-1 .5-1.2 .5-1.2 .5-1.3 .5-1.4 .5-1.5 .5-1.6 .5-1.8 .5-2.5 .5-3.1 .5-3.5 .5-3.7 .5-3.9 .5-3.7 .5-3.4 .5-3.3 .5-3.7 .5-3.9 .5-3.7 .5-3.3 .5-2.5 .5-1.3 .5-.1 .5 0 .5 0 .5 0 .5 0 .5 0 .5 1 .5 5.4 .5 8.2 .5 8.8 .5 7.3 .5 4.7 .5 4.4 .5 4.2 .5 3.7 .5 3 .5 2.1 .5 .9 .5 .2 .5 .1 .5 .2 .5 0 .5 .1 .5 .1 .5 0 .5 .1 .5 0 .5 .1 .5 .1 .5 .1 .5 .1 .5 .2 .5 .3 .5 .3 .5 .3 .5 .4 .5 .5 .5 .6 .5 .6 .5 .8 .5 .8 .5 1 .5 2.2 .5 3.2 .5 3.9 .5 4 .5 3.7 .5 3 .5 2.3 .5 2.4 .5 2.3 .5 2.3 .5 2.1 .5 2.1 .5 1.8 .5 1.5 .5 1.2 .5 .9 .5 .4 .5 0 .5-.5 .5-.9 .5-1 .5-1.3 .5-1.3 .5-1.2 .5-1.2 .5-.9 .5-1.1 .5-1.1 .5-1.1 .5-1.2 .5-1.1 .5-1.2 .5-1.1 .5-1 .5-1 .5-.8 .5-.7 .5-.6 .5-.3 .5-.2 .5 .2 .5 .5 .5 .9 .5 1.1 .5 1.3 .5 1.5 .5 1.5 .5 1.5 .5 1.3 .5 1.3 .5 1 .5 .6 .5 .3 .5 0 .5-.2 .5-.3 .5-.3 .5-.5 .5-.4 .5-.4 .5-.3 .5-.3 .5-.1 .5 0 .5 .3 .5 .4 .5 .5 .5 .5 .5 .5 .5 .4 .5 .2 .5 0 .5-.5 .5-.6 .5-.7 .5-.6 .5-.4 .5 .1 .5 .4 .5 .8 .5 1.1 .5 1.3 .5 1.5 .5 1.6 .5 1.6 .5 1.7 .5 2.7 .5 3.2 .5 3.7 .5 3.7 .5 3.4 .5 2.9 .5 2.1 .5 1 .5-.4 .5-1.5 .5-2.4 .5-3.2 .5-3.6 .5-4.1 .5-4.1 .5-4.1 .5-3.8 .5-3.4 .5-2.7 .5-1.9 .5-.9 .5 .2 .5 .7 .5 .9 .5 .9 .5 .5 .5 0 .5-.6 .5-.9 .5-1 .5-1 .5-.8 .5-.5 .5 0 .5 .5 .5 .9 .5 1.1 .5 1.4 .5 1.6 .5 1.7 .5 1.6 .5 1.7 .5 1.5 .5 1.4 .5 1.1 .5 .8 .5 .4 .5-.1 .5-.5 .5-.8 .5-1.1 .5-1.3 .5-1.4 .5-1.5 .5-1.3 .5-1.3 .5-1 .5-.6 .5-.6 .5-.5 .5-.6 .5-.4 .5-.5 .5-.4 .5-.4 .5-.2 .5-.3 .5-.1" stroke-dasharray="4,2.6"/>
<path d="M372.3,131.8l.5-.2 .5-.2 .5-.2 .5-.2 .5-.2 .5-.2 .5-.2 .5-.2 .5-.2 .5-.2 .5-.2 .5-.2 .5-.2 .5-.1 .5-.2 .5-.2 .5-.2 .5-.2 .5-.1 .5-.2 .5-.2 .5-.2 .5-.1 .5-.2 .5-.1 .5-.2 .5-.2 .5-.1 .5-.2 .5-.2 .5-.2 .5-.2 .5-.2 .5-.2 .5-.2 .5-.2 .5-.2 .5-.3 .5-.2 .5-.3 .5-.3 .5-.3 .5-.3 .5-.5 .5-.6 .5-.7 .5-.8 .5-.8 .5-.7 .5-.6 .5-.4 .5-.3 .5-.1 .5-.2 .5-.1 .5-.1 .5 0 .5-.1 .5 0 .5-.1 .5-.1 .5-.1 .5-.1 .5-.1 .5-.1 .5-.3 .5-.3 .5-.5 .5-.5 .5-.5 .5-.6 .5-.6 .5-.5 .5-.5 .5-.5 .5-.3 .5-.2 .5-.1 .5 .1 .5 .2 .5 .4 .5 .4 .5 .5 .5 .4 .5 .4 .5 .3 .5 .4 .5 .4 .5 .4 .5 .3 .5 .4 .5 .3 .5 .2 .5 .2 .5 .1 .5 0 .5-.2 .5-.3 .5-.4 .5-.5 .5-.6 .5-.6 .5-.8 .5-.7 .5-.8 .5-.8 .5-.8 .5-.8 .5-.8 .5-.9 .5-1 .5-1.1 .5-1.1 .5-1.1 .5-1.1 .5-1.1 .5-.9 .5-.9 .5-.9 .5-.9 .5-.8 .5-.8 .5-.8 .5-.8 .5-.8 .5-.8 .5-.7 .5-.7 .5-.7 .5-.6 .5-.6 .5-.6 .5-.6 .5-.7 .5-.6 .5-.7 .5-.5 .5-.6 .5-.4 .5-.3 .5-.2 .5 0 .5 .3 .5 .4 .5 .6 .5 .7 .5 .9 .5 .9 .5 1 .5 1 .5 .9 .5 .9 .5 .9 .5 1.1 .5 1.2 .5 1.1 .5 1 .5 .8 .5 .6 .5 .5 .5 .4 .5 .3 .5 .4 .5 .2 .5 .3 .5 .3 .5 .3 .5 .3 .5 .4 .5 .5 .5 .6 .5 .7 .5 .9 .5 1.2 .5 1.3 .5 1.5 .5 1.6 .5 1.6 .5 1.8 .5 1.7 .5 1.7 .5 1.7 .5 1.7 .5 2.1 .5 2.3 .5 2.4 .5 2.5 .5 2.5 .5 2.4 .5 2.4 .5 2.1 .5 1.9 .5 1.6 .5 1.2 .5 .8 .5 .3 .5-.2 .5-.6 .5-.8 .5-1.1 .5-1.3 .5-1.4 .5-1.4 .5-1.3 .5-1.3 .5-1.1 .5-1.3 .5-1.5 .5-1.5 .5-1.6 .5-1.5 .5-1.5 .5-1.5 .5-1.2 .5-1.1 .5-.9 .5-.6 .5-.2 .5 .1 .5 .5 .5 .8 .5 1 .5 1.2 .5 1.3 .5 1.4 .5 1.3 .5 1.3 .5 1.1 .5 1 .5 .6 .5 .4 .5 0 .5-.2 .5-.3 .5-.4 .5-.4 .5-.5 .5-.4 .5-.4 .5-.2 .5-.2 .5 .1 .5 .3 .5 .6 .5 .7 .5 .7 .5 .7 .5 .6 .5 .3 .5-.1 .5-.4 .5-.6 .5-.7 .5-.7 .5-.3 .5 0 .5 .3 .5 .7 .5 .8 .5 .9 .5 1.1 .5 1.1 .5 1.2 .5 1.2 .5 1.6 .5 2 .5 2.2 .5 2.2 .5 2 .5 1.7 .5 1.2 .5 .6 .5-.6 .5-2 .5-3.1 .5-4.1 .5-4.5 .5-4.8 .5-4.6 .5-4.1 .5-3.4 .5-2.3 .5-.8 .5 .2 .5 .4 .5 .6 .5 .6 .5 .7 .5 .5 .5 .2 .5 0 .5-.4 .5-.7 .5-.8 .5-.8 .5-.6 .5-.4 .5 .1 .5 .5 .5 1 .5 1.3 .5 1.6 .5 1.8 .5 1.8 .5 1.9 .5 1.9 .5 1.7 .5 1.6 .5 1.2 .5 .9 .5 .5 .5-.1 .5-.4 .5-.8 .5-1 .5-1.2 .5-1.3 .5-1.3 .5-1.3 .5-1.1 .5-1 .5-.6 .5-.6 .5-.5 .5-.5 .5-.5 .5-.4 .5-.4 .5-.3 .5-.3 .5-.2 .5-.2" stroke-dasharray="4,2.6"/>
</g>
<g stroke="#888" stroke-width="0.5" fill="none">
<path d="M370.3,190 H372.3"/>
<path d="M371.1,181.8 H372.3"/>
<path d="M371.1,173.6 H372.3"/>
<path d="M371.1,165.4 H372.3"/>
<path d="M370.3,157.2 H372.3"/>
<path d="M371.1,149 H372.3"/>
<path d="M371.1,140.8 H372.3"/>
<path d="M371.1,132.6 H372.3"/>
<path d="M370.3,124.4 H372.3"/>
<path d="M371.1,116.2 H372.3"/>
<path d="M371.1,108 H372.3"/>
<path d="M371.1,99.8 H372.3"/>
<path d="M370.3,91.6 H372.3"/>
<path d="M371.1,83.4 H372.3"/>
<path d="M371.1,75.2 H372.3"/>
<path d="M371.1,67 H372.3"/>
<path d="M370.3,58.8 H372.3"/>
<path d="M371.1,50.6 H372.3"/>
<path d="M371.1,42.4 H372.3"/>
<path d="M371.1,34.2 H372.3"/>
<path d="M370.3,26 H372.3"/>
<path d="M372.25,190 V192"/>
<path d="M378.98,190 V192"/>
<path d="M385,190 V192"/>
<path d="M424.62,190 V192"/>
<path d="M447.79,190 V192"/>
<path d="M464.23,190 V192"/>
<path d="M476.98,190 V192"/>
<path d="M487.4,190 V192"/>
<path d="M496.21,190 V192"/>
<path d="M503.85,190 V192"/>
<path d="M510.58,190 V192"/>
<path d="M516.6,190 V192"/>
</g>
<text x="369.4" y="192.6" font-family="DejaVu Sans, sans-serif" font-size="7" fill="#333" stroke="#333" stroke-width="0.18" text-anchor="end">0.0</text>
<text x="369.4" y="159.8" font-family="DejaVu Sans, sans-serif" font-size="7" fill="#333" stroke="#333" stroke-width="0.18" text-anchor="end">0.4</text>
<text x="369.4" y="127" font-family="DejaVu Sans, sans-serif" font-size="7" fill="#333" stroke="#333" stroke-width="0.18" text-anchor="end">0.8</text>
<text x="369.4" y="94.2" font-family="DejaVu Sans, sans-serif" font-size="7" fill="#333" stroke="#333" stroke-width="0.18" text-anchor="end">1.2</text>
<text x="369.4" y="61.4" font-family="DejaVu Sans, sans-serif" font-size="7" fill="#333" stroke="#333" stroke-width="0.18" text-anchor="end">1.6</text>
<text x="369.4" y="28.6" font-family="DejaVu Sans, sans-serif" font-size="7" fill="#333" stroke="#333" stroke-width="0.18" text-anchor="end">2.0</text>
<text x="372.25" y="200.3" font-family="DejaVu Sans, sans-serif" font-size="7" fill="#333" stroke="#333" stroke-width="0.18" text-anchor="middle">0.8</text>
<text x="385" y="200.3" font-family="DejaVu Sans, sans-serif" font-size="7" fill="#333" stroke="#333" stroke-width="0.18" text-anchor="middle">1</text>
<text x="424.62" y="200.3" font-family="DejaVu Sans, sans-serif" font-size="7" fill="#333" stroke="#333" stroke-width="0.18" text-anchor="middle">2</text>
<text x="464.23" y="200.3" font-family="DejaVu Sans, sans-serif" font-size="7" fill="#333" stroke="#333" stroke-width="0.18" text-anchor="middle">4</text>
<text x="487.4" y="200.3" font-family="DejaVu Sans, sans-serif" font-size="7" fill="#333" stroke="#333" stroke-width="0.18" text-anchor="middle">6</text>
<text x="503.85" y="200.3" font-family="DejaVu Sans, sans-serif" font-size="7" fill="#333" stroke="#333" stroke-width="0.18" text-anchor="middle">8</text>
<text x="516.6" y="200.3" font-family="DejaVu Sans, sans-serif" font-size="7" fill="#333" stroke="#333" stroke-width="0.18" text-anchor="middle">10</text>
<text x="434.2" y="209.3" font-family="DejaVu Sans, sans-serif" font-size="6.7" fill="#333" stroke="#333" stroke-width="0.18" textLength="44.2" lengthAdjust="spacingAndGlyphs">Frequency (Hz)</text>
<text transform="translate(357.4,106.6) rotate(-90)" font-family="DejaVu Sans, sans-serif" font-size="6.8" fill="#333" stroke="#333" stroke-width="0.18" text-anchor="middle">H/V</text>
<text x="538.8" y="20.6" font-family="DejaVu Sans, sans-serif" font-size="6" fill="#333" stroke="#333" stroke-width="0.18" text-anchor="end">MDRA</text>
<text x="338.8" y="20" font-family="'Liberation Sans', Arial, sans-serif" font-size="13.5" fill="#222" stroke="#222" stroke-width="0.22">(b)</text>
<text x="185" y="233.6" font-family="'Liberation Sans', Arial, sans-serif" font-size="9.4" fill="#222" stroke="#222" stroke-width="0.22">Station: MDRA (05&#8722;Nov&#8722;2022 , N<tspan font-size="7.2" dy="3.2">win</tspan><tspan dy="-3.2"> = 81)</tspan></text>
<g fill="none" stroke="#a0a0a0" stroke-width="0.6">
<path d="M71.3,434.12 H474.5" stroke-dasharray="3,3"/>
<path d="M71.3,384.45 H474.5" stroke-dasharray="3,3"/>
<path d="M71.3,334.78 H474.5" stroke-dasharray="3,3"/>
<path d="M71.3,285.1 H474.5" stroke-dasharray="3,3"/>
<path d="M101.5,244.9 V483.8" stroke-dasharray="3,3"/>
<path d="M418.7,244.9 V483.8" stroke-dasharray="3,3"/>
</g>
<g fill="none" stroke="#c4c4c4" stroke-width="0.5" stroke-dasharray="0.6,2.4">
<path d="M86.99,244.9 V483.8"/>
<path d="M196.99,244.9 V483.8"/>
<path d="M252.84,244.9 V483.8"/>
<path d="M292.47,244.9 V483.8"/>
<path d="M323.21,244.9 V483.8"/>
<path d="M348.33,244.9 V483.8"/>
<path d="M369.57,244.9 V483.8"/>
<path d="M387.96,244.9 V483.8"/>
<path d="M404.19,244.9 V483.8"/>
</g>
<g fill="none" stroke="#a4a4fa" stroke-width="0.65">
<path d="M72.47,370.7V412.19M68.87,370.7H76.07M68.87,412.19H76.07M76.47,370.04V411.57M72.87,370.04H80.07M72.87,411.57H80.07M80.48,368.18V413.05M76.88,368.18H84.08M76.88,413.05H84.08M84.48,365.2V410.92M80.88,365.2H88.08M80.88,410.92H88.08M88.48,359.35V411.97M84.88,359.35H92.08M84.88,411.97H92.08M92.48,362.11V409.94M88.88,362.11H96.08M88.88,409.94H96.08M96.49,367.19V408.39M92.89,367.19H100.09M92.89,408.39H100.09M100.49,364.61V409.34M96.89,364.61H104.09M96.89,409.34H104.09M104.49,362.54V411.71M100.89,362.54H108.09M100.89,411.71H108.09M108.49,359.54V410.38M104.89,359.54H112.09M104.89,410.38H112.09M112.5,354.89V405.29M108.9,354.89H116.1M108.9,405.29H116.1M116.5,356.14V401.08M112.9,356.14H120.1M112.9,401.08H120.1M120.5,356.92V402.15M116.9,356.92H124.1M116.9,402.15H124.1M124.5,354.19V404.45M120.9,354.19H128.1M120.9,404.45H128.1M128.5,355.39V401.47M124.9,355.39H132.1M124.9,401.47H132.1M132.51,352.94V395.36M128.91,352.94H136.11M128.91,395.36H136.11M136.51,344.76V395.21M132.91,344.76H140.11M132.91,395.21H140.11M140.51,348.76V393.41M136.91,348.76H144.11M136.91,393.41H144.11M144.51,349.94V398.25M140.91,349.94H148.11M140.91,398.25H148.11M148.52,350.98V397.45M144.92,350.98H152.12M144.92,397.45H152.12M152.52,356.68V398.85M148.92,356.68H156.12M148.92,398.85H156.12M156.52,350.57V398.51M152.92,350.57H160.12M152.92,398.51H160.12M160.52,348.48V393.41M156.92,348.48H164.12M156.92,393.41H164.12M164.53,346.82V391.21M160.93,346.82H168.13M160.93,391.21H168.13M168.53,343.51V387.54M164.93,343.51H172.13M164.93,387.54H172.13M172.53,342.38V391M168.93,342.38H176.13M168.93,391H176.13M176.53,349.22V391.46M172.93,349.22H180.13M172.93,391.46H180.13M180.54,351.81V392.94M176.94,351.81H184.14M176.94,392.94H184.14M184.54,354.77V395.43M180.94,354.77H188.14M180.94,395.43H188.14M188.54,353.73V399.35M184.94,353.73H192.14M184.94,399.35H192.14M192.54,355.52V396.94M188.94,355.52H196.14M188.94,396.94H196.14M196.54,349.62V396.04M192.94,349.62H200.14M192.94,396.04H200.14M200.55,344.62V393.44M196.95,344.62H204.15M196.95,393.44H204.15M204.55,336.41V388.51M200.95,336.41H208.15M200.95,388.51H208.15M208.55,325.25V383.33M204.95,325.25H212.15M204.95,383.33H212.15M212.55,315.52V378.78M208.95,315.52H216.15M208.95,378.78H216.15M216.56,312.48V374.13M212.96,312.48H220.16M212.96,374.13H220.16M220.56,310.44V372.5M216.96,310.44H224.16M216.96,372.5H224.16M224.56,306.71V374.13M220.96,306.71H228.16M220.96,374.13H228.16M228.56,302.09V369.79M224.96,302.09H232.16M224.96,369.79H232.16M232.57,282.91V366.66M228.97,282.91H236.17M228.97,366.66H236.17M236.57,275.18V361.04M232.97,275.18H240.17M232.97,361.04H240.17M240.57,283.91V355.48M236.97,283.91H244.17M236.97,355.48H244.17M244.57,293.82V364.8M240.97,293.82H248.17M240.97,364.8H248.17M248.58,314.24V371.28M244.98,314.24H252.18M244.98,371.28H252.18M252.58,315.58V380.07M248.98,315.58H256.18M248.98,380.07H256.18M256.58,325.26V382.88M252.98,325.26H260.18M252.98,382.88H260.18M260.58,338.95V381.46M256.98,338.95H264.18M256.98,381.46H264.18M264.58,335.29V382.65M260.98,335.29H268.18M260.98,382.65H268.18M268.59,336V381.13M264.99,336H272.19M264.99,381.13H272.19M272.59,334.01V377.78M268.99,334.01H276.19M268.99,377.78H276.19M276.59,335.04V374.49M272.99,335.04H280.19M272.99,374.49H280.19M280.59,334.71V380.21M276.99,334.71H284.19M276.99,380.21H284.19M284.6,338.14V382.75M281,338.14H288.2M281,382.75H288.2M288.6,345.74V389.29M285,345.74H292.2M285,389.29H292.2M292.6,356.1V398.51M289,356.1H296.2M289,398.51H296.2M296.6,366.93V412.55M293,366.93H300.2M293,412.55H300.2M300.61,383.1V423.08M297.01,383.1H304.21M297.01,423.08H304.21M304.61,391.52V432.12M301.01,391.52H308.21M301.01,432.12H308.21M308.61,396.64V432.3M305.01,396.64H312.21M305.01,432.3H312.21M312.61,393.75V429.32M309.01,393.75H316.21M309.01,429.32H316.21M316.62,389.52V424.13M313.02,389.52H320.22M313.02,424.13H320.22M320.62,387.55V416.3M317.02,387.55H324.22M317.02,416.3H324.22M324.62,382.56V411.24M321.02,382.56H328.22M321.02,411.24H328.22M328.62,375.76V406.53M325.02,375.76H332.22M325.02,406.53H332.22M332.62,373.72V397.64M329.02,373.72H336.22M329.02,397.64H336.22M336.63,373.1V394.55M333.03,373.1H340.23M333.03,394.55H340.23M340.63,378.85V399.88M337.03,378.85H344.23M337.03,399.88H344.23M344.63,383.32V405.27M341.03,383.32H348.23M341.03,405.27H348.23M348.63,390.05V409.36M345.03,390.05H352.23M345.03,409.36H352.23M352.64,393.63V410.83M349.04,393.63H356.24M349.04,410.83H356.24M356.64,392.16V412.08M353.04,392.16H360.24M353.04,412.08H360.24M360.64,389.82V410.08M357.04,389.82H364.24M357.04,410.08H364.24M364.64,391.47V409.63M361.04,391.47H368.24M361.04,409.63H368.24M368.65,391.42V413.37M365.05,391.42H372.25M365.05,413.37H372.25M372.65,391.78V412.6M369.05,391.78H376.25M369.05,412.6H376.25M376.65,385.61V409.49M373.05,385.61H380.25M373.05,409.49H380.25M380.65,383.38V408.38M377.05,383.38H384.25M377.05,408.38H384.25M384.66,385.78V413.82M381.06,385.78H388.26M381.06,413.82H388.26M388.66,396.84V422.61M385.06,396.84H392.26M385.06,422.61H392.26M392.66,406.5V429.98M389.06,406.5H396.26M389.06,429.98H396.26M396.66,412.19V434.85M393.06,412.19H400.26M393.06,434.85H400.26M400.66,413.56V436.12M397.06,413.56H404.26M397.06,436.12H404.26M404.67,409.29V428.36M401.07,409.29H408.27M401.07,428.36H408.27M408.67,392.47V416.44M405.07,392.47H412.27M405.07,416.44H412.27M412.67,380.29V404.48M409.07,380.29H416.27M409.07,404.48H416.27M416.67,377.63V397.24M413.07,377.63H420.27M413.07,397.24H420.27M420.68,381.98V399.46M417.08,381.98H424.28M417.08,399.46H424.28M424.68,385.25V402.65M421.08,385.25H428.28M421.08,402.65H428.28M428.68,381.75V400.72M425.08,381.75H432.28M425.08,400.72H432.28M432.68,378.27V397.81M429.08,378.27H436.28M429.08,397.81H436.28M436.69,382.41V402.35M433.09,382.41H440.29M433.09,402.35H440.29M440.69,390.66V408.2M437.09,390.66H444.29M437.09,408.2H444.29M444.69,396.91V413.21M441.09,396.91H448.29M441.09,413.21H448.29M448.69,398.6V415.02M445.09,398.6H452.29M445.09,415.02H452.29M452.7,396.87V413.61M449.1,396.87H456.3M449.1,413.61H456.3M456.7,393.21V409.24M453.1,393.21H460.3M453.1,409.24H460.3M460.7,387.09V405.55M457.1,387.09H464.3M457.1,405.55H464.3M464.7,380.85V399.42M461.1,380.85H468.3M461.1,399.42H468.3M468.7,378.16V396.82M465.1,378.16H472.3M465.1,396.82H472.3M472.71,378.54V395.25M469.11,378.54H476.31M469.11,395.25H476.31"/>
</g>
<rect x="218.73" y="305.17" width="35.03" height="58.22" fill="#8a8ade" fill-opacity="0.3" stroke="#7a7a7a" stroke-width="0.8"/>
<path d="M73.4,393.7 L73.9,393.63 L74.4,393.55 L74.9,393.48 L75.4,393.4 L75.9,393.32 L76.4,393.24 L76.9,393.16 L77.4,393.08 L77.9,392.99 L78.4,392.91 L78.9,392.81 L79.4,392.72 L79.9,392.62 L80.4,392.52 L80.9,392.41 L81.4,392.3 L81.9,392.18 L82.4,392.06 L82.9,391.93 L83.4,391.79 L83.9,391.65 L84.4,391.5 L84.9,391.34 L85.4,391.18 L85.9,391.01 L86.4,390.83 L86.9,390.64 L87.4,390.44 L87.9,390.24 L88.4,390.03 L88.9,389.83 L89.4,389.64 L89.9,389.45 L90.4,389.28 L90.9,389.13 L91.4,389 L91.9,388.9 L92.4,388.82 L92.9,388.79 L93.4,388.79 L93.9,388.83 L94.4,388.92 L94.9,389.03 L95.4,389.18 L95.9,389.34 L96.4,389.52 L96.9,389.71 L97.4,389.89 L97.9,390.07 L98.4,390.23 L98.9,390.37 L99.4,390.49 L99.9,390.57 L100.4,390.61 L100.9,390.61 L101.4,390.56 L101.9,390.48 L102.4,390.35 L102.9,390.19 L103.4,390 L103.9,389.78 L104.4,389.53 L104.9,389.25 L105.4,388.94 L105.9,388.61 L106.4,388.26 L106.9,387.9 L107.4,387.51 L107.9,387.12 L108.4,386.71 L108.9,386.29 L109.4,385.86 L109.9,385.42 L110.4,384.99 L110.9,384.56 L111.4,384.13 L111.9,383.71 L112.4,383.3 L112.9,382.91 L113.4,382.54 L113.9,382.19 L114.4,381.87 L114.9,381.57 L115.4,381.31 L115.9,381.08 L116.4,380.9 L116.9,380.75 L117.4,380.65 L117.9,380.6 L118.4,380.61 L118.9,380.66 L119.4,380.74 L119.9,380.86 L120.4,381.01 L120.9,381.17 L121.4,381.34 L121.9,381.5 L122.4,381.66 L122.9,381.81 L123.4,381.93 L123.9,382.02 L124.4,382.07 L124.9,382.07 L125.4,382.02 L125.9,381.9 L126.4,381.73 L126.9,381.5 L127.4,381.22 L127.9,380.9 L128.4,380.53 L128.9,380.13 L129.4,379.71 L129.9,379.25 L130.4,378.78 L130.9,378.3 L131.4,377.8 L131.9,377.31 L132.4,376.81 L132.9,376.32 L133.4,375.84 L133.9,375.38 L134.4,374.94 L134.9,374.53 L135.4,374.16 L135.9,373.82 L136.4,373.52 L136.9,373.27 L137.4,373.07 L137.9,372.94 L138.4,372.86 L138.9,372.85 L139.4,372.9 L139.9,373 L140.4,373.15 L140.9,373.33 L141.4,373.56 L141.9,373.82 L142.4,374.1 L142.9,374.41 L143.4,374.73 L143.9,375.06 L144.4,375.4 L144.9,375.73 L145.4,376.07 L145.9,376.39 L146.4,376.71 L146.9,377.01 L147.4,377.29 L147.9,377.55 L148.4,377.8 L148.9,378.01 L149.4,378.2 L149.9,378.36 L150.4,378.48 L150.9,378.57 L151.4,378.62 L151.9,378.63 L152.4,378.59 L152.9,378.5 L153.4,378.36 L153.9,378.18 L154.4,377.95 L154.9,377.68 L155.4,377.38 L155.9,377.05 L156.4,376.69 L156.9,376.3 L157.4,375.89 L157.9,375.47 L158.4,375.04 L158.9,374.59 L159.4,374.14 L159.9,373.69 L160.4,373.24 L160.9,372.8 L161.4,372.36 L161.9,371.94 L162.4,371.52 L162.9,371.12 L163.4,370.74 L163.9,370.37 L164.4,370.03 L164.9,369.71 L165.4,369.41 L165.9,369.14 L166.4,368.9 L166.9,368.7 L167.4,368.53 L167.9,368.39 L168.4,368.29 L168.9,368.24 L169.4,368.22 L169.9,368.26 L170.4,368.34 L170.9,368.47 L171.4,368.64 L171.9,368.85 L172.4,369.1 L172.9,369.38 L173.4,369.7 L173.9,370.04 L174.4,370.4 L174.9,370.78 L175.4,371.18 L175.9,371.58 L176.4,372 L176.9,372.42 L177.4,372.84 L177.9,373.26 L178.4,373.68 L178.9,374.08 L179.4,374.47 L179.9,374.85 L180.4,375.21 L180.9,375.57 L181.4,375.9 L181.9,376.22 L182.4,376.53 L182.9,376.82 L183.4,377.09 L183.9,377.35 L184.4,377.58 L184.9,377.8 L185.4,378 L185.9,378.19 L186.4,378.35 L186.9,378.49 L187.4,378.61 L187.9,378.72 L188.4,378.8 L188.9,378.85 L189.4,378.89 L189.9,378.9 L190.4,378.88 L190.9,378.84 L191.4,378.78 L191.9,378.69 L192.4,378.57 L192.9,378.42 L193.4,378.24 L193.9,378.04 L194.4,377.8 L194.9,377.53 L195.4,377.23 L195.9,376.9 L196.4,376.53 L196.9,376.13 L197.4,375.69 L197.9,375.22 L198.4,374.71 L198.9,374.17 L199.4,373.59 L199.9,372.99 L200.4,372.35 L200.9,371.68 L201.4,370.98 L201.9,370.25 L202.4,369.5 L202.9,368.71 L203.4,367.9 L203.9,367.07 L204.4,366.21 L204.9,365.33 L205.4,364.43 L205.9,363.51 L206.4,362.56 L206.9,361.6 L207.4,360.62 L207.9,359.63 L208.4,358.63 L208.9,357.63 L209.4,356.64 L209.9,355.67 L210.4,354.71 L210.9,353.79 L211.4,352.89 L211.9,352.04 L212.4,351.23 L212.9,350.48 L213.4,349.78 L213.9,349.15 L214.4,348.6 L214.9,348.12 L215.4,347.72 L215.9,347.39 L216.4,347.12 L216.9,346.9 L217.4,346.72 L217.9,346.57 L218.4,346.45 L218.9,346.33 L219.4,346.22 L219.9,346.11 L220.4,345.99 L220.9,345.85 L221.4,345.68 L221.9,345.49 L222.4,345.25 L222.9,344.97 L223.4,344.64 L223.9,344.26 L224.4,343.84 L224.9,343.37 L225.4,342.85 L225.9,342.29 L226.4,341.68 L226.9,341.02 L227.4,340.31 L227.9,339.56 L228.4,338.77 L228.9,337.93 L229.4,337.04 L229.9,336.12 L230.4,335.17 L230.9,334.19 L231.4,333.2 L231.9,332.19 L232.4,331.18 L232.9,330.17 L233.4,329.17 L233.9,328.18 L234.4,327.22 L234.9,326.29 L235.4,325.42 L235.9,324.63 L236.4,323.96 L236.9,323.41 L237.4,323.02 L237.9,322.82 L238.4,322.82 L238.9,323.03 L239.4,323.45 L239.9,324.05 L240.4,324.8 L240.9,325.69 L241.4,326.7 L241.9,327.8 L242.4,328.98 L242.9,330.21 L243.4,331.49 L243.9,332.81 L244.4,334.15 L244.9,335.52 L245.4,336.88 L245.9,338.25 L246.4,339.61 L246.9,340.94 L247.4,342.24 L247.9,343.49 L248.4,344.7 L248.9,345.85 L249.4,346.93 L249.9,347.96 L250.4,348.94 L250.9,349.87 L251.4,350.75 L251.9,351.59 L252.4,352.39 L252.9,353.16 L253.4,353.89 L253.9,354.59 L254.4,355.27 L254.9,355.92 L255.4,356.56 L255.9,357.18 L256.4,357.78 L256.9,358.37 L257.4,358.95 L257.9,359.5 L258.4,360.03 L258.9,360.53 L259.4,361 L259.9,361.44 L260.4,361.83 L260.9,362.18 L261.4,362.48 L261.9,362.72 L262.4,362.91 L262.9,363.04 L263.4,363.11 L263.9,363.11 L264.4,363.04 L264.9,362.91 L265.4,362.74 L265.9,362.51 L266.4,362.23 L266.9,361.91 L267.4,361.55 L267.9,361.16 L268.4,360.74 L268.9,360.29 L269.4,359.82 L269.9,359.34 L270.4,358.86 L270.9,358.38 L271.4,357.91 L271.9,357.48 L272.4,357.07 L272.9,356.71 L273.4,356.41 L273.9,356.16 L274.4,355.99 L274.9,355.91 L275.4,355.91 L275.9,356 L276.4,356.17 L276.9,356.4 L277.4,356.7 L277.9,357.05 L278.4,357.44 L278.9,357.86 L279.4,358.31 L279.9,358.77 L280.4,359.24 L280.9,359.71 L281.4,360.16 L281.9,360.61 L282.4,361.06 L282.9,361.51 L283.4,361.98 L283.9,362.46 L284.4,362.96 L284.9,363.5 L285.4,364.07 L285.9,364.68 L286.4,365.34 L286.9,366.06 L287.4,366.84 L287.9,367.68 L288.4,368.6 L288.9,369.58 L289.4,370.62 L289.9,371.73 L290.4,372.91 L290.9,374.15 L291.4,375.45 L291.9,376.8 L292.4,378.22 L292.9,379.7 L293.4,381.23 L293.9,382.81 L294.4,384.44 L294.9,386.09 L295.4,387.77 L295.9,389.47 L296.4,391.18 L296.9,392.89 L297.4,394.59 L297.9,396.28 L298.4,397.94 L298.9,399.57 L299.4,401.16 L299.9,402.7 L300.4,404.18 L300.9,405.61 L301.4,406.96 L301.9,408.25 L302.4,409.47 L302.9,410.61 L303.4,411.67 L303.9,412.64 L304.4,413.53 L304.9,414.33 L305.4,415.03 L305.9,415.64 L306.4,416.14 L306.9,416.53 L307.4,416.82 L307.9,416.99 L308.4,417.05 L308.9,417.01 L309.4,416.87 L309.9,416.65 L310.4,416.35 L310.9,415.97 L311.4,415.53 L311.9,415.03 L312.4,414.49 L312.9,413.9 L313.4,413.28 L313.9,412.63 L314.4,411.97 L314.9,411.28 L315.4,410.59 L315.9,409.88 L316.4,409.16 L316.9,408.44 L317.4,407.7 L317.9,406.97 L318.4,406.23 L318.9,405.49 L319.4,404.75 L319.9,404.02 L320.4,403.28 L320.9,402.56 L321.4,401.84 L321.9,401.14 L322.4,400.45 L322.9,399.76 L323.4,399.09 L323.9,398.42 L324.4,397.76 L324.9,397.1 L325.4,396.44 L325.9,395.78 L326.4,395.11 L326.9,394.44 L327.4,393.76 L327.9,393.07 L328.4,392.36 L328.9,391.65 L329.4,390.91 L329.9,390.17 L330.4,389.43 L330.9,388.7 L331.4,387.99 L331.9,387.32 L332.4,386.7 L332.9,386.13 L333.4,385.63 L333.9,385.21 L334.4,384.88 L334.9,384.64 L335.4,384.52 L335.9,384.51 L336.4,384.63 L336.9,384.87 L337.4,385.2 L337.9,385.64 L338.4,386.15 L338.9,386.74 L339.4,387.39 L339.9,388.09 L340.4,388.83 L340.9,389.61 L341.4,390.41 L341.9,391.22 L342.4,392.03 L342.9,392.84 L343.4,393.63 L343.9,394.4 L344.4,395.14 L344.9,395.86 L345.4,396.55 L345.9,397.22 L346.4,397.86 L346.9,398.46 L347.4,399.04 L347.9,399.58 L348.4,400.08 L348.9,400.55 L349.4,400.99 L349.9,401.38 L350.4,401.73 L350.9,402.04 L351.4,402.31 L351.9,402.53 L352.4,402.7 L352.9,402.83 L353.4,402.91 L353.9,402.95 L354.4,402.95 L354.9,402.92 L355.4,402.85 L355.9,402.74 L356.4,402.61 L356.9,402.45 L357.4,402.26 L357.9,402.05 L358.4,401.81 L358.9,401.56 L359.4,401.31 L359.9,401.06 L360.4,400.82 L360.9,400.6 L361.4,400.41 L361.9,400.26 L362.4,400.16 L362.9,400.11 L363.4,400.13 L363.9,400.22 L364.4,400.39 L364.9,400.63 L365.4,400.91 L365.9,401.23 L366.4,401.58 L366.9,401.94 L367.4,402.29 L367.9,402.63 L368.4,402.94 L368.9,403.21 L369.4,403.43 L369.9,403.57 L370.4,403.63 L370.9,403.6 L371.4,403.46 L371.9,403.23 L372.4,402.91 L372.9,402.52 L373.4,402.08 L373.9,401.58 L374.4,401.06 L374.9,400.51 L375.4,399.96 L375.9,399.41 L376.4,398.88 L376.9,398.37 L377.4,397.91 L377.9,397.51 L378.4,397.17 L378.9,396.92 L379.4,396.75 L379.9,396.7 L380.4,396.75 L380.9,396.92 L381.4,397.2 L381.9,397.57 L382.4,398.05 L382.9,398.62 L383.4,399.28 L383.9,400.02 L384.4,400.85 L384.9,401.76 L385.4,402.73 L385.9,403.78 L386.4,404.9 L386.9,406.06 L387.4,407.28 L387.9,408.52 L388.4,409.79 L388.9,411.06 L389.4,412.34 L389.9,413.6 L390.4,414.84 L390.9,416.04 L391.4,417.19 L391.9,418.29 L392.4,419.32 L392.9,420.27 L393.4,421.16 L393.9,421.97 L394.4,422.71 L394.9,423.37 L395.4,423.97 L395.9,424.49 L396.4,424.94 L396.9,425.32 L397.4,425.62 L397.9,425.85 L398.4,426.01 L398.9,426.09 L399.4,426.1 L399.9,426.03 L400.4,425.88 L400.9,425.62 L401.4,425.27 L401.9,424.81 L402.4,424.22 L402.9,423.52 L403.4,422.68 L403.9,421.69 L404.4,420.56 L404.9,419.28 L405.4,417.83 L405.9,416.24 L406.4,414.52 L406.9,412.72 L407.4,410.85 L407.9,408.93 L408.4,407 L408.9,405.07 L409.4,403.18 L409.9,401.36 L410.4,399.61 L410.9,397.96 L411.4,396.42 L411.9,394.98 L412.4,393.66 L412.9,392.45 L413.4,391.38 L413.9,390.43 L414.4,389.62 L414.9,388.96 L415.4,388.45 L415.9,388.09 L416.4,387.9 L416.9,387.87 L417.4,387.99 L417.9,388.24 L418.4,388.6 L418.9,389.06 L419.4,389.58 L419.9,390.16 L420.4,390.78 L420.9,391.41 L421.4,392.03 L421.9,392.64 L422.4,393.2 L422.9,393.7 L423.4,394.12 L423.9,394.44 L424.4,394.64 L424.9,394.7 L425.4,394.62 L425.9,394.41 L426.4,394.08 L426.9,393.67 L427.4,393.19 L427.9,392.66 L428.4,392.09 L428.9,391.51 L429.4,390.95 L429.9,390.4 L430.4,389.91 L430.9,389.48 L431.4,389.14 L431.9,388.91 L432.4,388.8 L432.9,388.84 L433.4,389.02 L433.9,389.34 L434.4,389.77 L434.9,390.32 L435.4,390.95 L435.9,391.67 L436.4,392.46 L436.9,393.3 L437.4,394.19 L437.9,395.11 L438.4,396.04 L438.9,396.98 L439.4,397.91 L439.9,398.82 L440.4,399.7 L440.9,400.54 L441.4,401.34 L441.9,402.1 L442.4,402.81 L442.9,403.48 L443.4,404.11 L443.9,404.69 L444.4,405.21 L444.9,405.69 L445.4,406.11 L445.9,406.48 L446.4,406.8 L446.9,407.05 L447.4,407.25 L447.9,407.38 L448.4,407.45 L448.9,407.46 L449.4,407.41 L449.9,407.31 L450.4,407.15 L450.9,406.94 L451.4,406.68 L451.9,406.38 L452.4,406.04 L452.9,405.65 L453.4,405.22 L453.9,404.76 L454.4,404.27 L454.9,403.75 L455.4,403.19 L455.9,402.62 L456.4,402.02 L456.9,401.4 L457.4,400.76 L457.9,400.11 L458.4,399.45 L458.9,398.78 L459.4,398.1 L459.9,397.42 L460.4,396.73 L460.9,396.05 L461.4,395.37 L461.9,394.7 L462.4,394.03 L462.9,393.38 L463.4,392.74 L463.9,392.12 L464.4,391.52 L464.9,390.94 L465.4,390.39 L465.9,389.86 L466.4,389.37 L466.9,388.9 L467.4,388.47 L467.9,388.08 L468.4,387.74 L468.9,387.43 L469.4,387.17 L469.9,386.96 L470.4,386.8 L470.9,386.69 L471.4,386.65 L471.9,386.66 L472.4,386.73 L472.9,386.86" fill="none" stroke="#0a14e6" stroke-width="1.5" stroke-linejoin="round"/>
<circle cx="72.47" cy="393.84" r="2.3" fill="#dd0000" stroke="#900000" stroke-width="0.4"/>
<text transform="translate(75.07,392.24) rotate(-45)" font-family="'Liberation Sans', Arial, sans-serif" font-size="7.6" fill="#f42020" stroke="#f42020" stroke-width="0.12">0.81Hz</text>
<circle cx="92.98" cy="388.78" r="2.3" fill="#dd0000" stroke="#900000" stroke-width="0.4"/>
<text transform="translate(95.58,387.18) rotate(-45)" font-family="'Liberation Sans', Arial, sans-serif" font-size="7.6" fill="#f42020" stroke="#f42020" stroke-width="0.12">0.94Hz</text>
<circle cx="117.11" cy="380.7" r="2.3" fill="#dd0000" stroke="#900000" stroke-width="0.4"/>
<text transform="translate(119.71,379.1) rotate(-45)" font-family="'Liberation Sans', Arial, sans-serif" font-size="7.6" fill="#f42020" stroke="#f42020" stroke-width="0.12">1.12Hz</text>
<circle cx="137.64" cy="373" r="2.3" fill="#dd0000" stroke="#900000" stroke-width="0.4"/>
<text transform="translate(140.24,371.4) rotate(-45)" font-family="'Liberation Sans', Arial, sans-serif" font-size="7.6" fill="#f42020" stroke="#f42020" stroke-width="0.12">1.30Hz</text>
<circle cx="170.49" cy="368.36" r="2.3" fill="#dd0000" stroke="#900000" stroke-width="0.4"/>
<text transform="translate(173.09,366.76) rotate(-45)" font-family="'Liberation Sans', Arial, sans-serif" font-size="7.6" fill="#f42020" stroke="#f42020" stroke-width="0.12">1.65Hz</text>
<circle cx="274.08" cy="356.09" r="2.3" fill="#dd0000" stroke="#900000" stroke-width="0.4"/>
<text transform="translate(276.68,354.49) rotate(-45)" font-family="'Liberation Sans', Arial, sans-serif" font-size="7.6" fill="#f42020" stroke="#f42020" stroke-width="0.12">3.5Hz</text>
<circle cx="336.34" cy="384.61" r="2.3" fill="#dd0000" stroke="#900000" stroke-width="0.4"/>
<text transform="translate(338.94,383.01) rotate(-45)" font-family="'Liberation Sans', Arial, sans-serif" font-size="7.6" fill="#f42020" stroke="#f42020" stroke-width="0.12">5.5Hz</text>
<circle cx="363.53" cy="400.15" r="2.3" fill="#dd0000" stroke="#900000" stroke-width="0.4"/>
<text transform="translate(366.13,398.55) rotate(-45)" font-family="'Liberation Sans', Arial, sans-serif" font-size="7.6" fill="#f42020" stroke="#f42020" stroke-width="0.12">6.7Hz</text>
<circle cx="380.89" cy="396.92" r="2.3" fill="#dd0000" stroke="#900000" stroke-width="0.4"/>
<text transform="translate(383.49,395.32) rotate(-45)" font-family="'Liberation Sans', Arial, sans-serif" font-size="7.6" fill="#f42020" stroke="#f42020" stroke-width="0.12">7.6Hz</text>
<circle cx="415.92" cy="388.08" r="2.3" fill="#dd0000" stroke="#900000" stroke-width="0.4"/>
<text transform="translate(418.52,386.48) rotate(-45)" font-family="'Liberation Sans', Arial, sans-serif" font-size="7.6" fill="#f42020" stroke="#f42020" stroke-width="0.12">9.8Hz</text>
<circle cx="433.08" cy="388.89" r="2.3" fill="#dd0000" stroke="#900000" stroke-width="0.4"/>
<text transform="translate(435.68,387.29) rotate(-45)" font-family="'Liberation Sans', Arial, sans-serif" font-size="7.6" fill="#f42020" stroke="#f42020" stroke-width="0.12">11.1Hz</text>
<circle cx="472.71" cy="386.8" r="2.3" fill="#dd0000" stroke="#900000" stroke-width="0.4"/>
<text transform="translate(475.31,385.2) rotate(-45)" font-family="'Liberation Sans', Arial, sans-serif" font-size="7.6" fill="#f42020" stroke="#f42020" stroke-width="0.12">14.8Hz</text>
<circle cx="239.64" cy="323.55" r="2.7" fill="#fff" stroke="#0a14e6" stroke-width="1.1"/>
<path d="M236.27,321.33 L239.67,325.83 L236.27,330.33 L232.87,325.83 Z" fill="#f5e61e" stroke="#0a14e6" stroke-width="1.35"/>
<path d="M71.3,244.9 V483.8 H474.5" fill="none" stroke="#a8a8a8" stroke-width="1.4"/>
<g stroke="#8a8a8a" stroke-width="0.6">
<path d="M86.99,483.8 V481.6"/>
<path d="M101.5,483.8 V481.6"/>
<path d="M196.99,483.8 V481.6"/>
<path d="M252.84,483.8 V481.6"/>
<path d="M292.47,483.8 V481.6"/>
<path d="M323.21,483.8 V481.6"/>
<path d="M348.33,483.8 V481.6"/>
<path d="M369.57,483.8 V481.6"/>
<path d="M387.96,483.8 V481.6"/>
<path d="M404.19,483.8 V481.6"/>
<path d="M418.7,483.8 V481.6"/>
<path d="M71.3,483.8 H73.5"/>
<path d="M71.3,434.12 H73.5"/>
<path d="M71.3,384.45 H73.5"/>
<path d="M71.3,334.78 H73.5"/>
<path d="M71.3,285.1 H73.5"/>
</g>
<text x="69.6" y="487.2" font-family="'Liberation Sans', Arial, sans-serif" font-size="8.4" fill="#222" stroke="#222" stroke-width="0.32" text-anchor="end">0</text>
<text x="69.6" y="437.52" font-family="'Liberation Sans', Arial, sans-serif" font-size="8.4" fill="#222" stroke="#222" stroke-width="0.32" text-anchor="end">0.5</text>
<text x="69.6" y="387.85" font-family="'Liberation Sans', Arial, sans-serif" font-size="8.4" fill="#222" stroke="#222" stroke-width="0.32" text-anchor="end">1</text>
<text x="69.6" y="338.18" font-family="'Liberation Sans', Arial, sans-serif" font-size="8.4" fill="#222" stroke="#222" stroke-width="0.32" text-anchor="end">1.5</text>
<text x="69.6" y="288.5" font-family="'Liberation Sans', Arial, sans-serif" font-size="8.4" fill="#222" stroke="#222" stroke-width="0.32" text-anchor="end">2</text>
<text x="102" y="496.2" font-family="'Liberation Sans', Arial, sans-serif" font-size="8.4" fill="#222" stroke="#222" stroke-width="0.22" text-anchor="middle">10<tspan font-size="5.4" dy="-5.4">0</tspan></text>
<text x="419.2" y="496.2" font-family="'Liberation Sans', Arial, sans-serif" font-size="8.4" fill="#222" stroke="#222" stroke-width="0.22" text-anchor="middle">10<tspan font-size="5.4" dy="-5.4">1</tspan></text>
<text x="273" y="505.8" font-family="'Liberation Sans', Arial, sans-serif" font-size="9.2" fill="#222" stroke="#222" stroke-width="0.3" text-anchor="middle">Frequency (Hz)</text>
<text transform="translate(53.7,360.6) rotate(-90)" font-family="'Liberation Sans', Arial, sans-serif" font-size="8.1" fill="#222" stroke="#222" stroke-width="0.32" text-anchor="middle">A0 amplification</text>
<text x="73.6" y="257.2" font-family="'Liberation Sans', Arial, sans-serif" font-size="12.5" fill="#222" stroke="#222" stroke-width="0.22">(c)</text>
<rect x="316.3" y="246.6" width="158" height="28.3" fill="#fff" stroke="#8a8a8a" stroke-width="0.7"/>
<path d="M326.2,251.0 L329.4,255.3 L326.2,259.6 L323.0,255.3 Z" fill="#f5e61e" stroke="#0a14e6" stroke-width="1.4"/>
<circle cx="326.5" cy="268.4" r="2.7" fill="none" stroke="#0a14e6" stroke-width="1.2"/>
<text x="336" y="256.8" font-family="'Liberation Sans', Arial, sans-serif" font-size="8.35" fill="#222" stroke="#222" stroke-width="0.22">Average (f<tspan font-size="6.2" dy="3.6">p,avg</tspan><tspan dy="-3.6">=2.66Hz, A</tspan><tspan font-size="6.2" dy="3.6">p,avg</tspan><tspan dy="-3.6">=1.59)</tspan></text>
<text x="336" y="269.8" font-family="'Liberation Sans', Arial, sans-serif" font-size="8.35" fill="#222" stroke="#222" stroke-width="0.22">Peak (f<tspan font-size="6.2" dy="3.6">p</tspan><tspan dy="-3.6">=2.71Hz, A</tspan><tspan font-size="6.2" dy="3.6">p</tspan><tspan dy="-3.6">=1.61)</tspan></text>
</svg>
</body></html>
